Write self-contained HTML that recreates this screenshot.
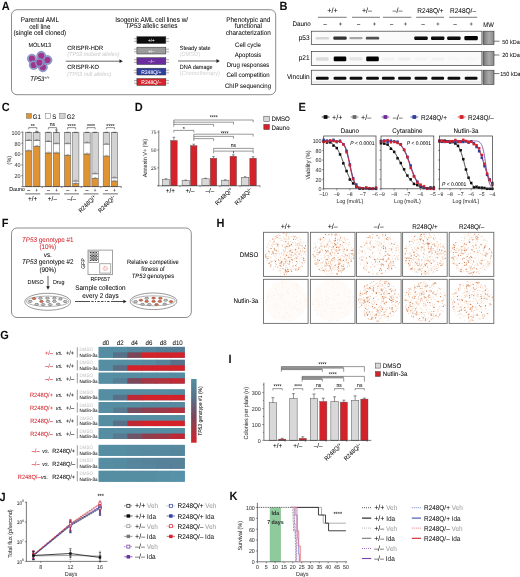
<!DOCTYPE html>
<html><head><meta charset="utf-8"><title>Figure</title>
<style>html,body{margin:0;padding:0;background:#fff;} svg{display:block;}</style>
</head><body>
<svg width="520" height="577" viewBox="0 0 520 577" font-family="Liberation Sans, Arial, Helvetica, sans-serif" text-rendering="geometricPrecision">
<defs>
<filter id="bl" x="-50%" y="-100%" width="200%" height="300%"><feGaussianBlur stdDeviation="0.7 0.5"/></filter>
<filter id="soft" x="0" y="0" width="100%" height="100%" filterUnits="userSpaceOnUse"><feGaussianBlur stdDeviation="0.3"/></filter>
<filter id="bl2" x="-50%" y="-50%" width="200%" height="200%"><feGaussianBlur stdDeviation="0.35"/></filter>
<linearGradient id="cbar" x1="0" y1="0" x2="0" y2="1">
<stop offset="0" stop-color="#558da3"/><stop offset="0.3" stop-color="#597088"/><stop offset="0.6" stop-color="#7b4658"/><stop offset="1" stop-color="#d3222b"/>
</linearGradient>
<linearGradient id="mw" x1="0" y1="0" x2="1" y2="0">
<stop offset="0" stop-color="#6f6f6f"/><stop offset="0.25" stop-color="#8e8e8e"/><stop offset="0.55" stop-color="#ababab"/><stop offset="1" stop-color="#8a8a8a"/>
</linearGradient>
</defs>
<rect width="520" height="577" fill="#fff"/>
<g filter="url(#soft)">
<text font-size="10.8" fill="#111" font-weight="bold" stroke="#111" stroke-width="0.03" transform="translate(1.80 9.60) scale(1.02 1.1)" >A</text>
<rect x="11.50" y="9.70" width="264.20" height="85.00" fill="none" stroke="#6f6f6f" stroke-width="0.8" rx="5.5" />
<text font-size="6.25" text-anchor="middle" stroke="#222" stroke-width="0.03" transform="translate(39.80 22.00) scale(1.02 1.1)" >Parental AML</text>
<text font-size="6.25" text-anchor="middle" stroke="#222" stroke-width="0.03" transform="translate(39.80 28.50) scale(1.02 1.1)" >cell line</text>
<text font-size="6.25" text-anchor="middle" stroke="#222" stroke-width="0.03" transform="translate(39.80 35.10) scale(1.02 1.1)" >(single cell cloned)</text>
<text font-size="5.4" text-anchor="middle" stroke="#222" stroke-width="0.03" transform="translate(39.80 47.20) scale(1.02 1.1)" >MOLM13</text>
<circle cx="41.20" cy="55.80" r="4.50" fill="#93a5da" stroke="#5a6796" stroke-width="0.5" />
<circle cx="41.20" cy="55.80" r="3.10" fill="#a2358a" />
<circle cx="31.90" cy="58.70" r="4.50" fill="#93a5da" stroke="#5a6796" stroke-width="0.5" />
<circle cx="31.90" cy="58.70" r="3.10" fill="#a2358a" />
<circle cx="47.50" cy="60.10" r="4.50" fill="#93a5da" stroke="#5a6796" stroke-width="0.5" />
<circle cx="47.50" cy="60.10" r="3.10" fill="#a2358a" />
<circle cx="33.70" cy="65.00" r="4.50" fill="#93a5da" stroke="#5a6796" stroke-width="0.5" />
<circle cx="33.70" cy="65.00" r="3.10" fill="#a2358a" />
<circle cx="42.90" cy="67.30" r="4.50" fill="#93a5da" stroke="#5a6796" stroke-width="0.5" />
<circle cx="42.90" cy="67.30" r="3.10" fill="#a2358a" />
<circle cx="39.40" cy="62.70" r="4.50" fill="#93a5da" stroke="#5a6796" stroke-width="0.5" />
<circle cx="39.40" cy="62.70" r="3.10" fill="#a2358a" />
<text font-size="5.8" text-anchor="middle" stroke="#222" stroke-width="0.03" transform="translate(40.00 81.30) scale(1.02 1.1)" ><tspan font-style="italic">TP53</tspan><tspan font-size="3.6" dy="-2.3">+/+</tspan></text>
<text font-size="5.6" stroke="#222" stroke-width="0.03" transform="translate(67.20 49.50) scale(1.02 1.1)" >CRISPR-HDR</text>
<text font-size="5.4" fill="#cdcdcd" font-style="italic" stroke="#cdcdcd" stroke-width="0.03" transform="translate(67.20 56.10) scale(1.02 1.1)" >(TP53 mutant alleles)</text>
<text font-size="5.6" stroke="#222" stroke-width="0.03" transform="translate(67.20 69.30) scale(1.02 1.1)" >CRISPR-KO</text>
<text font-size="5.4" fill="#cdcdcd" font-style="italic" stroke="#cdcdcd" stroke-width="0.03" transform="translate(67.20 75.90) scale(1.02 1.1)" >(TP53 null alleles)</text>
<line x1="65.80" y1="61.20" x2="120.50" y2="61.20" stroke="#6a6a6a" stroke-width="1.0" />
<path d="M119.5,59.3 L122.8,61.2 L119.5,63.1 Z" stroke="#222" stroke-width="0" fill="#222" />
<text font-size="6.3" text-anchor="middle" stroke="#222" stroke-width="0.03" transform="translate(151.60 22.00) scale(1.02 1.1)" >Isogenic AML cell lines w/</text>
<text font-size="6.3" text-anchor="middle" stroke="#222" stroke-width="0.03" transform="translate(151.50 28.30) scale(1.02 1.1)" ><tspan font-style="italic">TP53</tspan> allelic series</text>
<line x1="134.00" y1="38.70" x2="137.00" y2="38.70" stroke="#555" stroke-width="0.5" />
<line x1="165.80" y1="38.70" x2="169.00" y2="38.70" stroke="#555" stroke-width="0.5" />
<line x1="134.00" y1="41.30" x2="137.00" y2="41.30" stroke="#555" stroke-width="0.5" />
<line x1="165.80" y1="41.30" x2="169.00" y2="41.30" stroke="#555" stroke-width="0.5" />
<rect x="136.90" y="36.70" width="28.90" height="6.80" fill="#111111" stroke="#333" stroke-width="0.5" />
<text font-size="4.2" text-anchor="middle" fill="#fff" stroke="#fff" stroke-width="0.03" transform="translate(151.30 42.10) scale(1.02 1.1)" >+/+</text>
<line x1="134.00" y1="49.20" x2="137.00" y2="49.20" stroke="#555" stroke-width="0.5" />
<line x1="165.80" y1="49.20" x2="169.00" y2="49.20" stroke="#555" stroke-width="0.5" />
<line x1="134.00" y1="51.80" x2="137.00" y2="51.80" stroke="#555" stroke-width="0.5" />
<line x1="165.80" y1="51.80" x2="169.00" y2="51.80" stroke="#555" stroke-width="0.5" />
<rect x="136.90" y="47.20" width="28.90" height="6.80" fill="#9b9b9b" stroke="#333" stroke-width="0.5" />
<text font-size="4.2" text-anchor="middle" fill="#fff" stroke="#fff" stroke-width="0.03" transform="translate(151.30 52.60) scale(1.02 1.1)" >+/–</text>
<line x1="134.00" y1="59.70" x2="137.00" y2="59.70" stroke="#555" stroke-width="0.5" />
<line x1="165.80" y1="59.70" x2="169.00" y2="59.70" stroke="#555" stroke-width="0.5" />
<line x1="134.00" y1="62.30" x2="137.00" y2="62.30" stroke="#555" stroke-width="0.5" />
<line x1="165.80" y1="62.30" x2="169.00" y2="62.30" stroke="#555" stroke-width="0.5" />
<rect x="136.90" y="57.70" width="28.90" height="6.80" fill="#6a2d9c" stroke="#333" stroke-width="0.5" />
<text font-size="4.2" text-anchor="middle" fill="#fff" stroke="#fff" stroke-width="0.03" transform="translate(151.30 63.10) scale(1.02 1.1)" >–/–</text>
<line x1="134.00" y1="70.20" x2="137.00" y2="70.20" stroke="#555" stroke-width="0.5" />
<line x1="165.80" y1="70.20" x2="169.00" y2="70.20" stroke="#555" stroke-width="0.5" />
<line x1="134.00" y1="72.80" x2="137.00" y2="72.80" stroke="#555" stroke-width="0.5" />
<line x1="165.80" y1="72.80" x2="169.00" y2="72.80" stroke="#555" stroke-width="0.5" />
<rect x="136.90" y="68.20" width="28.90" height="6.80" fill="#2e3f9e" stroke="#333" stroke-width="0.5" />
<text font-size="4.9" text-anchor="middle" fill="#fff" stroke="#fff" stroke-width="0.03" transform="translate(151.30 73.60) scale(1.02 1.1)" >R248Q/+</text>
<line x1="134.00" y1="80.60" x2="137.00" y2="80.60" stroke="#555" stroke-width="0.5" />
<line x1="165.80" y1="80.60" x2="169.00" y2="80.60" stroke="#555" stroke-width="0.5" />
<line x1="134.00" y1="83.20" x2="137.00" y2="83.20" stroke="#555" stroke-width="0.5" />
<line x1="165.80" y1="83.20" x2="169.00" y2="83.20" stroke="#555" stroke-width="0.5" />
<rect x="136.90" y="78.60" width="28.90" height="6.80" fill="#d6212b" stroke="#333" stroke-width="0.5" />
<text font-size="4.9" text-anchor="middle" fill="#fff" stroke="#fff" stroke-width="0.03" transform="translate(151.30 84.00) scale(1.02 1.1)" >R248Q/–</text>
<line x1="178.00" y1="61.00" x2="217.50" y2="61.00" stroke="#6a6a6a" stroke-width="1.0" />
<path d="M216.5,59.1 L219.8,61.0 L216.5,62.9 Z" stroke="#222" stroke-width="0" fill="#222" />
<text font-size="5.45" stroke="#222" stroke-width="0.03" transform="translate(179.70 49.90) scale(1.02 1.1)" >Steady state</text>
<text font-size="5.45" fill="#d4d4d4" stroke="#d4d4d4" stroke-width="0.03" transform="translate(179.70 55.70) scale(1.02 1.1)" >(DMSO)</text>
<text font-size="5.45" stroke="#222" stroke-width="0.03" transform="translate(179.70 68.70) scale(1.02 1.1)" >DNA damage</text>
<text font-size="5.45" fill="#d4d4d4" stroke="#d4d4d4" stroke-width="0.03" transform="translate(179.70 75.00) scale(1.02 1.1)" >(Chemotherapy)</text>
<text font-size="6.25" text-anchor="middle" stroke="#222" stroke-width="0.03" transform="translate(248.30 21.80) scale(1.02 1.1)" >Phenotypic and</text>
<text font-size="6.25" text-anchor="middle" stroke="#222" stroke-width="0.03" transform="translate(248.30 28.00) scale(1.02 1.1)" >functional</text>
<text font-size="6.25" text-anchor="middle" stroke="#222" stroke-width="0.03" transform="translate(248.30 34.70) scale(1.02 1.1)" >characterization</text>
<text font-size="5.95" text-anchor="middle" stroke="#222" stroke-width="0.03" transform="translate(248.00 46.80) scale(1.02 1.1)" >Cell cycle</text>
<text font-size="5.95" text-anchor="middle" stroke="#222" stroke-width="0.03" transform="translate(248.00 56.70) scale(1.02 1.1)" >Apoptosis</text>
<text font-size="5.95" text-anchor="middle" stroke="#222" stroke-width="0.03" transform="translate(248.00 66.90) scale(1.02 1.1)" >Drug responses</text>
<text font-size="5.95" text-anchor="middle" stroke="#222" stroke-width="0.03" transform="translate(248.00 77.30) scale(1.02 1.1)" >Cell competition</text>
<text font-size="5.95" text-anchor="middle" stroke="#222" stroke-width="0.03" transform="translate(248.00 87.70) scale(1.02 1.1)" >ChIP sequencing</text>
<text font-size="10.8" fill="#111" font-weight="bold" stroke="#111" stroke-width="0.03" transform="translate(279.40 9.60) scale(1.02 1.1)" >B</text>
<text font-size="7.0" text-anchor="middle" stroke="#222" stroke-width="0.03" transform="translate(332.50 12.70) scale(1.02 1.1)" >+/+</text>
<line x1="318.00" y1="17.30" x2="346.70" y2="17.30" stroke="#222" stroke-width="0.6" />
<text font-size="7.0" text-anchor="middle" stroke="#222" stroke-width="0.03" transform="translate(367.00 12.70) scale(1.02 1.1)" >+/–</text>
<line x1="352.00" y1="17.30" x2="380.00" y2="17.30" stroke="#222" stroke-width="0.6" />
<text font-size="7.0" text-anchor="middle" stroke="#222" stroke-width="0.03" transform="translate(397.50 12.70) scale(1.02 1.1)" >–/–</text>
<line x1="383.00" y1="17.30" x2="411.30" y2="17.30" stroke="#222" stroke-width="0.6" />
<text font-size="6.4" text-anchor="middle" stroke="#222" stroke-width="0.03" transform="translate(430.50 12.70) scale(1.02 1.1)" >R248Q/+</text>
<line x1="416.20" y1="17.30" x2="444.00" y2="17.30" stroke="#222" stroke-width="0.6" />
<text font-size="6.4" text-anchor="middle" stroke="#222" stroke-width="0.03" transform="translate(463.00 12.70) scale(1.02 1.1)" >R248Q/–</text>
<line x1="449.00" y1="17.30" x2="477.20" y2="17.30" stroke="#222" stroke-width="0.6" />
<text font-size="6.1" stroke="#222" stroke-width="0.03" transform="translate(292.50 26.30) scale(1.02 1.1)" >Dauno</text>
<text font-size="5.6" text-anchor="middle" stroke="#222" stroke-width="0.03" transform="translate(325.00 26.30) scale(1.02 1.1)" >–</text>
<text font-size="5.6" text-anchor="middle" stroke="#222" stroke-width="0.03" transform="translate(340.50 26.30) scale(1.02 1.1)" >+</text>
<text font-size="5.6" text-anchor="middle" stroke="#222" stroke-width="0.03" transform="translate(358.50 26.30) scale(1.02 1.1)" >–</text>
<text font-size="5.6" text-anchor="middle" stroke="#222" stroke-width="0.03" transform="translate(374.50 26.30) scale(1.02 1.1)" >+</text>
<text font-size="5.6" text-anchor="middle" stroke="#222" stroke-width="0.03" transform="translate(391.50 26.30) scale(1.02 1.1)" >–</text>
<text font-size="5.6" text-anchor="middle" stroke="#222" stroke-width="0.03" transform="translate(405.50 26.30) scale(1.02 1.1)" >+</text>
<text font-size="5.6" text-anchor="middle" stroke="#222" stroke-width="0.03" transform="translate(423.00 26.30) scale(1.02 1.1)" >–</text>
<text font-size="5.6" text-anchor="middle" stroke="#222" stroke-width="0.03" transform="translate(438.00 26.30) scale(1.02 1.1)" >+</text>
<text font-size="5.6" text-anchor="middle" stroke="#222" stroke-width="0.03" transform="translate(455.20 26.30) scale(1.02 1.1)" >–</text>
<text font-size="5.6" text-anchor="middle" stroke="#222" stroke-width="0.03" transform="translate(471.20 26.30) scale(1.02 1.1)" >+</text>
<rect x="311.30" y="31.20" width="170.60" height="13.40" fill="#fafafa" stroke="#3a3a3a" stroke-width="0.7" />
<text font-size="6.4" text-anchor="end" stroke="#222" stroke-width="0.03" transform="translate(309.60 39.70) scale(1.02 1.1)" >p53</text>
<rect x="483.00" y="31.20" width="11.00" height="13.40" fill="url(#mw)" stroke="#3a3a3a" stroke-width="0.6" />
<rect x="311.30" y="51.50" width="170.60" height="13.90" fill="#fafafa" stroke="#3a3a3a" stroke-width="0.7" />
<text font-size="6.4" text-anchor="end" stroke="#222" stroke-width="0.03" transform="translate(309.60 59.90) scale(1.02 1.1)" >p21</text>
<rect x="483.00" y="51.50" width="11.00" height="13.90" fill="url(#mw)" stroke="#3a3a3a" stroke-width="0.6" />
<rect x="311.30" y="70.20" width="170.60" height="14.40" fill="#fafafa" stroke="#3a3a3a" stroke-width="0.7" />
<text font-size="6.4" text-anchor="end" stroke="#222" stroke-width="0.03" transform="translate(309.60 78.70) scale(1.02 1.1)" >Vinculin</text>
<rect x="483.00" y="70.20" width="11.00" height="14.40" fill="url(#mw)" stroke="#3a3a3a" stroke-width="0.6" />
<rect x="312.00" y="81.00" width="169.20" height="2.60" fill="#ececec" filter="url(#bl2)"/>
<rect x="315.60" y="37.00" width="13.40" height="2.40" fill="rgb(214,214,214)" rx="1.2" filter="url(#bl)"/>
<rect x="316.00" y="57.15" width="12.60" height="3.50" fill="rgb(219,219,219)" rx="1.2" filter="url(#bl)"/>
<rect x="315.90" y="76.85" width="12.80" height="2.90" fill="rgb(12,12,12)" rx="1.2" filter="url(#bl)"/>
<rect x="333.30" y="36.60" width="13.40" height="3.20" fill="rgb(50,50,50)" rx="1.2" filter="url(#bl)"/>
<rect x="333.70" y="56.60" width="12.60" height="4.60" fill="rgb(0,0,0)" rx="1.2" filter="url(#bl)"/>
<rect x="333.60" y="76.85" width="12.80" height="2.90" fill="rgb(12,12,12)" rx="1.2" filter="url(#bl)"/>
<rect x="349.30" y="37.10" width="13.40" height="2.20" fill="rgb(165,165,165)" rx="1.2" filter="url(#bl)"/>
<rect x="349.70" y="57.20" width="12.60" height="3.40" fill="rgb(229,229,229)" rx="1.2" filter="url(#bl)"/>
<rect x="349.60" y="76.85" width="12.80" height="2.90" fill="rgb(12,12,12)" rx="1.2" filter="url(#bl)"/>
<rect x="365.80" y="36.80" width="13.40" height="2.80" fill="rgb(81,81,81)" rx="1.2" filter="url(#bl)"/>
<rect x="366.20" y="56.60" width="12.60" height="4.60" fill="rgb(0,0,0)" rx="1.2" filter="url(#bl)"/>
<rect x="366.10" y="76.85" width="12.80" height="2.90" fill="rgb(12,12,12)" rx="1.2" filter="url(#bl)"/>
<rect x="382.00" y="57.40" width="12.60" height="3.00" fill="rgb(242,242,242)" rx="1.2" filter="url(#bl)"/>
<rect x="381.90" y="76.85" width="12.80" height="2.90" fill="rgb(12,12,12)" rx="1.2" filter="url(#bl)"/>
<rect x="398.20" y="57.40" width="12.60" height="3.00" fill="rgb(239,239,239)" rx="1.2" filter="url(#bl)"/>
<rect x="398.10" y="76.85" width="12.80" height="2.90" fill="rgb(12,12,12)" rx="1.2" filter="url(#bl)"/>
<rect x="414.30" y="36.40" width="13.40" height="3.60" fill="rgb(7,7,7)" rx="1.2" filter="url(#bl)"/>
<rect x="414.70" y="57.40" width="12.60" height="3.00" fill="rgb(244,244,244)" rx="1.2" filter="url(#bl)"/>
<rect x="414.60" y="76.85" width="12.80" height="2.90" fill="rgb(12,12,12)" rx="1.2" filter="url(#bl)"/>
<rect x="431.00" y="36.40" width="13.40" height="3.60" fill="rgb(7,7,7)" rx="1.2" filter="url(#bl)"/>
<rect x="431.40" y="57.40" width="12.60" height="3.00" fill="rgb(242,242,242)" rx="1.2" filter="url(#bl)"/>
<rect x="431.30" y="76.85" width="12.80" height="2.90" fill="rgb(12,12,12)" rx="1.2" filter="url(#bl)"/>
<rect x="447.20" y="36.40" width="13.40" height="3.60" fill="rgb(7,7,7)" rx="1.2" filter="url(#bl)"/>
<rect x="447.60" y="57.40" width="12.60" height="3.00" fill="rgb(247,247,247)" rx="1.2" filter="url(#bl)"/>
<rect x="447.50" y="76.85" width="12.80" height="2.90" fill="rgb(12,12,12)" rx="1.2" filter="url(#bl)"/>
<rect x="464.40" y="36.10" width="13.40" height="4.20" fill="rgb(0,0,0)" rx="1.2" filter="url(#bl)"/>
<rect x="464.80" y="57.40" width="12.60" height="3.00" fill="rgb(247,247,247)" rx="1.2" filter="url(#bl)"/>
<rect x="464.70" y="76.85" width="12.80" height="2.90" fill="rgb(12,12,12)" rx="1.2" filter="url(#bl)"/>
<text font-size="5.8" text-anchor="middle" stroke="#222" stroke-width="0.03" transform="translate(488.50 26.90) scale(1.02 1.1)" >MW</text>
<line x1="494.00" y1="41.20" x2="499.50" y2="41.20" stroke="#222" stroke-width="0.6" />
<text font-size="5.4" stroke="#222" stroke-width="0.03" transform="translate(502.30 43.60) scale(1.02 1.1)" >50 kDa</text>
<line x1="494.00" y1="55.00" x2="499.50" y2="55.00" stroke="#222" stroke-width="0.6" />
<text font-size="5.4" stroke="#222" stroke-width="0.03" transform="translate(502.30 57.40) scale(1.02 1.1)" >20 kDa</text>
<line x1="494.00" y1="73.60" x2="499.50" y2="73.60" stroke="#222" stroke-width="0.6" />
<text font-size="5.4" stroke="#222" stroke-width="0.03" transform="translate(500.20 76.00) scale(1.02 1.1)" >150 kDa</text>
<text font-size="10.8" fill="#111" font-weight="bold" stroke="#111" stroke-width="0.03" transform="translate(1.80 110.80) scale(1.02 1.1)" >C</text>
<rect x="26.50" y="113.50" width="5.00" height="4.90" fill="#df9333" stroke="#555" stroke-width="0.4" />
<text font-size="6" stroke="#222" stroke-width="0.03" transform="translate(32.80 118.80) scale(1.02 1.1)" >G1</text>
<rect x="45.40" y="113.50" width="5.00" height="4.90" fill="#fff" stroke="#555" stroke-width="0.4" />
<text font-size="6" stroke="#222" stroke-width="0.03" transform="translate(52.30 118.80) scale(1.02 1.1)" >S</text>
<rect x="59.70" y="113.50" width="5.40" height="4.90" fill="#d3d3d3" stroke="#555" stroke-width="0.4" />
<text font-size="6" stroke="#222" stroke-width="0.03" transform="translate(66.80 118.80) scale(1.02 1.1)" >G2</text>
<line x1="22.80" y1="131.50" x2="22.80" y2="186.60" stroke="#222" stroke-width="0.6" />
<line x1="21.30" y1="186.60" x2="22.80" y2="186.60" stroke="#222" stroke-width="0.5" />
<line x1="21.30" y1="175.74" x2="22.80" y2="175.74" stroke="#222" stroke-width="0.5" />
<text font-size="5.3" text-anchor="end" fill="#333" stroke="#333" stroke-width="0.03" transform="translate(20.40 178.14) scale(1.02 1.1)" >20</text>
<line x1="21.30" y1="164.88" x2="22.80" y2="164.88" stroke="#222" stroke-width="0.5" />
<text font-size="5.3" text-anchor="end" fill="#333" stroke="#333" stroke-width="0.03" transform="translate(20.40 167.28) scale(1.02 1.1)" >40</text>
<line x1="21.30" y1="154.02" x2="22.80" y2="154.02" stroke="#222" stroke-width="0.5" />
<text font-size="5.3" text-anchor="end" fill="#333" stroke="#333" stroke-width="0.03" transform="translate(20.40 156.42) scale(1.02 1.1)" >60</text>
<line x1="21.30" y1="143.16" x2="22.80" y2="143.16" stroke="#222" stroke-width="0.5" />
<text font-size="5.3" text-anchor="end" fill="#333" stroke="#333" stroke-width="0.03" transform="translate(20.40 145.56) scale(1.02 1.1)" >80</text>
<line x1="21.30" y1="132.30" x2="22.80" y2="132.30" stroke="#222" stroke-width="0.5" />
<text font-size="5.3" text-anchor="end" fill="#333" stroke="#333" stroke-width="0.03" transform="translate(20.40 134.70) scale(1.02 1.1)" >100</text>
<text font-size="5.3" text-anchor="middle" fill="#333" stroke="#333" stroke-width="0.03" transform="translate(10.60 160.20) rotate(-90) scale(1.02 1.1)" >(%)</text>
<rect x="25.50" y="150.76" width="6.40" height="35.84" fill="#df9333" />
<rect x="25.50" y="140.44" width="6.40" height="10.32" fill="#fff" />
<rect x="25.50" y="132.30" width="6.40" height="8.15" fill="#d3d3d3" />
<line x1="25.50" y1="150.76" x2="31.90" y2="150.76" stroke="#333" stroke-width="0.6" />
<line x1="25.50" y1="140.44" x2="31.90" y2="140.44" stroke="#333" stroke-width="0.6" />
<rect x="25.50" y="132.30" width="6.40" height="54.30" fill="none" stroke="#666" stroke-width="0.55" />
<line x1="26.70" y1="132.30" x2="30.70" y2="132.30" stroke="#333" stroke-width="0.7" />
<line x1="27.50" y1="149.86" x2="29.90" y2="149.86" stroke="#555" stroke-width="0.4" />
<line x1="27.50" y1="139.54" x2="29.90" y2="139.54" stroke="#555" stroke-width="0.4" />
<rect x="33.60" y="146.42" width="6.40" height="40.18" fill="#df9333" />
<rect x="33.60" y="140.44" width="6.40" height="5.97" fill="#fff" />
<rect x="33.60" y="132.30" width="6.40" height="8.15" fill="#d3d3d3" />
<line x1="33.60" y1="146.42" x2="40.00" y2="146.42" stroke="#333" stroke-width="0.6" />
<line x1="33.60" y1="140.44" x2="40.00" y2="140.44" stroke="#333" stroke-width="0.6" />
<rect x="33.60" y="132.30" width="6.40" height="54.30" fill="none" stroke="#666" stroke-width="0.55" />
<line x1="34.80" y1="132.30" x2="38.80" y2="132.30" stroke="#333" stroke-width="0.7" />
<line x1="35.60" y1="145.52" x2="38.00" y2="145.52" stroke="#555" stroke-width="0.4" />
<line x1="35.60" y1="139.54" x2="38.00" y2="139.54" stroke="#555" stroke-width="0.4" />
<path d="M28.70,129.3 L28.70,127.6 L36.80,127.6 L36.80,129.3" stroke="#222" stroke-width="0.5" fill="none" />
<text font-size="5.2" text-anchor="middle" stroke="#222" stroke-width="0.03" transform="translate(32.75 127.70) scale(1.02 1.1)" >**</text>
<rect x="45.20" y="152.93" width="6.40" height="33.67" fill="#df9333" />
<rect x="45.20" y="141.53" width="6.40" height="11.40" fill="#fff" />
<rect x="45.20" y="132.30" width="6.40" height="9.23" fill="#d3d3d3" />
<line x1="45.20" y1="152.93" x2="51.60" y2="152.93" stroke="#333" stroke-width="0.6" />
<line x1="45.20" y1="141.53" x2="51.60" y2="141.53" stroke="#333" stroke-width="0.6" />
<rect x="45.20" y="132.30" width="6.40" height="54.30" fill="none" stroke="#666" stroke-width="0.55" />
<line x1="46.40" y1="132.30" x2="50.40" y2="132.30" stroke="#333" stroke-width="0.7" />
<line x1="47.20" y1="152.03" x2="49.60" y2="152.03" stroke="#555" stroke-width="0.4" />
<line x1="47.20" y1="140.63" x2="49.60" y2="140.63" stroke="#555" stroke-width="0.4" />
<rect x="53.30" y="152.93" width="6.40" height="33.67" fill="#df9333" />
<rect x="53.30" y="143.70" width="6.40" height="9.23" fill="#fff" />
<rect x="53.30" y="132.30" width="6.40" height="11.40" fill="#d3d3d3" />
<line x1="53.30" y1="152.93" x2="59.70" y2="152.93" stroke="#333" stroke-width="0.6" />
<line x1="53.30" y1="143.70" x2="59.70" y2="143.70" stroke="#333" stroke-width="0.6" />
<rect x="53.30" y="132.30" width="6.40" height="54.30" fill="none" stroke="#666" stroke-width="0.55" />
<line x1="54.50" y1="132.30" x2="58.50" y2="132.30" stroke="#333" stroke-width="0.7" />
<line x1="55.30" y1="152.03" x2="57.70" y2="152.03" stroke="#555" stroke-width="0.4" />
<line x1="55.30" y1="142.80" x2="57.70" y2="142.80" stroke="#555" stroke-width="0.4" />
<path d="M48.40,129.3 L48.40,127.6 L56.50,127.6 L56.50,129.3" stroke="#222" stroke-width="0.5" fill="none" />
<text font-size="5" text-anchor="middle" stroke="#222" stroke-width="0.03" transform="translate(52.45 126.40) scale(1.02 1.1)" >ns</text>
<rect x="64.40" y="155.38" width="6.40" height="31.22" fill="#df9333" />
<rect x="64.40" y="143.70" width="6.40" height="11.67" fill="#fff" />
<rect x="64.40" y="132.30" width="6.40" height="11.40" fill="#d3d3d3" />
<line x1="64.40" y1="155.38" x2="70.80" y2="155.38" stroke="#333" stroke-width="0.6" />
<line x1="64.40" y1="143.70" x2="70.80" y2="143.70" stroke="#333" stroke-width="0.6" />
<rect x="64.40" y="132.30" width="6.40" height="54.30" fill="none" stroke="#666" stroke-width="0.55" />
<line x1="65.60" y1="132.30" x2="69.60" y2="132.30" stroke="#333" stroke-width="0.7" />
<line x1="66.40" y1="154.48" x2="68.80" y2="154.48" stroke="#555" stroke-width="0.4" />
<line x1="66.40" y1="142.80" x2="68.80" y2="142.80" stroke="#555" stroke-width="0.4" />
<rect x="72.50" y="183.61" width="6.40" height="2.99" fill="#df9333" />
<rect x="72.50" y="181.17" width="6.40" height="2.44" fill="#fff" />
<rect x="72.50" y="132.30" width="6.40" height="48.87" fill="#d3d3d3" />
<line x1="72.50" y1="183.61" x2="78.90" y2="183.61" stroke="#333" stroke-width="0.6" />
<line x1="72.50" y1="181.17" x2="78.90" y2="181.17" stroke="#333" stroke-width="0.6" />
<rect x="72.50" y="132.30" width="6.40" height="54.30" fill="none" stroke="#666" stroke-width="0.55" />
<line x1="73.70" y1="132.30" x2="77.70" y2="132.30" stroke="#333" stroke-width="0.7" />
<line x1="74.50" y1="182.71" x2="76.90" y2="182.71" stroke="#555" stroke-width="0.4" />
<line x1="74.50" y1="180.27" x2="76.90" y2="180.27" stroke="#555" stroke-width="0.4" />
<path d="M67.60,129.3 L67.60,127.6 L75.70,127.6 L75.70,129.3" stroke="#222" stroke-width="0.5" fill="none" />
<text font-size="5.2" text-anchor="middle" stroke="#222" stroke-width="0.03" transform="translate(71.65 127.70) scale(1.02 1.1)" >****</text>
<rect x="83.80" y="154.02" width="6.40" height="32.58" fill="#df9333" />
<rect x="83.80" y="142.89" width="6.40" height="11.13" fill="#fff" />
<rect x="83.80" y="132.30" width="6.40" height="10.59" fill="#d3d3d3" />
<line x1="83.80" y1="154.02" x2="90.20" y2="154.02" stroke="#333" stroke-width="0.6" />
<line x1="83.80" y1="142.89" x2="90.20" y2="142.89" stroke="#333" stroke-width="0.6" />
<rect x="83.80" y="132.30" width="6.40" height="54.30" fill="none" stroke="#666" stroke-width="0.55" />
<line x1="85.00" y1="132.30" x2="89.00" y2="132.30" stroke="#333" stroke-width="0.7" />
<line x1="85.80" y1="153.12" x2="88.20" y2="153.12" stroke="#555" stroke-width="0.4" />
<line x1="85.80" y1="141.99" x2="88.20" y2="141.99" stroke="#555" stroke-width="0.4" />
<rect x="91.90" y="178.45" width="6.40" height="8.15" fill="#df9333" />
<rect x="91.90" y="173.84" width="6.40" height="4.62" fill="#fff" />
<rect x="91.90" y="132.30" width="6.40" height="41.54" fill="#d3d3d3" />
<line x1="91.90" y1="178.45" x2="98.30" y2="178.45" stroke="#333" stroke-width="0.6" />
<line x1="91.90" y1="173.84" x2="98.30" y2="173.84" stroke="#333" stroke-width="0.6" />
<rect x="91.90" y="132.30" width="6.40" height="54.30" fill="none" stroke="#666" stroke-width="0.55" />
<line x1="93.10" y1="132.30" x2="97.10" y2="132.30" stroke="#333" stroke-width="0.7" />
<line x1="93.90" y1="177.55" x2="96.30" y2="177.55" stroke="#555" stroke-width="0.4" />
<line x1="93.90" y1="172.94" x2="96.30" y2="172.94" stroke="#555" stroke-width="0.4" />
<path d="M87.00,129.3 L87.00,127.6 L95.10,127.6 L95.10,129.3" stroke="#222" stroke-width="0.5" fill="none" />
<text font-size="5.2" text-anchor="middle" stroke="#222" stroke-width="0.03" transform="translate(91.05 127.70) scale(1.02 1.1)" >****</text>
<rect x="103.20" y="156.19" width="6.40" height="30.41" fill="#df9333" />
<rect x="103.20" y="144.25" width="6.40" height="11.95" fill="#fff" />
<rect x="103.20" y="132.30" width="6.40" height="11.95" fill="#d3d3d3" />
<line x1="103.20" y1="156.19" x2="109.60" y2="156.19" stroke="#333" stroke-width="0.6" />
<line x1="103.20" y1="144.25" x2="109.60" y2="144.25" stroke="#333" stroke-width="0.6" />
<rect x="103.20" y="132.30" width="6.40" height="54.30" fill="none" stroke="#666" stroke-width="0.55" />
<line x1="104.40" y1="132.30" x2="108.40" y2="132.30" stroke="#333" stroke-width="0.7" />
<line x1="105.20" y1="155.29" x2="107.60" y2="155.29" stroke="#555" stroke-width="0.4" />
<line x1="105.20" y1="143.35" x2="107.60" y2="143.35" stroke="#555" stroke-width="0.4" />
<rect x="111.30" y="181.17" width="6.40" height="5.43" fill="#df9333" />
<rect x="111.30" y="177.91" width="6.40" height="3.26" fill="#fff" />
<rect x="111.30" y="132.30" width="6.40" height="45.61" fill="#d3d3d3" />
<line x1="111.30" y1="181.17" x2="117.70" y2="181.17" stroke="#333" stroke-width="0.6" />
<line x1="111.30" y1="177.91" x2="117.70" y2="177.91" stroke="#333" stroke-width="0.6" />
<rect x="111.30" y="132.30" width="6.40" height="54.30" fill="none" stroke="#666" stroke-width="0.55" />
<line x1="112.50" y1="132.30" x2="116.50" y2="132.30" stroke="#333" stroke-width="0.7" />
<line x1="113.30" y1="180.27" x2="115.70" y2="180.27" stroke="#555" stroke-width="0.4" />
<line x1="113.30" y1="177.01" x2="115.70" y2="177.01" stroke="#555" stroke-width="0.4" />
<path d="M106.40,129.3 L106.40,127.6 L114.50,127.6 L114.50,129.3" stroke="#222" stroke-width="0.5" fill="none" />
<text font-size="5.2" text-anchor="middle" stroke="#222" stroke-width="0.03" transform="translate(110.45 127.70) scale(1.02 1.1)" >****</text>
<line x1="22.80" y1="186.60" x2="121.50" y2="186.60" stroke="#222" stroke-width="0.6" />
<line x1="36.80" y1="132.30" x2="36.80" y2="131.21" stroke="#222" stroke-width="0.5" />
<line x1="35.40" y1="131.21" x2="38.20" y2="131.21" stroke="#222" stroke-width="0.55" />
<line x1="56.50" y1="132.30" x2="56.50" y2="129.86" stroke="#222" stroke-width="0.5" />
<line x1="55.10" y1="129.86" x2="57.90" y2="129.86" stroke="#222" stroke-width="0.55" />
<line x1="42.30" y1="186.60" x2="42.30" y2="188.00" stroke="#222" stroke-width="0.5" />
<line x1="61.80" y1="186.60" x2="61.80" y2="188.00" stroke="#222" stroke-width="0.5" />
<line x1="81.30" y1="186.60" x2="81.30" y2="188.00" stroke="#222" stroke-width="0.5" />
<line x1="100.80" y1="186.60" x2="100.80" y2="188.00" stroke="#222" stroke-width="0.5" />
<line x1="121.20" y1="186.60" x2="121.20" y2="188.00" stroke="#222" stroke-width="0.5" />
<text font-size="5.2" stroke="#222" stroke-width="0.03" transform="translate(9.20 191.10) scale(1.02 1.1)" >Dauno</text>
<text font-size="5.2" text-anchor="middle" stroke="#222" stroke-width="0.03" transform="translate(28.70 192.10) scale(1.02 1.1)" >–</text>
<text font-size="5.2" text-anchor="middle" stroke="#222" stroke-width="0.03" transform="translate(36.80 192.10) scale(1.02 1.1)" >+</text>
<rect x="25.20" y="193.20" width="15.00" height="1.30" fill="#8f8f8f" />
<text font-size="5.2" text-anchor="middle" stroke="#222" stroke-width="0.03" transform="translate(48.40 192.10) scale(1.02 1.1)" >–</text>
<text font-size="5.2" text-anchor="middle" stroke="#222" stroke-width="0.03" transform="translate(56.50 192.10) scale(1.02 1.1)" >+</text>
<rect x="44.90" y="193.20" width="15.00" height="1.30" fill="#8f8f8f" />
<text font-size="5.2" text-anchor="middle" stroke="#222" stroke-width="0.03" transform="translate(67.60 192.10) scale(1.02 1.1)" >–</text>
<text font-size="5.2" text-anchor="middle" stroke="#222" stroke-width="0.03" transform="translate(75.70 192.10) scale(1.02 1.1)" >+</text>
<rect x="64.10" y="193.20" width="15.00" height="1.30" fill="#8f8f8f" />
<text font-size="5.2" text-anchor="middle" stroke="#222" stroke-width="0.03" transform="translate(87.00 192.10) scale(1.02 1.1)" >–</text>
<text font-size="5.2" text-anchor="middle" stroke="#222" stroke-width="0.03" transform="translate(95.10 192.10) scale(1.02 1.1)" >+</text>
<rect x="83.50" y="193.20" width="15.00" height="1.30" fill="#8f8f8f" />
<text font-size="5.2" text-anchor="middle" stroke="#222" stroke-width="0.03" transform="translate(106.40 192.10) scale(1.02 1.1)" >–</text>
<text font-size="5.2" text-anchor="middle" stroke="#222" stroke-width="0.03" transform="translate(114.50 192.10) scale(1.02 1.1)" >+</text>
<rect x="102.90" y="193.20" width="15.00" height="1.30" fill="#8f8f8f" />
<text font-size="6.3" text-anchor="middle" stroke="#222" stroke-width="0.03" transform="translate(32.70 201.30) scale(1.02 1.1)" >+/+</text>
<text font-size="6.3" text-anchor="middle" stroke="#222" stroke-width="0.03" transform="translate(52.40 201.30) scale(1.02 1.1)" >+/–</text>
<text font-size="6.3" text-anchor="middle" stroke="#222" stroke-width="0.03" transform="translate(71.60 201.30) scale(1.02 1.1)" >–/–</text>
<text font-size="5.5" stroke="#222" stroke-width="0.03" transform="translate(80.90 213.10) rotate(-45) scale(1.02 1.1)" >R248Q/<tspan font-size="4.40" dy="-1.2">+</tspan></text>
<text font-size="5.5" stroke="#222" stroke-width="0.03" transform="translate(100.50 213.10) rotate(-45) scale(1.02 1.1)" >R248Q/<tspan font-size="4.40" dy="-1.2">–</tspan></text>
<text font-size="10.8" fill="#111" font-weight="bold" stroke="#111" stroke-width="0.03" transform="translate(134.80 110.80) scale(1.02 1.1)" >D</text>
<line x1="158.80" y1="130.30" x2="158.80" y2="185.80" stroke="#222" stroke-width="0.6" />
<line x1="157.30" y1="185.80" x2="158.80" y2="185.80" stroke="#222" stroke-width="0.5" />
<line x1="157.30" y1="167.90" x2="158.80" y2="167.90" stroke="#222" stroke-width="0.5" />
<text font-size="4.7" text-anchor="end" fill="#333" stroke="#333" stroke-width="0.03" transform="translate(156.30 170.00) scale(1.02 1.1)" >25</text>
<line x1="157.30" y1="150.00" x2="158.80" y2="150.00" stroke="#222" stroke-width="0.5" />
<text font-size="4.7" text-anchor="end" fill="#333" stroke="#333" stroke-width="0.03" transform="translate(156.30 152.10) scale(1.02 1.1)" >50</text>
<line x1="157.30" y1="132.10" x2="158.80" y2="132.10" stroke="#222" stroke-width="0.5" />
<text font-size="4.7" text-anchor="end" fill="#333" stroke="#333" stroke-width="0.03" transform="translate(156.30 134.20) scale(1.02 1.1)" >75</text>
<text font-size="5.4" text-anchor="middle" fill="#333" stroke="#333" stroke-width="0.03" transform="translate(147.30 158.00) rotate(-90) scale(1.02 1.1)" >Annexin V+ (%)</text>
<rect x="162.30" y="179.21" width="7.30" height="6.59" fill="#d8d8d8" stroke="#555" stroke-width="0.5" />
<line x1="165.95" y1="179.21" x2="165.95" y2="178.78" stroke="#222" stroke-width="0.4" />
<line x1="164.70" y1="178.78" x2="167.20" y2="178.78" stroke="#222" stroke-width="0.5" />
<rect x="170.60" y="140.48" width="6.60" height="45.32" fill="#d3222b" stroke="#555" stroke-width="0.4" />
<line x1="173.90" y1="140.48" x2="173.90" y2="137.26" stroke="#222" stroke-width="0.5" />
<line x1="172.60" y1="137.26" x2="175.20" y2="137.26" stroke="#222" stroke-width="0.5" />
<rect x="182.10" y="180.50" width="7.30" height="5.30" fill="#d8d8d8" stroke="#555" stroke-width="0.5" />
<line x1="185.75" y1="180.50" x2="185.75" y2="180.07" stroke="#222" stroke-width="0.4" />
<line x1="184.50" y1="180.07" x2="187.00" y2="180.07" stroke="#222" stroke-width="0.5" />
<rect x="190.40" y="145.63" width="6.60" height="40.17" fill="#d3222b" stroke="#555" stroke-width="0.4" />
<line x1="193.70" y1="145.63" x2="193.70" y2="144.20" stroke="#222" stroke-width="0.5" />
<line x1="192.40" y1="144.20" x2="195.00" y2="144.20" stroke="#222" stroke-width="0.5" />
<rect x="201.90" y="178.78" width="7.30" height="7.02" fill="#d8d8d8" stroke="#555" stroke-width="0.5" />
<line x1="205.55" y1="178.78" x2="205.55" y2="178.28" stroke="#222" stroke-width="0.4" />
<line x1="204.30" y1="178.28" x2="206.80" y2="178.28" stroke="#222" stroke-width="0.5" />
<rect x="210.20" y="158.23" width="6.60" height="27.57" fill="#d3222b" stroke="#555" stroke-width="0.4" />
<line x1="213.50" y1="158.23" x2="213.50" y2="156.59" stroke="#222" stroke-width="0.5" />
<line x1="212.20" y1="156.59" x2="214.80" y2="156.59" stroke="#222" stroke-width="0.5" />
<rect x="221.70" y="180.22" width="7.30" height="5.58" fill="#d8d8d8" stroke="#555" stroke-width="0.5" />
<line x1="225.35" y1="180.22" x2="225.35" y2="179.79" stroke="#222" stroke-width="0.4" />
<line x1="224.10" y1="179.79" x2="226.60" y2="179.79" stroke="#222" stroke-width="0.5" />
<rect x="230.00" y="156.23" width="6.60" height="29.57" fill="#d3222b" stroke="#555" stroke-width="0.4" />
<line x1="233.30" y1="156.23" x2="233.30" y2="154.80" stroke="#222" stroke-width="0.5" />
<line x1="232.00" y1="154.80" x2="234.60" y2="154.80" stroke="#222" stroke-width="0.5" />
<rect x="241.50" y="177.28" width="7.30" height="8.52" fill="#d8d8d8" stroke="#555" stroke-width="0.5" />
<line x1="245.15" y1="177.28" x2="245.15" y2="176.78" stroke="#222" stroke-width="0.4" />
<line x1="243.90" y1="176.78" x2="246.40" y2="176.78" stroke="#222" stroke-width="0.5" />
<rect x="249.80" y="158.23" width="6.60" height="27.57" fill="#d3222b" stroke="#555" stroke-width="0.4" />
<line x1="253.10" y1="158.23" x2="253.10" y2="156.80" stroke="#222" stroke-width="0.5" />
<line x1="251.80" y1="156.80" x2="254.40" y2="156.80" stroke="#222" stroke-width="0.5" />
<line x1="157.50" y1="185.80" x2="260.20" y2="185.80" stroke="#222" stroke-width="0.6" />
<line x1="180.00" y1="185.80" x2="180.00" y2="187.20" stroke="#222" stroke-width="0.5" />
<line x1="200.00" y1="185.80" x2="200.00" y2="187.20" stroke="#222" stroke-width="0.5" />
<line x1="220.00" y1="185.80" x2="220.00" y2="187.20" stroke="#222" stroke-width="0.5" />
<line x1="240.00" y1="185.80" x2="240.00" y2="187.20" stroke="#222" stroke-width="0.5" />
<line x1="260.00" y1="185.80" x2="260.00" y2="187.20" stroke="#222" stroke-width="0.5" />
<text font-size="6.2" text-anchor="middle" stroke="#222" stroke-width="0.03" transform="translate(170.30 193.00) scale(1.02 1.1)" >+/+</text>
<text font-size="6.2" text-anchor="middle" stroke="#222" stroke-width="0.03" transform="translate(190.10 193.00) scale(1.02 1.1)" >+/–</text>
<text font-size="6.2" text-anchor="middle" stroke="#222" stroke-width="0.03" transform="translate(209.90 193.00) scale(1.02 1.1)" >–/–</text>
<text font-size="5.5" stroke="#222" stroke-width="0.03" transform="translate(217.50 205.60) rotate(-45) scale(1.02 1.1)" >R248Q/<tspan font-size="4.40" dy="-1.2">+</tspan></text>
<text font-size="5.5" stroke="#222" stroke-width="0.03" transform="translate(237.10 205.60) rotate(-45) scale(1.02 1.1)" >R248Q/<tspan font-size="4.40" dy="-1.2">–</tspan></text>
<path d="M173.80,122.30 L173.80,120.00 L253.20,120.00 L253.20,122.30" stroke="#333" stroke-width="0.5" fill="none" />
<path d="M173.80,124.50 L173.80,122.20 L233.50,122.20 L233.50,124.50" stroke="#333" stroke-width="0.5" fill="none" />
<path d="M173.80,126.70 L173.80,124.40 L213.60,124.40 L213.60,126.70" stroke="#333" stroke-width="0.5" fill="none" />
<text font-size="5" text-anchor="middle" stroke="#222" stroke-width="0.03" transform="translate(213.80 119.40) scale(1.02 1.1)" >****</text>
<path d="M173.80,132.40 L173.80,130.40 L193.80,130.40 L193.80,132.40" stroke="#333" stroke-width="0.5" fill="none" />
<text font-size="5.4" text-anchor="middle" stroke="#222" stroke-width="0.03" transform="translate(183.80 131.10) scale(1.02 1.1)" >*</text>
<path d="M193.80,136.50 L193.80,134.20 L253.20,134.20 L253.20,136.50" stroke="#333" stroke-width="0.5" fill="none" />
<path d="M193.80,138.70 L193.80,136.40 L233.50,136.40 L233.50,138.70" stroke="#333" stroke-width="0.5" fill="none" />
<path d="M193.80,140.90 L193.80,138.60 L213.60,138.60 L213.60,140.90" stroke="#333" stroke-width="0.5" fill="none" />
<text font-size="5" text-anchor="middle" stroke="#222" stroke-width="0.03" transform="translate(224.60 134.70) scale(1.02 1.1)" >****</text>
<path d="M213.60,150.60 L213.60,148.40 L253.20,148.40 L253.20,150.60" stroke="#333" stroke-width="0.5" fill="none" />
<path d="M213.60,153.30 L213.60,151.10 L233.50,151.10 L233.50,153.30" stroke="#333" stroke-width="0.5" fill="none" />
<path d="M233.50,153.30 L233.50,151.10 L253.20,151.10 L253.20,153.30" stroke="#333" stroke-width="0.5" fill="none" />
<text font-size="5" text-anchor="middle" stroke="#222" stroke-width="0.03" transform="translate(233.40 146.80) scale(1.02 1.1)" >ns</text>
<rect x="263.80" y="116.20" width="5.60" height="5.30" fill="#d8d8d8" stroke="#444" stroke-width="0.5" />
<text font-size="6" stroke="#222" stroke-width="0.03" transform="translate(271.50 121.40) scale(1.02 1.1)" >DMSO</text>
<rect x="263.80" y="124.30" width="5.60" height="5.30" fill="#d3222b" stroke="#444" stroke-width="0.5" />
<text font-size="6" stroke="#222" stroke-width="0.03" transform="translate(271.50 129.70) scale(1.02 1.1)" >Dauno</text>
<text font-size="10.8" fill="#111" font-weight="bold" stroke="#111" stroke-width="0.03" transform="translate(298.40 110.60) scale(1.02 1.1)" >E</text>
<line x1="321.70" y1="117.00" x2="329.50" y2="117.00" stroke="#111111" stroke-width="0.8" />
<rect x="323.70" y="115.10" width="3.80" height="3.80" fill="#111111" />
<text font-size="7.0" stroke="#222" stroke-width="0.03" transform="translate(332.00 119.80) scale(1.02 1.1)" >+/+</text>
<line x1="350.60" y1="117.00" x2="358.40" y2="117.00" stroke="#6b6b6b" stroke-width="0.8" />
<rect x="352.60" y="115.10" width="3.80" height="3.80" fill="#6b6b6b" />
<text font-size="7.0" stroke="#222" stroke-width="0.03" transform="translate(361.00 119.80) scale(1.02 1.1)" >+/–</text>
<line x1="381.50" y1="117.00" x2="389.30" y2="117.00" stroke="#6a2d9c" stroke-width="0.8" />
<rect x="383.50" y="115.10" width="3.80" height="3.80" fill="#6a2d9c" />
<text font-size="7.0" stroke="#222" stroke-width="0.03" transform="translate(392.70 119.80) scale(1.02 1.1)" >–/–</text>
<line x1="410.40" y1="117.00" x2="418.20" y2="117.00" stroke="#2e3f9e" stroke-width="0.8" />
<rect x="412.40" y="115.10" width="3.80" height="3.80" fill="#2e3f9e" />
<text font-size="6.3" stroke="#222" stroke-width="0.03" transform="translate(421.00 119.80) scale(1.02 1.1)" >R248Q/+</text>
<line x1="457.70" y1="117.00" x2="465.50" y2="117.00" stroke="#d3222b" stroke-width="0.8" />
<rect x="459.70" y="115.10" width="3.80" height="3.80" fill="#d3222b" />
<text font-size="6.3" stroke="#222" stroke-width="0.03" transform="translate(468.10 119.80) scale(1.02 1.1)" >R248Q/–</text>
<polyline points="323.70,141.23 324.14,141.28 324.57,141.33 325.01,141.38 325.44,141.44 325.88,141.51 326.31,141.58 326.75,141.66 327.19,141.75 327.62,141.85 328.06,141.96 328.49,142.07 328.93,142.20 329.37,142.35 329.80,142.50 330.24,142.67 330.67,142.86 331.11,143.07 331.54,143.29 331.98,143.54 332.42,143.81 332.85,144.11 333.29,144.43 333.72,144.78 334.16,145.15 334.60,145.57 335.03,146.01 335.47,146.49 335.90,147.01 336.34,147.57 336.77,148.18 337.21,148.82 337.65,149.51 338.08,150.24 338.52,151.02 338.95,151.85 339.39,152.72 339.83,153.64 340.26,154.60 340.70,155.60 341.13,156.64 341.57,157.71 342.00,158.82 342.44,159.96 342.88,161.12 343.31,162.29 343.75,163.48 344.18,164.68 344.62,165.88 345.06,167.07 345.49,168.25 345.93,169.41 346.36,170.55 346.80,171.67 347.24,172.75 347.67,173.80 348.11,174.81 348.54,175.78 348.98,176.70 349.41,177.58 349.85,178.42 350.29,179.20 350.72,179.95 351.16,180.65 351.59,181.30 352.03,181.91 352.46,182.48 352.90,183.01 353.34,183.49 353.77,183.95 354.21,184.37 354.64,184.75 355.08,185.11 355.52,185.43 355.95,185.73 356.39,186.01 356.82,186.26 357.26,186.49 357.69,186.70 358.13,186.89 358.57,187.06 359.00,187.22 359.44,187.37 359.87,187.50 360.31,187.62 360.75,187.73 361.18,187.83 361.62,187.92 362.05,188.00 362.49,188.08 362.93,188.14 363.36,188.21 363.80,188.26 364.23,188.31 364.67,188.36 365.10,188.40 365.54,188.44 365.98,188.47 366.41,188.50 366.85,188.53 367.28,188.56 367.72,188.58 368.15,188.60 368.59,188.62 369.03,188.64 369.46,188.65 369.90,188.67 370.33,188.68 370.77,188.69 371.21,188.70 371.64,188.71 372.08,188.72 372.51,188.73 372.95,188.73 373.38,188.74 373.82,188.75 374.26,188.75 374.69,188.76 375.13,188.76 375.56,188.76 376.00,188.77" fill="none" stroke="#111111" stroke-width="0.75"/>
<polyline points="323.70,140.80 324.14,140.80 324.57,140.80 325.01,140.80 325.44,140.80 325.88,140.80 326.31,140.81 326.75,140.81 327.19,140.81 327.62,140.81 328.06,140.81 328.49,140.81 328.93,140.81 329.37,140.82 329.80,140.82 330.24,140.82 330.67,140.83 331.11,140.83 331.54,140.84 331.98,140.85 332.42,140.86 332.85,140.87 333.29,140.88 333.72,140.89 334.16,140.91 334.60,140.93 335.03,140.95 335.47,140.98 335.90,141.02 336.34,141.05 336.77,141.10 337.21,141.16 337.65,141.22 338.08,141.30 338.52,141.39 338.95,141.49 339.39,141.62 339.83,141.77 340.26,141.94 340.70,142.15 341.13,142.38 341.57,142.67 342.00,142.99 342.44,143.37 342.88,143.82 343.31,144.33 343.75,144.93 344.18,145.61 344.62,146.39 345.06,147.28 345.49,148.29 345.93,149.42 346.36,150.68 346.80,152.07 347.24,153.59 347.67,155.23 348.11,156.99 348.54,158.85 348.98,160.79 349.41,162.78 349.85,164.80 350.29,166.82 350.72,168.81 351.16,170.75 351.59,172.61 352.03,174.37 352.46,176.01 352.90,177.53 353.34,178.92 353.77,180.18 354.21,181.31 354.64,182.32 355.08,183.21 355.52,183.99 355.95,184.67 356.39,185.27 356.82,185.78 357.26,186.23 357.69,186.61 358.13,186.93 358.57,187.22 359.00,187.45 359.44,187.66 359.87,187.83 360.31,187.98 360.75,188.11 361.18,188.21 361.62,188.30 362.05,188.38 362.49,188.44 362.93,188.50 363.36,188.55 363.80,188.58 364.23,188.62 364.67,188.65 365.10,188.67 365.54,188.69 365.98,188.71 366.41,188.72 366.85,188.73 367.28,188.74 367.72,188.75 368.15,188.76 368.59,188.77 369.03,188.77 369.46,188.78 369.90,188.78 370.33,188.78 370.77,188.79 371.21,188.79 371.64,188.79 372.08,188.79 372.51,188.79 372.95,188.79 373.38,188.79 373.82,188.80 374.26,188.80 374.69,188.80 375.13,188.80 375.56,188.80 376.00,188.80" fill="none" stroke="#6a2d9c" stroke-width="0.75"/>
<polyline points="323.70,140.80 324.14,140.80 324.57,140.80 325.01,140.80 325.44,140.80 325.88,140.80 326.31,140.80 326.75,140.80 327.19,140.80 327.62,140.81 328.06,140.81 328.49,140.81 328.93,140.81 329.37,140.81 329.80,140.81 330.24,140.82 330.67,140.82 331.11,140.82 331.54,140.83 331.98,140.83 332.42,140.84 332.85,140.84 333.29,140.85 333.72,140.86 334.16,140.87 334.60,140.89 335.03,140.91 335.47,140.93 335.90,140.95 336.34,140.98 336.77,141.02 337.21,141.06 337.65,141.11 338.08,141.16 338.52,141.23 338.95,141.32 339.39,141.42 339.83,141.53 340.26,141.67 340.70,141.84 341.13,142.03 341.57,142.26 342.00,142.53 342.44,142.86 342.88,143.23 343.31,143.67 343.75,144.19 344.18,144.79 344.62,145.48 345.06,146.29 345.49,147.20 345.93,148.25 346.36,149.43 346.80,150.75 347.24,152.21 347.67,153.82 348.11,155.56 348.54,157.42 348.98,159.39 349.41,161.43 349.85,163.53 350.29,165.65 350.72,167.75 351.16,169.81 351.59,171.79 352.03,173.68 352.46,175.45 352.90,177.08 353.34,178.57 353.77,179.92 354.21,181.13 354.64,182.20 355.08,183.14 355.52,183.96 355.95,184.68 356.39,185.30 356.82,185.83 357.26,186.29 357.69,186.67 358.13,187.01 358.57,187.29 359.00,187.52 359.44,187.73 359.87,187.90 360.31,188.04 360.75,188.16 361.18,188.26 361.62,188.35 362.05,188.42 362.49,188.48 362.93,188.53 363.36,188.58 363.80,188.61 364.23,188.64 364.67,188.67 365.10,188.69 365.54,188.71 365.98,188.72 366.41,188.73 366.85,188.75 367.28,188.75 367.72,188.76 368.15,188.77 368.59,188.77 369.03,188.78 369.46,188.78 369.90,188.78 370.33,188.79 370.77,188.79 371.21,188.79 371.64,188.79 372.08,188.79 372.51,188.79 372.95,188.80 373.38,188.80 373.82,188.80 374.26,188.80 374.69,188.80 375.13,188.80 375.56,188.80 376.00,188.80" fill="none" stroke="#2e3f9e" stroke-width="0.75"/>
<polyline points="323.70,140.80 324.14,140.80 324.57,140.80 325.01,140.80 325.44,140.80 325.88,140.80 326.31,140.80 326.75,140.80 327.19,140.81 327.62,140.81 328.06,140.81 328.49,140.81 328.93,140.81 329.37,140.81 329.80,140.82 330.24,140.82 330.67,140.82 331.11,140.83 331.54,140.83 331.98,140.84 332.42,140.85 332.85,140.85 333.29,140.87 333.72,140.88 334.16,140.89 334.60,140.91 335.03,140.93 335.47,140.96 335.90,140.99 336.34,141.02 336.77,141.07 337.21,141.12 337.65,141.18 338.08,141.25 338.52,141.34 338.95,141.44 339.39,141.56 339.83,141.70 340.26,141.87 340.70,142.08 341.13,142.31 341.57,142.59 342.00,142.93 342.44,143.31 342.88,143.77 343.31,144.30 343.75,144.92 344.18,145.64 344.62,146.46 345.06,147.40 345.49,148.47 345.93,149.68 346.36,151.03 346.80,152.52 347.24,154.15 347.67,155.92 348.11,157.81 348.54,159.79 348.98,161.85 349.41,163.95 349.85,166.07 350.29,168.17 350.72,170.21 351.16,172.18 351.59,174.04 352.03,175.78 352.46,177.39 352.90,178.85 353.34,180.17 353.77,181.35 354.21,182.40 354.64,183.31 355.08,184.12 355.52,184.81 355.95,185.41 356.39,185.93 356.82,186.37 357.26,186.74 357.69,187.07 358.13,187.34 358.57,187.57 359.00,187.76 359.44,187.93 359.87,188.07 360.31,188.18 360.75,188.28 361.18,188.37 361.62,188.44 362.05,188.49 362.49,188.54 362.93,188.58 363.36,188.62 363.80,188.65 364.23,188.67 364.67,188.69 365.10,188.71 365.54,188.73 365.98,188.74 366.41,188.75 366.85,188.76 367.28,188.76 367.72,188.77 368.15,188.77 368.59,188.78 369.03,188.78 369.46,188.78 369.90,188.79 370.33,188.79 370.77,188.79 371.21,188.79 371.64,188.79 372.08,188.79 372.51,188.80 372.95,188.80 373.38,188.80 373.82,188.80 374.26,188.80 374.69,188.80 375.13,188.80 375.56,188.80 376.00,188.80" fill="none" stroke="#d3222b" stroke-width="0.75"/>
<rect x="322.45" y="140.41" width="2.50" height="2.50" fill="#111111" />
<rect x="325.72" y="141.29" width="2.50" height="2.50" fill="#111111" />
<rect x="328.99" y="141.06" width="2.50" height="2.50" fill="#111111" />
<rect x="332.26" y="144.37" width="2.50" height="2.50" fill="#111111" />
<rect x="335.52" y="146.84" width="2.50" height="2.50" fill="#111111" />
<rect x="338.79" y="153.18" width="2.50" height="2.50" fill="#111111" />
<rect x="342.06" y="162.11" width="2.50" height="2.50" fill="#111111" />
<rect x="345.33" y="169.85" width="2.50" height="2.50" fill="#111111" />
<rect x="348.60" y="178.28" width="2.50" height="2.50" fill="#111111" />
<rect x="351.87" y="182.16" width="2.50" height="2.50" fill="#111111" />
<rect x="355.14" y="185.79" width="2.50" height="2.50" fill="#111111" />
<rect x="358.41" y="187.17" width="2.50" height="2.50" fill="#111111" />
<rect x="361.68" y="187.08" width="2.50" height="2.50" fill="#111111" />
<rect x="364.94" y="186.45" width="2.50" height="2.50" fill="#111111" />
<rect x="368.21" y="187.55" width="2.50" height="2.50" fill="#111111" />
<rect x="371.48" y="187.55" width="2.50" height="2.50" fill="#111111" />
<rect x="374.75" y="187.21" width="2.50" height="2.50" fill="#111111" />
<rect x="322.45" y="138.59" width="2.50" height="2.50" fill="#2e3f9e" />
<rect x="325.72" y="139.37" width="2.50" height="2.50" fill="#2e3f9e" />
<rect x="328.99" y="139.81" width="2.50" height="2.50" fill="#2e3f9e" />
<rect x="332.26" y="138.59" width="2.50" height="2.50" fill="#2e3f9e" />
<rect x="335.52" y="140.85" width="2.50" height="2.50" fill="#2e3f9e" />
<rect x="338.79" y="139.49" width="2.50" height="2.50" fill="#2e3f9e" />
<rect x="342.06" y="142.93" width="2.50" height="2.50" fill="#2e3f9e" />
<rect x="345.33" y="149.67" width="2.50" height="2.50" fill="#2e3f9e" />
<rect x="348.60" y="163.20" width="2.50" height="2.50" fill="#2e3f9e" />
<rect x="351.87" y="177.05" width="2.50" height="2.50" fill="#2e3f9e" />
<rect x="355.14" y="183.29" width="2.50" height="2.50" fill="#2e3f9e" />
<rect x="358.41" y="187.33" width="2.50" height="2.50" fill="#2e3f9e" />
<rect x="361.68" y="187.09" width="2.50" height="2.50" fill="#2e3f9e" />
<rect x="364.94" y="187.15" width="2.50" height="2.50" fill="#2e3f9e" />
<rect x="368.21" y="187.55" width="2.50" height="2.50" fill="#2e3f9e" />
<rect x="371.48" y="187.43" width="2.50" height="2.50" fill="#2e3f9e" />
<rect x="374.75" y="187.55" width="2.50" height="2.50" fill="#2e3f9e" />
<rect x="322.45" y="140.61" width="2.50" height="2.50" fill="#d3222b" />
<rect x="325.72" y="140.26" width="2.50" height="2.50" fill="#d3222b" />
<rect x="328.99" y="139.14" width="2.50" height="2.50" fill="#d3222b" />
<rect x="332.26" y="139.79" width="2.50" height="2.50" fill="#d3222b" />
<rect x="335.52" y="140.26" width="2.50" height="2.50" fill="#d3222b" />
<rect x="338.79" y="140.33" width="2.50" height="2.50" fill="#d3222b" />
<rect x="342.06" y="143.16" width="2.50" height="2.50" fill="#d3222b" />
<rect x="345.33" y="150.99" width="2.50" height="2.50" fill="#d3222b" />
<rect x="348.60" y="164.11" width="2.50" height="2.50" fill="#d3222b" />
<rect x="351.87" y="177.80" width="2.50" height="2.50" fill="#d3222b" />
<rect x="355.14" y="185.29" width="2.50" height="2.50" fill="#d3222b" />
<rect x="358.41" y="186.57" width="2.50" height="2.50" fill="#d3222b" />
<rect x="361.68" y="187.27" width="2.50" height="2.50" fill="#d3222b" />
<rect x="364.94" y="186.59" width="2.50" height="2.50" fill="#d3222b" />
<rect x="368.21" y="186.98" width="2.50" height="2.50" fill="#d3222b" />
<rect x="371.48" y="187.55" width="2.50" height="2.50" fill="#d3222b" />
<rect x="374.75" y="186.40" width="2.50" height="2.50" fill="#d3222b" />
<rect x="323.70" y="136.00" width="52.30" height="52.80" fill="none" stroke="#333" stroke-width="0.7" />
<text font-size="6.1" text-anchor="middle" stroke="#222" stroke-width="0.03" transform="translate(349.85 133.30) scale(1.02 1.1)" >Dauno</text>
<line x1="322.20" y1="188.80" x2="323.70" y2="188.80" stroke="#222" stroke-width="0.5" />
<text font-size="5.2" text-anchor="end" fill="#333" stroke="#333" stroke-width="0.03" transform="translate(321.50 191.20) scale(1.02 1.1)" >0</text>
<line x1="322.20" y1="179.20" x2="323.70" y2="179.20" stroke="#222" stroke-width="0.5" />
<text font-size="5.2" text-anchor="end" fill="#333" stroke="#333" stroke-width="0.03" transform="translate(321.50 181.60) scale(1.02 1.1)" >20</text>
<line x1="322.20" y1="169.60" x2="323.70" y2="169.60" stroke="#222" stroke-width="0.5" />
<text font-size="5.2" text-anchor="end" fill="#333" stroke="#333" stroke-width="0.03" transform="translate(321.50 172.00) scale(1.02 1.1)" >40</text>
<line x1="322.20" y1="160.00" x2="323.70" y2="160.00" stroke="#222" stroke-width="0.5" />
<text font-size="5.2" text-anchor="end" fill="#333" stroke="#333" stroke-width="0.03" transform="translate(321.50 162.40) scale(1.02 1.1)" >60</text>
<line x1="322.20" y1="150.40" x2="323.70" y2="150.40" stroke="#222" stroke-width="0.5" />
<text font-size="5.2" text-anchor="end" fill="#333" stroke="#333" stroke-width="0.03" transform="translate(321.50 152.80) scale(1.02 1.1)" >80</text>
<line x1="322.20" y1="140.80" x2="323.70" y2="140.80" stroke="#222" stroke-width="0.5" />
<text font-size="5.2" text-anchor="end" fill="#333" stroke="#333" stroke-width="0.03" transform="translate(321.50 143.20) scale(1.02 1.1)" >100</text>
<line x1="323.70" y1="188.80" x2="323.70" y2="190.30" stroke="#222" stroke-width="0.5" />
<text font-size="5.0" text-anchor="middle" fill="#333" stroke="#333" stroke-width="0.03" transform="translate(323.70 195.80) scale(1.02 1.1)" >–10</text>
<line x1="336.77" y1="188.80" x2="336.77" y2="190.30" stroke="#222" stroke-width="0.5" />
<text font-size="5.0" text-anchor="middle" fill="#333" stroke="#333" stroke-width="0.03" transform="translate(336.77 195.80) scale(1.02 1.1)" >–9</text>
<line x1="349.85" y1="188.80" x2="349.85" y2="190.30" stroke="#222" stroke-width="0.5" />
<text font-size="5.0" text-anchor="middle" fill="#333" stroke="#333" stroke-width="0.03" transform="translate(349.85 195.80) scale(1.02 1.1)" >–8</text>
<line x1="362.93" y1="188.80" x2="362.93" y2="190.30" stroke="#222" stroke-width="0.5" />
<text font-size="5.0" text-anchor="middle" fill="#333" stroke="#333" stroke-width="0.03" transform="translate(362.93 195.80) scale(1.02 1.1)" >–7</text>
<line x1="376.00" y1="188.80" x2="376.00" y2="190.30" stroke="#222" stroke-width="0.5" />
<text font-size="5.0" text-anchor="middle" fill="#333" stroke="#333" stroke-width="0.03" transform="translate(375.10 195.80) scale(1.02 1.1)" >–6</text>
<text font-size="5.2" text-anchor="middle" fill="#333" stroke="#333" stroke-width="0.03" transform="translate(349.85 203.40) scale(1.02 1.1)" >Log (mol/L)</text>
<polyline points="381.00,142.36 381.44,142.48 381.88,142.60 382.32,142.73 382.76,142.87 383.20,143.02 383.64,143.18 384.08,143.35 384.52,143.53 384.96,143.73 385.40,143.93 385.84,144.15 386.28,144.39 386.72,144.64 387.16,144.90 387.60,145.19 388.04,145.49 388.48,145.80 388.92,146.14 389.36,146.50 389.80,146.87 390.24,147.27 390.68,147.69 391.12,148.13 391.56,148.59 392.00,149.08 392.44,149.59 392.88,150.13 393.32,150.69 393.76,151.28 394.20,151.88 394.64,152.52 395.08,153.18 395.52,153.86 395.96,154.56 396.40,155.29 396.84,156.04 397.28,156.80 397.72,157.59 398.16,158.40 398.60,159.22 399.04,160.05 399.48,160.90 399.92,161.75 400.36,162.62 400.80,163.49 401.24,164.36 401.68,165.24 402.12,166.11 402.56,166.98 403.00,167.85 403.44,168.70 403.88,169.55 404.32,170.38 404.76,171.20 405.20,172.01 405.64,172.80 406.08,173.56 406.52,174.31 406.96,175.04 407.40,175.74 407.84,176.42 408.28,177.08 408.72,177.72 409.16,178.32 409.60,178.91 410.04,179.47 410.48,180.01 410.92,180.52 411.36,181.01 411.80,181.47 412.24,181.91 412.68,182.33 413.12,182.73 413.56,183.10 414.00,183.46 414.44,183.80 414.88,184.11 415.32,184.41 415.76,184.70 416.20,184.96 416.64,185.21 417.08,185.45 417.52,185.67 417.96,185.87 418.40,186.07 418.84,186.25 419.28,186.42 419.72,186.58 420.16,186.73 420.60,186.87 421.04,187.00 421.48,187.12 421.92,187.24 422.36,187.34 422.80,187.44 423.24,187.53 423.68,187.62 424.12,187.70 424.56,187.78 425.00,187.85 425.44,187.91 425.88,187.98 426.32,188.03 426.76,188.09 427.20,188.14 427.64,188.18 428.08,188.22 428.52,188.26 428.96,188.30 429.40,188.34 429.84,188.37 430.28,188.40 430.72,188.43 431.16,188.45 431.60,188.48 432.04,188.50 432.48,188.52 432.92,188.54 433.36,188.56 433.80,188.58" fill="none" stroke="#111111" stroke-width="0.75"/>
<polyline points="381.00,140.84 381.44,140.84 381.88,140.85 382.32,140.86 382.76,140.86 383.20,140.87 383.64,140.88 384.08,140.88 384.52,140.89 384.96,140.90 385.40,140.92 385.84,140.93 386.28,140.94 386.72,140.96 387.16,140.98 387.60,141.00 388.04,141.02 388.48,141.05 388.92,141.07 389.36,141.11 389.80,141.14 390.24,141.18 390.68,141.22 391.12,141.27 391.56,141.32 392.00,141.38 392.44,141.44 392.88,141.52 393.32,141.60 393.76,141.68 394.20,141.78 394.64,141.89 395.08,142.01 395.52,142.15 395.96,142.29 396.40,142.46 396.84,142.64 397.28,142.84 397.72,143.06 398.16,143.30 398.60,143.57 399.04,143.86 399.48,144.18 399.92,144.54 400.36,144.93 400.80,145.35 401.24,145.81 401.68,146.32 402.12,146.86 402.56,147.45 403.00,148.09 403.44,148.78 403.88,149.53 404.32,150.32 404.76,151.17 405.20,152.07 405.64,153.02 406.08,154.02 406.52,155.08 406.96,156.18 407.40,157.32 407.84,158.50 408.28,159.72 408.72,160.96 409.16,162.23 409.60,163.51 410.04,164.80 410.48,166.09 410.92,167.37 411.36,168.64 411.80,169.88 412.24,171.10 412.68,172.28 413.12,173.42 413.56,174.52 414.00,175.58 414.44,176.58 414.88,177.53 415.32,178.43 415.76,179.28 416.20,180.07 416.64,180.82 417.08,181.51 417.52,182.15 417.96,182.74 418.40,183.28 418.84,183.79 419.28,184.25 419.72,184.67 420.16,185.06 420.60,185.42 421.04,185.74 421.48,186.03 421.92,186.30 422.36,186.54 422.80,186.76 423.24,186.96 423.68,187.14 424.12,187.31 424.56,187.45 425.00,187.59 425.44,187.71 425.88,187.82 426.32,187.92 426.76,188.00 427.20,188.08 427.64,188.16 428.08,188.22 428.52,188.28 428.96,188.33 429.40,188.38 429.84,188.42 430.28,188.46 430.72,188.49 431.16,188.53 431.60,188.55 432.04,188.58 432.48,188.60 432.92,188.62 433.36,188.64 433.80,188.66" fill="none" stroke="#6a2d9c" stroke-width="0.75"/>
<polyline points="381.00,140.84 381.44,140.84 381.88,140.85 382.32,140.85 382.76,140.86 383.20,140.86 383.64,140.87 384.08,140.88 384.52,140.89 384.96,140.90 385.40,140.91 385.84,140.92 386.28,140.94 386.72,140.95 387.16,140.97 387.60,140.99 388.04,141.01 388.48,141.03 388.92,141.06 389.36,141.09 389.80,141.12 390.24,141.15 390.68,141.19 391.12,141.24 391.56,141.29 392.00,141.34 392.44,141.40 392.88,141.47 393.32,141.55 393.76,141.63 394.20,141.72 394.64,141.82 395.08,141.94 395.52,142.06 395.96,142.20 396.40,142.36 396.84,142.53 397.28,142.72 397.72,142.92 398.16,143.15 398.60,143.40 399.04,143.68 399.48,143.99 399.92,144.32 400.36,144.69 400.80,145.09 401.24,145.53 401.68,146.01 402.12,146.53 402.56,147.09 403.00,147.70 403.44,148.36 403.88,149.07 404.32,149.84 404.76,150.65 405.20,151.52 405.64,152.44 406.08,153.41 406.52,154.44 406.96,155.51 407.40,156.63 407.84,157.79 408.28,158.99 408.72,160.22 409.16,161.47 409.60,162.74 410.04,164.03 410.48,165.32 410.92,166.60 411.36,167.88 411.80,169.14 412.24,170.37 412.68,171.57 413.12,172.74 413.56,173.87 414.00,174.95 414.44,175.99 414.88,176.97 415.32,177.90 415.76,178.78 416.20,179.60 416.64,180.38 417.08,181.10 417.52,181.77 417.96,182.39 418.40,182.96 418.84,183.49 419.28,183.98 419.72,184.42 420.16,184.83 420.60,185.21 421.04,185.55 421.48,185.86 421.92,186.14 422.36,186.40 422.80,186.63 423.24,186.84 423.68,187.04 424.12,187.21 424.56,187.37 425.00,187.51 425.44,187.64 425.88,187.75 426.32,187.86 426.76,187.95 427.20,188.04 427.64,188.11 428.08,188.18 428.52,188.25 428.96,188.30 429.40,188.35 429.84,188.40 430.28,188.44 430.72,188.47 431.16,188.51 431.60,188.54 432.04,188.56 432.48,188.59 432.92,188.61 433.36,188.63 433.80,188.65" fill="none" stroke="#2e3f9e" stroke-width="0.75"/>
<polyline points="381.00,140.84 381.44,140.85 381.88,140.85 382.32,140.86 382.76,140.87 383.20,140.87 383.64,140.88 384.08,140.89 384.52,140.90 384.96,140.91 385.40,140.92 385.84,140.94 386.28,140.95 386.72,140.97 387.16,140.99 387.60,141.01 388.04,141.04 388.48,141.06 388.92,141.09 389.36,141.13 389.80,141.16 390.24,141.20 390.68,141.25 391.12,141.30 391.56,141.35 392.00,141.42 392.44,141.49 392.88,141.56 393.32,141.65 393.76,141.74 394.20,141.85 394.64,141.96 395.08,142.09 395.52,142.23 395.96,142.39 396.40,142.56 396.84,142.76 397.28,142.97 397.72,143.20 398.16,143.46 398.60,143.74 399.04,144.05 399.48,144.39 399.92,144.77 400.36,145.18 400.80,145.62 401.24,146.11 401.68,146.64 402.12,147.21 402.56,147.83 403.00,148.50 403.44,149.22 403.88,150.00 404.32,150.82 404.76,151.70 405.20,152.63 405.64,153.61 406.08,154.65 406.52,155.73 406.96,156.86 407.40,158.03 407.84,159.23 408.28,160.46 408.72,161.72 409.16,163.00 409.60,164.28 410.04,165.57 410.48,166.86 410.92,168.13 411.36,169.38 411.80,170.61 412.24,171.81 412.68,172.97 413.12,174.09 413.56,175.16 414.00,176.19 414.44,177.16 414.88,178.08 415.32,178.95 415.76,179.76 416.20,180.53 416.64,181.24 417.08,181.90 417.52,182.51 417.96,183.07 418.40,183.59 418.84,184.07 419.28,184.51 419.72,184.91 420.16,185.28 420.60,185.61 421.04,185.92 421.48,186.20 421.92,186.45 422.36,186.68 422.80,186.88 423.24,187.07 423.68,187.24 424.12,187.40 424.56,187.54 425.00,187.66 425.44,187.78 425.88,187.88 426.32,187.97 426.76,188.05 427.20,188.13 427.64,188.20 428.08,188.26 428.52,188.31 428.96,188.36 429.40,188.41 429.84,188.45 430.28,188.48 430.72,188.51 431.16,188.54 431.60,188.57 432.04,188.59 432.48,188.61 432.92,188.63 433.36,188.65 433.80,188.66" fill="none" stroke="#d3222b" stroke-width="0.75"/>
<rect x="379.75" y="142.03" width="2.50" height="2.50" fill="#111111" />
<rect x="383.05" y="142.39" width="2.50" height="2.50" fill="#111111" />
<rect x="386.35" y="143.32" width="2.50" height="2.50" fill="#111111" />
<rect x="389.65" y="147.49" width="2.50" height="2.50" fill="#111111" />
<rect x="392.95" y="150.66" width="2.50" height="2.50" fill="#111111" />
<rect x="396.25" y="157.05" width="2.50" height="2.50" fill="#111111" />
<rect x="399.55" y="161.84" width="2.50" height="2.50" fill="#111111" />
<rect x="402.85" y="168.08" width="2.50" height="2.50" fill="#111111" />
<rect x="406.15" y="174.32" width="2.50" height="2.50" fill="#111111" />
<rect x="409.45" y="178.11" width="2.50" height="2.50" fill="#111111" />
<rect x="412.75" y="182.66" width="2.50" height="2.50" fill="#111111" />
<rect x="416.05" y="183.84" width="2.50" height="2.50" fill="#111111" />
<rect x="419.35" y="185.39" width="2.50" height="2.50" fill="#111111" />
<rect x="422.65" y="186.22" width="2.50" height="2.50" fill="#111111" />
<rect x="425.95" y="186.99" width="2.50" height="2.50" fill="#111111" />
<rect x="429.25" y="186.35" width="2.50" height="2.50" fill="#111111" />
<rect x="432.55" y="186.26" width="2.50" height="2.50" fill="#111111" />
<rect x="379.75" y="139.65" width="2.50" height="2.50" fill="#2e3f9e" />
<rect x="383.05" y="139.24" width="2.50" height="2.50" fill="#2e3f9e" />
<rect x="386.35" y="140.79" width="2.50" height="2.50" fill="#2e3f9e" />
<rect x="389.65" y="139.48" width="2.50" height="2.50" fill="#2e3f9e" />
<rect x="392.95" y="140.12" width="2.50" height="2.50" fill="#2e3f9e" />
<rect x="396.25" y="140.38" width="2.50" height="2.50" fill="#2e3f9e" />
<rect x="399.55" y="143.07" width="2.50" height="2.50" fill="#2e3f9e" />
<rect x="402.85" y="148.72" width="2.50" height="2.50" fill="#2e3f9e" />
<rect x="406.15" y="155.65" width="2.50" height="2.50" fill="#2e3f9e" />
<rect x="409.45" y="164.30" width="2.50" height="2.50" fill="#2e3f9e" />
<rect x="412.75" y="174.85" width="2.50" height="2.50" fill="#2e3f9e" />
<rect x="416.05" y="180.28" width="2.50" height="2.50" fill="#2e3f9e" />
<rect x="419.35" y="184.75" width="2.50" height="2.50" fill="#2e3f9e" />
<rect x="422.65" y="186.79" width="2.50" height="2.50" fill="#2e3f9e" />
<rect x="425.95" y="187.55" width="2.50" height="2.50" fill="#2e3f9e" />
<rect x="429.25" y="186.56" width="2.50" height="2.50" fill="#2e3f9e" />
<rect x="432.55" y="187.55" width="2.50" height="2.50" fill="#2e3f9e" />
<rect x="379.75" y="140.20" width="2.50" height="2.50" fill="#d3222b" />
<rect x="383.05" y="139.91" width="2.50" height="2.50" fill="#d3222b" />
<rect x="386.35" y="138.87" width="2.50" height="2.50" fill="#d3222b" />
<rect x="389.65" y="141.03" width="2.50" height="2.50" fill="#d3222b" />
<rect x="392.95" y="140.72" width="2.50" height="2.50" fill="#d3222b" />
<rect x="396.25" y="141.71" width="2.50" height="2.50" fill="#d3222b" />
<rect x="399.55" y="143.45" width="2.50" height="2.50" fill="#d3222b" />
<rect x="402.85" y="148.38" width="2.50" height="2.50" fill="#d3222b" />
<rect x="406.15" y="155.90" width="2.50" height="2.50" fill="#d3222b" />
<rect x="409.45" y="166.78" width="2.50" height="2.50" fill="#d3222b" />
<rect x="412.75" y="175.14" width="2.50" height="2.50" fill="#d3222b" />
<rect x="416.05" y="181.30" width="2.50" height="2.50" fill="#d3222b" />
<rect x="419.35" y="183.44" width="2.50" height="2.50" fill="#d3222b" />
<rect x="422.65" y="184.97" width="2.50" height="2.50" fill="#d3222b" />
<rect x="425.95" y="187.55" width="2.50" height="2.50" fill="#d3222b" />
<rect x="429.25" y="187.55" width="2.50" height="2.50" fill="#d3222b" />
<rect x="432.55" y="187.55" width="2.50" height="2.50" fill="#d3222b" />
<rect x="381.00" y="136.00" width="52.80" height="52.80" fill="none" stroke="#333" stroke-width="0.7" />
<text font-size="6.1" text-anchor="middle" stroke="#222" stroke-width="0.03" transform="translate(407.40 133.30) scale(1.02 1.1)" >Cytarabine</text>
<line x1="379.50" y1="188.80" x2="381.00" y2="188.80" stroke="#222" stroke-width="0.5" />
<line x1="379.50" y1="179.20" x2="381.00" y2="179.20" stroke="#222" stroke-width="0.5" />
<line x1="379.50" y1="169.60" x2="381.00" y2="169.60" stroke="#222" stroke-width="0.5" />
<line x1="379.50" y1="160.00" x2="381.00" y2="160.00" stroke="#222" stroke-width="0.5" />
<line x1="379.50" y1="150.40" x2="381.00" y2="150.40" stroke="#222" stroke-width="0.5" />
<line x1="379.50" y1="140.80" x2="381.00" y2="140.80" stroke="#222" stroke-width="0.5" />
<line x1="381.00" y1="188.80" x2="381.00" y2="190.30" stroke="#222" stroke-width="0.5" />
<text font-size="5.0" text-anchor="middle" fill="#333" stroke="#333" stroke-width="0.03" transform="translate(381.90 195.80) scale(1.02 1.1)" >–9</text>
<line x1="394.20" y1="188.80" x2="394.20" y2="190.30" stroke="#222" stroke-width="0.5" />
<text font-size="5.0" text-anchor="middle" fill="#333" stroke="#333" stroke-width="0.03" transform="translate(394.20 195.80) scale(1.02 1.1)" >–8</text>
<line x1="407.40" y1="188.80" x2="407.40" y2="190.30" stroke="#222" stroke-width="0.5" />
<text font-size="5.0" text-anchor="middle" fill="#333" stroke="#333" stroke-width="0.03" transform="translate(407.40 195.80) scale(1.02 1.1)" >–7</text>
<line x1="420.60" y1="188.80" x2="420.60" y2="190.30" stroke="#222" stroke-width="0.5" />
<text font-size="5.0" text-anchor="middle" fill="#333" stroke="#333" stroke-width="0.03" transform="translate(420.60 195.80) scale(1.02 1.1)" >–6</text>
<line x1="433.80" y1="188.80" x2="433.80" y2="190.30" stroke="#222" stroke-width="0.5" />
<text font-size="5.0" text-anchor="middle" fill="#333" stroke="#333" stroke-width="0.03" transform="translate(432.90 195.80) scale(1.02 1.1)" >–5</text>
<text font-size="5.2" text-anchor="middle" fill="#333" stroke="#333" stroke-width="0.03" transform="translate(407.40 203.40) scale(1.02 1.1)" >Log (mol/L)</text>
<polyline points="439.50,140.82 439.94,140.82 440.38,140.82 440.82,140.83 441.26,140.83 441.70,140.83 442.14,140.84 442.59,140.84 443.03,140.85 443.47,140.86 443.91,140.87 444.35,140.88 444.79,140.89 445.23,140.90 445.67,140.92 446.11,140.94 446.55,140.96 446.99,140.98 447.44,141.01 447.88,141.04 448.32,141.07 448.76,141.11 449.20,141.16 449.64,141.21 450.08,141.27 450.52,141.34 450.96,141.42 451.40,141.52 451.84,141.62 452.28,141.74 452.73,141.88 453.17,142.04 453.61,142.21 454.05,142.42 454.49,142.65 454.93,142.91 455.37,143.21 455.81,143.55 456.25,143.94 456.69,144.37 457.13,144.86 457.57,145.41 458.01,146.02 458.46,146.70 458.90,147.46 459.34,148.30 459.78,149.23 460.22,150.24 460.66,151.33 461.10,152.52 461.54,153.80 461.98,155.16 462.42,156.60 462.86,158.10 463.31,159.67 463.75,161.29 464.19,162.93 464.63,164.60 465.07,166.27 465.51,167.92 465.95,169.54 466.39,171.12 466.83,172.65 467.27,174.10 467.71,175.48 468.15,176.78 468.59,177.99 469.04,179.11 469.48,180.14 469.92,181.08 470.36,181.94 470.80,182.72 471.24,183.42 471.68,184.05 472.12,184.61 472.56,185.12 473.00,185.56 473.44,185.96 473.88,186.31 474.33,186.62 474.77,186.89 475.21,187.13 475.65,187.34 476.09,187.52 476.53,187.69 476.97,187.83 477.41,187.95 477.85,188.06 478.29,188.15 478.73,188.24 479.17,188.31 479.62,188.37 480.06,188.43 480.50,188.48 480.94,188.52 481.38,188.55 481.82,188.59 482.26,188.61 482.70,188.64 483.14,188.66 483.58,188.68 484.02,188.69 484.46,188.71 484.91,188.72 485.35,188.73 485.79,188.74 486.23,188.75 486.67,188.75 487.11,188.76 487.55,188.76 487.99,188.77 488.43,188.77 488.87,188.78 489.31,188.78 489.75,188.78 490.20,188.78 490.64,188.79 491.08,188.79 491.52,188.79 491.96,188.79 492.40,188.79" fill="none" stroke="#111111" stroke-width="0.75"/>
<polyline points="439.50,140.80 439.94,140.80 440.38,140.80 440.82,140.80 441.26,140.80 441.70,140.80 442.14,140.80 442.59,140.80 443.03,140.80 443.47,140.80 443.91,140.80 444.35,140.80 444.79,140.80 445.23,140.80 445.67,140.80 446.11,140.80 446.55,140.80 446.99,140.80 447.44,140.80 447.88,140.80 448.32,140.80 448.76,140.80 449.20,140.80 449.64,140.80 450.08,140.80 450.52,140.80 450.96,140.80 451.40,140.80 451.84,140.80 452.28,140.80 452.73,140.80 453.17,140.80 453.61,140.80 454.05,140.80 454.49,140.80 454.93,140.80 455.37,140.80 455.81,140.80 456.25,140.80 456.69,140.80 457.13,140.80 457.57,140.80 458.01,140.80 458.46,140.80 458.90,140.80 459.34,140.80 459.78,140.80 460.22,140.80 460.66,140.80 461.10,140.80 461.54,140.80 461.98,140.80 462.42,140.80 462.86,140.80 463.31,140.80 463.75,140.80 464.19,140.80 464.63,140.80 465.07,140.80 465.51,140.80 465.95,140.80 466.39,140.80 466.83,140.80 467.27,140.80 467.71,140.80 468.15,140.80 468.59,140.80 469.04,140.80 469.48,140.80 469.92,140.81 470.36,140.81 470.80,140.81 471.24,140.81 471.68,140.82 472.12,140.82 472.56,140.83 473.00,140.83 473.44,140.84 473.88,140.86 474.33,140.87 474.77,140.89 475.21,140.92 475.65,140.95 476.09,140.99 476.53,141.05 476.97,141.12 477.41,141.20 477.85,141.32 478.29,141.46 478.73,141.65 479.17,141.88 479.62,142.18 480.06,142.55 480.50,143.03 480.94,143.62 481.38,144.36 481.82,145.27 482.26,146.39 482.70,147.75 483.14,149.37 483.58,151.27 484.02,153.45 484.46,155.91 484.91,158.60 485.35,161.47 485.79,164.44 486.23,167.42 486.67,170.33 487.11,173.07 487.55,175.59 487.99,177.84 488.43,179.80 488.87,181.49 489.31,182.90 489.75,184.08 490.20,185.04 490.64,185.82 491.08,186.44 491.52,186.94 491.96,187.34 492.40,187.66" fill="none" stroke="#6a2d9c" stroke-width="0.75"/>
<polyline points="439.50,140.80 439.94,140.80 440.38,140.80 440.82,140.80 441.26,140.80 441.70,140.80 442.14,140.80 442.59,140.80 443.03,140.80 443.47,140.80 443.91,140.80 444.35,140.80 444.79,140.80 445.23,140.80 445.67,140.80 446.11,140.80 446.55,140.80 446.99,140.80 447.44,140.80 447.88,140.80 448.32,140.80 448.76,140.80 449.20,140.80 449.64,140.80 450.08,140.80 450.52,140.81 450.96,140.81 451.40,140.81 451.84,140.81 452.28,140.81 452.73,140.81 453.17,140.81 453.61,140.81 454.05,140.81 454.49,140.82 454.93,140.82 455.37,140.82 455.81,140.82 456.25,140.82 456.69,140.83 457.13,140.83 457.57,140.83 458.01,140.84 458.46,140.84 458.90,140.85 459.34,140.86 459.78,140.86 460.22,140.87 460.66,140.88 461.10,140.89 461.54,140.90 461.98,140.92 462.42,140.93 462.86,140.95 463.31,140.96 463.75,140.99 464.19,141.01 464.63,141.04 465.07,141.07 465.51,141.10 465.95,141.14 466.39,141.18 466.83,141.23 467.27,141.28 467.71,141.34 468.15,141.41 468.59,141.49 469.04,141.57 469.48,141.67 469.92,141.78 470.36,141.90 470.80,142.04 471.24,142.19 471.68,142.36 472.12,142.55 472.56,142.77 473.00,143.01 473.44,143.28 473.88,143.57 474.33,143.90 474.77,144.27 475.21,144.68 475.65,145.13 476.09,145.62 476.53,146.17 476.97,146.77 477.41,147.42 477.85,148.14 478.29,148.91 478.73,149.75 479.17,150.66 479.62,151.63 480.06,152.67 480.50,153.78 480.94,154.94 481.38,156.17 481.82,157.45 482.26,158.77 482.70,160.14 483.14,161.54 483.58,162.96 484.02,164.40 484.46,165.84 484.91,167.27 485.35,168.68 485.79,170.07 486.23,171.42 486.67,172.72 487.11,173.98 487.55,175.18 487.99,176.32 488.43,177.39 488.87,178.40 489.31,179.35 489.75,180.22 490.20,181.04 490.64,181.79 491.08,182.47 491.52,183.10 491.96,183.68 492.40,184.20" fill="none" stroke="#2e3f9e" stroke-width="0.75"/>
<polyline points="439.50,140.80 439.94,140.80 440.38,140.80 440.82,140.80 441.26,140.80 441.70,140.80 442.14,140.80 442.59,140.80 443.03,140.80 443.47,140.80 443.91,140.80 444.35,140.80 444.79,140.80 445.23,140.80 445.67,140.80 446.11,140.80 446.55,140.80 446.99,140.80 447.44,140.80 447.88,140.80 448.32,140.80 448.76,140.80 449.20,140.80 449.64,140.80 450.08,140.80 450.52,140.80 450.96,140.80 451.40,140.80 451.84,140.80 452.28,140.81 452.73,140.81 453.17,140.81 453.61,140.81 454.05,140.81 454.49,140.81 454.93,140.81 455.37,140.81 455.81,140.81 456.25,140.82 456.69,140.82 457.13,140.82 457.57,140.82 458.01,140.83 458.46,140.83 458.90,140.83 459.34,140.84 459.78,140.84 460.22,140.85 460.66,140.86 461.10,140.86 461.54,140.87 461.98,140.88 462.42,140.89 462.86,140.90 463.31,140.92 463.75,140.93 464.19,140.95 464.63,140.97 465.07,140.99 465.51,141.02 465.95,141.05 466.39,141.08 466.83,141.12 467.27,141.16 467.71,141.20 468.15,141.26 468.59,141.32 469.04,141.38 469.48,141.46 469.92,141.55 470.36,141.65 470.80,141.76 471.24,141.88 471.68,142.02 472.12,142.18 472.56,142.35 473.00,142.55 473.44,142.78 473.88,143.03 474.33,143.31 474.77,143.62 475.21,143.97 475.65,144.36 476.09,144.79 476.53,145.27 476.97,145.81 477.41,146.39 477.85,147.04 478.29,147.75 478.73,148.52 479.17,149.37 479.62,150.28 480.06,151.27 480.50,152.32 480.94,153.45 481.38,154.64 481.82,155.91 482.26,157.23 482.70,158.60 483.14,160.02 483.58,161.47 484.02,162.95 484.46,164.44 484.91,165.94 485.35,167.42 485.79,168.89 486.23,170.33 486.67,171.72 487.11,173.07 487.55,174.36 487.99,175.59 488.43,176.75 488.87,177.84 489.31,178.86 489.75,179.80 490.20,180.68 490.64,181.49 491.08,182.23 491.52,182.90 491.96,183.52 492.40,184.08" fill="none" stroke="#d3222b" stroke-width="0.75"/>
<rect x="438.25" y="140.21" width="2.50" height="2.50" fill="#111111" />
<rect x="440.89" y="139.63" width="2.50" height="2.50" fill="#111111" />
<rect x="443.54" y="139.43" width="2.50" height="2.50" fill="#111111" />
<rect x="446.19" y="140.33" width="2.50" height="2.50" fill="#111111" />
<rect x="448.83" y="141.21" width="2.50" height="2.50" fill="#111111" />
<rect x="451.48" y="140.82" width="2.50" height="2.50" fill="#111111" />
<rect x="454.12" y="142.28" width="2.50" height="2.50" fill="#111111" />
<rect x="456.76" y="144.61" width="2.50" height="2.50" fill="#111111" />
<rect x="459.41" y="149.00" width="2.50" height="2.50" fill="#111111" />
<rect x="462.06" y="157.96" width="2.50" height="2.50" fill="#111111" />
<rect x="464.70" y="168.26" width="2.50" height="2.50" fill="#111111" />
<rect x="467.34" y="176.46" width="2.50" height="2.50" fill="#111111" />
<rect x="469.99" y="181.75" width="2.50" height="2.50" fill="#111111" />
<rect x="472.63" y="186.13" width="2.50" height="2.50" fill="#111111" />
<rect x="475.28" y="185.48" width="2.50" height="2.50" fill="#111111" />
<rect x="477.92" y="186.39" width="2.50" height="2.50" fill="#111111" />
<rect x="480.57" y="186.44" width="2.50" height="2.50" fill="#111111" />
<rect x="483.21" y="186.74" width="2.50" height="2.50" fill="#111111" />
<rect x="485.86" y="187.55" width="2.50" height="2.50" fill="#111111" />
<rect x="488.50" y="187.55" width="2.50" height="2.50" fill="#111111" />
<rect x="491.15" y="187.55" width="2.50" height="2.50" fill="#111111" />
<rect x="438.25" y="139.23" width="2.50" height="2.50" fill="#2e3f9e" />
<rect x="440.89" y="140.60" width="2.50" height="2.50" fill="#2e3f9e" />
<rect x="443.54" y="140.59" width="2.50" height="2.50" fill="#2e3f9e" />
<rect x="446.19" y="140.25" width="2.50" height="2.50" fill="#2e3f9e" />
<rect x="448.83" y="140.37" width="2.50" height="2.50" fill="#2e3f9e" />
<rect x="451.48" y="139.94" width="2.50" height="2.50" fill="#2e3f9e" />
<rect x="454.12" y="140.64" width="2.50" height="2.50" fill="#2e3f9e" />
<rect x="456.76" y="140.79" width="2.50" height="2.50" fill="#2e3f9e" />
<rect x="459.41" y="140.47" width="2.50" height="2.50" fill="#2e3f9e" />
<rect x="462.06" y="140.67" width="2.50" height="2.50" fill="#2e3f9e" />
<rect x="464.70" y="140.21" width="2.50" height="2.50" fill="#2e3f9e" />
<rect x="467.34" y="141.38" width="2.50" height="2.50" fill="#2e3f9e" />
<rect x="469.99" y="140.04" width="2.50" height="2.50" fill="#2e3f9e" />
<rect x="472.63" y="142.05" width="2.50" height="2.50" fill="#2e3f9e" />
<rect x="475.28" y="145.76" width="2.50" height="2.50" fill="#2e3f9e" />
<rect x="477.92" y="150.00" width="2.50" height="2.50" fill="#2e3f9e" />
<rect x="480.57" y="156.56" width="2.50" height="2.50" fill="#2e3f9e" />
<rect x="483.21" y="164.91" width="2.50" height="2.50" fill="#2e3f9e" />
<rect x="485.86" y="173.63" width="2.50" height="2.50" fill="#2e3f9e" />
<rect x="488.50" y="178.14" width="2.50" height="2.50" fill="#2e3f9e" />
<rect x="491.15" y="181.77" width="2.50" height="2.50" fill="#2e3f9e" />
<rect x="438.25" y="139.63" width="2.50" height="2.50" fill="#d3222b" />
<rect x="440.89" y="139.59" width="2.50" height="2.50" fill="#d3222b" />
<rect x="443.54" y="140.54" width="2.50" height="2.50" fill="#d3222b" />
<rect x="446.19" y="140.51" width="2.50" height="2.50" fill="#d3222b" />
<rect x="448.83" y="139.93" width="2.50" height="2.50" fill="#d3222b" />
<rect x="451.48" y="140.12" width="2.50" height="2.50" fill="#d3222b" />
<rect x="454.12" y="138.77" width="2.50" height="2.50" fill="#d3222b" />
<rect x="456.76" y="140.39" width="2.50" height="2.50" fill="#d3222b" />
<rect x="459.41" y="140.75" width="2.50" height="2.50" fill="#d3222b" />
<rect x="462.06" y="138.59" width="2.50" height="2.50" fill="#d3222b" />
<rect x="464.70" y="139.73" width="2.50" height="2.50" fill="#d3222b" />
<rect x="467.34" y="140.92" width="2.50" height="2.50" fill="#d3222b" />
<rect x="469.99" y="140.53" width="2.50" height="2.50" fill="#d3222b" />
<rect x="472.63" y="142.91" width="2.50" height="2.50" fill="#d3222b" />
<rect x="475.28" y="143.96" width="2.50" height="2.50" fill="#d3222b" />
<rect x="477.92" y="146.97" width="2.50" height="2.50" fill="#d3222b" />
<rect x="480.57" y="153.78" width="2.50" height="2.50" fill="#d3222b" />
<rect x="483.21" y="162.72" width="2.50" height="2.50" fill="#d3222b" />
<rect x="485.86" y="172.39" width="2.50" height="2.50" fill="#d3222b" />
<rect x="488.50" y="178.87" width="2.50" height="2.50" fill="#d3222b" />
<rect x="491.15" y="183.63" width="2.50" height="2.50" fill="#d3222b" />
<rect x="439.50" y="136.00" width="52.90" height="52.80" fill="none" stroke="#333" stroke-width="0.7" />
<text font-size="6.1" text-anchor="middle" stroke="#222" stroke-width="0.03" transform="translate(465.95 133.30) scale(1.02 1.1)" >Nutlin-3a</text>
<line x1="438.00" y1="188.80" x2="439.50" y2="188.80" stroke="#222" stroke-width="0.5" />
<line x1="438.00" y1="179.20" x2="439.50" y2="179.20" stroke="#222" stroke-width="0.5" />
<line x1="438.00" y1="169.60" x2="439.50" y2="169.60" stroke="#222" stroke-width="0.5" />
<line x1="438.00" y1="160.00" x2="439.50" y2="160.00" stroke="#222" stroke-width="0.5" />
<line x1="438.00" y1="150.40" x2="439.50" y2="150.40" stroke="#222" stroke-width="0.5" />
<line x1="438.00" y1="140.80" x2="439.50" y2="140.80" stroke="#222" stroke-width="0.5" />
<line x1="439.50" y1="188.80" x2="439.50" y2="190.30" stroke="#222" stroke-width="0.5" />
<text font-size="5.0" text-anchor="middle" fill="#333" stroke="#333" stroke-width="0.03" transform="translate(440.40 195.80) scale(1.02 1.1)" >–9</text>
<line x1="450.08" y1="188.80" x2="450.08" y2="190.30" stroke="#222" stroke-width="0.5" />
<text font-size="5.0" text-anchor="middle" fill="#333" stroke="#333" stroke-width="0.03" transform="translate(450.08 195.80) scale(1.02 1.1)" >–8</text>
<line x1="460.66" y1="188.80" x2="460.66" y2="190.30" stroke="#222" stroke-width="0.5" />
<text font-size="5.0" text-anchor="middle" fill="#333" stroke="#333" stroke-width="0.03" transform="translate(460.66 195.80) scale(1.02 1.1)" >–7</text>
<line x1="471.24" y1="188.80" x2="471.24" y2="190.30" stroke="#222" stroke-width="0.5" />
<text font-size="5.0" text-anchor="middle" fill="#333" stroke="#333" stroke-width="0.03" transform="translate(471.24 195.80) scale(1.02 1.1)" >–6</text>
<line x1="481.82" y1="188.80" x2="481.82" y2="190.30" stroke="#222" stroke-width="0.5" />
<text font-size="5.0" text-anchor="middle" fill="#333" stroke="#333" stroke-width="0.03" transform="translate(481.82 195.80) scale(1.02 1.1)" >–5</text>
<line x1="492.40" y1="188.80" x2="492.40" y2="190.30" stroke="#222" stroke-width="0.5" />
<text font-size="5.0" text-anchor="middle" fill="#333" stroke="#333" stroke-width="0.03" transform="translate(492.40 195.80) scale(1.02 1.1)" >–4</text>
<text font-size="5.2" text-anchor="middle" fill="#333" stroke="#333" stroke-width="0.03" transform="translate(465.95 203.40) scale(1.02 1.1)" >Log (mol/L)</text>
<text font-size="5.4" text-anchor="middle" fill="#333" stroke="#333" stroke-width="0.03" transform="translate(309.80 165.00) rotate(-90) scale(1.02 1.1)" >Viability (%)</text>
<text font-size="4.9" stroke="#222" stroke-width="0.03" transform="translate(350.20 145.20) scale(1.02 1.1)" ><tspan font-style="italic">P</tspan> &lt; 0.0001</text>
<text font-size="4.9" stroke="#222" stroke-width="0.03" transform="translate(406.80 145.20) scale(1.02 1.1)" ><tspan font-style="italic">P</tspan> &lt; 0.0001</text>
<text font-size="4.9" stroke="#222" stroke-width="0.03" transform="translate(442.10 185.50) scale(1.02 1.1)" ><tspan font-style="italic">P</tspan> &lt; 0.0001</text>
<text font-size="10.8" fill="#111" font-weight="bold" stroke="#111" stroke-width="0.03" transform="translate(1.80 227.00) scale(1.02 1.1)" >F</text>
<rect x="11.50" y="228.00" width="179.80" height="89.50" fill="none" stroke="#6f6f6f" stroke-width="0.8" rx="5.5" />
<text font-size="6.2" text-anchor="middle" fill="#d2232a" stroke="#d2232a" stroke-width="0.03" transform="translate(47.80 241.50) scale(1.02 1.1)" ><tspan font-style="italic">TP53</tspan> genotype #1</text>
<text font-size="6.2" text-anchor="middle" fill="#d2232a" stroke="#d2232a" stroke-width="0.03" transform="translate(47.80 249.20) scale(1.02 1.1)" >(10%)</text>
<text font-size="6.2" text-anchor="middle" stroke="#222" stroke-width="0.03" transform="translate(47.80 256.80) scale(1.02 1.1)" >vs.</text>
<text font-size="6.2" text-anchor="middle" stroke="#222" stroke-width="0.03" transform="translate(47.80 264.10) scale(1.02 1.1)" ><tspan font-style="italic">TP53</tspan> genotype #2</text>
<text font-size="6.2" text-anchor="middle" stroke="#222" stroke-width="0.03" transform="translate(47.80 272.20) scale(1.02 1.1)" >(90%)</text>
<text font-size="5.3" text-anchor="end" stroke="#222" stroke-width="0.03" transform="translate(43.80 283.80) scale(1.02 1.1)" >DMSO</text>
<text font-size="5.3" stroke="#222" stroke-width="0.03" transform="translate(52.90 283.80) scale(1.02 1.1)" >Drug</text>
<line x1="48.00" y1="276.00" x2="48.00" y2="287.50" stroke="#222" stroke-width="0.7" />
<path d="M46.2,286.3 L48.0,289.7 L49.8,286.3 Z" stroke="#222" stroke-width="0" fill="#222" />
<ellipse cx="47.70" cy="301.80" rx="22.90" ry="8.50" fill="#fff" stroke="#555" stroke-width="0.6" />
<ellipse cx="47.70" cy="301.30" rx="21.20" ry="5.20" fill="#fff" stroke="#666" stroke-width="0.5" />
<ellipse cx="34.00" cy="298.60" rx="1.90" ry="1.05" fill="#e8663c" stroke="#6a4a40" stroke-width="0.45" />
<ellipse cx="40.50" cy="298.20" rx="1.90" ry="1.05" fill="#c8c8c8" stroke="#555" stroke-width="0.55" />
<ellipse cx="47.40" cy="298.20" rx="1.90" ry="1.05" fill="#c8c8c8" stroke="#555" stroke-width="0.55" />
<ellipse cx="54.40" cy="298.20" rx="1.90" ry="1.05" fill="#c8c8c8" stroke="#555" stroke-width="0.55" />
<ellipse cx="60.40" cy="299.00" rx="1.90" ry="1.05" fill="#c8c8c8" stroke="#555" stroke-width="0.55" />
<ellipse cx="30.20" cy="301.40" rx="1.90" ry="1.05" fill="#c8c8c8" stroke="#555" stroke-width="0.55" />
<ellipse cx="41.50" cy="301.40" rx="1.90" ry="1.05" fill="#e8663c" stroke="#6a4a40" stroke-width="0.45" />
<ellipse cx="48.00" cy="301.40" rx="1.90" ry="1.05" fill="#c8c8c8" stroke="#555" stroke-width="0.55" />
<ellipse cx="54.40" cy="301.40" rx="1.90" ry="1.05" fill="#c8c8c8" stroke="#555" stroke-width="0.55" />
<ellipse cx="65.20" cy="301.60" rx="1.90" ry="1.05" fill="#c8c8c8" stroke="#555" stroke-width="0.55" />
<ellipse cx="36.70" cy="304.40" rx="1.90" ry="1.05" fill="#c8c8c8" stroke="#555" stroke-width="0.55" />
<ellipse cx="43.10" cy="304.60" rx="1.90" ry="1.05" fill="#c8c8c8" stroke="#555" stroke-width="0.55" />
<ellipse cx="50.10" cy="304.60" rx="1.90" ry="1.05" fill="#c8c8c8" stroke="#555" stroke-width="0.55" />
<ellipse cx="58.20" cy="304.20" rx="1.90" ry="1.05" fill="#c8c8c8" stroke="#555" stroke-width="0.55" />
<ellipse cx="153.50" cy="301.30" rx="23.40" ry="8.30" fill="#fff" stroke="#555" stroke-width="0.6" />
<ellipse cx="153.50" cy="300.80" rx="21.70" ry="5.00" fill="#fff" stroke="#666" stroke-width="0.5" />
<ellipse cx="146.70" cy="298.30" rx="1.90" ry="1.05" fill="#c8c8c8" stroke="#555" stroke-width="0.55" />
<ellipse cx="153.60" cy="298.10" rx="1.90" ry="1.05" fill="#e8663c" stroke="#6a4a40" stroke-width="0.45" />
<ellipse cx="160.40" cy="298.30" rx="1.90" ry="1.05" fill="#e8663c" stroke="#6a4a40" stroke-width="0.45" />
<ellipse cx="140.90" cy="300.20" rx="1.90" ry="1.05" fill="#e8663c" stroke="#6a4a40" stroke-width="0.45" />
<ellipse cx="165.70" cy="300.20" rx="1.90" ry="1.05" fill="#c8c8c8" stroke="#555" stroke-width="0.55" />
<ellipse cx="135.60" cy="301.60" rx="1.90" ry="1.05" fill="#c8c8c8" stroke="#555" stroke-width="0.55" />
<ellipse cx="146.70" cy="301.40" rx="1.90" ry="1.05" fill="#e8663c" stroke="#6a4a40" stroke-width="0.45" />
<ellipse cx="153.60" cy="301.40" rx="1.90" ry="1.05" fill="#e8663c" stroke="#6a4a40" stroke-width="0.45" />
<ellipse cx="159.90" cy="301.40" rx="1.90" ry="1.05" fill="#e8663c" stroke="#6a4a40" stroke-width="0.45" />
<ellipse cx="171.00" cy="301.60" rx="1.90" ry="1.05" fill="#e8663c" stroke="#6a4a40" stroke-width="0.45" />
<ellipse cx="142.50" cy="304.30" rx="1.90" ry="1.05" fill="#c8c8c8" stroke="#555" stroke-width="0.55" />
<ellipse cx="149.30" cy="304.50" rx="1.90" ry="1.05" fill="#c8c8c8" stroke="#555" stroke-width="0.55" />
<ellipse cx="156.50" cy="304.50" rx="1.90" ry="1.05" fill="#e8663c" stroke="#6a4a40" stroke-width="0.45" />
<ellipse cx="164.70" cy="304.10" rx="1.90" ry="1.05" fill="#c8c8c8" stroke="#555" stroke-width="0.55" />
<rect x="88.00" y="250.10" width="24.50" height="24.50" fill="#fff" stroke="#8a8a8a" stroke-width="0.8" />
<rect x="88.90" y="251.30" width="9.60" height="11.20" fill="#fff" stroke="#9a9a9a" stroke-width="0.9" />
<rect x="99.70" y="263.70" width="11.00" height="9.40" fill="#fff" stroke="#a0a0a0" stroke-width="0.9" />
<circle cx="90.50" cy="252.70" r="0.60" fill="#222" />
<circle cx="91.25" cy="254.00" r="0.60" fill="#222" />
<circle cx="90.50" cy="255.30" r="0.60" fill="#222" />
<circle cx="91.25" cy="256.60" r="0.60" fill="#222" />
<circle cx="90.50" cy="257.90" r="0.60" fill="#222" />
<circle cx="91.25" cy="259.20" r="0.60" fill="#222" />
<circle cx="90.50" cy="260.50" r="0.60" fill="#222" />
<circle cx="92.00" cy="252.70" r="0.60" fill="#222" />
<circle cx="92.75" cy="254.00" r="0.60" fill="#222" />
<circle cx="92.00" cy="255.30" r="0.60" fill="#222" />
<circle cx="92.75" cy="256.60" r="0.60" fill="#222" />
<circle cx="92.00" cy="257.90" r="0.60" fill="#222" />
<circle cx="92.75" cy="259.20" r="0.60" fill="#222" />
<circle cx="92.00" cy="260.50" r="0.60" fill="#222" />
<circle cx="93.50" cy="252.70" r="0.60" fill="#222" />
<circle cx="94.25" cy="254.00" r="0.60" fill="#222" />
<circle cx="93.50" cy="255.30" r="0.60" fill="#222" />
<circle cx="94.25" cy="256.60" r="0.60" fill="#222" />
<circle cx="93.50" cy="257.90" r="0.60" fill="#222" />
<circle cx="94.25" cy="259.20" r="0.60" fill="#222" />
<circle cx="93.50" cy="260.50" r="0.60" fill="#222" />
<circle cx="95.00" cy="252.70" r="0.60" fill="#222" />
<circle cx="95.75" cy="254.00" r="0.60" fill="#222" />
<circle cx="95.00" cy="255.30" r="0.60" fill="#222" />
<circle cx="95.75" cy="256.60" r="0.60" fill="#222" />
<circle cx="95.00" cy="257.90" r="0.60" fill="#222" />
<circle cx="95.75" cy="259.20" r="0.60" fill="#222" />
<circle cx="95.00" cy="260.50" r="0.60" fill="#222" />
<circle cx="96.50" cy="252.70" r="0.60" fill="#222" />
<circle cx="97.25" cy="254.00" r="0.60" fill="#222" />
<circle cx="96.50" cy="255.30" r="0.60" fill="#222" />
<circle cx="97.25" cy="256.60" r="0.60" fill="#222" />
<circle cx="96.50" cy="257.90" r="0.60" fill="#222" />
<circle cx="97.25" cy="259.20" r="0.60" fill="#222" />
<circle cx="96.50" cy="260.50" r="0.60" fill="#222" />
<circle cx="107.50" cy="268.40" r="0.42" fill="#e04848" />
<circle cx="106.25" cy="268.73" r="0.30" fill="#e87070" />
<circle cx="107.06" cy="269.75" r="0.42" fill="#e04848" />
<circle cx="105.86" cy="269.28" r="0.30" fill="#e87070" />
<circle cx="105.91" cy="270.59" r="0.42" fill="#e04848" />
<circle cx="105.22" cy="269.50" r="0.30" fill="#e87070" />
<circle cx="104.49" cy="270.59" r="0.42" fill="#e04848" />
<circle cx="104.57" cy="269.30" r="0.30" fill="#e87070" />
<circle cx="103.34" cy="269.75" r="0.42" fill="#e04848" />
<circle cx="104.16" cy="268.75" r="0.30" fill="#e87070" />
<circle cx="102.90" cy="268.40" r="0.42" fill="#e04848" />
<circle cx="104.15" cy="268.08" r="0.30" fill="#e87070" />
<circle cx="103.34" cy="267.05" r="0.42" fill="#e04848" />
<circle cx="104.54" cy="267.52" r="0.30" fill="#e87070" />
<circle cx="104.49" cy="266.21" r="0.42" fill="#e04848" />
<circle cx="105.18" cy="267.30" r="0.30" fill="#e87070" />
<circle cx="105.91" cy="266.21" r="0.42" fill="#e04848" />
<circle cx="105.83" cy="267.50" r="0.30" fill="#e87070" />
<circle cx="107.06" cy="267.05" r="0.42" fill="#e04848" />
<circle cx="106.24" cy="268.05" r="0.30" fill="#e87070" />
<text font-size="5.0" text-anchor="middle" stroke="#222" stroke-width="0.03" transform="translate(85.40 263.60) rotate(-90) scale(1.02 1.1)" >GFP</text>
<text font-size="5.2" text-anchor="middle" stroke="#222" stroke-width="0.03" transform="translate(100.20 280.50) scale(1.02 1.1)" >RFP657</text>
<text font-size="6.3" text-anchor="middle" stroke="#222" stroke-width="0.03" transform="translate(100.40 289.90) scale(1.02 1.1)" >Sample collection</text>
<text font-size="6.3" text-anchor="middle" stroke="#222" stroke-width="0.03" transform="translate(100.40 298.20) scale(1.02 1.1)" >every 2 days</text>
<line x1="75.00" y1="301.50" x2="90.00" y2="301.50" stroke="#222" stroke-width="0.8" />
<rect x="91.30" y="301.05" width="2.30" height="0.90" fill="#222" />
<rect x="95.00" y="301.05" width="1.00" height="0.90" fill="#222" />
<rect x="97.40" y="301.05" width="2.30" height="0.90" fill="#222" />
<rect x="101.10" y="301.05" width="2.30" height="0.90" fill="#222" />
<rect x="104.80" y="301.05" width="1.00" height="0.90" fill="#222" />
<rect x="107.20" y="301.05" width="2.30" height="0.90" fill="#222" />
<line x1="111.00" y1="301.50" x2="124.50" y2="301.50" stroke="#222" stroke-width="0.8" />
<path d="M123.4,299.8 L126.6,301.5 L123.4,303.2 Z" stroke="#222" stroke-width="0" fill="#222" />
<text font-size="5.7" text-anchor="middle" stroke="#222" stroke-width="0.03" transform="translate(152.90 263.90) scale(1.02 1.1)" >Relative competitive</text>
<text font-size="5.7" text-anchor="middle" stroke="#222" stroke-width="0.03" transform="translate(152.90 270.90) scale(1.02 1.1)" >fitness of</text>
<text font-size="5.7" text-anchor="middle" stroke="#222" stroke-width="0.03" transform="translate(152.90 277.80) scale(1.02 1.1)" ><tspan font-style="italic">TP53</tspan> genotypes</text>
<text font-size="10.8" fill="#111" font-weight="bold" stroke="#111" stroke-width="0.03" transform="translate(0.20 339.10) scale(1.02 1.1)" >G</text>
<text font-size="6" text-anchor="middle" stroke="#222" stroke-width="0.03" transform="translate(105.88 344.90) scale(1.02 1.1)" >d0</text>
<text font-size="6" text-anchor="middle" stroke="#222" stroke-width="0.03" transform="translate(120.23 344.90) scale(1.02 1.1)" >d2</text>
<text font-size="6" text-anchor="middle" stroke="#222" stroke-width="0.03" transform="translate(134.57 344.90) scale(1.02 1.1)" >d4</text>
<text font-size="6" text-anchor="middle" stroke="#222" stroke-width="0.03" transform="translate(148.93 344.90) scale(1.02 1.1)" >d6</text>
<text font-size="6" text-anchor="middle" stroke="#222" stroke-width="0.03" transform="translate(163.28 344.90) scale(1.02 1.1)" >d8</text>
<text font-size="6" text-anchor="middle" stroke="#222" stroke-width="0.03" transform="translate(177.62 344.90) scale(1.02 1.1)" >d10</text>
<rect x="98.70" y="346.90" width="86.10" height="10.90" fill="#558da3" />
<rect x="98.70" y="346.90" width="15.25" height="5.95" fill="#558da3" />
<rect x="98.70" y="352.35" width="15.25" height="5.45" fill="#558da3" />
<rect x="113.05" y="346.90" width="15.25" height="5.95" fill="#558da3" />
<rect x="113.05" y="352.35" width="15.25" height="5.45" fill="#597088" />
<rect x="127.40" y="346.90" width="15.25" height="5.95" fill="#56879e" />
<rect x="127.40" y="352.35" width="15.25" height="5.45" fill="#7b4658" />
<rect x="141.75" y="346.90" width="15.25" height="5.95" fill="#56839a" />
<rect x="141.75" y="352.35" width="15.25" height="5.45" fill="#d3222b" />
<rect x="156.10" y="346.90" width="15.25" height="5.95" fill="#577e96" />
<rect x="156.10" y="352.35" width="15.25" height="5.45" fill="#d3222b" />
<rect x="170.45" y="346.90" width="14.35" height="5.95" fill="#577c93" />
<rect x="170.45" y="352.35" width="14.35" height="5.45" fill="#d3222b" />
<line x1="77.30" y1="347.20" x2="77.30" y2="357.50" stroke="#555" stroke-width="0.6" />
<text font-size="4.4" fill="#c4c4c4" stroke="#c4c4c4" stroke-width="0.03" transform="translate(79.50 351.30) scale(1.02 1.1)" >DMSO</text>
<text font-size="4.4" stroke="#222" stroke-width="0.03" transform="translate(79.50 356.80) scale(1.02 1.1)" >Nutlin-3a</text>
<text font-size="5.6" text-anchor="end" stroke="#222" stroke-width="0.03" transform="translate(74.20 354.80) scale(1.02 1.1)" >+/+</text>
<text font-size="5.3" text-anchor="end" font-style="italic" stroke="#222" stroke-width="0.03" transform="translate(62.60 354.80) scale(1.02 1.1)" >vs.</text>
<text font-size="5.6" text-anchor="end" fill="#d2232a" stroke="#d2232a" stroke-width="0.03" transform="translate(53.00 354.80) scale(1.02 1.1)" >+/–</text>
<rect x="98.70" y="359.80" width="86.10" height="10.90" fill="#558da3" />
<rect x="98.70" y="359.80" width="15.25" height="5.95" fill="#558da3" />
<rect x="98.70" y="365.25" width="15.25" height="5.45" fill="#558da3" />
<rect x="113.05" y="359.80" width="15.25" height="5.95" fill="#558da3" />
<rect x="113.05" y="365.25" width="15.25" height="5.45" fill="#5c6c83" />
<rect x="127.40" y="359.80" width="15.25" height="5.95" fill="#558da3" />
<rect x="127.40" y="365.25" width="15.25" height="5.45" fill="#d3222b" />
<rect x="141.75" y="359.80" width="15.25" height="5.95" fill="#558aa0" />
<rect x="141.75" y="365.25" width="15.25" height="5.45" fill="#d3222b" />
<rect x="156.10" y="359.80" width="15.25" height="5.95" fill="#56839a" />
<rect x="156.10" y="365.25" width="15.25" height="5.45" fill="#d3222b" />
<rect x="170.45" y="359.80" width="14.35" height="5.95" fill="#597088" />
<rect x="170.45" y="365.25" width="14.35" height="5.45" fill="#d3222b" />
<line x1="77.30" y1="360.10" x2="77.30" y2="370.40" stroke="#555" stroke-width="0.6" />
<text font-size="4.4" fill="#c4c4c4" stroke="#c4c4c4" stroke-width="0.03" transform="translate(79.50 364.20) scale(1.02 1.1)" >DMSO</text>
<text font-size="4.4" stroke="#222" stroke-width="0.03" transform="translate(79.50 369.70) scale(1.02 1.1)" >Nutlin-3a</text>
<text font-size="5.6" text-anchor="end" stroke="#222" stroke-width="0.03" transform="translate(74.20 367.70) scale(1.02 1.1)" >+/+</text>
<text font-size="5.3" text-anchor="end" font-style="italic" stroke="#222" stroke-width="0.03" transform="translate(62.60 367.70) scale(1.02 1.1)" >vs.</text>
<text font-size="5.6" text-anchor="end" fill="#d2232a" stroke="#d2232a" stroke-width="0.03" transform="translate(53.00 367.70) scale(1.02 1.1)" >–/–</text>
<rect x="98.70" y="372.70" width="86.10" height="10.90" fill="#558da3" />
<rect x="98.70" y="372.70" width="15.25" height="5.95" fill="#558da3" />
<rect x="98.70" y="378.15" width="15.25" height="5.45" fill="#558da3" />
<rect x="113.05" y="372.70" width="15.25" height="5.95" fill="#558da3" />
<rect x="113.05" y="378.15" width="15.25" height="5.45" fill="#577e96" />
<rect x="127.40" y="372.70" width="15.25" height="5.95" fill="#558da3" />
<rect x="127.40" y="378.15" width="15.25" height="5.45" fill="#7b4658" />
<rect x="141.75" y="372.70" width="15.25" height="5.95" fill="#558da3" />
<rect x="141.75" y="378.15" width="15.25" height="5.45" fill="#a73442" />
<rect x="156.10" y="372.70" width="15.25" height="5.95" fill="#558da3" />
<rect x="156.10" y="378.15" width="15.25" height="5.45" fill="#b2303c" />
<rect x="170.45" y="372.70" width="14.35" height="5.95" fill="#558ba1" />
<rect x="170.45" y="378.15" width="14.35" height="5.45" fill="#c12934" />
<line x1="77.30" y1="373.00" x2="77.30" y2="383.30" stroke="#555" stroke-width="0.6" />
<text font-size="4.4" fill="#c4c4c4" stroke="#c4c4c4" stroke-width="0.03" transform="translate(79.50 377.10) scale(1.02 1.1)" >DMSO</text>
<text font-size="4.4" stroke="#222" stroke-width="0.03" transform="translate(79.50 382.60) scale(1.02 1.1)" >Nutlin-3a</text>
<text font-size="5.6" text-anchor="end" stroke="#222" stroke-width="0.03" transform="translate(74.20 380.60) scale(1.02 1.1)" >+/–</text>
<text font-size="5.3" text-anchor="end" font-style="italic" stroke="#222" stroke-width="0.03" transform="translate(62.60 380.60) scale(1.02 1.1)" >vs.</text>
<text font-size="5.6" text-anchor="end" fill="#d2232a" stroke="#d2232a" stroke-width="0.03" transform="translate(53.00 380.60) scale(1.02 1.1)" >–/–</text>
<rect x="98.70" y="389.40" width="86.10" height="10.90" fill="#558da3" />
<rect x="98.70" y="389.40" width="15.25" height="5.95" fill="#558da3" />
<rect x="98.70" y="394.85" width="15.25" height="5.45" fill="#558da3" />
<rect x="113.05" y="389.40" width="15.25" height="5.95" fill="#558da3" />
<rect x="113.05" y="394.85" width="15.25" height="5.45" fill="#597088" />
<rect x="127.40" y="389.40" width="15.25" height="5.95" fill="#558da3" />
<rect x="127.40" y="394.85" width="15.25" height="5.45" fill="#bd2b36" />
<rect x="141.75" y="389.40" width="15.25" height="5.95" fill="#558da3" />
<rect x="141.75" y="394.85" width="15.25" height="5.45" fill="#d3222b" />
<rect x="156.10" y="389.40" width="15.25" height="5.95" fill="#558da3" />
<rect x="156.10" y="394.85" width="15.25" height="5.45" fill="#d3222b" />
<rect x="170.45" y="389.40" width="14.35" height="5.95" fill="#558ba1" />
<rect x="170.45" y="394.85" width="14.35" height="5.45" fill="#d3222b" />
<line x1="77.30" y1="389.70" x2="77.30" y2="400.00" stroke="#555" stroke-width="0.6" />
<text font-size="4.4" fill="#c4c4c4" stroke="#c4c4c4" stroke-width="0.03" transform="translate(79.50 393.80) scale(1.02 1.1)" >DMSO</text>
<text font-size="4.4" stroke="#222" stroke-width="0.03" transform="translate(79.50 399.30) scale(1.02 1.1)" >Nutlin-3a</text>
<text font-size="5.6" text-anchor="end" stroke="#222" stroke-width="0.03" transform="translate(74.20 397.30) scale(1.02 1.1)" >+/+</text>
<text font-size="5.3" text-anchor="end" font-style="italic" stroke="#222" stroke-width="0.03" transform="translate(62.60 397.30) scale(1.02 1.1)" >vs.</text>
<text font-size="5.6" text-anchor="end" fill="#d2232a" stroke="#d2232a" stroke-width="0.03" transform="translate(53.00 397.30) scale(1.02 1.1)" >R248Q/+</text>
<rect x="98.70" y="402.10" width="86.10" height="10.90" fill="#558da3" />
<rect x="98.70" y="402.10" width="15.25" height="5.95" fill="#558da3" />
<rect x="98.70" y="407.55" width="15.25" height="5.45" fill="#558da3" />
<rect x="113.05" y="402.10" width="15.25" height="5.95" fill="#558da3" />
<rect x="113.05" y="407.55" width="15.25" height="5.45" fill="#587a91" />
<rect x="127.40" y="402.10" width="15.25" height="5.95" fill="#558da3" />
<rect x="127.40" y="407.55" width="15.25" height="5.45" fill="#754d60" />
<rect x="141.75" y="402.10" width="15.25" height="5.95" fill="#558ba1" />
<rect x="141.75" y="407.55" width="15.25" height="5.45" fill="#913d4d" />
<rect x="156.10" y="402.10" width="15.25" height="5.95" fill="#558ba1" />
<rect x="156.10" y="407.55" width="15.25" height="5.45" fill="#9c3847" />
<rect x="170.45" y="402.10" width="14.35" height="5.95" fill="#558aa0" />
<rect x="170.45" y="407.55" width="14.35" height="5.45" fill="#b2303c" />
<line x1="77.30" y1="402.40" x2="77.30" y2="412.70" stroke="#555" stroke-width="0.6" />
<text font-size="4.4" fill="#c4c4c4" stroke="#c4c4c4" stroke-width="0.03" transform="translate(79.50 406.50) scale(1.02 1.1)" >DMSO</text>
<text font-size="4.4" stroke="#222" stroke-width="0.03" transform="translate(79.50 412.00) scale(1.02 1.1)" >Nutlin-3a</text>
<text font-size="5.6" text-anchor="end" stroke="#222" stroke-width="0.03" transform="translate(74.20 410.00) scale(1.02 1.1)" >+/–</text>
<text font-size="5.3" text-anchor="end" font-style="italic" stroke="#222" stroke-width="0.03" transform="translate(62.60 410.00) scale(1.02 1.1)" >vs.</text>
<text font-size="5.6" text-anchor="end" fill="#d2232a" stroke="#d2232a" stroke-width="0.03" transform="translate(53.00 410.00) scale(1.02 1.1)" >R248Q/+</text>
<rect x="98.70" y="415.20" width="86.10" height="10.90" fill="#558da3" />
<rect x="98.70" y="415.20" width="15.25" height="5.95" fill="#558da3" />
<rect x="98.70" y="420.65" width="15.25" height="5.45" fill="#558da3" />
<rect x="113.05" y="415.20" width="15.25" height="5.95" fill="#558da3" />
<rect x="113.05" y="420.65" width="15.25" height="5.45" fill="#597088" />
<rect x="127.40" y="415.20" width="15.25" height="5.95" fill="#558da3" />
<rect x="127.40" y="420.65" width="15.25" height="5.45" fill="#bd2b36" />
<rect x="141.75" y="415.20" width="15.25" height="5.95" fill="#558da3" />
<rect x="141.75" y="420.65" width="15.25" height="5.45" fill="#d3222b" />
<rect x="156.10" y="415.20" width="15.25" height="5.95" fill="#558da3" />
<rect x="156.10" y="420.65" width="15.25" height="5.45" fill="#d3222b" />
<rect x="170.45" y="415.20" width="14.35" height="5.95" fill="#558da3" />
<rect x="170.45" y="420.65" width="14.35" height="5.45" fill="#d3222b" />
<line x1="77.30" y1="415.50" x2="77.30" y2="425.80" stroke="#555" stroke-width="0.6" />
<text font-size="4.4" fill="#c4c4c4" stroke="#c4c4c4" stroke-width="0.03" transform="translate(79.50 419.60) scale(1.02 1.1)" >DMSO</text>
<text font-size="4.4" stroke="#222" stroke-width="0.03" transform="translate(79.50 425.10) scale(1.02 1.1)" >Nutlin-3a</text>
<text font-size="5.6" text-anchor="end" stroke="#222" stroke-width="0.03" transform="translate(74.20 423.10) scale(1.02 1.1)" >+/+</text>
<text font-size="5.3" text-anchor="end" font-style="italic" stroke="#222" stroke-width="0.03" transform="translate(62.60 423.10) scale(1.02 1.1)" >vs.</text>
<text font-size="5.6" text-anchor="end" fill="#d2232a" stroke="#d2232a" stroke-width="0.03" transform="translate(53.00 423.10) scale(1.02 1.1)" >R248Q/–</text>
<rect x="98.70" y="428.10" width="86.10" height="10.90" fill="#558da3" />
<rect x="98.70" y="428.10" width="15.25" height="5.95" fill="#558da3" />
<rect x="98.70" y="433.55" width="15.25" height="5.45" fill="#558da3" />
<rect x="113.05" y="428.10" width="15.25" height="5.95" fill="#558da3" />
<rect x="113.05" y="433.55" width="15.25" height="5.45" fill="#587a91" />
<rect x="127.40" y="428.10" width="15.25" height="5.95" fill="#558da3" />
<rect x="127.40" y="433.55" width="15.25" height="5.45" fill="#705468" />
<rect x="141.75" y="428.10" width="15.25" height="5.95" fill="#558da3" />
<rect x="141.75" y="433.55" width="15.25" height="5.45" fill="#913d4d" />
<rect x="156.10" y="428.10" width="15.25" height="5.95" fill="#558da3" />
<rect x="156.10" y="433.55" width="15.25" height="5.45" fill="#9c3847" />
<rect x="170.45" y="428.10" width="14.35" height="5.95" fill="#558da3" />
<rect x="170.45" y="433.55" width="14.35" height="5.45" fill="#bd2b36" />
<line x1="77.30" y1="428.40" x2="77.30" y2="438.70" stroke="#555" stroke-width="0.6" />
<text font-size="4.4" fill="#c4c4c4" stroke="#c4c4c4" stroke-width="0.03" transform="translate(79.50 432.50) scale(1.02 1.1)" >DMSO</text>
<text font-size="4.4" stroke="#222" stroke-width="0.03" transform="translate(79.50 438.00) scale(1.02 1.1)" >Nutlin-3a</text>
<text font-size="5.6" text-anchor="end" stroke="#222" stroke-width="0.03" transform="translate(74.20 436.00) scale(1.02 1.1)" >+/–</text>
<text font-size="5.3" text-anchor="end" font-style="italic" stroke="#222" stroke-width="0.03" transform="translate(62.60 436.00) scale(1.02 1.1)" >vs.</text>
<text font-size="5.6" text-anchor="end" fill="#d2232a" stroke="#d2232a" stroke-width="0.03" transform="translate(53.00 436.00) scale(1.02 1.1)" >R248Q/–</text>
<rect x="98.70" y="444.90" width="86.10" height="10.90" fill="#558da3" />
<rect x="98.70" y="444.90" width="15.25" height="5.95" fill="#558da3" />
<rect x="98.70" y="450.35" width="15.25" height="5.45" fill="#558da3" />
<rect x="113.05" y="444.90" width="15.25" height="5.95" fill="#558da3" />
<rect x="113.05" y="450.35" width="15.25" height="5.45" fill="#558da3" />
<rect x="127.40" y="444.90" width="15.25" height="5.95" fill="#558ba1" />
<rect x="127.40" y="450.35" width="15.25" height="5.45" fill="#558aa0" />
<rect x="141.75" y="444.90" width="15.25" height="5.95" fill="#558aa0" />
<rect x="141.75" y="450.35" width="15.25" height="5.45" fill="#56899f" />
<rect x="156.10" y="444.90" width="15.25" height="5.95" fill="#558aa0" />
<rect x="156.10" y="450.35" width="15.25" height="5.45" fill="#56889e" />
<rect x="170.45" y="444.90" width="14.35" height="5.95" fill="#56889e" />
<rect x="170.45" y="450.35" width="14.35" height="5.45" fill="#56869d" />
<line x1="77.30" y1="445.20" x2="77.30" y2="455.50" stroke="#555" stroke-width="0.6" />
<text font-size="4.4" fill="#c4c4c4" stroke="#c4c4c4" stroke-width="0.03" transform="translate(79.50 449.30) scale(1.02 1.1)" >DMSO</text>
<text font-size="4.4" stroke="#222" stroke-width="0.03" transform="translate(79.50 454.80) scale(1.02 1.1)" >Nutlin-3a</text>
<text font-size="5.6" text-anchor="end" stroke="#222" stroke-width="0.03" transform="translate(75.20 452.80) scale(1.02 1.1)" >R248Q/+</text>
<text font-size="5.3" text-anchor="end" font-style="italic" stroke="#222" stroke-width="0.03" transform="translate(49.20 452.80) scale(1.02 1.1)" >vs.</text>
<text font-size="5.6" text-anchor="end" fill="#d2232a" stroke="#d2232a" stroke-width="0.03" transform="translate(39.60 452.80) scale(1.02 1.1)" >–/–</text>
<rect x="98.70" y="457.90" width="86.10" height="10.90" fill="#558da3" />
<rect x="98.70" y="457.90" width="15.25" height="5.95" fill="#558da3" />
<rect x="98.70" y="463.35" width="15.25" height="5.45" fill="#558da3" />
<rect x="113.05" y="457.90" width="15.25" height="5.95" fill="#558ba1" />
<rect x="113.05" y="463.35" width="15.25" height="5.45" fill="#558ba1" />
<rect x="127.40" y="457.90" width="15.25" height="5.95" fill="#56859c" />
<rect x="127.40" y="463.35" width="15.25" height="5.45" fill="#56879e" />
<rect x="141.75" y="457.90" width="15.25" height="5.95" fill="#56839a" />
<rect x="141.75" y="463.35" width="15.25" height="5.45" fill="#56859c" />
<rect x="156.10" y="457.90" width="15.25" height="5.95" fill="#578198" />
<rect x="156.10" y="463.35" width="15.25" height="5.45" fill="#578198" />
<rect x="170.45" y="457.90" width="14.35" height="5.95" fill="#578198" />
<rect x="170.45" y="463.35" width="14.35" height="5.45" fill="#578198" />
<line x1="77.30" y1="458.20" x2="77.30" y2="468.50" stroke="#555" stroke-width="0.6" />
<text font-size="4.4" fill="#c4c4c4" stroke="#c4c4c4" stroke-width="0.03" transform="translate(79.50 462.30) scale(1.02 1.1)" >DMSO</text>
<text font-size="4.4" stroke="#222" stroke-width="0.03" transform="translate(79.50 467.80) scale(1.02 1.1)" >Nutlin-3a</text>
<text font-size="5.6" text-anchor="end" stroke="#222" stroke-width="0.03" transform="translate(75.20 465.80) scale(1.02 1.1)" >R248Q/–</text>
<text font-size="5.3" text-anchor="end" font-style="italic" stroke="#222" stroke-width="0.03" transform="translate(49.20 465.80) scale(1.02 1.1)" >vs.</text>
<text font-size="5.6" text-anchor="end" fill="#d2232a" stroke="#d2232a" stroke-width="0.03" transform="translate(39.60 465.80) scale(1.02 1.1)" >–/–</text>
<rect x="98.70" y="470.80" width="86.10" height="10.90" fill="#558da3" />
<rect x="98.70" y="470.80" width="15.25" height="5.95" fill="#558da3" />
<rect x="98.70" y="476.25" width="15.25" height="5.45" fill="#558da3" />
<rect x="113.05" y="470.80" width="15.25" height="5.95" fill="#558da3" />
<rect x="113.05" y="476.25" width="15.25" height="5.45" fill="#558da3" />
<rect x="127.40" y="470.80" width="15.25" height="5.95" fill="#558da3" />
<rect x="127.40" y="476.25" width="15.25" height="5.45" fill="#558da3" />
<rect x="141.75" y="470.80" width="15.25" height="5.95" fill="#558da3" />
<rect x="141.75" y="476.25" width="15.25" height="5.45" fill="#558da3" />
<rect x="156.10" y="470.80" width="15.25" height="5.95" fill="#568fa6" />
<rect x="156.10" y="476.25" width="15.25" height="5.45" fill="#5690a7" />
<rect x="170.45" y="470.80" width="14.35" height="5.95" fill="#5791a8" />
<rect x="170.45" y="476.25" width="14.35" height="5.45" fill="#5792a9" />
<line x1="77.30" y1="471.10" x2="77.30" y2="481.40" stroke="#555" stroke-width="0.6" />
<text font-size="4.4" fill="#c4c4c4" stroke="#c4c4c4" stroke-width="0.03" transform="translate(79.50 475.20) scale(1.02 1.1)" >DMSO</text>
<text font-size="4.4" stroke="#222" stroke-width="0.03" transform="translate(79.50 480.70) scale(1.02 1.1)" >Nutlin-3a</text>
<text font-size="5.6" text-anchor="end" stroke="#222" stroke-width="0.03" transform="translate(75.20 478.70) scale(1.02 1.1)" >R248Q/+</text>
<text font-size="5.3" text-anchor="end" font-style="italic" stroke="#222" stroke-width="0.03" transform="translate(48.00 478.70) scale(1.02 1.1)" >vs.</text>
<text font-size="5.6" text-anchor="end" fill="#d2232a" stroke="#d2232a" stroke-width="0.03" transform="translate(40.60 478.70) scale(1.02 1.1)" >R248Q/–</text>
<rect x="191.10" y="379.00" width="5.50" height="63.70" fill="url(#cbar)" />
<text font-size="4.85" stroke="#222" stroke-width="0.03" transform="translate(202.20 435.80) rotate(-90) scale(1.02 1.1)" ><tspan font-style="italic">TP53</tspan> genotype #1 (%)</text>
<text font-size="10.8" fill="#111" font-weight="bold" stroke="#111" stroke-width="0.03" transform="translate(216.60 226.50) scale(1.02 1.1)" >H</text>
<text font-size="7.0" text-anchor="middle" stroke="#222" stroke-width="0.03" transform="translate(285.80 228.90) scale(1.02 1.1)" >+/+</text>
<text font-size="7.0" text-anchor="middle" stroke="#222" stroke-width="0.03" transform="translate(332.70 228.90) scale(1.02 1.1)" >+/–</text>
<text font-size="7.0" text-anchor="middle" stroke="#222" stroke-width="0.03" transform="translate(378.80 228.90) scale(1.02 1.1)" >–/–</text>
<text font-size="6.2" text-anchor="middle" stroke="#222" stroke-width="0.03" transform="translate(424.90 228.90) scale(1.02 1.1)" >R248Q/+</text>
<text font-size="6.2" text-anchor="middle" stroke="#222" stroke-width="0.03" transform="translate(471.50 228.90) scale(1.02 1.1)" >R248Q/–</text>
<text font-size="6.1" text-anchor="end" stroke="#222" stroke-width="0.03" transform="translate(258.30 256.70) scale(1.02 1.1)" >DMSO</text>
<text font-size="6.1" text-anchor="end" stroke="#222" stroke-width="0.03" transform="translate(258.30 302.90) scale(1.02 1.1)" >Nutlin-3a</text>
<rect x="263.50" y="232.30" width="44.60" height="44.10" fill="#fff" />
<circle cx="288.2" cy="238.6" r="0.45" fill="#e4a074"/>
<circle cx="281.3" cy="262.5" r="0.45" fill="#e4a074"/>
<circle cx="305.4" cy="251.9" r="0.45" fill="#e4a074"/>
<circle cx="293.6" cy="237.3" r="0.4" fill="#f2c8a8"/>
<circle cx="273.7" cy="252.4" r="0.4" fill="#f2c8a8"/>
<circle cx="297.0" cy="255.7" r="0.4" fill="#f2c8a8"/>
<circle cx="278.8" cy="234.5" r="0.4" fill="#f2c8a8"/>
<circle cx="305.4" cy="245.7" r="0.6" fill="#d47c4e"/>
<circle cx="279.6" cy="261.2" r="0.4" fill="#f2c8a8"/>
<circle cx="289.2" cy="262.7" r="0.45" fill="#e4a074"/>
<circle cx="301.7" cy="242.5" r="0.4" fill="#f2c8a8"/>
<circle cx="275.3" cy="238.4" r="0.4" fill="#f2c8a8"/>
<circle cx="275.4" cy="236.8" r="0.45" fill="#e4a074"/>
<circle cx="286.1" cy="239.2" r="0.4" fill="#f2c8a8"/>
<circle cx="289.0" cy="242.0" r="0.45" fill="#e4a074"/>
<circle cx="299.1" cy="251.4" r="0.4" fill="#f2c8a8"/>
<circle cx="303.0" cy="247.9" r="0.4" fill="#f2c8a8"/>
<circle cx="291.8" cy="259.6" r="0.6" fill="#d47c4e"/>
<circle cx="288.9" cy="246.2" r="0.45" fill="#e4a074"/>
<circle cx="303.0" cy="251.6" r="0.4" fill="#f2c8a8"/>
<circle cx="278.9" cy="251.5" r="0.4" fill="#f2c8a8"/>
<circle cx="302.7" cy="250.7" r="0.45" fill="#e4a074"/>
<circle cx="298.7" cy="248.1" r="0.6" fill="#d47c4e"/>
<circle cx="290.5" cy="245.2" r="0.4" fill="#f2c8a8"/>
<circle cx="283.4" cy="263.7" r="0.45" fill="#e4a074"/>
<circle cx="285.3" cy="267.3" r="0.4" fill="#f2c8a8"/>
<circle cx="296.6" cy="247.1" r="0.4" fill="#f2c8a8"/>
<circle cx="268.8" cy="243.8" r="0.4" fill="#f2c8a8"/>
<circle cx="299.0" cy="246.4" r="0.45" fill="#e4a074"/>
<circle cx="283.3" cy="253.3" r="0.4" fill="#f2c8a8"/>
<circle cx="286.6" cy="255.0" r="0.45" fill="#e4a074"/>
<circle cx="292.9" cy="266.5" r="0.45" fill="#e4a074"/>
<circle cx="274.9" cy="249.6" r="0.45" fill="#e4a074"/>
<circle cx="268.6" cy="247.4" r="0.4" fill="#f2c8a8"/>
<circle cx="276.4" cy="249.9" r="0.4" fill="#f2c8a8"/>
<circle cx="288.2" cy="238.9" r="0.45" fill="#e4a074"/>
<circle cx="287.4" cy="233.7" r="0.4" fill="#f2c8a8"/>
<circle cx="274.7" cy="244.1" r="0.45" fill="#e4a074"/>
<circle cx="281.1" cy="240.5" r="0.45" fill="#e4a074"/>
<circle cx="265.9" cy="256.6" r="0.45" fill="#e4a074"/>
<circle cx="300.6" cy="239.5" r="0.4" fill="#f2c8a8"/>
<circle cx="267.1" cy="246.3" r="0.45" fill="#e4a074"/>
<circle cx="290.9" cy="259.3" r="0.4" fill="#f2c8a8"/>
<circle cx="295.3" cy="258.3" r="0.4" fill="#f2c8a8"/>
<circle cx="277.1" cy="237.5" r="0.6" fill="#d47c4e"/>
<circle cx="296.1" cy="268.4" r="0.45" fill="#e4a074"/>
<circle cx="298.4" cy="269.2" r="0.6" fill="#d47c4e"/>
<circle cx="290.0" cy="273.9" r="0.4" fill="#f2c8a8"/>
<circle cx="265.3" cy="255.4" r="0.45" fill="#e4a074"/>
<circle cx="293.4" cy="265.5" r="0.45" fill="#e4a074"/>
<circle cx="281.2" cy="261.6" r="0.4" fill="#f2c8a8"/>
<circle cx="285.6" cy="250.9" r="0.45" fill="#e4a074"/>
<circle cx="283.5" cy="254.8" r="0.4" fill="#f2c8a8"/>
<circle cx="275.4" cy="243.2" r="0.4" fill="#f2c8a8"/>
<circle cx="304.7" cy="252.0" r="0.6" fill="#d47c4e"/>
<circle cx="294.7" cy="260.4" r="0.4" fill="#f2c8a8"/>
<circle cx="288.1" cy="243.0" r="0.4" fill="#f2c8a8"/>
<circle cx="268.4" cy="263.2" r="0.45" fill="#e4a074"/>
<circle cx="285.7" cy="261.9" r="0.6" fill="#d47c4e"/>
<circle cx="270.2" cy="246.2" r="0.4" fill="#f2c8a8"/>
<circle cx="302.4" cy="259.9" r="0.4" fill="#f2c8a8"/>
<circle cx="304.4" cy="262.7" r="0.45" fill="#e4a074"/>
<circle cx="288.0" cy="248.0" r="0.45" fill="#e4a074"/>
<circle cx="303.9" cy="261.7" r="0.4" fill="#f2c8a8"/>
<circle cx="277.8" cy="267.0" r="0.6" fill="#d47c4e"/>
<circle cx="285.3" cy="261.3" r="0.45" fill="#e4a074"/>
<circle cx="286.6" cy="260.7" r="0.4" fill="#f2c8a8"/>
<circle cx="295.1" cy="256.7" r="0.4" fill="#f2c8a8"/>
<circle cx="279.9" cy="271.0" r="0.4" fill="#f2c8a8"/>
<circle cx="277.2" cy="253.7" r="0.4" fill="#f2c8a8"/>
<circle cx="296.5" cy="254.9" r="0.4" fill="#f2c8a8"/>
<circle cx="284.4" cy="238.2" r="0.4" fill="#f2c8a8"/>
<circle cx="266.1" cy="257.0" r="0.4" fill="#f2c8a8"/>
<circle cx="291.9" cy="241.2" r="0.4" fill="#f2c8a8"/>
<circle cx="292.8" cy="242.4" r="0.45" fill="#e4a074"/>
<circle cx="278.2" cy="234.5" r="0.4" fill="#f2c8a8"/>
<circle cx="294.8" cy="238.4" r="0.45" fill="#e4a074"/>
<circle cx="275.9" cy="260.7" r="0.4" fill="#f2c8a8"/>
<circle cx="289.9" cy="257.8" r="0.45" fill="#e4a074"/>
<circle cx="285.8" cy="262.2" r="0.4" fill="#f2c8a8"/>
<circle cx="296.7" cy="237.3" r="0.45" fill="#e4a074"/>
<circle cx="284.0" cy="263.9" r="0.4" fill="#f2c8a8"/>
<circle cx="278.0" cy="255.9" r="0.4" fill="#f2c8a8"/>
<circle cx="284.4" cy="274.3" r="0.6" fill="#d47c4e"/>
<circle cx="276.2" cy="250.7" r="0.6" fill="#d47c4e"/>
<circle cx="281.5" cy="265.4" r="0.4" fill="#f2c8a8"/>
<circle cx="275.5" cy="263.5" r="0.45" fill="#e4a074"/>
<circle cx="290.6" cy="268.0" r="0.4" fill="#f2c8a8"/>
<circle cx="285.5" cy="260.0" r="0.4" fill="#f2c8a8"/>
<circle cx="289.1" cy="254.6" r="0.4" fill="#f2c8a8"/>
<circle cx="287.8" cy="269.7" r="0.45" fill="#e4a074"/>
<circle cx="286.2" cy="236.7" r="0.45" fill="#e4a074"/>
<circle cx="295.6" cy="244.7" r="0.4" fill="#f2c8a8"/>
<circle cx="294.2" cy="253.0" r="0.45" fill="#e4a074"/>
<circle cx="283.4" cy="250.3" r="0.45" fill="#e4a074"/>
<circle cx="299.0" cy="243.3" r="0.45" fill="#e4a074"/>
<circle cx="289.1" cy="246.5" r="0.45" fill="#e4a074"/>
<circle cx="266.9" cy="253.2" r="0.45" fill="#e4a074"/>
<circle cx="293.5" cy="239.5" r="0.6" fill="#d47c4e"/>
<circle cx="278.9" cy="237.8" r="0.4" fill="#f2c8a8"/>
<circle cx="293.6" cy="255.2" r="0.4" fill="#f2c8a8"/>
<circle cx="301.3" cy="265.5" r="0.45" fill="#e4a074"/>
<circle cx="274.6" cy="241.8" r="0.45" fill="#e4a074"/>
<circle cx="284.9" cy="253.8" r="0.45" fill="#e4a074"/>
<circle cx="285.9" cy="238.9" r="0.45" fill="#e4a074"/>
<circle cx="283.2" cy="249.2" r="0.45" fill="#e4a074"/>
<circle cx="286.0" cy="259.5" r="0.4" fill="#f2c8a8"/>
<circle cx="284.9" cy="244.3" r="0.45" fill="#e4a074"/>
<circle cx="300.7" cy="251.5" r="0.4" fill="#f2c8a8"/>
<circle cx="268.9" cy="256.0" r="0.45" fill="#e4a074"/>
<circle cx="273.6" cy="242.5" r="0.4" fill="#f2c8a8"/>
<circle cx="292.5" cy="262.2" r="0.45" fill="#e4a074"/>
<circle cx="280.8" cy="268.7" r="0.4" fill="#f2c8a8"/>
<circle cx="296.2" cy="257.8" r="0.45" fill="#e4a074"/>
<circle cx="280.0" cy="237.6" r="0.4" fill="#f2c8a8"/>
<circle cx="271.9" cy="252.3" r="0.4" fill="#f2c8a8"/>
<circle cx="300.7" cy="267.2" r="0.4" fill="#f2c8a8"/>
<circle cx="306.2" cy="251.0" r="0.4" fill="#f2c8a8"/>
<circle cx="267.7" cy="258.6" r="0.6" fill="#d47c4e"/>
<circle cx="275.8" cy="257.2" r="0.4" fill="#f2c8a8"/>
<circle cx="295.2" cy="250.5" r="0.45" fill="#e4a074"/>
<circle cx="295.7" cy="265.6" r="0.6" fill="#d47c4e"/>
<circle cx="298.9" cy="267.8" r="0.45" fill="#e4a074"/>
<circle cx="299.4" cy="242.3" r="0.4" fill="#f2c8a8"/>
<circle cx="297.8" cy="245.0" r="0.4" fill="#f2c8a8"/>
<circle cx="300.8" cy="254.1" r="0.4" fill="#f2c8a8"/>
<circle cx="283.6" cy="261.2" r="0.4" fill="#f2c8a8"/>
<circle cx="278.3" cy="271.4" r="0.4" fill="#f2c8a8"/>
<circle cx="286.2" cy="234.5" r="0.4" fill="#f2c8a8"/>
<circle cx="302.0" cy="245.8" r="0.6" fill="#d47c4e"/>
<circle cx="282.9" cy="266.2" r="0.4" fill="#f2c8a8"/>
<circle cx="302.2" cy="253.6" r="0.4" fill="#f2c8a8"/>
<circle cx="276.2" cy="258.6" r="0.4" fill="#f2c8a8"/>
<circle cx="301.5" cy="265.2" r="0.4" fill="#f2c8a8"/>
<circle cx="295.7" cy="249.6" r="0.4" fill="#f2c8a8"/>
<circle cx="277.0" cy="253.1" r="0.4" fill="#f2c8a8"/>
<circle cx="305.1" cy="248.4" r="0.45" fill="#e4a074"/>
<circle cx="272.4" cy="239.0" r="0.6" fill="#d47c4e"/>
<circle cx="269.1" cy="248.3" r="0.4" fill="#f2c8a8"/>
<circle cx="284.5" cy="239.7" r="0.45" fill="#e4a074"/>
<circle cx="279.2" cy="244.9" r="0.4" fill="#f2c8a8"/>
<circle cx="292.8" cy="250.4" r="0.4" fill="#f2c8a8"/>
<circle cx="279.7" cy="263.3" r="0.45" fill="#e4a074"/>
<circle cx="296.7" cy="252.2" r="0.45" fill="#e4a074"/>
<circle cx="281.2" cy="268.6" r="0.4" fill="#f2c8a8"/>
<circle cx="290.3" cy="261.1" r="0.4" fill="#f2c8a8"/>
<circle cx="298.4" cy="245.5" r="0.4" fill="#f2c8a8"/>
<circle cx="303.5" cy="242.1" r="0.4" fill="#f2c8a8"/>
<circle cx="292.0" cy="260.8" r="0.4" fill="#f2c8a8"/>
<circle cx="282.6" cy="259.1" r="0.4" fill="#f2c8a8"/>
<circle cx="285.3" cy="269.6" r="0.6" fill="#d47c4e"/>
<circle cx="286.1" cy="240.3" r="0.4" fill="#f2c8a8"/>
<circle cx="273.4" cy="251.8" r="0.4" fill="#f2c8a8"/>
<circle cx="296.3" cy="258.0" r="0.6" fill="#d47c4e"/>
<circle cx="296.6" cy="264.3" r="0.45" fill="#e4a074"/>
<circle cx="292.5" cy="246.3" r="0.4" fill="#f2c8a8"/>
<circle cx="286.2" cy="267.0" r="0.4" fill="#f2c8a8"/>
<circle cx="304.6" cy="248.2" r="0.6" fill="#d47c4e"/>
<circle cx="289.8" cy="254.3" r="0.45" fill="#e4a074"/>
<circle cx="297.6" cy="244.9" r="0.45" fill="#e4a074"/>
<circle cx="299.2" cy="253.8" r="0.6" fill="#d47c4e"/>
<circle cx="295.0" cy="236.5" r="0.6" fill="#d47c4e"/>
<circle cx="286.2" cy="260.7" r="0.4" fill="#f2c8a8"/>
<circle cx="268.9" cy="251.3" r="0.6" fill="#d47c4e"/>
<circle cx="283.1" cy="237.1" r="0.45" fill="#e4a074"/>
<circle cx="271.1" cy="257.9" r="0.4" fill="#f2c8a8"/>
<circle cx="288.1" cy="243.8" r="0.6" fill="#d47c4e"/>
<circle cx="279.0" cy="244.6" r="0.4" fill="#f2c8a8"/>
<circle cx="285.9" cy="270.5" r="0.45" fill="#e4a074"/>
<circle cx="290.3" cy="257.4" r="0.45" fill="#e4a074"/>
<circle cx="274.8" cy="247.2" r="0.4" fill="#f2c8a8"/>
<circle cx="284.4" cy="252.5" r="0.4" fill="#f2c8a8"/>
<circle cx="266.2" cy="258.8" r="0.45" fill="#e4a074"/>
<circle cx="296.9" cy="244.1" r="0.4" fill="#f2c8a8"/>
<circle cx="286.5" cy="274.3" r="0.45" fill="#e4a074"/>
<circle cx="285.0" cy="256.7" r="0.4" fill="#f2c8a8"/>
<circle cx="279.9" cy="241.6" r="0.4" fill="#f2c8a8"/>
<circle cx="276.1" cy="236.2" r="0.4" fill="#f2c8a8"/>
<circle cx="298.0" cy="256.3" r="0.4" fill="#f2c8a8"/>
<circle cx="282.3" cy="245.2" r="0.45" fill="#e4a074"/>
<circle cx="285.1" cy="238.9" r="0.4" fill="#f2c8a8"/>
<circle cx="297.6" cy="251.5" r="0.45" fill="#e4a074"/>
<circle cx="287.3" cy="263.6" r="0.45" fill="#e4a074"/>
<circle cx="280.4" cy="273.4" r="0.4" fill="#f2c8a8"/>
<circle cx="289.9" cy="262.9" r="0.4" fill="#f2c8a8"/>
<circle cx="275.7" cy="236.1" r="0.4" fill="#f2c8a8"/>
<circle cx="278.5" cy="259.8" r="0.6" fill="#d47c4e"/>
<circle cx="289.1" cy="257.5" r="0.4" fill="#f2c8a8"/>
<circle cx="270.5" cy="266.1" r="0.6" fill="#d47c4e"/>
<circle cx="283.8" cy="232.9" r="0.6" fill="#d47c4e"/>
<circle cx="281.8" cy="261.7" r="0.6" fill="#d47c4e"/>
<circle cx="286.0" cy="250.0" r="0.45" fill="#e4a074"/>
<circle cx="276.8" cy="262.6" r="0.4" fill="#f2c8a8"/>
<circle cx="286.6" cy="254.7" r="0.4" fill="#f2c8a8"/>
<circle cx="273.9" cy="270.2" r="0.4" fill="#f2c8a8"/>
<circle cx="295.4" cy="251.6" r="0.4" fill="#f2c8a8"/>
<circle cx="294.4" cy="236.6" r="0.4" fill="#f2c8a8"/>
<circle cx="299.9" cy="258.2" r="0.4" fill="#f2c8a8"/>
<circle cx="294.2" cy="249.3" r="0.4" fill="#f2c8a8"/>
<circle cx="289.0" cy="251.5" r="0.4" fill="#f2c8a8"/>
<circle cx="293.1" cy="236.7" r="0.4" fill="#f2c8a8"/>
<circle cx="291.2" cy="254.9" r="0.6" fill="#d47c4e"/>
<circle cx="285.3" cy="271.9" r="0.6" fill="#d47c4e"/>
<circle cx="280.3" cy="263.0" r="0.6" fill="#d47c4e"/>
<circle cx="278.1" cy="246.5" r="0.45" fill="#e4a074"/>
<circle cx="281.6" cy="263.8" r="0.4" fill="#f2c8a8"/>
<circle cx="286.8" cy="233.7" r="0.45" fill="#e4a074"/>
<circle cx="289.2" cy="252.6" r="0.4" fill="#f2c8a8"/>
<circle cx="265.8" cy="256.9" r="0.6" fill="#d47c4e"/>
<circle cx="278.1" cy="260.6" r="0.4" fill="#f2c8a8"/>
<circle cx="265.9" cy="254.6" r="0.4" fill="#f2c8a8"/>
<circle cx="292.0" cy="236.7" r="0.45" fill="#e4a074"/>
<circle cx="288.4" cy="237.6" r="0.4" fill="#f2c8a8"/>
<circle cx="280.8" cy="265.2" r="0.45" fill="#e4a074"/>
<circle cx="294.3" cy="258.2" r="0.45" fill="#e4a074"/>
<circle cx="286.2" cy="259.1" r="0.4" fill="#f2c8a8"/>
<circle cx="274.8" cy="249.9" r="0.6" fill="#d47c4e"/>
<circle cx="301.6" cy="239.8" r="0.4" fill="#f2c8a8"/>
<circle cx="291.7" cy="257.0" r="0.4" fill="#f2c8a8"/>
<circle cx="282.6" cy="240.2" r="0.4" fill="#f2c8a8"/>
<circle cx="271.8" cy="262.0" r="0.45" fill="#e4a074"/>
<circle cx="285.9" cy="234.4" r="0.45" fill="#e4a074"/>
<circle cx="300.0" cy="267.0" r="0.4" fill="#f2c8a8"/>
<circle cx="274.4" cy="248.5" r="0.45" fill="#e4a074"/>
<circle cx="289.4" cy="263.7" r="0.4" fill="#f2c8a8"/>
<circle cx="297.4" cy="270.0" r="0.45" fill="#e4a074"/>
<circle cx="280.0" cy="265.5" r="0.6" fill="#d47c4e"/>
<circle cx="276.0" cy="253.3" r="0.45" fill="#e4a074"/>
<circle cx="274.2" cy="236.6" r="0.4" fill="#f2c8a8"/>
<circle cx="267.3" cy="256.8" r="0.45" fill="#e4a074"/>
<circle cx="289.7" cy="251.6" r="0.4" fill="#f2c8a8"/>
<circle cx="292.8" cy="260.0" r="0.6" fill="#d47c4e"/>
<circle cx="268.5" cy="243.6" r="0.4" fill="#f2c8a8"/>
<circle cx="295.5" cy="243.3" r="0.4" fill="#f2c8a8"/>
<circle cx="289.6" cy="233.6" r="0.4" fill="#f2c8a8"/>
<circle cx="272.5" cy="244.4" r="0.4" fill="#f2c8a8"/>
<circle cx="280.7" cy="259.5" r="0.4" fill="#f2c8a8"/>
<circle cx="285.6" cy="270.0" r="0.45" fill="#e4a074"/>
<circle cx="286.7" cy="255.9" r="0.4" fill="#f2c8a8"/>
<circle cx="282.2" cy="245.6" r="0.4" fill="#f2c8a8"/>
<circle cx="291.5" cy="271.7" r="0.45" fill="#e4a074"/>
<circle cx="292.3" cy="256.3" r="0.4" fill="#f2c8a8"/>
<circle cx="270.1" cy="248.5" r="0.4" fill="#f2c8a8"/>
<circle cx="295.1" cy="268.7" r="0.4" fill="#f2c8a8"/>
<circle cx="283.7" cy="265.1" r="0.6" fill="#d47c4e"/>
<circle cx="280.1" cy="268.4" r="0.4" fill="#f2c8a8"/>
<circle cx="269.2" cy="263.5" r="0.6" fill="#d47c4e"/>
<circle cx="280.0" cy="260.8" r="0.45" fill="#e4a074"/>
<circle cx="286.6" cy="255.3" r="0.6" fill="#d47c4e"/>
<circle cx="269.2" cy="262.5" r="0.4" fill="#f2c8a8"/>
<circle cx="296.7" cy="244.2" r="0.4" fill="#f2c8a8"/>
<circle cx="301.6" cy="255.2" r="0.45" fill="#e4a074"/>
<circle cx="291.4" cy="250.4" r="0.45" fill="#e4a074"/>
<circle cx="275.8" cy="264.6" r="0.4" fill="#f2c8a8"/>
<circle cx="283.0" cy="268.6" r="0.6" fill="#d47c4e"/>
<circle cx="297.5" cy="263.0" r="0.45" fill="#e4a074"/>
<circle cx="295.2" cy="251.8" r="0.4" fill="#f2c8a8"/>
<circle cx="305.5" cy="246.5" r="0.4" fill="#f2c8a8"/>
<circle cx="305.2" cy="260.4" r="0.4" fill="#f2c8a8"/>
<circle cx="299.7" cy="244.4" r="0.45" fill="#e4a074"/>
<circle cx="296.0" cy="269.5" r="0.4" fill="#f2c8a8"/>
<circle cx="270.2" cy="264.7" r="0.45" fill="#e4a074"/>
<circle cx="290.1" cy="262.7" r="0.4" fill="#f2c8a8"/>
<circle cx="273.2" cy="252.3" r="0.4" fill="#f2c8a8"/>
<circle cx="286.4" cy="271.6" r="0.6" fill="#d47c4e"/>
<circle cx="301.3" cy="257.8" r="0.45" fill="#e4a074"/>
<circle cx="304.8" cy="258.3" r="0.4" fill="#f2c8a8"/>
<circle cx="273.5" cy="244.6" r="0.45" fill="#e4a074"/>
<circle cx="281.4" cy="266.5" r="0.45" fill="#e4a074"/>
<circle cx="270.9" cy="261.4" r="0.4" fill="#f2c8a8"/>
<circle cx="283.1" cy="255.0" r="0.45" fill="#e4a074"/>
<circle cx="275.9" cy="254.4" r="0.45" fill="#e4a074"/>
<circle cx="288.8" cy="239.8" r="0.4" fill="#f2c8a8"/>
<circle cx="279.3" cy="254.9" r="0.4" fill="#f2c8a8"/>
<circle cx="280.3" cy="256.4" r="0.4" fill="#f2c8a8"/>
<circle cx="281.9" cy="253.5" r="0.45" fill="#e4a074"/>
<circle cx="301.7" cy="262.6" r="0.45" fill="#e4a074"/>
<circle cx="281.2" cy="253.4" r="0.45" fill="#e4a074"/>
<circle cx="271.4" cy="268.0" r="0.4" fill="#f2c8a8"/>
<circle cx="299.2" cy="237.4" r="0.45" fill="#e4a074"/>
<circle cx="289.8" cy="245.3" r="0.6" fill="#d47c4e"/>
<circle cx="265.6" cy="254.8" r="0.6" fill="#d47c4e"/>
<circle cx="295.6" cy="269.8" r="0.6" fill="#d47c4e"/>
<circle cx="297.5" cy="258.7" r="0.45" fill="#e4a074"/>
<circle cx="296.9" cy="270.5" r="0.4" fill="#f2c8a8"/>
<circle cx="289.3" cy="246.5" r="0.45" fill="#e4a074"/>
<circle cx="294.5" cy="249.1" r="0.4" fill="#f2c8a8"/>
<circle cx="274.2" cy="253.3" r="0.4" fill="#f2c8a8"/>
<circle cx="289.6" cy="261.4" r="0.6" fill="#d47c4e"/>
<circle cx="277.6" cy="235.8" r="0.4" fill="#f2c8a8"/>
<circle cx="287.6" cy="246.8" r="0.45" fill="#e4a074"/>
<circle cx="277.8" cy="244.2" r="0.6" fill="#d47c4e"/>
<circle cx="271.1" cy="248.3" r="0.6" fill="#d47c4e"/>
<circle cx="302.7" cy="266.5" r="0.45" fill="#e4a074"/>
<circle cx="271.3" cy="265.3" r="0.4" fill="#f2c8a8"/>
<circle cx="302.0" cy="252.8" r="0.4" fill="#f2c8a8"/>
<circle cx="287.4" cy="239.8" r="0.4" fill="#f2c8a8"/>
<circle cx="285.9" cy="249.1" r="0.45" fill="#e4a074"/>
<circle cx="285.7" cy="270.5" r="0.6" fill="#d47c4e"/>
<circle cx="271.4" cy="245.0" r="0.4" fill="#f2c8a8"/>
<circle cx="290.0" cy="253.8" r="0.4" fill="#f2c8a8"/>
<circle cx="275.8" cy="244.6" r="0.45" fill="#e4a074"/>
<circle cx="292.1" cy="249.1" r="0.4" fill="#f2c8a8"/>
<circle cx="284.3" cy="251.2" r="0.4" fill="#f2c8a8"/>
<circle cx="281.9" cy="259.2" r="0.4" fill="#f2c8a8"/>
<circle cx="288.7" cy="269.6" r="0.45" fill="#e4a074"/>
<circle cx="290.8" cy="269.7" r="0.4" fill="#f2c8a8"/>
<circle cx="299.6" cy="269.0" r="0.4" fill="#f2c8a8"/>
<circle cx="289.9" cy="259.0" r="0.45" fill="#e4a074"/>
<circle cx="298.9" cy="240.3" r="0.4" fill="#f2c8a8"/>
<circle cx="285.9" cy="256.0" r="0.45" fill="#e4a074"/>
<circle cx="274.6" cy="249.0" r="0.45" fill="#e4a074"/>
<circle cx="267.0" cy="260.8" r="0.45" fill="#e4a074"/>
<circle cx="286.3" cy="273.7" r="0.4" fill="#f2c8a8"/>
<circle cx="273.0" cy="251.1" r="0.4" fill="#f2c8a8"/>
<circle cx="303.4" cy="260.4" r="0.4" fill="#f2c8a8"/>
<circle cx="266.8" cy="247.3" r="0.4" fill="#f2c8a8"/>
<circle cx="291.2" cy="269.3" r="0.45" fill="#e4a074"/>
<circle cx="274.2" cy="239.0" r="0.4" fill="#f2c8a8"/>
<circle cx="281.9" cy="264.5" r="0.4" fill="#f2c8a8"/>
<circle cx="300.4" cy="241.8" r="0.45" fill="#e4a074"/>
<circle cx="305.4" cy="254.5" r="0.45" fill="#e4a074"/>
<circle cx="268.4" cy="257.7" r="0.4" fill="#f2c8a8"/>
<circle cx="287.1" cy="260.5" r="0.4" fill="#f2c8a8"/>
<circle cx="297.9" cy="256.7" r="0.45" fill="#e4a074"/>
<circle cx="279.6" cy="235.6" r="0.45" fill="#e4a074"/>
<circle cx="284.5" cy="269.3" r="0.4" fill="#f2c8a8"/>
<circle cx="289.7" cy="239.0" r="0.4" fill="#f2c8a8"/>
<circle cx="273.1" cy="237.7" r="0.4" fill="#f2c8a8"/>
<circle cx="288.0" cy="252.0" r="0.4" fill="#f2c8a8"/>
<circle cx="287.7" cy="271.8" r="0.6" fill="#d47c4e"/>
<circle cx="285.8" cy="241.7" r="0.6" fill="#d47c4e"/>
<circle cx="281.2" cy="262.8" r="0.6" fill="#d47c4e"/>
<circle cx="274.2" cy="241.0" r="0.45" fill="#e4a074"/>
<circle cx="300.4" cy="251.9" r="0.45" fill="#e4a074"/>
<circle cx="279.8" cy="235.3" r="0.4" fill="#f2c8a8"/>
<circle cx="283.6" cy="238.1" r="0.4" fill="#f2c8a8"/>
<circle cx="290.0" cy="269.8" r="0.4" fill="#f2c8a8"/>
<circle cx="292.9" cy="249.5" r="0.4" fill="#f2c8a8"/>
<circle cx="302.0" cy="266.3" r="0.4" fill="#f2c8a8"/>
<circle cx="288.3" cy="256.5" r="0.4" fill="#f2c8a8"/>
<circle cx="280.2" cy="238.1" r="0.45" fill="#e4a074"/>
<circle cx="285.7" cy="248.4" r="0.45" fill="#e4a074"/>
<circle cx="273.7" cy="268.1" r="0.45" fill="#e4a074"/>
<circle cx="290.3" cy="250.3" r="0.6" fill="#d47c4e"/>
<circle cx="303.6" cy="243.3" r="0.4" fill="#f2c8a8"/>
<circle cx="288.0" cy="260.5" r="0.4" fill="#f2c8a8"/>
<circle cx="297.0" cy="238.3" r="0.45" fill="#e4a074"/>
<circle cx="293.7" cy="238.9" r="0.4" fill="#f2c8a8"/>
<circle cx="291.4" cy="257.6" r="0.45" fill="#e4a074"/>
<circle cx="289.4" cy="265.1" r="0.4" fill="#f2c8a8"/>
<circle cx="296.6" cy="255.1" r="0.4" fill="#f2c8a8"/>
<circle cx="283.4" cy="241.3" r="0.4" fill="#f2c8a8"/>
<circle cx="300.6" cy="250.4" r="0.45" fill="#e4a074"/>
<circle cx="283.4" cy="251.2" r="0.4" fill="#f2c8a8"/>
<circle cx="269.1" cy="260.9" r="0.4" fill="#f2c8a8"/>
<circle cx="281.8" cy="239.0" r="0.4" fill="#f2c8a8"/>
<circle cx="290.2" cy="248.9" r="0.45" fill="#e4a074"/>
<circle cx="286.5" cy="254.4" r="0.4" fill="#f2c8a8"/>
<circle cx="287.7" cy="233.0" r="0.4" fill="#f2c8a8"/>
<circle cx="271.4" cy="254.6" r="0.45" fill="#e4a074"/>
<circle cx="292.0" cy="267.3" r="0.4" fill="#f2c8a8"/>
<circle cx="291.4" cy="244.4" r="0.6" fill="#d47c4e"/>
<circle cx="284.1" cy="263.3" r="0.45" fill="#e4a074"/>
<circle cx="279.1" cy="253.8" r="0.45" fill="#e4a074"/>
<circle cx="302.4" cy="262.8" r="0.45" fill="#e4a074"/>
<circle cx="289.9" cy="237.6" r="0.4" fill="#f2c8a8"/>
<circle cx="275.4" cy="261.4" r="0.6" fill="#d47c4e"/>
<circle cx="303.1" cy="264.0" r="0.4" fill="#f2c8a8"/>
<circle cx="289.0" cy="264.1" r="0.6" fill="#d47c4e"/>
<circle cx="273.2" cy="253.7" r="0.6" fill="#d47c4e"/>
<circle cx="287.6" cy="267.9" r="0.45" fill="#e4a074"/>
<circle cx="286.6" cy="235.5" r="0.45" fill="#e4a074"/>
<circle cx="279.1" cy="263.5" r="0.4" fill="#f2c8a8"/>
<circle cx="295.5" cy="239.5" r="0.45" fill="#e4a074"/>
<circle cx="292.8" cy="265.9" r="0.45" fill="#e4a074"/>
<circle cx="279.5" cy="250.2" r="0.4" fill="#f2c8a8"/>
<circle cx="293.8" cy="247.0" r="0.4" fill="#f2c8a8"/>
<circle cx="280.5" cy="270.4" r="0.45" fill="#e4a074"/>
<circle cx="290.8" cy="260.6" r="0.4" fill="#f2c8a8"/>
<circle cx="279.1" cy="267.2" r="0.4" fill="#f2c8a8"/>
<circle cx="281.8" cy="261.8" r="0.6" fill="#d47c4e"/>
<circle cx="285.2" cy="247.1" r="0.6" fill="#d47c4e"/>
<circle cx="296.6" cy="261.5" r="0.6" fill="#d47c4e"/>
<circle cx="291.1" cy="236.5" r="0.4" fill="#f2c8a8"/>
<circle cx="291.7" cy="269.6" r="0.4" fill="#f2c8a8"/>
<circle cx="289.6" cy="266.3" r="0.4" fill="#f2c8a8"/>
<circle cx="271.1" cy="264.8" r="0.45" fill="#e4a074"/>
<circle cx="269.4" cy="253.7" r="0.4" fill="#f2c8a8"/>
<circle cx="296.4" cy="266.4" r="0.4" fill="#f2c8a8"/>
<circle cx="285.0" cy="233.8" r="0.4" fill="#f2c8a8"/>
<circle cx="269.9" cy="245.6" r="0.4" fill="#f2c8a8"/>
<circle cx="288.5" cy="271.4" r="0.6" fill="#d47c4e"/>
<circle cx="288.7" cy="236.4" r="0.45" fill="#e4a074"/>
<circle cx="278.9" cy="238.5" r="0.4" fill="#f2c8a8"/>
<circle cx="279.7" cy="269.1" r="0.4" fill="#f2c8a8"/>
<circle cx="269.8" cy="262.7" r="0.45" fill="#e4a074"/>
<circle cx="278.9" cy="246.1" r="0.4" fill="#f2c8a8"/>
<circle cx="270.2" cy="258.4" r="0.4" fill="#f2c8a8"/>
<circle cx="276.9" cy="235.7" r="0.4" fill="#f2c8a8"/>
<circle cx="275.6" cy="238.5" r="0.4" fill="#f2c8a8"/>
<circle cx="265.4" cy="255.1" r="0.4" fill="#f2c8a8"/>
<circle cx="278.0" cy="251.5" r="0.45" fill="#e4a074"/>
<circle cx="300.2" cy="248.2" r="0.4" fill="#f2c8a8"/>
<circle cx="272.3" cy="246.8" r="0.45" fill="#e4a074"/>
<circle cx="269.4" cy="252.5" r="0.45" fill="#e4a074"/>
<circle cx="272.8" cy="251.9" r="0.6" fill="#d47c4e"/>
<circle cx="290.4" cy="270.6" r="0.4" fill="#f2c8a8"/>
<circle cx="286.7" cy="246.4" r="0.6" fill="#d47c4e"/>
<circle cx="283.0" cy="257.7" r="0.4" fill="#f2c8a8"/>
<circle cx="284.1" cy="255.2" r="0.4" fill="#f2c8a8"/>
<circle cx="270.7" cy="262.2" r="0.4" fill="#f2c8a8"/>
<circle cx="285.2" cy="263.7" r="0.45" fill="#e4a074"/>
<circle cx="300.3" cy="248.1" r="0.4" fill="#f2c8a8"/>
<circle cx="290.3" cy="241.3" r="0.4" fill="#f2c8a8"/>
<circle cx="298.8" cy="267.2" r="0.45" fill="#e4a074"/>
<circle cx="276.5" cy="243.0" r="0.45" fill="#e4a074"/>
<circle cx="289.2" cy="274.1" r="0.4" fill="#f2c8a8"/>
<circle cx="273.9" cy="239.2" r="0.45" fill="#e4a074"/>
<circle cx="274.9" cy="256.0" r="0.45" fill="#e4a074"/>
<circle cx="299.6" cy="267.3" r="0.4" fill="#f2c8a8"/>
<circle cx="292.5" cy="245.0" r="0.4" fill="#f2c8a8"/>
<circle cx="285.8" cy="267.5" r="0.4" fill="#f2c8a8"/>
<circle cx="303.9" cy="254.1" r="0.4" fill="#f2c8a8"/>
<circle cx="286.5" cy="265.3" r="0.4" fill="#f2c8a8"/>
<circle cx="271.0" cy="261.0" r="0.45" fill="#e4a074"/>
<circle cx="273.0" cy="269.1" r="0.45" fill="#e4a074"/>
<circle cx="304.0" cy="260.5" r="0.6" fill="#d47c4e"/>
<circle cx="287.8" cy="246.1" r="0.45" fill="#e4a074"/>
<circle cx="284.4" cy="251.8" r="0.4" fill="#f2c8a8"/>
<circle cx="302.3" cy="248.7" r="0.4" fill="#f2c8a8"/>
<circle cx="292.5" cy="258.5" r="0.4" fill="#f2c8a8"/>
<circle cx="288.1" cy="241.6" r="0.4" fill="#f2c8a8"/>
<circle cx="301.5" cy="243.2" r="0.4" fill="#f2c8a8"/>
<circle cx="298.8" cy="243.4" r="0.45" fill="#e4a074"/>
<circle cx="276.4" cy="236.4" r="0.45" fill="#e4a074"/>
<circle cx="291.0" cy="245.8" r="0.45" fill="#e4a074"/>
<circle cx="268.3" cy="250.3" r="0.4" fill="#f2c8a8"/>
<circle cx="297.7" cy="243.2" r="0.4" fill="#f2c8a8"/>
<circle cx="286.9" cy="261.6" r="0.4" fill="#f2c8a8"/>
<circle cx="299.5" cy="258.9" r="0.4" fill="#f2c8a8"/>
<circle cx="271.3" cy="254.6" r="0.45" fill="#e4a074"/>
<circle cx="287.2" cy="252.5" r="0.45" fill="#e4a074"/>
<circle cx="270.7" cy="256.9" r="0.45" fill="#e4a074"/>
<circle cx="293.0" cy="242.9" r="0.4" fill="#f2c8a8"/>
<circle cx="291.7" cy="252.3" r="0.45" fill="#e4a074"/>
<circle cx="283.8" cy="251.1" r="0.45" fill="#e4a074"/>
<circle cx="277.8" cy="235.3" r="0.4" fill="#f2c8a8"/>
<circle cx="301.0" cy="252.0" r="0.4" fill="#f2c8a8"/>
<circle cx="289.2" cy="251.4" r="0.45" fill="#e4a074"/>
<circle cx="277.5" cy="245.1" r="0.6" fill="#d47c4e"/>
<circle cx="276.5" cy="264.5" r="0.45" fill="#e4a074"/>
<circle cx="287.3" cy="244.2" r="0.4" fill="#f2c8a8"/>
<circle cx="272.3" cy="261.1" r="0.45" fill="#e4a074"/>
<circle cx="281.0" cy="272.2" r="0.4" fill="#f2c8a8"/>
<circle cx="275.2" cy="253.5" r="0.45" fill="#e4a074"/>
<circle cx="302.9" cy="251.1" r="0.45" fill="#e4a074"/>
<circle cx="280.3" cy="264.1" r="0.4" fill="#f2c8a8"/>
<circle cx="271.8" cy="245.1" r="0.45" fill="#e4a074"/>
<circle cx="303.4" cy="258.2" r="0.6" fill="#d47c4e"/>
<circle cx="281.6" cy="252.4" r="0.4" fill="#f2c8a8"/>
<circle cx="295.2" cy="254.1" r="0.6" fill="#d47c4e"/>
<circle cx="272.9" cy="243.0" r="0.45" fill="#e4a074"/>
<circle cx="300.0" cy="244.9" r="0.45" fill="#e4a074"/>
<circle cx="273.8" cy="241.2" r="0.45" fill="#e4a074"/>
<circle cx="282.0" cy="245.0" r="0.45" fill="#e4a074"/>
<circle cx="268.4" cy="258.5" r="0.4" fill="#f2c8a8"/>
<circle cx="287.8" cy="257.4" r="0.45" fill="#e4a074"/>
<circle cx="300.7" cy="245.0" r="0.4" fill="#f2c8a8"/>
<circle cx="294.3" cy="237.0" r="0.45" fill="#e4a074"/>
<circle cx="285.5" cy="265.3" r="0.4" fill="#f2c8a8"/>
<circle cx="280.4" cy="266.3" r="0.45" fill="#e4a074"/>
<circle cx="290.6" cy="251.8" r="0.45" fill="#e4a074"/>
<circle cx="293.1" cy="255.5" r="0.45" fill="#e4a074"/>
<circle cx="268.2" cy="244.6" r="0.4" fill="#f2c8a8"/>
<circle cx="299.1" cy="254.9" r="0.45" fill="#e4a074"/>
<circle cx="305.3" cy="245.8" r="0.4" fill="#f2c8a8"/>
<circle cx="280.4" cy="257.3" r="0.45" fill="#e4a074"/>
<circle cx="288.0" cy="261.7" r="0.4" fill="#f2c8a8"/>
<circle cx="303.5" cy="254.3" r="0.4" fill="#f2c8a8"/>
<circle cx="292.2" cy="252.4" r="0.6" fill="#d47c4e"/>
<circle cx="288.0" cy="255.8" r="0.45" fill="#e4a074"/>
<circle cx="287.0" cy="271.7" r="0.4" fill="#f2c8a8"/>
<circle cx="303.7" cy="259.5" r="0.45" fill="#e4a074"/>
<circle cx="297.1" cy="239.6" r="0.4" fill="#f2c8a8"/>
<circle cx="273.9" cy="241.0" r="0.4" fill="#f2c8a8"/>
<circle cx="295.7" cy="249.4" r="0.6" fill="#d47c4e"/>
<circle cx="285.6" cy="251.6" r="0.4" fill="#f2c8a8"/>
<circle cx="275.0" cy="238.3" r="0.4" fill="#f2c8a8"/>
<circle cx="279.4" cy="270.4" r="0.4" fill="#f2c8a8"/>
<circle cx="295.5" cy="242.5" r="0.4" fill="#f2c8a8"/>
<circle cx="275.4" cy="265.5" r="0.4" fill="#f2c8a8"/>
<circle cx="282.6" cy="246.6" r="0.45" fill="#e4a074"/>
<circle cx="275.1" cy="266.5" r="0.45" fill="#e4a074"/>
<circle cx="274.8" cy="260.2" r="0.45" fill="#e4a074"/>
<circle cx="303.6" cy="247.4" r="0.45" fill="#e4a074"/>
<circle cx="284.7" cy="258.7" r="0.6" fill="#d47c4e"/>
<circle cx="280.6" cy="235.5" r="0.4" fill="#f2c8a8"/>
<circle cx="269.8" cy="240.9" r="0.45" fill="#e4a074"/>
<circle cx="276.7" cy="246.8" r="0.4" fill="#f2c8a8"/>
<circle cx="295.9" cy="245.4" r="0.45" fill="#e4a074"/>
<circle cx="270.1" cy="241.9" r="0.45" fill="#e4a074"/>
<circle cx="285.9" cy="254.6" r="0.4" fill="#f2c8a8"/>
<circle cx="271.9" cy="261.3" r="0.45" fill="#e4a074"/>
<circle cx="289.4" cy="250.9" r="0.45" fill="#e4a074"/>
<circle cx="293.5" cy="235.6" r="0.45" fill="#e4a074"/>
<circle cx="283.2" cy="272.9" r="0.45" fill="#e4a074"/>
<circle cx="278.1" cy="235.3" r="0.4" fill="#f2c8a8"/>
<circle cx="299.5" cy="261.7" r="0.45" fill="#e4a074"/>
<circle cx="291.7" cy="271.1" r="0.6" fill="#d47c4e"/>
<circle cx="287.7" cy="270.0" r="0.45" fill="#e4a074"/>
<circle cx="276.8" cy="255.8" r="0.4" fill="#f2c8a8"/>
<circle cx="286.2" cy="235.1" r="0.4" fill="#f2c8a8"/>
<circle cx="302.2" cy="263.6" r="0.45" fill="#e4a074"/>
<circle cx="287.8" cy="269.6" r="0.6" fill="#d47c4e"/>
<circle cx="297.5" cy="243.7" r="0.4" fill="#f2c8a8"/>
<circle cx="278.4" cy="248.9" r="0.4" fill="#f2c8a8"/>
<circle cx="293.5" cy="269.7" r="0.4" fill="#f2c8a8"/>
<circle cx="273.9" cy="248.5" r="0.45" fill="#e4a074"/>
<circle cx="288.7" cy="257.3" r="0.6" fill="#d47c4e"/>
<rect x="263.50" y="232.30" width="44.60" height="44.10" fill="none" stroke="#6a6a6a" stroke-width="0.9" />
<rect x="310.40" y="232.30" width="44.60" height="44.10" fill="#fff" />
<circle cx="328.2" cy="258.7" r="0.45" fill="#e4a074"/>
<circle cx="334.9" cy="245.8" r="0.45" fill="#e4a074"/>
<circle cx="324.5" cy="266.4" r="0.4" fill="#f2c8a8"/>
<circle cx="353.4" cy="258.2" r="0.6" fill="#d47c4e"/>
<circle cx="317.2" cy="255.2" r="0.4" fill="#f2c8a8"/>
<circle cx="335.5" cy="240.4" r="0.6" fill="#d47c4e"/>
<circle cx="335.1" cy="235.0" r="0.6" fill="#d47c4e"/>
<circle cx="332.9" cy="257.9" r="0.4" fill="#f2c8a8"/>
<circle cx="335.6" cy="259.4" r="0.4" fill="#f2c8a8"/>
<circle cx="314.7" cy="246.9" r="0.4" fill="#f2c8a8"/>
<circle cx="351.9" cy="247.3" r="0.4" fill="#f2c8a8"/>
<circle cx="322.2" cy="246.2" r="0.4" fill="#f2c8a8"/>
<circle cx="343.3" cy="251.2" r="0.45" fill="#e4a074"/>
<circle cx="320.0" cy="238.0" r="0.45" fill="#e4a074"/>
<circle cx="322.0" cy="262.6" r="0.4" fill="#f2c8a8"/>
<circle cx="353.4" cy="249.4" r="0.4" fill="#f2c8a8"/>
<circle cx="343.3" cy="256.4" r="0.4" fill="#f2c8a8"/>
<circle cx="349.4" cy="242.4" r="0.45" fill="#e4a074"/>
<circle cx="350.8" cy="259.3" r="0.45" fill="#e4a074"/>
<circle cx="320.4" cy="237.2" r="0.4" fill="#f2c8a8"/>
<circle cx="344.2" cy="268.3" r="0.6" fill="#d47c4e"/>
<circle cx="327.9" cy="243.6" r="0.45" fill="#e4a074"/>
<circle cx="333.3" cy="247.0" r="0.4" fill="#f2c8a8"/>
<circle cx="332.7" cy="261.2" r="0.4" fill="#f2c8a8"/>
<circle cx="338.0" cy="262.8" r="0.4" fill="#f2c8a8"/>
<circle cx="332.0" cy="251.7" r="0.45" fill="#e4a074"/>
<circle cx="334.3" cy="257.6" r="0.6" fill="#d47c4e"/>
<circle cx="336.7" cy="273.8" r="0.6" fill="#d47c4e"/>
<circle cx="339.0" cy="248.8" r="0.4" fill="#f2c8a8"/>
<circle cx="349.6" cy="265.4" r="0.45" fill="#e4a074"/>
<circle cx="323.2" cy="243.7" r="0.4" fill="#f2c8a8"/>
<circle cx="339.4" cy="240.8" r="0.45" fill="#e4a074"/>
<circle cx="339.2" cy="261.6" r="0.4" fill="#f2c8a8"/>
<circle cx="329.5" cy="238.6" r="0.4" fill="#f2c8a8"/>
<circle cx="340.5" cy="246.0" r="0.4" fill="#f2c8a8"/>
<circle cx="339.1" cy="262.9" r="0.45" fill="#e4a074"/>
<circle cx="328.6" cy="261.3" r="0.4" fill="#f2c8a8"/>
<circle cx="324.7" cy="272.0" r="0.4" fill="#f2c8a8"/>
<circle cx="338.0" cy="253.2" r="0.6" fill="#d47c4e"/>
<circle cx="328.3" cy="245.4" r="0.4" fill="#f2c8a8"/>
<circle cx="330.6" cy="264.2" r="0.4" fill="#f2c8a8"/>
<circle cx="319.2" cy="269.6" r="0.6" fill="#d47c4e"/>
<circle cx="338.8" cy="250.9" r="0.4" fill="#f2c8a8"/>
<circle cx="337.0" cy="250.8" r="0.45" fill="#e4a074"/>
<circle cx="327.4" cy="273.9" r="0.4" fill="#f2c8a8"/>
<circle cx="337.3" cy="242.4" r="0.4" fill="#f2c8a8"/>
<circle cx="352.2" cy="254.1" r="0.45" fill="#e4a074"/>
<circle cx="338.4" cy="266.6" r="0.6" fill="#d47c4e"/>
<circle cx="336.1" cy="269.4" r="0.4" fill="#f2c8a8"/>
<circle cx="340.8" cy="270.5" r="0.45" fill="#e4a074"/>
<circle cx="334.9" cy="259.4" r="0.4" fill="#f2c8a8"/>
<circle cx="321.5" cy="244.5" r="0.4" fill="#f2c8a8"/>
<circle cx="337.5" cy="269.7" r="0.45" fill="#e4a074"/>
<circle cx="339.0" cy="239.0" r="0.4" fill="#f2c8a8"/>
<circle cx="349.5" cy="261.1" r="0.4" fill="#f2c8a8"/>
<circle cx="332.1" cy="249.0" r="0.45" fill="#e4a074"/>
<circle cx="323.2" cy="270.4" r="0.6" fill="#d47c4e"/>
<circle cx="330.4" cy="254.0" r="0.6" fill="#d47c4e"/>
<circle cx="313.6" cy="256.7" r="0.4" fill="#f2c8a8"/>
<circle cx="340.5" cy="271.5" r="0.4" fill="#f2c8a8"/>
<circle cx="339.6" cy="264.8" r="0.45" fill="#e4a074"/>
<circle cx="348.1" cy="254.3" r="0.4" fill="#f2c8a8"/>
<circle cx="325.7" cy="253.1" r="0.45" fill="#e4a074"/>
<circle cx="340.9" cy="236.0" r="0.4" fill="#f2c8a8"/>
<circle cx="329.9" cy="241.3" r="0.45" fill="#e4a074"/>
<circle cx="351.2" cy="261.2" r="0.6" fill="#d47c4e"/>
<circle cx="318.0" cy="254.3" r="0.45" fill="#e4a074"/>
<circle cx="330.1" cy="253.1" r="0.6" fill="#d47c4e"/>
<circle cx="334.5" cy="262.7" r="0.4" fill="#f2c8a8"/>
<circle cx="332.9" cy="272.8" r="0.4" fill="#f2c8a8"/>
<circle cx="347.4" cy="263.9" r="0.4" fill="#f2c8a8"/>
<circle cx="349.2" cy="255.7" r="0.45" fill="#e4a074"/>
<circle cx="315.6" cy="251.3" r="0.4" fill="#f2c8a8"/>
<circle cx="345.1" cy="240.8" r="0.4" fill="#f2c8a8"/>
<circle cx="343.6" cy="264.2" r="0.45" fill="#e4a074"/>
<circle cx="331.6" cy="261.1" r="0.4" fill="#f2c8a8"/>
<circle cx="343.5" cy="266.1" r="0.6" fill="#d47c4e"/>
<circle cx="342.6" cy="266.5" r="0.45" fill="#e4a074"/>
<circle cx="342.8" cy="270.2" r="0.6" fill="#d47c4e"/>
<circle cx="322.6" cy="262.6" r="0.45" fill="#e4a074"/>
<circle cx="320.0" cy="251.7" r="0.6" fill="#d47c4e"/>
<circle cx="335.1" cy="241.8" r="0.4" fill="#f2c8a8"/>
<circle cx="325.9" cy="265.8" r="0.6" fill="#d47c4e"/>
<circle cx="339.7" cy="234.9" r="0.45" fill="#e4a074"/>
<circle cx="335.8" cy="249.9" r="0.45" fill="#e4a074"/>
<circle cx="352.6" cy="248.5" r="0.4" fill="#f2c8a8"/>
<circle cx="318.3" cy="261.7" r="0.4" fill="#f2c8a8"/>
<circle cx="327.6" cy="252.8" r="0.4" fill="#f2c8a8"/>
<circle cx="330.0" cy="253.8" r="0.4" fill="#f2c8a8"/>
<circle cx="351.2" cy="250.3" r="0.6" fill="#d47c4e"/>
<circle cx="320.3" cy="239.8" r="0.6" fill="#d47c4e"/>
<circle cx="335.9" cy="251.3" r="0.45" fill="#e4a074"/>
<circle cx="331.3" cy="271.1" r="0.4" fill="#f2c8a8"/>
<circle cx="313.5" cy="248.6" r="0.45" fill="#e4a074"/>
<circle cx="332.9" cy="269.0" r="0.4" fill="#f2c8a8"/>
<circle cx="343.7" cy="250.4" r="0.4" fill="#f2c8a8"/>
<circle cx="328.6" cy="248.0" r="0.45" fill="#e4a074"/>
<circle cx="347.5" cy="249.7" r="0.4" fill="#f2c8a8"/>
<circle cx="318.0" cy="257.1" r="0.4" fill="#f2c8a8"/>
<circle cx="338.4" cy="259.2" r="0.4" fill="#f2c8a8"/>
<circle cx="323.6" cy="260.1" r="0.4" fill="#f2c8a8"/>
<circle cx="346.2" cy="262.0" r="0.45" fill="#e4a074"/>
<circle cx="320.8" cy="243.7" r="0.45" fill="#e4a074"/>
<circle cx="338.3" cy="270.7" r="0.4" fill="#f2c8a8"/>
<circle cx="317.3" cy="249.0" r="0.4" fill="#f2c8a8"/>
<circle cx="329.2" cy="263.4" r="0.4" fill="#f2c8a8"/>
<circle cx="320.0" cy="252.8" r="0.45" fill="#e4a074"/>
<circle cx="345.4" cy="254.8" r="0.6" fill="#d47c4e"/>
<circle cx="334.1" cy="269.5" r="0.4" fill="#f2c8a8"/>
<circle cx="328.5" cy="274.2" r="0.4" fill="#f2c8a8"/>
<circle cx="334.2" cy="245.6" r="0.4" fill="#f2c8a8"/>
<circle cx="342.6" cy="243.8" r="0.4" fill="#f2c8a8"/>
<circle cx="322.4" cy="262.9" r="0.45" fill="#e4a074"/>
<circle cx="340.7" cy="260.2" r="0.6" fill="#d47c4e"/>
<circle cx="332.4" cy="245.6" r="0.4" fill="#f2c8a8"/>
<circle cx="322.6" cy="267.7" r="0.45" fill="#e4a074"/>
<circle cx="344.2" cy="238.5" r="0.45" fill="#e4a074"/>
<circle cx="331.7" cy="235.8" r="0.45" fill="#e4a074"/>
<circle cx="314.6" cy="256.7" r="0.45" fill="#e4a074"/>
<circle cx="339.4" cy="250.0" r="0.6" fill="#d47c4e"/>
<circle cx="351.4" cy="254.3" r="0.45" fill="#e4a074"/>
<circle cx="312.4" cy="254.1" r="0.45" fill="#e4a074"/>
<circle cx="316.8" cy="263.0" r="0.6" fill="#d47c4e"/>
<circle cx="322.9" cy="245.8" r="0.4" fill="#f2c8a8"/>
<circle cx="315.8" cy="258.5" r="0.4" fill="#f2c8a8"/>
<circle cx="320.9" cy="263.8" r="0.4" fill="#f2c8a8"/>
<circle cx="324.9" cy="270.6" r="0.45" fill="#e4a074"/>
<circle cx="319.0" cy="253.9" r="0.4" fill="#f2c8a8"/>
<circle cx="330.3" cy="261.4" r="0.45" fill="#e4a074"/>
<circle cx="327.6" cy="250.8" r="0.6" fill="#d47c4e"/>
<circle cx="324.4" cy="271.1" r="0.45" fill="#e4a074"/>
<circle cx="342.2" cy="251.4" r="0.4" fill="#f2c8a8"/>
<circle cx="334.8" cy="252.7" r="0.4" fill="#f2c8a8"/>
<circle cx="319.4" cy="248.0" r="0.6" fill="#d47c4e"/>
<circle cx="335.3" cy="238.6" r="0.6" fill="#d47c4e"/>
<circle cx="318.0" cy="252.2" r="0.45" fill="#e4a074"/>
<circle cx="323.3" cy="261.9" r="0.45" fill="#e4a074"/>
<circle cx="320.9" cy="270.3" r="0.45" fill="#e4a074"/>
<circle cx="326.5" cy="252.8" r="0.4" fill="#f2c8a8"/>
<circle cx="320.2" cy="263.0" r="0.45" fill="#e4a074"/>
<circle cx="348.0" cy="239.7" r="0.4" fill="#f2c8a8"/>
<circle cx="317.6" cy="259.9" r="0.6" fill="#d47c4e"/>
<circle cx="324.5" cy="266.6" r="0.45" fill="#e4a074"/>
<circle cx="338.7" cy="264.3" r="0.6" fill="#d47c4e"/>
<circle cx="339.9" cy="240.5" r="0.4" fill="#f2c8a8"/>
<circle cx="346.7" cy="243.1" r="0.45" fill="#e4a074"/>
<circle cx="352.8" cy="252.6" r="0.4" fill="#f2c8a8"/>
<circle cx="339.3" cy="263.3" r="0.45" fill="#e4a074"/>
<circle cx="323.9" cy="253.6" r="0.4" fill="#f2c8a8"/>
<circle cx="321.8" cy="242.0" r="0.4" fill="#f2c8a8"/>
<circle cx="349.7" cy="253.2" r="0.4" fill="#f2c8a8"/>
<circle cx="317.2" cy="263.7" r="0.4" fill="#f2c8a8"/>
<circle cx="332.5" cy="252.6" r="0.4" fill="#f2c8a8"/>
<circle cx="341.8" cy="240.4" r="0.45" fill="#e4a074"/>
<circle cx="337.9" cy="267.8" r="0.45" fill="#e4a074"/>
<circle cx="331.3" cy="270.7" r="0.45" fill="#e4a074"/>
<circle cx="348.9" cy="253.6" r="0.4" fill="#f2c8a8"/>
<circle cx="339.0" cy="259.6" r="0.45" fill="#e4a074"/>
<circle cx="338.2" cy="258.0" r="0.4" fill="#f2c8a8"/>
<circle cx="314.1" cy="251.2" r="0.45" fill="#e4a074"/>
<circle cx="334.8" cy="248.9" r="0.4" fill="#f2c8a8"/>
<circle cx="334.5" cy="242.0" r="0.45" fill="#e4a074"/>
<circle cx="327.8" cy="260.7" r="0.4" fill="#f2c8a8"/>
<circle cx="349.2" cy="265.5" r="0.45" fill="#e4a074"/>
<circle cx="324.8" cy="265.3" r="0.4" fill="#f2c8a8"/>
<circle cx="351.7" cy="260.5" r="0.45" fill="#e4a074"/>
<circle cx="346.5" cy="250.4" r="0.45" fill="#e4a074"/>
<circle cx="333.0" cy="258.3" r="0.6" fill="#d47c4e"/>
<circle cx="340.2" cy="244.5" r="0.6" fill="#d47c4e"/>
<circle cx="337.7" cy="243.3" r="0.45" fill="#e4a074"/>
<circle cx="347.3" cy="250.2" r="0.6" fill="#d47c4e"/>
<circle cx="333.6" cy="266.9" r="0.45" fill="#e4a074"/>
<circle cx="335.1" cy="265.3" r="0.6" fill="#d47c4e"/>
<circle cx="314.4" cy="255.7" r="0.4" fill="#f2c8a8"/>
<circle cx="338.8" cy="265.0" r="0.4" fill="#f2c8a8"/>
<circle cx="344.1" cy="251.8" r="0.45" fill="#e4a074"/>
<circle cx="344.5" cy="264.0" r="0.4" fill="#f2c8a8"/>
<circle cx="328.6" cy="256.9" r="0.4" fill="#f2c8a8"/>
<circle cx="338.7" cy="242.8" r="0.4" fill="#f2c8a8"/>
<circle cx="337.0" cy="264.3" r="0.4" fill="#f2c8a8"/>
<circle cx="349.7" cy="257.6" r="0.4" fill="#f2c8a8"/>
<circle cx="342.8" cy="268.5" r="0.4" fill="#f2c8a8"/>
<circle cx="330.6" cy="272.9" r="0.4" fill="#f2c8a8"/>
<circle cx="315.0" cy="260.5" r="0.45" fill="#e4a074"/>
<circle cx="339.7" cy="264.4" r="0.45" fill="#e4a074"/>
<circle cx="318.3" cy="268.2" r="0.4" fill="#f2c8a8"/>
<circle cx="347.2" cy="249.3" r="0.4" fill="#f2c8a8"/>
<circle cx="325.7" cy="256.1" r="0.45" fill="#e4a074"/>
<circle cx="331.7" cy="273.7" r="0.45" fill="#e4a074"/>
<circle cx="326.0" cy="261.5" r="0.45" fill="#e4a074"/>
<circle cx="337.6" cy="272.9" r="0.4" fill="#f2c8a8"/>
<circle cx="317.6" cy="252.6" r="0.4" fill="#f2c8a8"/>
<circle cx="334.8" cy="240.9" r="0.45" fill="#e4a074"/>
<circle cx="322.3" cy="249.0" r="0.4" fill="#f2c8a8"/>
<circle cx="340.6" cy="258.4" r="0.45" fill="#e4a074"/>
<circle cx="325.6" cy="269.3" r="0.4" fill="#f2c8a8"/>
<circle cx="321.3" cy="249.1" r="0.45" fill="#e4a074"/>
<circle cx="331.4" cy="259.0" r="0.4" fill="#f2c8a8"/>
<circle cx="334.1" cy="261.2" r="0.45" fill="#e4a074"/>
<circle cx="330.3" cy="266.9" r="0.6" fill="#d47c4e"/>
<circle cx="336.1" cy="234.4" r="0.6" fill="#d47c4e"/>
<circle cx="340.4" cy="262.0" r="0.4" fill="#f2c8a8"/>
<circle cx="325.7" cy="238.4" r="0.4" fill="#f2c8a8"/>
<circle cx="318.5" cy="262.8" r="0.45" fill="#e4a074"/>
<circle cx="333.2" cy="273.2" r="0.4" fill="#f2c8a8"/>
<circle cx="326.8" cy="247.4" r="0.4" fill="#f2c8a8"/>
<circle cx="348.4" cy="244.5" r="0.45" fill="#e4a074"/>
<circle cx="337.1" cy="254.9" r="0.4" fill="#f2c8a8"/>
<circle cx="336.7" cy="264.8" r="0.4" fill="#f2c8a8"/>
<circle cx="344.4" cy="256.7" r="0.45" fill="#e4a074"/>
<circle cx="341.2" cy="271.2" r="0.45" fill="#e4a074"/>
<circle cx="330.8" cy="243.5" r="0.4" fill="#f2c8a8"/>
<circle cx="328.0" cy="242.5" r="0.4" fill="#f2c8a8"/>
<circle cx="342.3" cy="237.9" r="0.4" fill="#f2c8a8"/>
<circle cx="351.7" cy="259.0" r="0.45" fill="#e4a074"/>
<circle cx="342.9" cy="256.9" r="0.4" fill="#f2c8a8"/>
<circle cx="335.5" cy="244.5" r="0.6" fill="#d47c4e"/>
<circle cx="333.0" cy="247.7" r="0.45" fill="#e4a074"/>
<circle cx="318.7" cy="265.1" r="0.45" fill="#e4a074"/>
<circle cx="331.8" cy="260.0" r="0.6" fill="#d47c4e"/>
<circle cx="315.0" cy="263.2" r="0.45" fill="#e4a074"/>
<circle cx="331.6" cy="234.8" r="0.45" fill="#e4a074"/>
<circle cx="328.3" cy="255.3" r="0.45" fill="#e4a074"/>
<circle cx="319.5" cy="260.4" r="0.6" fill="#d47c4e"/>
<circle cx="345.7" cy="267.0" r="0.4" fill="#f2c8a8"/>
<circle cx="327.5" cy="235.8" r="0.4" fill="#f2c8a8"/>
<circle cx="313.2" cy="247.9" r="0.45" fill="#e4a074"/>
<circle cx="322.9" cy="251.0" r="0.4" fill="#f2c8a8"/>
<circle cx="324.6" cy="264.3" r="0.4" fill="#f2c8a8"/>
<circle cx="330.1" cy="261.1" r="0.45" fill="#e4a074"/>
<circle cx="328.1" cy="244.9" r="0.4" fill="#f2c8a8"/>
<circle cx="319.1" cy="252.5" r="0.6" fill="#d47c4e"/>
<circle cx="326.2" cy="263.1" r="0.6" fill="#d47c4e"/>
<circle cx="342.9" cy="266.1" r="0.4" fill="#f2c8a8"/>
<circle cx="339.2" cy="239.6" r="0.45" fill="#e4a074"/>
<circle cx="341.3" cy="268.8" r="0.45" fill="#e4a074"/>
<circle cx="315.2" cy="258.3" r="0.45" fill="#e4a074"/>
<circle cx="341.5" cy="261.3" r="0.4" fill="#f2c8a8"/>
<circle cx="334.4" cy="258.8" r="0.4" fill="#f2c8a8"/>
<circle cx="338.7" cy="270.5" r="0.4" fill="#f2c8a8"/>
<circle cx="342.1" cy="261.6" r="0.4" fill="#f2c8a8"/>
<circle cx="327.4" cy="260.4" r="0.4" fill="#f2c8a8"/>
<circle cx="353.9" cy="255.3" r="0.45" fill="#e4a074"/>
<circle cx="348.4" cy="262.8" r="0.6" fill="#d47c4e"/>
<circle cx="326.6" cy="251.2" r="0.4" fill="#f2c8a8"/>
<circle cx="324.6" cy="257.5" r="0.45" fill="#e4a074"/>
<circle cx="353.1" cy="254.9" r="0.45" fill="#e4a074"/>
<circle cx="318.9" cy="239.2" r="0.45" fill="#e4a074"/>
<circle cx="332.9" cy="264.3" r="0.4" fill="#f2c8a8"/>
<circle cx="351.2" cy="257.0" r="0.45" fill="#e4a074"/>
<circle cx="330.4" cy="262.5" r="0.45" fill="#e4a074"/>
<circle cx="344.4" cy="237.2" r="0.4" fill="#f2c8a8"/>
<circle cx="337.1" cy="235.2" r="0.45" fill="#e4a074"/>
<circle cx="328.8" cy="261.8" r="0.45" fill="#e4a074"/>
<circle cx="327.6" cy="265.4" r="0.45" fill="#e4a074"/>
<circle cx="320.0" cy="267.9" r="0.4" fill="#f2c8a8"/>
<circle cx="348.3" cy="257.9" r="0.45" fill="#e4a074"/>
<circle cx="340.5" cy="237.9" r="0.6" fill="#d47c4e"/>
<circle cx="346.9" cy="248.8" r="0.4" fill="#f2c8a8"/>
<circle cx="339.3" cy="263.5" r="0.45" fill="#e4a074"/>
<circle cx="348.3" cy="262.3" r="0.4" fill="#f2c8a8"/>
<circle cx="313.6" cy="261.1" r="0.4" fill="#f2c8a8"/>
<circle cx="346.5" cy="257.3" r="0.4" fill="#f2c8a8"/>
<circle cx="332.8" cy="252.8" r="0.45" fill="#e4a074"/>
<circle cx="344.4" cy="239.2" r="0.4" fill="#f2c8a8"/>
<circle cx="329.5" cy="270.6" r="0.45" fill="#e4a074"/>
<circle cx="322.2" cy="259.7" r="0.4" fill="#f2c8a8"/>
<circle cx="323.4" cy="237.4" r="0.6" fill="#d47c4e"/>
<circle cx="338.8" cy="263.7" r="0.4" fill="#f2c8a8"/>
<circle cx="321.6" cy="249.0" r="0.4" fill="#f2c8a8"/>
<circle cx="343.3" cy="259.9" r="0.4" fill="#f2c8a8"/>
<circle cx="352.7" cy="250.3" r="0.6" fill="#d47c4e"/>
<circle cx="353.3" cy="250.5" r="0.45" fill="#e4a074"/>
<circle cx="334.9" cy="249.1" r="0.45" fill="#e4a074"/>
<circle cx="324.1" cy="246.6" r="0.45" fill="#e4a074"/>
<circle cx="346.9" cy="249.6" r="0.45" fill="#e4a074"/>
<circle cx="329.2" cy="265.6" r="0.6" fill="#d47c4e"/>
<circle cx="342.0" cy="255.4" r="0.45" fill="#e4a074"/>
<circle cx="327.2" cy="255.8" r="0.45" fill="#e4a074"/>
<circle cx="321.9" cy="265.4" r="0.4" fill="#f2c8a8"/>
<circle cx="317.5" cy="250.9" r="0.4" fill="#f2c8a8"/>
<circle cx="339.7" cy="259.7" r="0.6" fill="#d47c4e"/>
<circle cx="326.3" cy="251.8" r="0.6" fill="#d47c4e"/>
<circle cx="332.9" cy="260.3" r="0.45" fill="#e4a074"/>
<circle cx="332.9" cy="268.5" r="0.45" fill="#e4a074"/>
<circle cx="335.3" cy="269.6" r="0.4" fill="#f2c8a8"/>
<circle cx="316.9" cy="252.5" r="0.4" fill="#f2c8a8"/>
<circle cx="328.2" cy="257.0" r="0.4" fill="#f2c8a8"/>
<circle cx="343.2" cy="242.1" r="0.45" fill="#e4a074"/>
<circle cx="333.3" cy="246.7" r="0.6" fill="#d47c4e"/>
<circle cx="331.8" cy="247.2" r="0.45" fill="#e4a074"/>
<circle cx="326.2" cy="259.3" r="0.6" fill="#d47c4e"/>
<circle cx="315.9" cy="246.7" r="0.4" fill="#f2c8a8"/>
<circle cx="333.8" cy="248.9" r="0.4" fill="#f2c8a8"/>
<circle cx="331.2" cy="255.7" r="0.45" fill="#e4a074"/>
<circle cx="335.6" cy="265.0" r="0.45" fill="#e4a074"/>
<circle cx="315.3" cy="262.7" r="0.45" fill="#e4a074"/>
<circle cx="343.9" cy="242.5" r="0.6" fill="#d47c4e"/>
<circle cx="338.9" cy="247.6" r="0.45" fill="#e4a074"/>
<circle cx="323.0" cy="269.3" r="0.45" fill="#e4a074"/>
<circle cx="336.4" cy="247.3" r="0.4" fill="#f2c8a8"/>
<circle cx="331.4" cy="233.5" r="0.45" fill="#e4a074"/>
<circle cx="348.7" cy="258.3" r="0.4" fill="#f2c8a8"/>
<circle cx="315.1" cy="248.2" r="0.4" fill="#f2c8a8"/>
<circle cx="348.4" cy="246.0" r="0.4" fill="#f2c8a8"/>
<circle cx="337.9" cy="267.0" r="0.45" fill="#e4a074"/>
<circle cx="326.8" cy="250.4" r="0.4" fill="#f2c8a8"/>
<circle cx="347.4" cy="265.9" r="0.4" fill="#f2c8a8"/>
<circle cx="322.3" cy="250.1" r="0.45" fill="#e4a074"/>
<circle cx="327.2" cy="259.3" r="0.6" fill="#d47c4e"/>
<circle cx="316.1" cy="249.7" r="0.45" fill="#e4a074"/>
<circle cx="335.3" cy="253.1" r="0.4" fill="#f2c8a8"/>
<circle cx="341.7" cy="265.9" r="0.6" fill="#d47c4e"/>
<circle cx="334.2" cy="250.1" r="0.4" fill="#f2c8a8"/>
<circle cx="340.2" cy="238.1" r="0.4" fill="#f2c8a8"/>
<circle cx="324.7" cy="255.1" r="0.45" fill="#e4a074"/>
<circle cx="317.6" cy="266.0" r="0.45" fill="#e4a074"/>
<circle cx="343.7" cy="259.4" r="0.4" fill="#f2c8a8"/>
<circle cx="345.7" cy="243.9" r="0.4" fill="#f2c8a8"/>
<circle cx="339.1" cy="264.9" r="0.4" fill="#f2c8a8"/>
<circle cx="321.4" cy="247.8" r="0.4" fill="#f2c8a8"/>
<circle cx="349.0" cy="254.5" r="0.4" fill="#f2c8a8"/>
<circle cx="347.1" cy="255.7" r="0.6" fill="#d47c4e"/>
<circle cx="340.7" cy="256.1" r="0.45" fill="#e4a074"/>
<circle cx="331.4" cy="264.7" r="0.45" fill="#e4a074"/>
<circle cx="331.8" cy="269.6" r="0.45" fill="#e4a074"/>
<circle cx="353.2" cy="248.3" r="0.4" fill="#f2c8a8"/>
<circle cx="315.9" cy="247.0" r="0.6" fill="#d47c4e"/>
<circle cx="335.5" cy="237.3" r="0.45" fill="#e4a074"/>
<circle cx="325.7" cy="262.3" r="0.45" fill="#e4a074"/>
<circle cx="347.2" cy="239.3" r="0.45" fill="#e4a074"/>
<circle cx="326.9" cy="271.2" r="0.45" fill="#e4a074"/>
<circle cx="316.3" cy="252.9" r="0.4" fill="#f2c8a8"/>
<circle cx="320.3" cy="249.7" r="0.4" fill="#f2c8a8"/>
<circle cx="326.8" cy="264.0" r="0.6" fill="#d47c4e"/>
<circle cx="320.4" cy="255.3" r="0.4" fill="#f2c8a8"/>
<circle cx="334.2" cy="266.2" r="0.4" fill="#f2c8a8"/>
<circle cx="352.6" cy="254.7" r="0.4" fill="#f2c8a8"/>
<circle cx="318.1" cy="259.2" r="0.4" fill="#f2c8a8"/>
<circle cx="335.6" cy="258.6" r="0.4" fill="#f2c8a8"/>
<circle cx="326.6" cy="270.6" r="0.45" fill="#e4a074"/>
<circle cx="344.3" cy="249.2" r="0.6" fill="#d47c4e"/>
<circle cx="327.9" cy="250.9" r="0.4" fill="#f2c8a8"/>
<circle cx="314.7" cy="243.7" r="0.4" fill="#f2c8a8"/>
<circle cx="335.1" cy="240.3" r="0.6" fill="#d47c4e"/>
<circle cx="346.3" cy="259.9" r="0.6" fill="#d47c4e"/>
<circle cx="331.3" cy="264.4" r="0.4" fill="#f2c8a8"/>
<circle cx="338.6" cy="263.2" r="0.45" fill="#e4a074"/>
<circle cx="335.6" cy="266.9" r="0.4" fill="#f2c8a8"/>
<circle cx="317.4" cy="242.1" r="0.45" fill="#e4a074"/>
<circle cx="338.9" cy="270.8" r="0.6" fill="#d47c4e"/>
<circle cx="328.2" cy="250.3" r="0.45" fill="#e4a074"/>
<circle cx="341.7" cy="245.2" r="0.4" fill="#f2c8a8"/>
<circle cx="338.8" cy="268.1" r="0.6" fill="#d47c4e"/>
<circle cx="320.1" cy="238.3" r="0.4" fill="#f2c8a8"/>
<circle cx="324.6" cy="270.0" r="0.45" fill="#e4a074"/>
<circle cx="318.7" cy="263.5" r="0.4" fill="#f2c8a8"/>
<circle cx="345.6" cy="258.6" r="0.4" fill="#f2c8a8"/>
<circle cx="324.5" cy="245.2" r="0.4" fill="#f2c8a8"/>
<circle cx="324.3" cy="247.7" r="0.4" fill="#f2c8a8"/>
<circle cx="353.1" cy="255.6" r="0.45" fill="#e4a074"/>
<circle cx="338.0" cy="253.5" r="0.45" fill="#e4a074"/>
<circle cx="331.0" cy="242.0" r="0.4" fill="#f2c8a8"/>
<circle cx="337.4" cy="260.4" r="0.45" fill="#e4a074"/>
<circle cx="349.0" cy="264.0" r="0.4" fill="#f2c8a8"/>
<circle cx="317.4" cy="250.0" r="0.45" fill="#e4a074"/>
<circle cx="324.0" cy="240.2" r="0.4" fill="#f2c8a8"/>
<circle cx="332.4" cy="243.2" r="0.45" fill="#e4a074"/>
<circle cx="334.5" cy="235.4" r="0.4" fill="#f2c8a8"/>
<circle cx="335.9" cy="233.3" r="0.4" fill="#f2c8a8"/>
<circle cx="330.3" cy="268.8" r="0.6" fill="#d47c4e"/>
<circle cx="334.3" cy="255.3" r="0.4" fill="#f2c8a8"/>
<circle cx="322.6" cy="238.5" r="0.4" fill="#f2c8a8"/>
<circle cx="343.0" cy="253.2" r="0.45" fill="#e4a074"/>
<circle cx="336.0" cy="255.7" r="0.4" fill="#f2c8a8"/>
<circle cx="346.8" cy="259.3" r="0.45" fill="#e4a074"/>
<circle cx="341.5" cy="272.4" r="0.4" fill="#f2c8a8"/>
<circle cx="338.2" cy="261.0" r="0.45" fill="#e4a074"/>
<circle cx="340.4" cy="249.8" r="0.4" fill="#f2c8a8"/>
<circle cx="334.8" cy="243.7" r="0.6" fill="#d47c4e"/>
<circle cx="316.3" cy="254.0" r="0.4" fill="#f2c8a8"/>
<circle cx="337.4" cy="240.3" r="0.4" fill="#f2c8a8"/>
<circle cx="338.7" cy="249.9" r="0.45" fill="#e4a074"/>
<circle cx="348.5" cy="260.6" r="0.4" fill="#f2c8a8"/>
<circle cx="336.4" cy="250.0" r="0.45" fill="#e4a074"/>
<circle cx="316.0" cy="264.6" r="0.6" fill="#d47c4e"/>
<circle cx="326.1" cy="246.7" r="0.4" fill="#f2c8a8"/>
<circle cx="331.9" cy="267.6" r="0.4" fill="#f2c8a8"/>
<circle cx="338.3" cy="271.4" r="0.45" fill="#e4a074"/>
<circle cx="326.7" cy="273.8" r="0.4" fill="#f2c8a8"/>
<circle cx="325.5" cy="250.3" r="0.6" fill="#d47c4e"/>
<circle cx="340.4" cy="245.9" r="0.45" fill="#e4a074"/>
<circle cx="337.9" cy="243.8" r="0.4" fill="#f2c8a8"/>
<circle cx="313.3" cy="255.6" r="0.4" fill="#f2c8a8"/>
<circle cx="326.3" cy="239.0" r="0.4" fill="#f2c8a8"/>
<circle cx="315.7" cy="244.4" r="0.4" fill="#f2c8a8"/>
<circle cx="342.4" cy="245.4" r="0.45" fill="#e4a074"/>
<circle cx="338.9" cy="247.1" r="0.6" fill="#d47c4e"/>
<circle cx="344.4" cy="253.5" r="0.4" fill="#f2c8a8"/>
<circle cx="348.8" cy="267.2" r="0.4" fill="#f2c8a8"/>
<circle cx="339.9" cy="249.5" r="0.45" fill="#e4a074"/>
<circle cx="340.1" cy="258.8" r="0.45" fill="#e4a074"/>
<circle cx="343.3" cy="260.4" r="0.6" fill="#d47c4e"/>
<circle cx="328.9" cy="234.6" r="0.6" fill="#d47c4e"/>
<circle cx="343.0" cy="255.9" r="0.45" fill="#e4a074"/>
<circle cx="331.5" cy="250.1" r="0.45" fill="#e4a074"/>
<circle cx="334.6" cy="267.5" r="0.4" fill="#f2c8a8"/>
<circle cx="353.7" cy="256.5" r="0.4" fill="#f2c8a8"/>
<circle cx="338.3" cy="248.8" r="0.4" fill="#f2c8a8"/>
<circle cx="342.0" cy="264.2" r="0.4" fill="#f2c8a8"/>
<circle cx="329.8" cy="246.4" r="0.45" fill="#e4a074"/>
<circle cx="326.0" cy="253.8" r="0.4" fill="#f2c8a8"/>
<circle cx="312.9" cy="254.3" r="0.4" fill="#f2c8a8"/>
<circle cx="337.5" cy="274.0" r="0.6" fill="#d47c4e"/>
<circle cx="331.7" cy="243.0" r="0.4" fill="#f2c8a8"/>
<circle cx="332.5" cy="259.3" r="0.4" fill="#f2c8a8"/>
<circle cx="319.6" cy="253.1" r="0.45" fill="#e4a074"/>
<circle cx="331.6" cy="255.5" r="0.45" fill="#e4a074"/>
<circle cx="324.1" cy="241.1" r="0.45" fill="#e4a074"/>
<circle cx="325.4" cy="234.5" r="0.6" fill="#d47c4e"/>
<circle cx="330.3" cy="240.9" r="0.4" fill="#f2c8a8"/>
<circle cx="314.9" cy="263.9" r="0.4" fill="#f2c8a8"/>
<circle cx="322.9" cy="262.7" r="0.4" fill="#f2c8a8"/>
<circle cx="334.5" cy="253.8" r="0.45" fill="#e4a074"/>
<circle cx="342.5" cy="249.1" r="0.45" fill="#e4a074"/>
<circle cx="325.6" cy="261.0" r="0.4" fill="#f2c8a8"/>
<circle cx="347.4" cy="266.7" r="0.45" fill="#e4a074"/>
<circle cx="336.9" cy="251.3" r="0.45" fill="#e4a074"/>
<circle cx="325.4" cy="268.9" r="0.45" fill="#e4a074"/>
<circle cx="324.7" cy="272.8" r="0.4" fill="#f2c8a8"/>
<circle cx="332.5" cy="234.5" r="0.45" fill="#e4a074"/>
<circle cx="315.5" cy="242.4" r="0.4" fill="#f2c8a8"/>
<circle cx="320.6" cy="240.7" r="0.4" fill="#f2c8a8"/>
<circle cx="329.9" cy="241.0" r="0.45" fill="#e4a074"/>
<circle cx="319.9" cy="242.6" r="0.4" fill="#f2c8a8"/>
<circle cx="322.3" cy="242.6" r="0.4" fill="#f2c8a8"/>
<circle cx="324.8" cy="246.8" r="0.6" fill="#d47c4e"/>
<circle cx="315.4" cy="256.8" r="0.45" fill="#e4a074"/>
<circle cx="323.2" cy="255.3" r="0.4" fill="#f2c8a8"/>
<circle cx="346.7" cy="247.1" r="0.45" fill="#e4a074"/>
<circle cx="314.3" cy="250.6" r="0.4" fill="#f2c8a8"/>
<circle cx="341.9" cy="270.7" r="0.4" fill="#f2c8a8"/>
<circle cx="320.9" cy="239.1" r="0.6" fill="#d47c4e"/>
<circle cx="335.9" cy="250.6" r="0.4" fill="#f2c8a8"/>
<circle cx="342.4" cy="237.3" r="0.4" fill="#f2c8a8"/>
<circle cx="339.0" cy="262.5" r="0.4" fill="#f2c8a8"/>
<circle cx="321.3" cy="268.6" r="0.45" fill="#e4a074"/>
<circle cx="327.0" cy="255.7" r="0.4" fill="#f2c8a8"/>
<circle cx="350.5" cy="253.5" r="0.4" fill="#f2c8a8"/>
<circle cx="314.4" cy="256.4" r="0.45" fill="#e4a074"/>
<circle cx="343.2" cy="267.9" r="0.4" fill="#f2c8a8"/>
<circle cx="322.8" cy="252.5" r="0.4" fill="#f2c8a8"/>
<circle cx="326.0" cy="264.8" r="0.4" fill="#f2c8a8"/>
<circle cx="337.8" cy="269.0" r="0.4" fill="#f2c8a8"/>
<circle cx="340.7" cy="269.9" r="0.4" fill="#f2c8a8"/>
<circle cx="328.4" cy="263.1" r="0.45" fill="#e4a074"/>
<circle cx="347.1" cy="262.9" r="0.45" fill="#e4a074"/>
<circle cx="337.1" cy="266.9" r="0.45" fill="#e4a074"/>
<circle cx="323.6" cy="245.2" r="0.4" fill="#f2c8a8"/>
<circle cx="321.1" cy="258.3" r="0.45" fill="#e4a074"/>
<circle cx="329.2" cy="266.7" r="0.45" fill="#e4a074"/>
<circle cx="337.6" cy="242.3" r="0.4" fill="#f2c8a8"/>
<circle cx="315.2" cy="244.3" r="0.4" fill="#f2c8a8"/>
<circle cx="350.4" cy="250.7" r="0.4" fill="#f2c8a8"/>
<circle cx="326.9" cy="243.5" r="0.4" fill="#f2c8a8"/>
<circle cx="333.5" cy="240.9" r="0.45" fill="#e4a074"/>
<circle cx="313.1" cy="254.3" r="0.45" fill="#e4a074"/>
<circle cx="349.0" cy="256.4" r="0.4" fill="#f2c8a8"/>
<circle cx="314.3" cy="258.4" r="0.4" fill="#f2c8a8"/>
<circle cx="313.5" cy="257.1" r="0.4" fill="#f2c8a8"/>
<circle cx="318.0" cy="254.7" r="0.45" fill="#e4a074"/>
<circle cx="324.3" cy="238.0" r="0.4" fill="#f2c8a8"/>
<circle cx="349.8" cy="258.2" r="0.45" fill="#e4a074"/>
<circle cx="335.2" cy="235.6" r="0.4" fill="#f2c8a8"/>
<circle cx="334.1" cy="259.6" r="0.45" fill="#e4a074"/>
<circle cx="338.0" cy="257.6" r="0.45" fill="#e4a074"/>
<circle cx="328.5" cy="251.9" r="0.45" fill="#e4a074"/>
<circle cx="329.5" cy="239.7" r="0.4" fill="#f2c8a8"/>
<circle cx="328.1" cy="241.2" r="0.45" fill="#e4a074"/>
<circle cx="352.0" cy="253.6" r="0.6" fill="#d47c4e"/>
<circle cx="340.4" cy="263.5" r="0.45" fill="#e4a074"/>
<circle cx="353.9" cy="254.6" r="0.4" fill="#f2c8a8"/>
<circle cx="332.1" cy="265.6" r="0.4" fill="#f2c8a8"/>
<circle cx="342.9" cy="241.7" r="0.45" fill="#e4a074"/>
<circle cx="328.8" cy="256.1" r="0.4" fill="#f2c8a8"/>
<circle cx="345.6" cy="239.9" r="0.45" fill="#e4a074"/>
<circle cx="332.6" cy="263.3" r="0.4" fill="#f2c8a8"/>
<circle cx="320.5" cy="250.9" r="0.4" fill="#f2c8a8"/>
<circle cx="317.0" cy="255.0" r="0.4" fill="#f2c8a8"/>
<circle cx="336.0" cy="244.9" r="0.6" fill="#d47c4e"/>
<circle cx="328.5" cy="252.2" r="0.4" fill="#f2c8a8"/>
<circle cx="319.9" cy="251.1" r="0.45" fill="#e4a074"/>
<circle cx="328.1" cy="263.7" r="0.45" fill="#e4a074"/>
<circle cx="328.4" cy="271.0" r="0.45" fill="#e4a074"/>
<circle cx="321.1" cy="246.1" r="0.6" fill="#d47c4e"/>
<circle cx="314.5" cy="260.5" r="0.4" fill="#f2c8a8"/>
<circle cx="317.6" cy="260.6" r="0.4" fill="#f2c8a8"/>
<circle cx="336.7" cy="249.6" r="0.45" fill="#e4a074"/>
<circle cx="341.6" cy="272.1" r="0.45" fill="#e4a074"/>
<circle cx="337.6" cy="239.8" r="0.45" fill="#e4a074"/>
<circle cx="327.8" cy="243.7" r="0.4" fill="#f2c8a8"/>
<circle cx="337.2" cy="247.0" r="0.6" fill="#d47c4e"/>
<circle cx="334.8" cy="260.3" r="0.4" fill="#f2c8a8"/>
<circle cx="337.4" cy="233.8" r="0.4" fill="#f2c8a8"/>
<circle cx="327.2" cy="244.9" r="0.6" fill="#d47c4e"/>
<circle cx="329.8" cy="246.2" r="0.4" fill="#f2c8a8"/>
<circle cx="331.6" cy="249.8" r="0.45" fill="#e4a074"/>
<circle cx="330.3" cy="263.6" r="0.45" fill="#e4a074"/>
<circle cx="326.4" cy="268.1" r="0.4" fill="#f2c8a8"/>
<circle cx="343.2" cy="247.6" r="0.45" fill="#e4a074"/>
<circle cx="343.9" cy="269.2" r="0.6" fill="#d47c4e"/>
<circle cx="330.0" cy="256.3" r="0.4" fill="#f2c8a8"/>
<circle cx="326.7" cy="246.2" r="0.45" fill="#e4a074"/>
<circle cx="344.9" cy="261.8" r="0.45" fill="#e4a074"/>
<circle cx="317.4" cy="261.2" r="0.4" fill="#f2c8a8"/>
<circle cx="336.5" cy="247.4" r="0.6" fill="#d47c4e"/>
<circle cx="353.3" cy="253.4" r="0.45" fill="#e4a074"/>
<circle cx="329.9" cy="265.8" r="0.45" fill="#e4a074"/>
<circle cx="312.8" cy="254.3" r="0.4" fill="#f2c8a8"/>
<circle cx="313.6" cy="255.7" r="0.45" fill="#e4a074"/>
<rect x="310.40" y="232.30" width="44.60" height="44.10" fill="none" stroke="#6a6a6a" stroke-width="0.9" />
<rect x="356.50" y="232.30" width="44.60" height="44.10" fill="#fff" />
<circle cx="373.1" cy="252.5" r="0.4" fill="#f2c8a8"/>
<circle cx="376.5" cy="273.7" r="0.45" fill="#e4a074"/>
<circle cx="382.0" cy="274.0" r="0.4" fill="#f2c8a8"/>
<circle cx="362.3" cy="242.0" r="0.4" fill="#f2c8a8"/>
<circle cx="395.1" cy="248.2" r="0.4" fill="#f2c8a8"/>
<circle cx="372.1" cy="266.3" r="0.4" fill="#f2c8a8"/>
<circle cx="378.7" cy="245.2" r="0.45" fill="#e4a074"/>
<circle cx="377.4" cy="259.3" r="0.45" fill="#e4a074"/>
<circle cx="392.0" cy="262.9" r="0.45" fill="#e4a074"/>
<circle cx="367.3" cy="246.0" r="0.4" fill="#f2c8a8"/>
<circle cx="372.6" cy="253.5" r="0.45" fill="#e4a074"/>
<circle cx="389.9" cy="265.8" r="0.4" fill="#f2c8a8"/>
<circle cx="367.0" cy="266.2" r="0.4" fill="#f2c8a8"/>
<circle cx="389.0" cy="271.9" r="0.4" fill="#f2c8a8"/>
<circle cx="389.9" cy="237.6" r="0.4" fill="#f2c8a8"/>
<circle cx="382.9" cy="259.2" r="0.6" fill="#d47c4e"/>
<circle cx="390.1" cy="264.0" r="0.45" fill="#e4a074"/>
<circle cx="389.7" cy="263.7" r="0.4" fill="#f2c8a8"/>
<circle cx="364.5" cy="250.7" r="0.4" fill="#f2c8a8"/>
<circle cx="383.4" cy="266.7" r="0.4" fill="#f2c8a8"/>
<circle cx="386.3" cy="261.4" r="0.6" fill="#d47c4e"/>
<circle cx="359.3" cy="253.8" r="0.4" fill="#f2c8a8"/>
<circle cx="392.9" cy="248.9" r="0.45" fill="#e4a074"/>
<circle cx="363.3" cy="246.6" r="0.4" fill="#f2c8a8"/>
<circle cx="379.1" cy="245.8" r="0.4" fill="#f2c8a8"/>
<circle cx="392.0" cy="256.6" r="0.45" fill="#e4a074"/>
<circle cx="373.9" cy="273.2" r="0.4" fill="#f2c8a8"/>
<circle cx="370.2" cy="249.2" r="0.45" fill="#e4a074"/>
<circle cx="382.9" cy="236.7" r="0.4" fill="#f2c8a8"/>
<circle cx="379.5" cy="270.3" r="0.6" fill="#d47c4e"/>
<circle cx="395.1" cy="258.3" r="0.45" fill="#e4a074"/>
<circle cx="384.0" cy="242.8" r="0.45" fill="#e4a074"/>
<circle cx="359.5" cy="258.8" r="0.4" fill="#f2c8a8"/>
<circle cx="391.6" cy="249.1" r="0.4" fill="#f2c8a8"/>
<circle cx="387.9" cy="259.5" r="0.45" fill="#e4a074"/>
<circle cx="375.6" cy="246.7" r="0.4" fill="#f2c8a8"/>
<circle cx="385.0" cy="261.3" r="0.4" fill="#f2c8a8"/>
<circle cx="369.0" cy="272.2" r="0.6" fill="#d47c4e"/>
<circle cx="382.9" cy="240.0" r="0.4" fill="#f2c8a8"/>
<circle cx="382.8" cy="234.4" r="0.45" fill="#e4a074"/>
<circle cx="373.0" cy="247.0" r="0.45" fill="#e4a074"/>
<circle cx="389.6" cy="238.7" r="0.4" fill="#f2c8a8"/>
<circle cx="376.6" cy="241.9" r="0.4" fill="#f2c8a8"/>
<circle cx="395.9" cy="250.4" r="0.45" fill="#e4a074"/>
<circle cx="391.7" cy="268.4" r="0.6" fill="#d47c4e"/>
<circle cx="394.1" cy="243.8" r="0.45" fill="#e4a074"/>
<circle cx="384.3" cy="238.8" r="0.4" fill="#f2c8a8"/>
<circle cx="387.6" cy="237.5" r="0.6" fill="#d47c4e"/>
<circle cx="372.9" cy="273.7" r="0.45" fill="#e4a074"/>
<circle cx="385.8" cy="251.7" r="0.6" fill="#d47c4e"/>
<circle cx="381.6" cy="243.8" r="0.45" fill="#e4a074"/>
<circle cx="380.1" cy="263.3" r="0.4" fill="#f2c8a8"/>
<circle cx="380.3" cy="268.7" r="0.6" fill="#d47c4e"/>
<circle cx="372.1" cy="237.8" r="0.4" fill="#f2c8a8"/>
<circle cx="383.0" cy="235.8" r="0.45" fill="#e4a074"/>
<circle cx="396.9" cy="247.2" r="0.4" fill="#f2c8a8"/>
<circle cx="393.6" cy="262.9" r="0.45" fill="#e4a074"/>
<circle cx="370.5" cy="267.7" r="0.45" fill="#e4a074"/>
<circle cx="379.5" cy="252.7" r="0.4" fill="#f2c8a8"/>
<circle cx="386.0" cy="254.8" r="0.45" fill="#e4a074"/>
<circle cx="364.9" cy="262.0" r="0.4" fill="#f2c8a8"/>
<circle cx="374.1" cy="262.4" r="0.4" fill="#f2c8a8"/>
<circle cx="388.3" cy="240.4" r="0.4" fill="#f2c8a8"/>
<circle cx="388.4" cy="259.8" r="0.45" fill="#e4a074"/>
<circle cx="363.1" cy="260.1" r="0.45" fill="#e4a074"/>
<circle cx="391.7" cy="266.0" r="0.4" fill="#f2c8a8"/>
<circle cx="383.1" cy="246.0" r="0.4" fill="#f2c8a8"/>
<circle cx="391.3" cy="250.7" r="0.4" fill="#f2c8a8"/>
<circle cx="391.7" cy="243.6" r="0.6" fill="#d47c4e"/>
<circle cx="367.4" cy="263.2" r="0.6" fill="#d47c4e"/>
<circle cx="358.2" cy="253.2" r="0.4" fill="#f2c8a8"/>
<circle cx="383.2" cy="246.7" r="0.45" fill="#e4a074"/>
<circle cx="387.9" cy="254.1" r="0.6" fill="#d47c4e"/>
<circle cx="361.0" cy="259.4" r="0.4" fill="#f2c8a8"/>
<circle cx="375.1" cy="259.4" r="0.45" fill="#e4a074"/>
<circle cx="388.9" cy="242.6" r="0.4" fill="#f2c8a8"/>
<circle cx="397.0" cy="245.4" r="0.45" fill="#e4a074"/>
<circle cx="393.8" cy="261.7" r="0.4" fill="#f2c8a8"/>
<circle cx="391.3" cy="250.7" r="0.45" fill="#e4a074"/>
<circle cx="370.4" cy="244.6" r="0.45" fill="#e4a074"/>
<circle cx="370.2" cy="236.1" r="0.4" fill="#f2c8a8"/>
<circle cx="365.5" cy="269.7" r="0.4" fill="#f2c8a8"/>
<circle cx="387.9" cy="239.1" r="0.45" fill="#e4a074"/>
<circle cx="361.9" cy="259.9" r="0.6" fill="#d47c4e"/>
<circle cx="376.7" cy="236.0" r="0.4" fill="#f2c8a8"/>
<circle cx="375.6" cy="261.0" r="0.6" fill="#d47c4e"/>
<circle cx="385.3" cy="249.0" r="0.45" fill="#e4a074"/>
<circle cx="375.1" cy="251.9" r="0.4" fill="#f2c8a8"/>
<circle cx="378.8" cy="237.2" r="0.4" fill="#f2c8a8"/>
<circle cx="380.0" cy="242.8" r="0.45" fill="#e4a074"/>
<circle cx="360.9" cy="264.0" r="0.45" fill="#e4a074"/>
<circle cx="384.9" cy="237.8" r="0.4" fill="#f2c8a8"/>
<circle cx="396.3" cy="250.0" r="0.45" fill="#e4a074"/>
<circle cx="377.6" cy="262.4" r="0.45" fill="#e4a074"/>
<circle cx="387.7" cy="237.4" r="0.4" fill="#f2c8a8"/>
<circle cx="388.7" cy="265.7" r="0.6" fill="#d47c4e"/>
<circle cx="388.6" cy="269.4" r="0.4" fill="#f2c8a8"/>
<circle cx="377.3" cy="258.5" r="0.4" fill="#f2c8a8"/>
<circle cx="363.8" cy="267.9" r="0.6" fill="#d47c4e"/>
<circle cx="383.6" cy="264.8" r="0.6" fill="#d47c4e"/>
<circle cx="383.0" cy="265.3" r="0.4" fill="#f2c8a8"/>
<circle cx="387.4" cy="260.8" r="0.4" fill="#f2c8a8"/>
<circle cx="363.6" cy="267.6" r="0.4" fill="#f2c8a8"/>
<circle cx="384.8" cy="273.2" r="0.4" fill="#f2c8a8"/>
<circle cx="387.8" cy="239.7" r="0.45" fill="#e4a074"/>
<circle cx="375.9" cy="261.6" r="0.45" fill="#e4a074"/>
<circle cx="363.7" cy="257.0" r="0.45" fill="#e4a074"/>
<circle cx="379.3" cy="243.0" r="0.4" fill="#f2c8a8"/>
<circle cx="392.4" cy="246.5" r="0.4" fill="#f2c8a8"/>
<circle cx="371.8" cy="246.2" r="0.45" fill="#e4a074"/>
<circle cx="397.6" cy="259.0" r="0.45" fill="#e4a074"/>
<circle cx="366.8" cy="270.2" r="0.4" fill="#f2c8a8"/>
<circle cx="379.3" cy="259.6" r="0.45" fill="#e4a074"/>
<circle cx="379.5" cy="236.8" r="0.4" fill="#f2c8a8"/>
<circle cx="381.6" cy="247.5" r="0.4" fill="#f2c8a8"/>
<circle cx="366.4" cy="237.7" r="0.45" fill="#e4a074"/>
<circle cx="372.5" cy="236.8" r="0.4" fill="#f2c8a8"/>
<circle cx="395.9" cy="247.4" r="0.4" fill="#f2c8a8"/>
<circle cx="364.4" cy="265.8" r="0.4" fill="#f2c8a8"/>
<circle cx="386.8" cy="272.1" r="0.45" fill="#e4a074"/>
<circle cx="362.1" cy="251.8" r="0.6" fill="#d47c4e"/>
<circle cx="387.3" cy="263.1" r="0.4" fill="#f2c8a8"/>
<circle cx="366.4" cy="261.8" r="0.45" fill="#e4a074"/>
<circle cx="371.2" cy="240.2" r="0.4" fill="#f2c8a8"/>
<circle cx="369.3" cy="249.1" r="0.45" fill="#e4a074"/>
<circle cx="383.7" cy="235.4" r="0.4" fill="#f2c8a8"/>
<circle cx="370.5" cy="238.0" r="0.45" fill="#e4a074"/>
<circle cx="395.1" cy="242.2" r="0.45" fill="#e4a074"/>
<circle cx="386.4" cy="238.8" r="0.6" fill="#d47c4e"/>
<circle cx="391.1" cy="267.0" r="0.45" fill="#e4a074"/>
<circle cx="370.7" cy="246.9" r="0.4" fill="#f2c8a8"/>
<circle cx="363.9" cy="242.5" r="0.4" fill="#f2c8a8"/>
<circle cx="381.4" cy="263.7" r="0.4" fill="#f2c8a8"/>
<circle cx="369.8" cy="235.5" r="0.45" fill="#e4a074"/>
<circle cx="367.9" cy="267.6" r="0.4" fill="#f2c8a8"/>
<circle cx="385.4" cy="243.9" r="0.4" fill="#f2c8a8"/>
<circle cx="373.7" cy="248.4" r="0.4" fill="#f2c8a8"/>
<circle cx="392.2" cy="259.1" r="0.45" fill="#e4a074"/>
<circle cx="380.6" cy="250.1" r="0.45" fill="#e4a074"/>
<circle cx="386.7" cy="260.4" r="0.45" fill="#e4a074"/>
<circle cx="372.6" cy="264.2" r="0.45" fill="#e4a074"/>
<circle cx="382.9" cy="272.4" r="0.4" fill="#f2c8a8"/>
<circle cx="389.2" cy="238.1" r="0.45" fill="#e4a074"/>
<circle cx="397.3" cy="257.6" r="0.4" fill="#f2c8a8"/>
<circle cx="365.4" cy="253.7" r="0.4" fill="#f2c8a8"/>
<circle cx="366.9" cy="241.0" r="0.45" fill="#e4a074"/>
<circle cx="366.9" cy="262.9" r="0.45" fill="#e4a074"/>
<circle cx="382.0" cy="273.4" r="0.6" fill="#d47c4e"/>
<circle cx="386.0" cy="234.6" r="0.4" fill="#f2c8a8"/>
<circle cx="384.7" cy="253.6" r="0.4" fill="#f2c8a8"/>
<circle cx="388.5" cy="264.6" r="0.45" fill="#e4a074"/>
<circle cx="375.4" cy="240.4" r="0.4" fill="#f2c8a8"/>
<circle cx="384.0" cy="266.4" r="0.4" fill="#f2c8a8"/>
<circle cx="385.3" cy="271.0" r="0.45" fill="#e4a074"/>
<circle cx="370.4" cy="257.6" r="0.45" fill="#e4a074"/>
<circle cx="382.7" cy="264.3" r="0.45" fill="#e4a074"/>
<circle cx="372.8" cy="234.3" r="0.45" fill="#e4a074"/>
<circle cx="398.2" cy="247.6" r="0.45" fill="#e4a074"/>
<circle cx="378.1" cy="248.9" r="0.4" fill="#f2c8a8"/>
<circle cx="398.5" cy="255.6" r="0.45" fill="#e4a074"/>
<circle cx="371.7" cy="246.2" r="0.4" fill="#f2c8a8"/>
<circle cx="387.7" cy="268.3" r="0.6" fill="#d47c4e"/>
<circle cx="377.6" cy="258.2" r="0.4" fill="#f2c8a8"/>
<circle cx="366.9" cy="269.8" r="0.45" fill="#e4a074"/>
<circle cx="372.7" cy="255.9" r="0.4" fill="#f2c8a8"/>
<circle cx="389.6" cy="269.3" r="0.4" fill="#f2c8a8"/>
<circle cx="399.1" cy="252.9" r="0.45" fill="#e4a074"/>
<circle cx="360.3" cy="256.9" r="0.4" fill="#f2c8a8"/>
<circle cx="391.3" cy="264.0" r="0.45" fill="#e4a074"/>
<circle cx="381.8" cy="264.2" r="0.4" fill="#f2c8a8"/>
<circle cx="394.0" cy="244.5" r="0.6" fill="#d47c4e"/>
<circle cx="392.9" cy="252.4" r="0.45" fill="#e4a074"/>
<circle cx="365.0" cy="266.6" r="0.45" fill="#e4a074"/>
<circle cx="380.7" cy="255.8" r="0.4" fill="#f2c8a8"/>
<circle cx="368.0" cy="247.4" r="0.4" fill="#f2c8a8"/>
<circle cx="388.1" cy="237.8" r="0.4" fill="#f2c8a8"/>
<circle cx="398.2" cy="259.4" r="0.45" fill="#e4a074"/>
<circle cx="389.9" cy="259.2" r="0.45" fill="#e4a074"/>
<circle cx="390.1" cy="244.4" r="0.45" fill="#e4a074"/>
<circle cx="381.9" cy="264.0" r="0.6" fill="#d47c4e"/>
<circle cx="374.1" cy="258.6" r="0.45" fill="#e4a074"/>
<circle cx="385.7" cy="260.7" r="0.4" fill="#f2c8a8"/>
<circle cx="364.7" cy="245.5" r="0.45" fill="#e4a074"/>
<circle cx="374.0" cy="256.1" r="0.45" fill="#e4a074"/>
<circle cx="392.7" cy="258.8" r="0.4" fill="#f2c8a8"/>
<circle cx="370.8" cy="238.4" r="0.4" fill="#f2c8a8"/>
<circle cx="368.8" cy="239.9" r="0.4" fill="#f2c8a8"/>
<circle cx="391.7" cy="269.6" r="0.45" fill="#e4a074"/>
<circle cx="388.6" cy="258.0" r="0.6" fill="#d47c4e"/>
<circle cx="380.9" cy="267.1" r="0.45" fill="#e4a074"/>
<circle cx="386.6" cy="239.1" r="0.45" fill="#e4a074"/>
<circle cx="385.3" cy="255.6" r="0.6" fill="#d47c4e"/>
<circle cx="380.4" cy="250.2" r="0.4" fill="#f2c8a8"/>
<circle cx="380.3" cy="274.3" r="0.4" fill="#f2c8a8"/>
<circle cx="369.5" cy="236.2" r="0.45" fill="#e4a074"/>
<circle cx="388.5" cy="248.8" r="0.4" fill="#f2c8a8"/>
<circle cx="397.3" cy="256.1" r="0.4" fill="#f2c8a8"/>
<circle cx="396.5" cy="251.1" r="0.4" fill="#f2c8a8"/>
<circle cx="382.1" cy="246.1" r="0.45" fill="#e4a074"/>
<circle cx="393.8" cy="265.5" r="0.6" fill="#d47c4e"/>
<circle cx="380.0" cy="253.5" r="0.45" fill="#e4a074"/>
<circle cx="361.2" cy="247.5" r="0.45" fill="#e4a074"/>
<circle cx="367.3" cy="243.0" r="0.45" fill="#e4a074"/>
<circle cx="383.4" cy="256.3" r="0.45" fill="#e4a074"/>
<circle cx="375.7" cy="266.8" r="0.4" fill="#f2c8a8"/>
<circle cx="379.0" cy="250.8" r="0.45" fill="#e4a074"/>
<circle cx="384.5" cy="240.9" r="0.4" fill="#f2c8a8"/>
<circle cx="373.5" cy="246.3" r="0.4" fill="#f2c8a8"/>
<circle cx="395.1" cy="267.3" r="0.45" fill="#e4a074"/>
<circle cx="375.2" cy="259.2" r="0.45" fill="#e4a074"/>
<circle cx="390.4" cy="238.4" r="0.4" fill="#f2c8a8"/>
<circle cx="371.3" cy="262.6" r="0.45" fill="#e4a074"/>
<circle cx="388.9" cy="267.1" r="0.6" fill="#d47c4e"/>
<circle cx="379.3" cy="252.3" r="0.4" fill="#f2c8a8"/>
<circle cx="392.3" cy="265.5" r="0.45" fill="#e4a074"/>
<circle cx="365.0" cy="252.3" r="0.4" fill="#f2c8a8"/>
<circle cx="366.1" cy="243.2" r="0.6" fill="#d47c4e"/>
<circle cx="377.1" cy="235.4" r="0.6" fill="#d47c4e"/>
<circle cx="388.4" cy="238.9" r="0.4" fill="#f2c8a8"/>
<circle cx="370.9" cy="236.5" r="0.4" fill="#f2c8a8"/>
<circle cx="385.5" cy="247.9" r="0.6" fill="#d47c4e"/>
<circle cx="362.6" cy="260.4" r="0.4" fill="#f2c8a8"/>
<circle cx="375.2" cy="265.8" r="0.4" fill="#f2c8a8"/>
<circle cx="390.7" cy="261.9" r="0.6" fill="#d47c4e"/>
<circle cx="367.6" cy="237.4" r="0.45" fill="#e4a074"/>
<circle cx="390.0" cy="236.1" r="0.45" fill="#e4a074"/>
<circle cx="377.5" cy="264.4" r="0.4" fill="#f2c8a8"/>
<circle cx="389.1" cy="255.4" r="0.6" fill="#d47c4e"/>
<circle cx="389.7" cy="248.3" r="0.45" fill="#e4a074"/>
<circle cx="382.2" cy="234.5" r="0.45" fill="#e4a074"/>
<circle cx="372.4" cy="252.7" r="0.45" fill="#e4a074"/>
<circle cx="372.6" cy="269.4" r="0.4" fill="#f2c8a8"/>
<circle cx="359.0" cy="249.3" r="0.4" fill="#f2c8a8"/>
<circle cx="362.5" cy="250.8" r="0.45" fill="#e4a074"/>
<circle cx="391.5" cy="249.0" r="0.6" fill="#d47c4e"/>
<circle cx="371.5" cy="234.9" r="0.4" fill="#f2c8a8"/>
<circle cx="381.7" cy="265.0" r="0.6" fill="#d47c4e"/>
<circle cx="389.8" cy="255.0" r="0.45" fill="#e4a074"/>
<circle cx="387.9" cy="253.5" r="0.4" fill="#f2c8a8"/>
<circle cx="372.4" cy="238.0" r="0.45" fill="#e4a074"/>
<circle cx="379.3" cy="243.6" r="0.4" fill="#f2c8a8"/>
<circle cx="396.3" cy="257.1" r="0.4" fill="#f2c8a8"/>
<circle cx="377.9" cy="274.6" r="0.45" fill="#e4a074"/>
<circle cx="364.8" cy="244.8" r="0.45" fill="#e4a074"/>
<circle cx="375.2" cy="243.2" r="0.4" fill="#f2c8a8"/>
<circle cx="381.4" cy="255.1" r="0.4" fill="#f2c8a8"/>
<circle cx="383.5" cy="259.5" r="0.4" fill="#f2c8a8"/>
<circle cx="396.2" cy="250.7" r="0.4" fill="#f2c8a8"/>
<circle cx="380.2" cy="245.3" r="0.4" fill="#f2c8a8"/>
<circle cx="374.7" cy="266.7" r="0.45" fill="#e4a074"/>
<circle cx="362.2" cy="260.1" r="0.4" fill="#f2c8a8"/>
<circle cx="390.3" cy="249.0" r="0.45" fill="#e4a074"/>
<circle cx="397.9" cy="257.7" r="0.4" fill="#f2c8a8"/>
<circle cx="390.6" cy="239.2" r="0.45" fill="#e4a074"/>
<circle cx="378.7" cy="256.1" r="0.4" fill="#f2c8a8"/>
<circle cx="386.0" cy="249.4" r="0.45" fill="#e4a074"/>
<circle cx="364.5" cy="245.2" r="0.4" fill="#f2c8a8"/>
<circle cx="383.2" cy="259.2" r="0.6" fill="#d47c4e"/>
<circle cx="366.5" cy="265.4" r="0.45" fill="#e4a074"/>
<circle cx="380.0" cy="259.3" r="0.4" fill="#f2c8a8"/>
<circle cx="383.6" cy="248.0" r="0.6" fill="#d47c4e"/>
<circle cx="367.4" cy="267.5" r="0.4" fill="#f2c8a8"/>
<circle cx="381.6" cy="243.8" r="0.4" fill="#f2c8a8"/>
<circle cx="372.2" cy="253.0" r="0.4" fill="#f2c8a8"/>
<circle cx="382.3" cy="243.3" r="0.4" fill="#f2c8a8"/>
<circle cx="380.0" cy="244.2" r="0.4" fill="#f2c8a8"/>
<circle cx="381.6" cy="266.8" r="0.4" fill="#f2c8a8"/>
<circle cx="370.0" cy="242.9" r="0.6" fill="#d47c4e"/>
<circle cx="395.4" cy="259.4" r="0.45" fill="#e4a074"/>
<circle cx="379.4" cy="257.6" r="0.4" fill="#f2c8a8"/>
<circle cx="389.7" cy="263.5" r="0.45" fill="#e4a074"/>
<circle cx="385.1" cy="258.1" r="0.4" fill="#f2c8a8"/>
<circle cx="383.7" cy="263.0" r="0.4" fill="#f2c8a8"/>
<circle cx="383.1" cy="257.8" r="0.4" fill="#f2c8a8"/>
<circle cx="359.2" cy="258.0" r="0.45" fill="#e4a074"/>
<circle cx="388.0" cy="258.4" r="0.45" fill="#e4a074"/>
<circle cx="361.0" cy="246.5" r="0.6" fill="#d47c4e"/>
<circle cx="383.5" cy="248.6" r="0.6" fill="#d47c4e"/>
<circle cx="368.9" cy="252.5" r="0.4" fill="#f2c8a8"/>
<circle cx="385.5" cy="246.8" r="0.4" fill="#f2c8a8"/>
<circle cx="377.2" cy="274.1" r="0.4" fill="#f2c8a8"/>
<circle cx="378.4" cy="248.4" r="0.4" fill="#f2c8a8"/>
<circle cx="375.2" cy="262.7" r="0.45" fill="#e4a074"/>
<circle cx="374.4" cy="259.6" r="0.6" fill="#d47c4e"/>
<circle cx="370.3" cy="255.1" r="0.4" fill="#f2c8a8"/>
<circle cx="370.5" cy="241.7" r="0.4" fill="#f2c8a8"/>
<circle cx="361.3" cy="257.4" r="0.45" fill="#e4a074"/>
<circle cx="380.6" cy="268.8" r="0.45" fill="#e4a074"/>
<circle cx="374.4" cy="247.5" r="0.45" fill="#e4a074"/>
<circle cx="396.1" cy="248.0" r="0.45" fill="#e4a074"/>
<circle cx="365.7" cy="268.8" r="0.4" fill="#f2c8a8"/>
<circle cx="381.5" cy="270.1" r="0.6" fill="#d47c4e"/>
<circle cx="387.6" cy="258.9" r="0.4" fill="#f2c8a8"/>
<circle cx="371.8" cy="257.0" r="0.4" fill="#f2c8a8"/>
<circle cx="379.0" cy="238.0" r="0.6" fill="#d47c4e"/>
<circle cx="365.0" cy="264.0" r="0.4" fill="#f2c8a8"/>
<circle cx="388.7" cy="250.8" r="0.4" fill="#f2c8a8"/>
<circle cx="358.7" cy="252.6" r="0.4" fill="#f2c8a8"/>
<circle cx="395.6" cy="253.2" r="0.4" fill="#f2c8a8"/>
<circle cx="383.8" cy="245.9" r="0.6" fill="#d47c4e"/>
<circle cx="369.5" cy="256.7" r="0.6" fill="#d47c4e"/>
<circle cx="373.3" cy="266.1" r="0.4" fill="#f2c8a8"/>
<circle cx="377.5" cy="251.3" r="0.4" fill="#f2c8a8"/>
<circle cx="389.1" cy="270.3" r="0.4" fill="#f2c8a8"/>
<circle cx="370.8" cy="247.4" r="0.4" fill="#f2c8a8"/>
<circle cx="362.7" cy="247.3" r="0.4" fill="#f2c8a8"/>
<circle cx="379.5" cy="261.3" r="0.6" fill="#d47c4e"/>
<circle cx="383.7" cy="260.3" r="0.45" fill="#e4a074"/>
<circle cx="361.9" cy="244.4" r="0.4" fill="#f2c8a8"/>
<circle cx="379.9" cy="262.6" r="0.45" fill="#e4a074"/>
<circle cx="366.3" cy="258.0" r="0.6" fill="#d47c4e"/>
<circle cx="368.8" cy="237.5" r="0.6" fill="#d47c4e"/>
<circle cx="376.7" cy="274.3" r="0.4" fill="#f2c8a8"/>
<circle cx="398.1" cy="260.4" r="0.4" fill="#f2c8a8"/>
<circle cx="390.3" cy="255.3" r="0.4" fill="#f2c8a8"/>
<circle cx="398.3" cy="250.0" r="0.4" fill="#f2c8a8"/>
<circle cx="360.1" cy="250.5" r="0.45" fill="#e4a074"/>
<circle cx="370.5" cy="241.7" r="0.4" fill="#f2c8a8"/>
<circle cx="379.8" cy="271.1" r="0.45" fill="#e4a074"/>
<circle cx="385.4" cy="235.2" r="0.6" fill="#d47c4e"/>
<circle cx="381.1" cy="259.5" r="0.6" fill="#d47c4e"/>
<circle cx="371.0" cy="250.2" r="0.45" fill="#e4a074"/>
<circle cx="378.7" cy="264.3" r="0.4" fill="#f2c8a8"/>
<circle cx="362.0" cy="251.5" r="0.4" fill="#f2c8a8"/>
<circle cx="378.2" cy="237.5" r="0.4" fill="#f2c8a8"/>
<circle cx="370.3" cy="237.5" r="0.4" fill="#f2c8a8"/>
<circle cx="362.0" cy="256.7" r="0.45" fill="#e4a074"/>
<circle cx="373.7" cy="246.9" r="0.6" fill="#d47c4e"/>
<circle cx="381.4" cy="244.2" r="0.4" fill="#f2c8a8"/>
<circle cx="388.3" cy="251.5" r="0.4" fill="#f2c8a8"/>
<circle cx="398.4" cy="249.3" r="0.4" fill="#f2c8a8"/>
<circle cx="377.9" cy="241.5" r="0.45" fill="#e4a074"/>
<circle cx="379.9" cy="246.6" r="0.4" fill="#f2c8a8"/>
<circle cx="381.5" cy="264.6" r="0.4" fill="#f2c8a8"/>
<circle cx="387.9" cy="264.1" r="0.4" fill="#f2c8a8"/>
<circle cx="393.2" cy="261.6" r="0.6" fill="#d47c4e"/>
<circle cx="368.0" cy="248.2" r="0.45" fill="#e4a074"/>
<circle cx="371.0" cy="257.4" r="0.4" fill="#f2c8a8"/>
<circle cx="396.3" cy="256.0" r="0.4" fill="#f2c8a8"/>
<circle cx="365.0" cy="269.1" r="0.45" fill="#e4a074"/>
<circle cx="387.7" cy="239.6" r="0.45" fill="#e4a074"/>
<circle cx="373.3" cy="234.2" r="0.4" fill="#f2c8a8"/>
<circle cx="380.3" cy="242.6" r="0.4" fill="#f2c8a8"/>
<circle cx="386.2" cy="239.4" r="0.45" fill="#e4a074"/>
<circle cx="390.5" cy="242.7" r="0.4" fill="#f2c8a8"/>
<circle cx="394.4" cy="255.5" r="0.45" fill="#e4a074"/>
<circle cx="378.3" cy="259.6" r="0.4" fill="#f2c8a8"/>
<circle cx="387.2" cy="269.6" r="0.4" fill="#f2c8a8"/>
<circle cx="380.5" cy="264.8" r="0.45" fill="#e4a074"/>
<circle cx="382.0" cy="253.8" r="0.4" fill="#f2c8a8"/>
<circle cx="398.1" cy="245.8" r="0.4" fill="#f2c8a8"/>
<circle cx="371.3" cy="267.1" r="0.4" fill="#f2c8a8"/>
<circle cx="366.5" cy="261.3" r="0.4" fill="#f2c8a8"/>
<circle cx="384.8" cy="256.1" r="0.4" fill="#f2c8a8"/>
<circle cx="393.0" cy="263.1" r="0.45" fill="#e4a074"/>
<circle cx="377.6" cy="272.7" r="0.45" fill="#e4a074"/>
<circle cx="371.1" cy="266.4" r="0.4" fill="#f2c8a8"/>
<circle cx="393.3" cy="247.3" r="0.4" fill="#f2c8a8"/>
<circle cx="389.0" cy="268.4" r="0.4" fill="#f2c8a8"/>
<circle cx="377.0" cy="244.2" r="0.45" fill="#e4a074"/>
<circle cx="381.2" cy="247.9" r="0.45" fill="#e4a074"/>
<circle cx="385.5" cy="270.5" r="0.45" fill="#e4a074"/>
<circle cx="381.7" cy="244.3" r="0.4" fill="#f2c8a8"/>
<circle cx="370.9" cy="240.5" r="0.4" fill="#f2c8a8"/>
<rect x="356.50" y="232.30" width="44.60" height="44.10" fill="none" stroke="#6a6a6a" stroke-width="0.9" />
<rect x="402.60" y="232.30" width="44.60" height="44.10" fill="#fff" />
<circle cx="430.8" cy="269.1" r="0.4" fill="#f2c8a8"/>
<circle cx="418.3" cy="246.4" r="0.4" fill="#f2c8a8"/>
<circle cx="411.6" cy="261.1" r="0.45" fill="#e4a074"/>
<circle cx="442.7" cy="257.5" r="0.4" fill="#f2c8a8"/>
<circle cx="420.9" cy="270.3" r="0.45" fill="#e4a074"/>
<circle cx="410.2" cy="240.9" r="0.4" fill="#f2c8a8"/>
<circle cx="418.8" cy="269.9" r="0.4" fill="#f2c8a8"/>
<circle cx="430.7" cy="262.4" r="0.45" fill="#e4a074"/>
<circle cx="433.5" cy="238.3" r="0.6" fill="#d47c4e"/>
<circle cx="428.4" cy="242.8" r="0.4" fill="#f2c8a8"/>
<circle cx="424.3" cy="249.2" r="0.45" fill="#e4a074"/>
<circle cx="429.1" cy="256.5" r="0.45" fill="#e4a074"/>
<circle cx="437.0" cy="270.5" r="0.6" fill="#d47c4e"/>
<circle cx="416.1" cy="256.3" r="0.4" fill="#f2c8a8"/>
<circle cx="410.1" cy="253.4" r="0.4" fill="#f2c8a8"/>
<circle cx="422.0" cy="239.1" r="0.45" fill="#e4a074"/>
<circle cx="429.6" cy="257.5" r="0.4" fill="#f2c8a8"/>
<circle cx="414.7" cy="255.1" r="0.45" fill="#e4a074"/>
<circle cx="427.3" cy="265.7" r="0.4" fill="#f2c8a8"/>
<circle cx="420.9" cy="236.1" r="0.4" fill="#f2c8a8"/>
<circle cx="406.1" cy="260.7" r="0.6" fill="#d47c4e"/>
<circle cx="420.2" cy="249.4" r="0.4" fill="#f2c8a8"/>
<circle cx="418.0" cy="245.7" r="0.4" fill="#f2c8a8"/>
<circle cx="445.1" cy="251.7" r="0.4" fill="#f2c8a8"/>
<circle cx="409.1" cy="257.6" r="0.4" fill="#f2c8a8"/>
<circle cx="441.7" cy="261.6" r="0.45" fill="#e4a074"/>
<circle cx="419.5" cy="256.4" r="0.4" fill="#f2c8a8"/>
<circle cx="442.3" cy="265.5" r="0.4" fill="#f2c8a8"/>
<circle cx="420.8" cy="271.9" r="0.4" fill="#f2c8a8"/>
<circle cx="429.6" cy="257.5" r="0.4" fill="#f2c8a8"/>
<circle cx="406.4" cy="250.2" r="0.4" fill="#f2c8a8"/>
<circle cx="433.7" cy="270.3" r="0.4" fill="#f2c8a8"/>
<circle cx="421.3" cy="260.3" r="0.4" fill="#f2c8a8"/>
<circle cx="432.3" cy="252.8" r="0.4" fill="#f2c8a8"/>
<circle cx="424.0" cy="234.3" r="0.6" fill="#d47c4e"/>
<circle cx="405.0" cy="257.5" r="0.45" fill="#e4a074"/>
<circle cx="421.8" cy="268.0" r="0.45" fill="#e4a074"/>
<circle cx="424.4" cy="246.5" r="0.4" fill="#f2c8a8"/>
<circle cx="431.8" cy="252.3" r="0.45" fill="#e4a074"/>
<circle cx="419.7" cy="262.9" r="0.4" fill="#f2c8a8"/>
<circle cx="404.7" cy="258.1" r="0.4" fill="#f2c8a8"/>
<circle cx="432.5" cy="244.6" r="0.4" fill="#f2c8a8"/>
<circle cx="424.8" cy="241.8" r="0.4" fill="#f2c8a8"/>
<circle cx="408.6" cy="263.4" r="0.6" fill="#d47c4e"/>
<circle cx="423.3" cy="253.1" r="0.45" fill="#e4a074"/>
<circle cx="409.6" cy="241.7" r="0.6" fill="#d47c4e"/>
<circle cx="416.2" cy="271.2" r="0.45" fill="#e4a074"/>
<circle cx="423.9" cy="266.7" r="0.4" fill="#f2c8a8"/>
<circle cx="417.4" cy="264.4" r="0.4" fill="#f2c8a8"/>
<circle cx="428.1" cy="273.9" r="0.4" fill="#f2c8a8"/>
<circle cx="412.2" cy="239.1" r="0.45" fill="#e4a074"/>
<circle cx="425.9" cy="274.2" r="0.45" fill="#e4a074"/>
<circle cx="443.1" cy="253.0" r="0.45" fill="#e4a074"/>
<circle cx="429.3" cy="244.3" r="0.45" fill="#e4a074"/>
<circle cx="411.1" cy="267.2" r="0.4" fill="#f2c8a8"/>
<circle cx="413.4" cy="251.1" r="0.45" fill="#e4a074"/>
<circle cx="414.3" cy="270.0" r="0.45" fill="#e4a074"/>
<circle cx="430.9" cy="248.6" r="0.6" fill="#d47c4e"/>
<circle cx="424.6" cy="236.8" r="0.45" fill="#e4a074"/>
<circle cx="443.9" cy="259.9" r="0.45" fill="#e4a074"/>
<circle cx="413.4" cy="257.4" r="0.45" fill="#e4a074"/>
<circle cx="429.1" cy="234.9" r="0.4" fill="#f2c8a8"/>
<circle cx="419.6" cy="262.9" r="0.4" fill="#f2c8a8"/>
<circle cx="423.6" cy="257.0" r="0.45" fill="#e4a074"/>
<circle cx="426.0" cy="259.6" r="0.4" fill="#f2c8a8"/>
<circle cx="424.7" cy="244.7" r="0.4" fill="#f2c8a8"/>
<circle cx="409.9" cy="264.9" r="0.6" fill="#d47c4e"/>
<circle cx="419.1" cy="269.6" r="0.6" fill="#d47c4e"/>
<circle cx="405.6" cy="257.7" r="0.45" fill="#e4a074"/>
<circle cx="417.8" cy="272.2" r="0.45" fill="#e4a074"/>
<circle cx="437.9" cy="264.0" r="0.45" fill="#e4a074"/>
<circle cx="410.7" cy="252.4" r="0.4" fill="#f2c8a8"/>
<circle cx="437.7" cy="242.4" r="0.4" fill="#f2c8a8"/>
<circle cx="417.0" cy="263.7" r="0.6" fill="#d47c4e"/>
<circle cx="422.7" cy="247.1" r="0.6" fill="#d47c4e"/>
<circle cx="441.0" cy="257.6" r="0.4" fill="#f2c8a8"/>
<circle cx="422.4" cy="240.6" r="0.4" fill="#f2c8a8"/>
<circle cx="406.4" cy="251.2" r="0.45" fill="#e4a074"/>
<circle cx="419.1" cy="261.8" r="0.45" fill="#e4a074"/>
<circle cx="428.3" cy="244.7" r="0.6" fill="#d47c4e"/>
<circle cx="439.0" cy="253.4" r="0.4" fill="#f2c8a8"/>
<circle cx="420.1" cy="234.4" r="0.4" fill="#f2c8a8"/>
<circle cx="421.4" cy="265.5" r="0.45" fill="#e4a074"/>
<circle cx="431.2" cy="268.4" r="0.45" fill="#e4a074"/>
<circle cx="421.3" cy="247.1" r="0.6" fill="#d47c4e"/>
<circle cx="440.9" cy="254.0" r="0.45" fill="#e4a074"/>
<circle cx="433.3" cy="272.4" r="0.45" fill="#e4a074"/>
<circle cx="426.4" cy="234.5" r="0.4" fill="#f2c8a8"/>
<circle cx="433.7" cy="249.7" r="0.4" fill="#f2c8a8"/>
<circle cx="405.3" cy="253.8" r="0.6" fill="#d47c4e"/>
<circle cx="439.6" cy="249.9" r="0.6" fill="#d47c4e"/>
<circle cx="417.8" cy="251.1" r="0.45" fill="#e4a074"/>
<circle cx="429.7" cy="241.1" r="0.45" fill="#e4a074"/>
<circle cx="424.6" cy="265.1" r="0.4" fill="#f2c8a8"/>
<circle cx="410.9" cy="252.9" r="0.4" fill="#f2c8a8"/>
<circle cx="437.4" cy="254.5" r="0.45" fill="#e4a074"/>
<circle cx="425.1" cy="243.8" r="0.4" fill="#f2c8a8"/>
<circle cx="416.5" cy="253.1" r="0.45" fill="#e4a074"/>
<circle cx="433.0" cy="248.7" r="0.45" fill="#e4a074"/>
<circle cx="421.9" cy="236.2" r="0.45" fill="#e4a074"/>
<circle cx="422.5" cy="243.4" r="0.45" fill="#e4a074"/>
<circle cx="429.5" cy="251.9" r="0.6" fill="#d47c4e"/>
<circle cx="419.4" cy="256.2" r="0.4" fill="#f2c8a8"/>
<circle cx="430.2" cy="237.5" r="0.4" fill="#f2c8a8"/>
<circle cx="408.9" cy="258.2" r="0.6" fill="#d47c4e"/>
<circle cx="415.7" cy="269.8" r="0.4" fill="#f2c8a8"/>
<circle cx="427.9" cy="262.1" r="0.4" fill="#f2c8a8"/>
<circle cx="416.7" cy="246.2" r="0.4" fill="#f2c8a8"/>
<circle cx="426.4" cy="260.1" r="0.4" fill="#f2c8a8"/>
<circle cx="419.2" cy="267.7" r="0.4" fill="#f2c8a8"/>
<circle cx="411.4" cy="255.8" r="0.6" fill="#d47c4e"/>
<circle cx="404.9" cy="255.8" r="0.4" fill="#f2c8a8"/>
<circle cx="430.4" cy="269.4" r="0.4" fill="#f2c8a8"/>
<circle cx="428.0" cy="259.0" r="0.45" fill="#e4a074"/>
<circle cx="438.3" cy="251.3" r="0.4" fill="#f2c8a8"/>
<circle cx="414.1" cy="259.7" r="0.45" fill="#e4a074"/>
<circle cx="418.8" cy="259.2" r="0.6" fill="#d47c4e"/>
<circle cx="423.7" cy="253.3" r="0.45" fill="#e4a074"/>
<circle cx="423.5" cy="241.7" r="0.45" fill="#e4a074"/>
<circle cx="436.9" cy="247.7" r="0.4" fill="#f2c8a8"/>
<circle cx="420.5" cy="269.0" r="0.45" fill="#e4a074"/>
<circle cx="423.3" cy="233.7" r="0.4" fill="#f2c8a8"/>
<circle cx="412.3" cy="268.5" r="0.45" fill="#e4a074"/>
<circle cx="410.6" cy="244.8" r="0.4" fill="#f2c8a8"/>
<circle cx="439.8" cy="248.8" r="0.4" fill="#f2c8a8"/>
<circle cx="428.1" cy="260.6" r="0.6" fill="#d47c4e"/>
<circle cx="426.3" cy="250.8" r="0.4" fill="#f2c8a8"/>
<circle cx="410.5" cy="255.9" r="0.4" fill="#f2c8a8"/>
<circle cx="435.0" cy="246.4" r="0.45" fill="#e4a074"/>
<circle cx="440.4" cy="246.8" r="0.4" fill="#f2c8a8"/>
<circle cx="418.7" cy="265.4" r="0.45" fill="#e4a074"/>
<circle cx="427.6" cy="243.6" r="0.4" fill="#f2c8a8"/>
<circle cx="415.6" cy="262.3" r="0.6" fill="#d47c4e"/>
<circle cx="414.5" cy="251.4" r="0.4" fill="#f2c8a8"/>
<circle cx="428.8" cy="246.5" r="0.45" fill="#e4a074"/>
<circle cx="434.3" cy="255.3" r="0.4" fill="#f2c8a8"/>
<circle cx="428.0" cy="246.5" r="0.4" fill="#f2c8a8"/>
<circle cx="435.3" cy="257.9" r="0.45" fill="#e4a074"/>
<circle cx="421.5" cy="234.4" r="0.6" fill="#d47c4e"/>
<circle cx="406.1" cy="247.7" r="0.4" fill="#f2c8a8"/>
<circle cx="437.5" cy="247.8" r="0.4" fill="#f2c8a8"/>
<circle cx="425.0" cy="234.6" r="0.4" fill="#f2c8a8"/>
<circle cx="441.6" cy="264.9" r="0.45" fill="#e4a074"/>
<circle cx="408.2" cy="242.2" r="0.4" fill="#f2c8a8"/>
<circle cx="432.1" cy="256.6" r="0.4" fill="#f2c8a8"/>
<circle cx="420.9" cy="238.0" r="0.4" fill="#f2c8a8"/>
<circle cx="429.9" cy="261.7" r="0.45" fill="#e4a074"/>
<circle cx="415.5" cy="235.8" r="0.4" fill="#f2c8a8"/>
<circle cx="438.9" cy="252.2" r="0.4" fill="#f2c8a8"/>
<circle cx="425.0" cy="264.2" r="0.6" fill="#d47c4e"/>
<circle cx="442.8" cy="253.5" r="0.4" fill="#f2c8a8"/>
<circle cx="428.7" cy="261.5" r="0.4" fill="#f2c8a8"/>
<circle cx="424.8" cy="249.0" r="0.45" fill="#e4a074"/>
<circle cx="423.6" cy="250.6" r="0.4" fill="#f2c8a8"/>
<circle cx="429.2" cy="238.6" r="0.4" fill="#f2c8a8"/>
<circle cx="437.2" cy="243.0" r="0.4" fill="#f2c8a8"/>
<circle cx="409.0" cy="266.5" r="0.45" fill="#e4a074"/>
<circle cx="438.7" cy="246.0" r="0.4" fill="#f2c8a8"/>
<circle cx="431.1" cy="265.6" r="0.45" fill="#e4a074"/>
<circle cx="444.0" cy="254.6" r="0.45" fill="#e4a074"/>
<circle cx="423.6" cy="253.9" r="0.45" fill="#e4a074"/>
<circle cx="410.5" cy="262.9" r="0.45" fill="#e4a074"/>
<circle cx="423.4" cy="240.7" r="0.6" fill="#d47c4e"/>
<circle cx="444.7" cy="248.5" r="0.45" fill="#e4a074"/>
<circle cx="420.0" cy="265.8" r="0.4" fill="#f2c8a8"/>
<circle cx="440.6" cy="243.4" r="0.45" fill="#e4a074"/>
<circle cx="434.2" cy="235.2" r="0.45" fill="#e4a074"/>
<circle cx="417.6" cy="270.7" r="0.4" fill="#f2c8a8"/>
<circle cx="418.8" cy="248.7" r="0.45" fill="#e4a074"/>
<circle cx="414.2" cy="254.8" r="0.6" fill="#d47c4e"/>
<circle cx="442.8" cy="264.1" r="0.45" fill="#e4a074"/>
<circle cx="436.1" cy="268.8" r="0.45" fill="#e4a074"/>
<circle cx="438.6" cy="245.2" r="0.4" fill="#f2c8a8"/>
<circle cx="430.9" cy="251.5" r="0.45" fill="#e4a074"/>
<circle cx="434.0" cy="260.7" r="0.4" fill="#f2c8a8"/>
<circle cx="434.8" cy="243.9" r="0.45" fill="#e4a074"/>
<circle cx="424.5" cy="272.0" r="0.45" fill="#e4a074"/>
<circle cx="437.3" cy="262.5" r="0.45" fill="#e4a074"/>
<circle cx="429.0" cy="270.6" r="0.4" fill="#f2c8a8"/>
<circle cx="411.4" cy="268.7" r="0.6" fill="#d47c4e"/>
<circle cx="438.9" cy="253.9" r="0.45" fill="#e4a074"/>
<circle cx="431.8" cy="237.0" r="0.4" fill="#f2c8a8"/>
<circle cx="433.9" cy="244.0" r="0.6" fill="#d47c4e"/>
<circle cx="418.1" cy="255.3" r="0.45" fill="#e4a074"/>
<circle cx="435.8" cy="267.7" r="0.4" fill="#f2c8a8"/>
<circle cx="440.6" cy="252.9" r="0.45" fill="#e4a074"/>
<circle cx="436.6" cy="266.3" r="0.4" fill="#f2c8a8"/>
<circle cx="425.3" cy="273.0" r="0.4" fill="#f2c8a8"/>
<circle cx="419.1" cy="254.9" r="0.45" fill="#e4a074"/>
<circle cx="428.3" cy="251.6" r="0.4" fill="#f2c8a8"/>
<circle cx="407.7" cy="257.5" r="0.45" fill="#e4a074"/>
<circle cx="414.0" cy="271.0" r="0.4" fill="#f2c8a8"/>
<circle cx="437.6" cy="268.4" r="0.4" fill="#f2c8a8"/>
<circle cx="431.0" cy="267.7" r="0.4" fill="#f2c8a8"/>
<circle cx="435.6" cy="271.4" r="0.4" fill="#f2c8a8"/>
<circle cx="427.5" cy="243.8" r="0.6" fill="#d47c4e"/>
<circle cx="428.8" cy="273.7" r="0.45" fill="#e4a074"/>
<circle cx="443.3" cy="250.7" r="0.45" fill="#e4a074"/>
<circle cx="406.2" cy="250.1" r="0.4" fill="#f2c8a8"/>
<circle cx="441.6" cy="265.7" r="0.45" fill="#e4a074"/>
<circle cx="417.7" cy="237.6" r="0.4" fill="#f2c8a8"/>
<circle cx="406.7" cy="258.4" r="0.6" fill="#d47c4e"/>
<circle cx="432.7" cy="250.1" r="0.45" fill="#e4a074"/>
<circle cx="412.6" cy="249.6" r="0.4" fill="#f2c8a8"/>
<circle cx="434.6" cy="265.0" r="0.4" fill="#f2c8a8"/>
<circle cx="423.8" cy="266.7" r="0.45" fill="#e4a074"/>
<circle cx="426.4" cy="238.0" r="0.4" fill="#f2c8a8"/>
<circle cx="434.8" cy="245.7" r="0.6" fill="#d47c4e"/>
<circle cx="433.0" cy="253.1" r="0.45" fill="#e4a074"/>
<circle cx="437.9" cy="251.4" r="0.45" fill="#e4a074"/>
<circle cx="423.8" cy="257.3" r="0.4" fill="#f2c8a8"/>
<circle cx="433.2" cy="261.9" r="0.45" fill="#e4a074"/>
<circle cx="406.3" cy="246.2" r="0.45" fill="#e4a074"/>
<circle cx="411.9" cy="269.6" r="0.45" fill="#e4a074"/>
<circle cx="406.4" cy="248.8" r="0.45" fill="#e4a074"/>
<circle cx="414.8" cy="266.6" r="0.4" fill="#f2c8a8"/>
<circle cx="435.4" cy="252.1" r="0.6" fill="#d47c4e"/>
<circle cx="427.1" cy="254.9" r="0.45" fill="#e4a074"/>
<circle cx="429.3" cy="268.4" r="0.4" fill="#f2c8a8"/>
<circle cx="434.1" cy="239.4" r="0.45" fill="#e4a074"/>
<circle cx="443.9" cy="244.7" r="0.45" fill="#e4a074"/>
<circle cx="425.0" cy="253.2" r="0.4" fill="#f2c8a8"/>
<circle cx="406.7" cy="263.3" r="0.4" fill="#f2c8a8"/>
<circle cx="423.4" cy="253.2" r="0.4" fill="#f2c8a8"/>
<circle cx="438.4" cy="244.8" r="0.45" fill="#e4a074"/>
<circle cx="434.6" cy="254.8" r="0.4" fill="#f2c8a8"/>
<circle cx="428.5" cy="248.2" r="0.6" fill="#d47c4e"/>
<circle cx="423.0" cy="273.6" r="0.45" fill="#e4a074"/>
<circle cx="416.0" cy="272.5" r="0.4" fill="#f2c8a8"/>
<circle cx="423.4" cy="248.9" r="0.45" fill="#e4a074"/>
<circle cx="432.1" cy="253.2" r="0.45" fill="#e4a074"/>
<circle cx="424.2" cy="262.1" r="0.4" fill="#f2c8a8"/>
<circle cx="414.4" cy="236.6" r="0.6" fill="#d47c4e"/>
<circle cx="441.8" cy="253.4" r="0.45" fill="#e4a074"/>
<circle cx="434.7" cy="269.2" r="0.45" fill="#e4a074"/>
<circle cx="412.6" cy="269.5" r="0.4" fill="#f2c8a8"/>
<circle cx="430.5" cy="260.5" r="0.4" fill="#f2c8a8"/>
<circle cx="409.2" cy="244.1" r="0.4" fill="#f2c8a8"/>
<circle cx="409.3" cy="253.8" r="0.45" fill="#e4a074"/>
<circle cx="412.0" cy="262.1" r="0.4" fill="#f2c8a8"/>
<circle cx="438.0" cy="258.9" r="0.4" fill="#f2c8a8"/>
<circle cx="425.6" cy="243.7" r="0.45" fill="#e4a074"/>
<circle cx="425.5" cy="260.4" r="0.4" fill="#f2c8a8"/>
<circle cx="415.9" cy="261.9" r="0.45" fill="#e4a074"/>
<circle cx="428.2" cy="271.0" r="0.45" fill="#e4a074"/>
<circle cx="411.0" cy="258.4" r="0.6" fill="#d47c4e"/>
<circle cx="418.1" cy="248.6" r="0.4" fill="#f2c8a8"/>
<circle cx="435.7" cy="260.0" r="0.4" fill="#f2c8a8"/>
<circle cx="417.1" cy="243.1" r="0.4" fill="#f2c8a8"/>
<circle cx="404.9" cy="252.5" r="0.4" fill="#f2c8a8"/>
<circle cx="431.7" cy="263.6" r="0.4" fill="#f2c8a8"/>
<circle cx="440.1" cy="244.6" r="0.4" fill="#f2c8a8"/>
<circle cx="427.5" cy="257.9" r="0.4" fill="#f2c8a8"/>
<circle cx="434.9" cy="240.2" r="0.4" fill="#f2c8a8"/>
<circle cx="421.6" cy="250.5" r="0.45" fill="#e4a074"/>
<circle cx="421.8" cy="259.8" r="0.45" fill="#e4a074"/>
<circle cx="422.1" cy="239.4" r="0.4" fill="#f2c8a8"/>
<circle cx="418.5" cy="242.0" r="0.45" fill="#e4a074"/>
<circle cx="441.9" cy="264.9" r="0.4" fill="#f2c8a8"/>
<circle cx="427.5" cy="267.1" r="0.4" fill="#f2c8a8"/>
<circle cx="440.0" cy="263.2" r="0.6" fill="#d47c4e"/>
<circle cx="419.7" cy="263.4" r="0.45" fill="#e4a074"/>
<circle cx="427.5" cy="267.1" r="0.45" fill="#e4a074"/>
<circle cx="417.7" cy="257.5" r="0.4" fill="#f2c8a8"/>
<circle cx="405.1" cy="248.5" r="0.6" fill="#d47c4e"/>
<circle cx="437.2" cy="262.8" r="0.4" fill="#f2c8a8"/>
<circle cx="431.1" cy="270.2" r="0.4" fill="#f2c8a8"/>
<circle cx="429.3" cy="243.5" r="0.6" fill="#d47c4e"/>
<circle cx="430.9" cy="240.8" r="0.4" fill="#f2c8a8"/>
<circle cx="417.8" cy="254.8" r="0.45" fill="#e4a074"/>
<circle cx="420.0" cy="238.9" r="0.6" fill="#d47c4e"/>
<circle cx="442.2" cy="259.0" r="0.45" fill="#e4a074"/>
<circle cx="434.2" cy="261.8" r="0.4" fill="#f2c8a8"/>
<circle cx="409.7" cy="245.2" r="0.4" fill="#f2c8a8"/>
<circle cx="420.9" cy="242.1" r="0.45" fill="#e4a074"/>
<circle cx="421.7" cy="274.5" r="0.4" fill="#f2c8a8"/>
<circle cx="431.5" cy="254.2" r="0.45" fill="#e4a074"/>
<circle cx="436.3" cy="241.5" r="0.4" fill="#f2c8a8"/>
<circle cx="437.5" cy="241.2" r="0.4" fill="#f2c8a8"/>
<circle cx="412.6" cy="265.8" r="0.4" fill="#f2c8a8"/>
<circle cx="437.2" cy="257.3" r="0.6" fill="#d47c4e"/>
<circle cx="437.0" cy="253.8" r="0.6" fill="#d47c4e"/>
<circle cx="429.6" cy="235.0" r="0.45" fill="#e4a074"/>
<circle cx="441.7" cy="250.8" r="0.6" fill="#d47c4e"/>
<circle cx="416.7" cy="250.3" r="0.45" fill="#e4a074"/>
<circle cx="413.1" cy="255.4" r="0.4" fill="#f2c8a8"/>
<circle cx="409.1" cy="253.0" r="0.4" fill="#f2c8a8"/>
<circle cx="422.6" cy="268.7" r="0.45" fill="#e4a074"/>
<circle cx="410.3" cy="262.4" r="0.4" fill="#f2c8a8"/>
<circle cx="414.4" cy="251.9" r="0.45" fill="#e4a074"/>
<circle cx="419.9" cy="236.3" r="0.45" fill="#e4a074"/>
<circle cx="425.3" cy="274.3" r="0.45" fill="#e4a074"/>
<circle cx="417.2" cy="262.0" r="0.4" fill="#f2c8a8"/>
<circle cx="420.3" cy="235.7" r="0.4" fill="#f2c8a8"/>
<circle cx="424.1" cy="244.4" r="0.4" fill="#f2c8a8"/>
<circle cx="417.9" cy="263.1" r="0.4" fill="#f2c8a8"/>
<circle cx="425.7" cy="236.1" r="0.4" fill="#f2c8a8"/>
<circle cx="427.1" cy="272.6" r="0.45" fill="#e4a074"/>
<circle cx="417.7" cy="239.1" r="0.45" fill="#e4a074"/>
<circle cx="424.5" cy="259.2" r="0.4" fill="#f2c8a8"/>
<circle cx="445.4" cy="258.2" r="0.45" fill="#e4a074"/>
<circle cx="415.3" cy="235.9" r="0.45" fill="#e4a074"/>
<circle cx="426.8" cy="266.1" r="0.4" fill="#f2c8a8"/>
<circle cx="430.3" cy="236.8" r="0.4" fill="#f2c8a8"/>
<circle cx="417.8" cy="262.0" r="0.4" fill="#f2c8a8"/>
<circle cx="420.5" cy="234.7" r="0.45" fill="#e4a074"/>
<circle cx="434.6" cy="243.8" r="0.4" fill="#f2c8a8"/>
<circle cx="417.1" cy="273.1" r="0.4" fill="#f2c8a8"/>
<circle cx="431.3" cy="263.4" r="0.6" fill="#d47c4e"/>
<circle cx="432.5" cy="244.4" r="0.45" fill="#e4a074"/>
<circle cx="435.8" cy="245.3" r="0.4" fill="#f2c8a8"/>
<circle cx="427.0" cy="241.3" r="0.4" fill="#f2c8a8"/>
<circle cx="436.6" cy="246.1" r="0.4" fill="#f2c8a8"/>
<circle cx="416.4" cy="248.1" r="0.4" fill="#f2c8a8"/>
<circle cx="415.2" cy="262.3" r="0.4" fill="#f2c8a8"/>
<circle cx="412.5" cy="267.3" r="0.4" fill="#f2c8a8"/>
<circle cx="418.1" cy="239.1" r="0.4" fill="#f2c8a8"/>
<circle cx="442.3" cy="256.3" r="0.45" fill="#e4a074"/>
<circle cx="422.6" cy="263.1" r="0.45" fill="#e4a074"/>
<circle cx="433.7" cy="248.6" r="0.45" fill="#e4a074"/>
<circle cx="414.6" cy="248.7" r="0.4" fill="#f2c8a8"/>
<circle cx="417.5" cy="269.1" r="0.45" fill="#e4a074"/>
<circle cx="417.9" cy="253.6" r="0.4" fill="#f2c8a8"/>
<circle cx="420.1" cy="266.6" r="0.4" fill="#f2c8a8"/>
<circle cx="431.0" cy="249.9" r="0.6" fill="#d47c4e"/>
<circle cx="426.4" cy="273.5" r="0.4" fill="#f2c8a8"/>
<circle cx="414.2" cy="247.3" r="0.4" fill="#f2c8a8"/>
<circle cx="430.6" cy="235.9" r="0.4" fill="#f2c8a8"/>
<circle cx="427.6" cy="239.7" r="0.6" fill="#d47c4e"/>
<circle cx="437.4" cy="258.4" r="0.4" fill="#f2c8a8"/>
<circle cx="412.1" cy="241.0" r="0.45" fill="#e4a074"/>
<circle cx="412.7" cy="250.1" r="0.45" fill="#e4a074"/>
<circle cx="433.7" cy="260.6" r="0.45" fill="#e4a074"/>
<circle cx="405.7" cy="261.7" r="0.4" fill="#f2c8a8"/>
<circle cx="415.8" cy="256.3" r="0.4" fill="#f2c8a8"/>
<circle cx="430.5" cy="257.6" r="0.4" fill="#f2c8a8"/>
<circle cx="411.6" cy="260.2" r="0.4" fill="#f2c8a8"/>
<circle cx="420.7" cy="239.6" r="0.6" fill="#d47c4e"/>
<circle cx="432.5" cy="267.2" r="0.4" fill="#f2c8a8"/>
<circle cx="411.7" cy="268.1" r="0.4" fill="#f2c8a8"/>
<circle cx="434.2" cy="245.3" r="0.4" fill="#f2c8a8"/>
<circle cx="413.4" cy="243.6" r="0.4" fill="#f2c8a8"/>
<circle cx="442.9" cy="264.4" r="0.4" fill="#f2c8a8"/>
<circle cx="438.0" cy="265.3" r="0.45" fill="#e4a074"/>
<circle cx="419.6" cy="264.7" r="0.45" fill="#e4a074"/>
<circle cx="418.0" cy="265.6" r="0.6" fill="#d47c4e"/>
<circle cx="416.7" cy="264.3" r="0.4" fill="#f2c8a8"/>
<circle cx="416.3" cy="239.5" r="0.4" fill="#f2c8a8"/>
<circle cx="416.8" cy="259.7" r="0.45" fill="#e4a074"/>
<circle cx="406.7" cy="259.1" r="0.4" fill="#f2c8a8"/>
<circle cx="424.8" cy="250.5" r="0.4" fill="#f2c8a8"/>
<circle cx="442.0" cy="249.8" r="0.45" fill="#e4a074"/>
<circle cx="410.8" cy="254.3" r="0.4" fill="#f2c8a8"/>
<circle cx="433.0" cy="269.0" r="0.45" fill="#e4a074"/>
<circle cx="424.3" cy="270.9" r="0.4" fill="#f2c8a8"/>
<circle cx="418.6" cy="248.4" r="0.45" fill="#e4a074"/>
<circle cx="419.1" cy="268.4" r="0.4" fill="#f2c8a8"/>
<circle cx="408.8" cy="255.8" r="0.4" fill="#f2c8a8"/>
<circle cx="419.0" cy="270.2" r="0.45" fill="#e4a074"/>
<circle cx="411.4" cy="241.6" r="0.45" fill="#e4a074"/>
<circle cx="427.6" cy="267.8" r="0.45" fill="#e4a074"/>
<circle cx="408.6" cy="246.6" r="0.4" fill="#f2c8a8"/>
<circle cx="405.6" cy="260.6" r="0.45" fill="#e4a074"/>
<circle cx="421.3" cy="248.4" r="0.45" fill="#e4a074"/>
<circle cx="445.1" cy="258.3" r="0.6" fill="#d47c4e"/>
<circle cx="423.7" cy="243.3" r="0.45" fill="#e4a074"/>
<circle cx="433.6" cy="271.2" r="0.45" fill="#e4a074"/>
<circle cx="444.9" cy="256.0" r="0.4" fill="#f2c8a8"/>
<circle cx="433.6" cy="238.8" r="0.45" fill="#e4a074"/>
<circle cx="431.3" cy="246.9" r="0.6" fill="#d47c4e"/>
<circle cx="423.4" cy="256.9" r="0.4" fill="#f2c8a8"/>
<circle cx="430.4" cy="256.3" r="0.45" fill="#e4a074"/>
<circle cx="431.3" cy="259.8" r="0.4" fill="#f2c8a8"/>
<circle cx="421.6" cy="273.9" r="0.6" fill="#d47c4e"/>
<circle cx="439.5" cy="238.8" r="0.4" fill="#f2c8a8"/>
<circle cx="428.4" cy="243.4" r="0.6" fill="#d47c4e"/>
<circle cx="431.9" cy="237.4" r="0.4" fill="#f2c8a8"/>
<circle cx="442.2" cy="265.0" r="0.45" fill="#e4a074"/>
<circle cx="410.4" cy="241.4" r="0.4" fill="#f2c8a8"/>
<circle cx="420.7" cy="240.5" r="0.45" fill="#e4a074"/>
<circle cx="416.2" cy="256.6" r="0.6" fill="#d47c4e"/>
<circle cx="421.7" cy="271.8" r="0.45" fill="#e4a074"/>
<circle cx="425.4" cy="271.6" r="0.4" fill="#f2c8a8"/>
<circle cx="426.8" cy="263.7" r="0.6" fill="#d47c4e"/>
<circle cx="415.1" cy="265.1" r="0.45" fill="#e4a074"/>
<circle cx="443.2" cy="257.1" r="0.45" fill="#e4a074"/>
<circle cx="434.1" cy="245.2" r="0.4" fill="#f2c8a8"/>
<circle cx="414.9" cy="268.8" r="0.45" fill="#e4a074"/>
<circle cx="412.6" cy="262.5" r="0.4" fill="#f2c8a8"/>
<circle cx="437.8" cy="247.0" r="0.45" fill="#e4a074"/>
<circle cx="427.3" cy="245.0" r="0.45" fill="#e4a074"/>
<circle cx="413.8" cy="269.1" r="0.4" fill="#f2c8a8"/>
<circle cx="422.5" cy="270.6" r="0.4" fill="#f2c8a8"/>
<circle cx="413.8" cy="265.2" r="0.4" fill="#f2c8a8"/>
<circle cx="424.4" cy="254.4" r="0.45" fill="#e4a074"/>
<circle cx="424.7" cy="273.2" r="0.45" fill="#e4a074"/>
<circle cx="411.8" cy="244.2" r="0.4" fill="#f2c8a8"/>
<circle cx="427.1" cy="242.9" r="0.6" fill="#d47c4e"/>
<circle cx="429.1" cy="237.2" r="0.45" fill="#e4a074"/>
<circle cx="409.3" cy="260.7" r="0.6" fill="#d47c4e"/>
<circle cx="427.7" cy="260.2" r="0.4" fill="#f2c8a8"/>
<circle cx="417.1" cy="253.6" r="0.4" fill="#f2c8a8"/>
<circle cx="433.9" cy="244.3" r="0.4" fill="#f2c8a8"/>
<circle cx="431.7" cy="268.6" r="0.4" fill="#f2c8a8"/>
<circle cx="410.0" cy="256.5" r="0.4" fill="#f2c8a8"/>
<circle cx="406.0" cy="253.6" r="0.4" fill="#f2c8a8"/>
<circle cx="433.7" cy="250.1" r="0.4" fill="#f2c8a8"/>
<circle cx="426.9" cy="238.3" r="0.45" fill="#e4a074"/>
<circle cx="429.0" cy="272.2" r="0.4" fill="#f2c8a8"/>
<circle cx="423.7" cy="244.1" r="0.45" fill="#e4a074"/>
<circle cx="417.6" cy="243.8" r="0.4" fill="#f2c8a8"/>
<circle cx="440.6" cy="260.8" r="0.45" fill="#e4a074"/>
<circle cx="434.1" cy="266.8" r="0.45" fill="#e4a074"/>
<circle cx="440.7" cy="265.5" r="0.6" fill="#d47c4e"/>
<circle cx="435.1" cy="257.3" r="0.4" fill="#f2c8a8"/>
<circle cx="425.1" cy="260.2" r="0.4" fill="#f2c8a8"/>
<circle cx="425.2" cy="265.6" r="0.4" fill="#f2c8a8"/>
<circle cx="412.3" cy="267.5" r="0.45" fill="#e4a074"/>
<circle cx="432.7" cy="260.6" r="0.4" fill="#f2c8a8"/>
<circle cx="421.9" cy="260.1" r="0.45" fill="#e4a074"/>
<circle cx="429.2" cy="233.5" r="0.4" fill="#f2c8a8"/>
<circle cx="443.0" cy="258.2" r="0.4" fill="#f2c8a8"/>
<circle cx="437.1" cy="248.5" r="0.4" fill="#f2c8a8"/>
<circle cx="443.6" cy="263.1" r="0.45" fill="#e4a074"/>
<circle cx="412.3" cy="259.1" r="0.45" fill="#e4a074"/>
<circle cx="432.2" cy="241.4" r="0.4" fill="#f2c8a8"/>
<circle cx="408.7" cy="265.1" r="0.4" fill="#f2c8a8"/>
<circle cx="416.9" cy="240.7" r="0.4" fill="#f2c8a8"/>
<circle cx="415.9" cy="249.3" r="0.45" fill="#e4a074"/>
<circle cx="429.1" cy="249.6" r="0.4" fill="#f2c8a8"/>
<circle cx="440.4" cy="239.9" r="0.4" fill="#f2c8a8"/>
<circle cx="413.5" cy="242.1" r="0.45" fill="#e4a074"/>
<circle cx="417.7" cy="255.5" r="0.4" fill="#f2c8a8"/>
<circle cx="421.0" cy="236.6" r="0.4" fill="#f2c8a8"/>
<circle cx="414.6" cy="240.8" r="0.45" fill="#e4a074"/>
<circle cx="439.0" cy="256.0" r="0.4" fill="#f2c8a8"/>
<circle cx="415.2" cy="247.1" r="0.4" fill="#f2c8a8"/>
<circle cx="419.8" cy="244.2" r="0.45" fill="#e4a074"/>
<circle cx="419.9" cy="268.6" r="0.45" fill="#e4a074"/>
<circle cx="438.6" cy="266.0" r="0.4" fill="#f2c8a8"/>
<circle cx="428.3" cy="252.8" r="0.45" fill="#e4a074"/>
<circle cx="419.2" cy="260.6" r="0.4" fill="#f2c8a8"/>
<circle cx="411.7" cy="253.9" r="0.4" fill="#f2c8a8"/>
<circle cx="413.8" cy="252.4" r="0.6" fill="#d47c4e"/>
<circle cx="414.9" cy="263.3" r="0.4" fill="#f2c8a8"/>
<circle cx="436.9" cy="251.7" r="0.45" fill="#e4a074"/>
<circle cx="431.7" cy="242.6" r="0.45" fill="#e4a074"/>
<circle cx="424.0" cy="260.9" r="0.4" fill="#f2c8a8"/>
<circle cx="406.6" cy="260.2" r="0.4" fill="#f2c8a8"/>
<circle cx="408.1" cy="260.8" r="0.4" fill="#f2c8a8"/>
<circle cx="433.9" cy="266.4" r="0.4" fill="#f2c8a8"/>
<circle cx="443.6" cy="246.5" r="0.4" fill="#f2c8a8"/>
<circle cx="412.6" cy="249.0" r="0.4" fill="#f2c8a8"/>
<circle cx="406.3" cy="260.9" r="0.4" fill="#f2c8a8"/>
<circle cx="410.0" cy="244.9" r="0.4" fill="#f2c8a8"/>
<circle cx="431.4" cy="250.9" r="0.4" fill="#f2c8a8"/>
<circle cx="424.6" cy="251.2" r="0.4" fill="#f2c8a8"/>
<circle cx="435.3" cy="264.4" r="0.4" fill="#f2c8a8"/>
<circle cx="431.0" cy="262.1" r="0.4" fill="#f2c8a8"/>
<circle cx="433.0" cy="259.0" r="0.45" fill="#e4a074"/>
<circle cx="437.6" cy="268.5" r="0.4" fill="#f2c8a8"/>
<circle cx="425.1" cy="264.4" r="0.45" fill="#e4a074"/>
<circle cx="442.5" cy="259.3" r="0.4" fill="#f2c8a8"/>
<circle cx="437.8" cy="249.5" r="0.45" fill="#e4a074"/>
<circle cx="429.5" cy="249.0" r="0.4" fill="#f2c8a8"/>
<circle cx="419.6" cy="239.0" r="0.45" fill="#e4a074"/>
<circle cx="422.6" cy="268.6" r="0.4" fill="#f2c8a8"/>
<circle cx="414.9" cy="258.3" r="0.45" fill="#e4a074"/>
<circle cx="421.9" cy="264.5" r="0.45" fill="#e4a074"/>
<circle cx="441.3" cy="263.7" r="0.4" fill="#f2c8a8"/>
<circle cx="426.1" cy="261.1" r="0.45" fill="#e4a074"/>
<circle cx="407.4" cy="253.6" r="0.4" fill="#f2c8a8"/>
<circle cx="408.3" cy="264.4" r="0.4" fill="#f2c8a8"/>
<circle cx="444.9" cy="251.7" r="0.6" fill="#d47c4e"/>
<circle cx="435.2" cy="250.3" r="0.45" fill="#e4a074"/>
<circle cx="418.0" cy="247.9" r="0.6" fill="#d47c4e"/>
<circle cx="413.9" cy="238.9" r="0.45" fill="#e4a074"/>
<circle cx="442.3" cy="263.4" r="0.4" fill="#f2c8a8"/>
<circle cx="424.3" cy="270.5" r="0.4" fill="#f2c8a8"/>
<circle cx="407.9" cy="258.2" r="0.4" fill="#f2c8a8"/>
<circle cx="421.6" cy="248.3" r="0.4" fill="#f2c8a8"/>
<circle cx="414.9" cy="240.0" r="0.4" fill="#f2c8a8"/>
<circle cx="432.6" cy="273.2" r="0.4" fill="#f2c8a8"/>
<circle cx="413.8" cy="259.9" r="0.45" fill="#e4a074"/>
<circle cx="424.2" cy="237.1" r="0.4" fill="#f2c8a8"/>
<circle cx="411.5" cy="247.7" r="0.4" fill="#f2c8a8"/>
<circle cx="444.8" cy="247.6" r="0.45" fill="#e4a074"/>
<circle cx="439.5" cy="253.4" r="0.45" fill="#e4a074"/>
<circle cx="426.3" cy="272.1" r="0.45" fill="#e4a074"/>
<circle cx="443.0" cy="246.8" r="0.6" fill="#d47c4e"/>
<circle cx="423.1" cy="272.6" r="0.4" fill="#f2c8a8"/>
<circle cx="420.3" cy="265.8" r="0.45" fill="#e4a074"/>
<circle cx="435.8" cy="237.9" r="0.45" fill="#e4a074"/>
<circle cx="429.2" cy="261.3" r="0.45" fill="#e4a074"/>
<circle cx="428.1" cy="265.9" r="0.4" fill="#f2c8a8"/>
<circle cx="435.2" cy="268.7" r="0.4" fill="#f2c8a8"/>
<circle cx="432.2" cy="244.2" r="0.45" fill="#e4a074"/>
<circle cx="421.7" cy="264.3" r="0.4" fill="#f2c8a8"/>
<circle cx="439.0" cy="255.1" r="0.4" fill="#f2c8a8"/>
<circle cx="444.6" cy="255.6" r="0.4" fill="#f2c8a8"/>
<circle cx="445.8" cy="254.1" r="0.4" fill="#f2c8a8"/>
<circle cx="425.1" cy="257.3" r="0.4" fill="#f2c8a8"/>
<circle cx="421.2" cy="238.5" r="0.45" fill="#e4a074"/>
<circle cx="425.5" cy="265.3" r="0.6" fill="#d47c4e"/>
<circle cx="410.7" cy="269.1" r="0.6" fill="#d47c4e"/>
<circle cx="438.9" cy="267.7" r="0.4" fill="#f2c8a8"/>
<circle cx="420.6" cy="235.7" r="0.45" fill="#e4a074"/>
<circle cx="407.2" cy="248.2" r="0.4" fill="#f2c8a8"/>
<circle cx="414.7" cy="251.4" r="0.4" fill="#f2c8a8"/>
<circle cx="431.6" cy="270.5" r="0.45" fill="#e4a074"/>
<circle cx="428.2" cy="237.7" r="0.45" fill="#e4a074"/>
<circle cx="441.9" cy="245.1" r="0.45" fill="#e4a074"/>
<circle cx="415.9" cy="272.0" r="0.4" fill="#f2c8a8"/>
<circle cx="434.9" cy="261.3" r="0.45" fill="#e4a074"/>
<circle cx="440.5" cy="247.0" r="0.45" fill="#e4a074"/>
<circle cx="442.3" cy="246.9" r="0.4" fill="#f2c8a8"/>
<circle cx="407.4" cy="258.4" r="0.4" fill="#f2c8a8"/>
<circle cx="438.0" cy="264.6" r="0.45" fill="#e4a074"/>
<circle cx="425.4" cy="271.4" r="0.6" fill="#d47c4e"/>
<circle cx="430.6" cy="259.6" r="0.4" fill="#f2c8a8"/>
<rect x="402.60" y="232.30" width="44.60" height="44.10" fill="none" stroke="#6a6a6a" stroke-width="0.9" />
<rect x="449.20" y="232.30" width="44.60" height="44.10" fill="#fff" />
<circle cx="461.4" cy="271.7" r="0.6" fill="#d47c4e"/>
<circle cx="454.1" cy="260.3" r="0.45" fill="#e4a074"/>
<circle cx="481.3" cy="272.4" r="0.4" fill="#f2c8a8"/>
<circle cx="484.2" cy="260.5" r="0.4" fill="#f2c8a8"/>
<circle cx="458.3" cy="255.7" r="0.6" fill="#d47c4e"/>
<circle cx="455.1" cy="264.0" r="0.45" fill="#e4a074"/>
<circle cx="462.9" cy="248.8" r="0.4" fill="#f2c8a8"/>
<circle cx="458.5" cy="254.8" r="0.45" fill="#e4a074"/>
<circle cx="459.8" cy="253.6" r="0.45" fill="#e4a074"/>
<circle cx="481.1" cy="253.8" r="0.4" fill="#f2c8a8"/>
<circle cx="478.1" cy="254.5" r="0.4" fill="#f2c8a8"/>
<circle cx="454.7" cy="263.0" r="0.45" fill="#e4a074"/>
<circle cx="490.5" cy="250.0" r="0.45" fill="#e4a074"/>
<circle cx="469.6" cy="252.9" r="0.4" fill="#f2c8a8"/>
<circle cx="470.5" cy="270.6" r="0.4" fill="#f2c8a8"/>
<circle cx="459.3" cy="250.7" r="0.4" fill="#f2c8a8"/>
<circle cx="466.2" cy="257.8" r="0.45" fill="#e4a074"/>
<circle cx="476.8" cy="238.6" r="0.4" fill="#f2c8a8"/>
<circle cx="455.8" cy="242.6" r="0.6" fill="#d47c4e"/>
<circle cx="471.9" cy="249.6" r="0.6" fill="#d47c4e"/>
<circle cx="466.1" cy="244.5" r="0.6" fill="#d47c4e"/>
<circle cx="480.8" cy="236.4" r="0.4" fill="#f2c8a8"/>
<circle cx="460.3" cy="248.0" r="0.4" fill="#f2c8a8"/>
<circle cx="472.9" cy="237.6" r="0.4" fill="#f2c8a8"/>
<circle cx="452.2" cy="248.6" r="0.45" fill="#e4a074"/>
<circle cx="485.2" cy="245.9" r="0.6" fill="#d47c4e"/>
<circle cx="485.7" cy="256.6" r="0.45" fill="#e4a074"/>
<circle cx="468.7" cy="233.6" r="0.45" fill="#e4a074"/>
<circle cx="455.1" cy="256.4" r="0.45" fill="#e4a074"/>
<circle cx="466.0" cy="234.4" r="0.4" fill="#f2c8a8"/>
<circle cx="463.3" cy="271.8" r="0.4" fill="#f2c8a8"/>
<circle cx="472.6" cy="250.5" r="0.45" fill="#e4a074"/>
<circle cx="474.9" cy="244.3" r="0.4" fill="#f2c8a8"/>
<circle cx="474.3" cy="271.5" r="0.45" fill="#e4a074"/>
<circle cx="462.3" cy="246.7" r="0.45" fill="#e4a074"/>
<circle cx="489.5" cy="248.8" r="0.6" fill="#d47c4e"/>
<circle cx="472.0" cy="269.1" r="0.4" fill="#f2c8a8"/>
<circle cx="461.0" cy="269.5" r="0.4" fill="#f2c8a8"/>
<circle cx="454.5" cy="247.4" r="0.6" fill="#d47c4e"/>
<circle cx="482.6" cy="255.3" r="0.4" fill="#f2c8a8"/>
<circle cx="479.5" cy="250.7" r="0.45" fill="#e4a074"/>
<circle cx="459.3" cy="263.4" r="0.6" fill="#d47c4e"/>
<circle cx="482.8" cy="258.8" r="0.4" fill="#f2c8a8"/>
<circle cx="479.4" cy="262.7" r="0.45" fill="#e4a074"/>
<circle cx="465.3" cy="250.5" r="0.45" fill="#e4a074"/>
<circle cx="463.8" cy="253.7" r="0.45" fill="#e4a074"/>
<circle cx="475.9" cy="245.2" r="0.6" fill="#d47c4e"/>
<circle cx="475.4" cy="244.7" r="0.4" fill="#f2c8a8"/>
<circle cx="484.5" cy="239.9" r="0.4" fill="#f2c8a8"/>
<circle cx="473.6" cy="235.7" r="0.45" fill="#e4a074"/>
<circle cx="482.0" cy="235.9" r="0.4" fill="#f2c8a8"/>
<circle cx="481.8" cy="236.6" r="0.4" fill="#f2c8a8"/>
<circle cx="464.6" cy="238.2" r="0.45" fill="#e4a074"/>
<circle cx="461.6" cy="249.6" r="0.4" fill="#f2c8a8"/>
<circle cx="464.3" cy="252.0" r="0.45" fill="#e4a074"/>
<circle cx="479.6" cy="247.4" r="0.45" fill="#e4a074"/>
<circle cx="468.3" cy="247.6" r="0.45" fill="#e4a074"/>
<circle cx="472.9" cy="242.5" r="0.4" fill="#f2c8a8"/>
<circle cx="468.0" cy="272.1" r="0.4" fill="#f2c8a8"/>
<circle cx="475.0" cy="246.4" r="0.4" fill="#f2c8a8"/>
<circle cx="460.2" cy="270.1" r="0.4" fill="#f2c8a8"/>
<circle cx="488.0" cy="262.2" r="0.4" fill="#f2c8a8"/>
<circle cx="468.7" cy="248.8" r="0.4" fill="#f2c8a8"/>
<circle cx="461.6" cy="237.2" r="0.4" fill="#f2c8a8"/>
<circle cx="468.2" cy="255.2" r="0.4" fill="#f2c8a8"/>
<circle cx="472.6" cy="272.7" r="0.45" fill="#e4a074"/>
<circle cx="475.0" cy="239.1" r="0.45" fill="#e4a074"/>
<circle cx="480.8" cy="263.4" r="0.4" fill="#f2c8a8"/>
<circle cx="468.1" cy="271.7" r="0.4" fill="#f2c8a8"/>
<circle cx="466.6" cy="264.0" r="0.6" fill="#d47c4e"/>
<circle cx="462.3" cy="242.9" r="0.4" fill="#f2c8a8"/>
<circle cx="489.6" cy="244.4" r="0.4" fill="#f2c8a8"/>
<circle cx="453.9" cy="246.1" r="0.4" fill="#f2c8a8"/>
<circle cx="471.3" cy="260.8" r="0.45" fill="#e4a074"/>
<circle cx="472.7" cy="245.8" r="0.4" fill="#f2c8a8"/>
<circle cx="486.2" cy="253.2" r="0.4" fill="#f2c8a8"/>
<circle cx="482.3" cy="237.3" r="0.4" fill="#f2c8a8"/>
<circle cx="483.7" cy="265.8" r="0.45" fill="#e4a074"/>
<circle cx="486.8" cy="246.1" r="0.4" fill="#f2c8a8"/>
<circle cx="460.5" cy="253.0" r="0.4" fill="#f2c8a8"/>
<circle cx="452.0" cy="258.0" r="0.6" fill="#d47c4e"/>
<circle cx="484.7" cy="247.6" r="0.6" fill="#d47c4e"/>
<circle cx="484.7" cy="269.5" r="0.45" fill="#e4a074"/>
<circle cx="481.1" cy="244.4" r="0.6" fill="#d47c4e"/>
<circle cx="490.8" cy="257.1" r="0.45" fill="#e4a074"/>
<circle cx="458.2" cy="267.6" r="0.4" fill="#f2c8a8"/>
<circle cx="471.9" cy="239.7" r="0.4" fill="#f2c8a8"/>
<circle cx="477.9" cy="271.8" r="0.45" fill="#e4a074"/>
<circle cx="489.3" cy="265.1" r="0.4" fill="#f2c8a8"/>
<circle cx="462.1" cy="263.6" r="0.45" fill="#e4a074"/>
<circle cx="487.5" cy="241.1" r="0.45" fill="#e4a074"/>
<circle cx="467.1" cy="259.2" r="0.4" fill="#f2c8a8"/>
<circle cx="455.8" cy="252.2" r="0.4" fill="#f2c8a8"/>
<circle cx="485.1" cy="252.6" r="0.4" fill="#f2c8a8"/>
<circle cx="464.1" cy="258.3" r="0.6" fill="#d47c4e"/>
<circle cx="458.7" cy="245.7" r="0.4" fill="#f2c8a8"/>
<circle cx="471.7" cy="265.8" r="0.4" fill="#f2c8a8"/>
<circle cx="452.1" cy="260.9" r="0.45" fill="#e4a074"/>
<circle cx="473.0" cy="258.7" r="0.4" fill="#f2c8a8"/>
<circle cx="461.2" cy="269.4" r="0.6" fill="#d47c4e"/>
<circle cx="473.3" cy="272.5" r="0.4" fill="#f2c8a8"/>
<circle cx="456.8" cy="250.5" r="0.4" fill="#f2c8a8"/>
<circle cx="487.4" cy="261.0" r="0.45" fill="#e4a074"/>
<circle cx="457.0" cy="267.8" r="0.45" fill="#e4a074"/>
<circle cx="470.0" cy="259.2" r="0.45" fill="#e4a074"/>
<circle cx="466.1" cy="245.8" r="0.4" fill="#f2c8a8"/>
<circle cx="467.8" cy="254.4" r="0.45" fill="#e4a074"/>
<circle cx="463.9" cy="246.2" r="0.4" fill="#f2c8a8"/>
<circle cx="472.7" cy="263.1" r="0.4" fill="#f2c8a8"/>
<circle cx="477.4" cy="241.1" r="0.45" fill="#e4a074"/>
<circle cx="460.8" cy="269.5" r="0.45" fill="#e4a074"/>
<circle cx="464.2" cy="243.2" r="0.45" fill="#e4a074"/>
<circle cx="479.3" cy="273.3" r="0.45" fill="#e4a074"/>
<circle cx="455.3" cy="250.7" r="0.4" fill="#f2c8a8"/>
<circle cx="466.6" cy="262.7" r="0.45" fill="#e4a074"/>
<circle cx="485.7" cy="255.2" r="0.6" fill="#d47c4e"/>
<circle cx="475.3" cy="236.6" r="0.4" fill="#f2c8a8"/>
<circle cx="473.7" cy="271.6" r="0.4" fill="#f2c8a8"/>
<circle cx="469.6" cy="241.8" r="0.45" fill="#e4a074"/>
<circle cx="454.7" cy="245.7" r="0.6" fill="#d47c4e"/>
<circle cx="456.6" cy="268.5" r="0.4" fill="#f2c8a8"/>
<circle cx="474.3" cy="251.5" r="0.45" fill="#e4a074"/>
<circle cx="457.6" cy="265.9" r="0.4" fill="#f2c8a8"/>
<circle cx="476.5" cy="272.0" r="0.45" fill="#e4a074"/>
<circle cx="472.2" cy="239.4" r="0.4" fill="#f2c8a8"/>
<circle cx="473.0" cy="244.3" r="0.4" fill="#f2c8a8"/>
<circle cx="482.4" cy="254.1" r="0.45" fill="#e4a074"/>
<circle cx="473.2" cy="237.4" r="0.4" fill="#f2c8a8"/>
<circle cx="469.8" cy="237.0" r="0.4" fill="#f2c8a8"/>
<circle cx="455.9" cy="250.5" r="0.45" fill="#e4a074"/>
<circle cx="475.5" cy="265.1" r="0.4" fill="#f2c8a8"/>
<circle cx="481.9" cy="261.1" r="0.45" fill="#e4a074"/>
<circle cx="464.0" cy="250.0" r="0.45" fill="#e4a074"/>
<circle cx="485.2" cy="266.2" r="0.4" fill="#f2c8a8"/>
<circle cx="480.4" cy="260.1" r="0.45" fill="#e4a074"/>
<circle cx="469.2" cy="273.6" r="0.6" fill="#d47c4e"/>
<circle cx="467.9" cy="271.8" r="0.45" fill="#e4a074"/>
<circle cx="461.9" cy="250.1" r="0.6" fill="#d47c4e"/>
<circle cx="474.0" cy="253.4" r="0.4" fill="#f2c8a8"/>
<circle cx="467.7" cy="262.5" r="0.4" fill="#f2c8a8"/>
<circle cx="474.3" cy="252.1" r="0.45" fill="#e4a074"/>
<circle cx="470.8" cy="256.3" r="0.6" fill="#d47c4e"/>
<circle cx="470.3" cy="263.6" r="0.4" fill="#f2c8a8"/>
<circle cx="466.8" cy="259.4" r="0.4" fill="#f2c8a8"/>
<circle cx="471.7" cy="270.0" r="0.4" fill="#f2c8a8"/>
<circle cx="466.5" cy="268.4" r="0.45" fill="#e4a074"/>
<circle cx="469.7" cy="241.9" r="0.6" fill="#d47c4e"/>
<circle cx="475.7" cy="238.8" r="0.4" fill="#f2c8a8"/>
<circle cx="468.0" cy="260.8" r="0.6" fill="#d47c4e"/>
<circle cx="466.6" cy="249.9" r="0.6" fill="#d47c4e"/>
<circle cx="474.6" cy="251.5" r="0.45" fill="#e4a074"/>
<circle cx="472.8" cy="269.4" r="0.45" fill="#e4a074"/>
<circle cx="462.9" cy="266.0" r="0.45" fill="#e4a074"/>
<circle cx="477.6" cy="269.6" r="0.4" fill="#f2c8a8"/>
<circle cx="480.7" cy="253.1" r="0.45" fill="#e4a074"/>
<circle cx="482.3" cy="256.9" r="0.4" fill="#f2c8a8"/>
<circle cx="480.8" cy="266.3" r="0.4" fill="#f2c8a8"/>
<circle cx="473.5" cy="247.8" r="0.45" fill="#e4a074"/>
<circle cx="476.5" cy="248.3" r="0.4" fill="#f2c8a8"/>
<circle cx="473.0" cy="239.7" r="0.6" fill="#d47c4e"/>
<circle cx="464.7" cy="265.3" r="0.6" fill="#d47c4e"/>
<circle cx="460.2" cy="271.2" r="0.6" fill="#d47c4e"/>
<circle cx="476.5" cy="268.8" r="0.6" fill="#d47c4e"/>
<circle cx="486.0" cy="267.1" r="0.45" fill="#e4a074"/>
<circle cx="471.6" cy="237.8" r="0.4" fill="#f2c8a8"/>
<circle cx="478.2" cy="252.3" r="0.45" fill="#e4a074"/>
<circle cx="469.7" cy="242.4" r="0.45" fill="#e4a074"/>
<circle cx="456.3" cy="263.7" r="0.4" fill="#f2c8a8"/>
<circle cx="483.6" cy="248.8" r="0.45" fill="#e4a074"/>
<circle cx="453.1" cy="257.4" r="0.4" fill="#f2c8a8"/>
<circle cx="468.5" cy="253.1" r="0.4" fill="#f2c8a8"/>
<circle cx="488.8" cy="263.3" r="0.45" fill="#e4a074"/>
<circle cx="453.2" cy="263.5" r="0.6" fill="#d47c4e"/>
<circle cx="477.5" cy="252.4" r="0.45" fill="#e4a074"/>
<circle cx="469.4" cy="237.9" r="0.4" fill="#f2c8a8"/>
<circle cx="484.0" cy="247.6" r="0.45" fill="#e4a074"/>
<circle cx="476.1" cy="243.9" r="0.4" fill="#f2c8a8"/>
<circle cx="481.4" cy="249.0" r="0.4" fill="#f2c8a8"/>
<circle cx="485.4" cy="269.9" r="0.45" fill="#e4a074"/>
<circle cx="473.7" cy="261.8" r="0.6" fill="#d47c4e"/>
<circle cx="463.5" cy="240.3" r="0.4" fill="#f2c8a8"/>
<circle cx="454.2" cy="264.6" r="0.4" fill="#f2c8a8"/>
<circle cx="467.3" cy="256.5" r="0.6" fill="#d47c4e"/>
<circle cx="488.0" cy="266.6" r="0.45" fill="#e4a074"/>
<circle cx="471.2" cy="249.8" r="0.45" fill="#e4a074"/>
<circle cx="457.0" cy="254.7" r="0.4" fill="#f2c8a8"/>
<circle cx="452.9" cy="252.6" r="0.4" fill="#f2c8a8"/>
<circle cx="481.4" cy="244.5" r="0.4" fill="#f2c8a8"/>
<circle cx="472.7" cy="268.3" r="0.45" fill="#e4a074"/>
<circle cx="453.8" cy="245.6" r="0.45" fill="#e4a074"/>
<circle cx="450.9" cy="252.4" r="0.4" fill="#f2c8a8"/>
<circle cx="483.7" cy="255.3" r="0.4" fill="#f2c8a8"/>
<circle cx="481.4" cy="263.6" r="0.4" fill="#f2c8a8"/>
<circle cx="484.5" cy="247.1" r="0.6" fill="#d47c4e"/>
<circle cx="465.9" cy="237.1" r="0.45" fill="#e4a074"/>
<circle cx="466.0" cy="271.0" r="0.4" fill="#f2c8a8"/>
<circle cx="456.4" cy="248.6" r="0.45" fill="#e4a074"/>
<circle cx="477.8" cy="264.8" r="0.45" fill="#e4a074"/>
<circle cx="478.7" cy="234.5" r="0.4" fill="#f2c8a8"/>
<circle cx="473.4" cy="260.7" r="0.45" fill="#e4a074"/>
<circle cx="471.2" cy="237.2" r="0.45" fill="#e4a074"/>
<circle cx="456.0" cy="252.5" r="0.6" fill="#d47c4e"/>
<circle cx="461.6" cy="240.4" r="0.45" fill="#e4a074"/>
<circle cx="453.4" cy="254.8" r="0.45" fill="#e4a074"/>
<circle cx="481.1" cy="264.0" r="0.4" fill="#f2c8a8"/>
<circle cx="457.4" cy="260.5" r="0.4" fill="#f2c8a8"/>
<circle cx="461.1" cy="262.7" r="0.4" fill="#f2c8a8"/>
<circle cx="477.9" cy="252.9" r="0.4" fill="#f2c8a8"/>
<circle cx="469.3" cy="241.1" r="0.4" fill="#f2c8a8"/>
<circle cx="461.0" cy="247.1" r="0.4" fill="#f2c8a8"/>
<circle cx="491.2" cy="255.9" r="0.6" fill="#d47c4e"/>
<circle cx="468.5" cy="268.0" r="0.4" fill="#f2c8a8"/>
<circle cx="490.2" cy="261.2" r="0.45" fill="#e4a074"/>
<circle cx="472.3" cy="264.6" r="0.45" fill="#e4a074"/>
<circle cx="475.9" cy="240.3" r="0.4" fill="#f2c8a8"/>
<circle cx="473.6" cy="272.7" r="0.6" fill="#d47c4e"/>
<circle cx="476.2" cy="248.5" r="0.45" fill="#e4a074"/>
<circle cx="489.4" cy="252.4" r="0.4" fill="#f2c8a8"/>
<circle cx="474.9" cy="258.1" r="0.45" fill="#e4a074"/>
<circle cx="488.9" cy="261.9" r="0.45" fill="#e4a074"/>
<circle cx="452.1" cy="257.3" r="0.6" fill="#d47c4e"/>
<circle cx="466.8" cy="249.6" r="0.45" fill="#e4a074"/>
<circle cx="462.5" cy="259.1" r="0.6" fill="#d47c4e"/>
<circle cx="470.8" cy="246.8" r="0.4" fill="#f2c8a8"/>
<circle cx="463.0" cy="267.3" r="0.4" fill="#f2c8a8"/>
<circle cx="454.1" cy="261.1" r="0.4" fill="#f2c8a8"/>
<circle cx="469.4" cy="242.2" r="0.6" fill="#d47c4e"/>
<circle cx="483.2" cy="250.5" r="0.45" fill="#e4a074"/>
<circle cx="482.0" cy="262.7" r="0.45" fill="#e4a074"/>
<circle cx="463.8" cy="244.7" r="0.4" fill="#f2c8a8"/>
<circle cx="482.9" cy="265.1" r="0.4" fill="#f2c8a8"/>
<circle cx="466.0" cy="269.5" r="0.6" fill="#d47c4e"/>
<circle cx="461.2" cy="253.0" r="0.45" fill="#e4a074"/>
<circle cx="468.7" cy="272.4" r="0.4" fill="#f2c8a8"/>
<circle cx="470.7" cy="267.9" r="0.6" fill="#d47c4e"/>
<circle cx="476.4" cy="262.0" r="0.4" fill="#f2c8a8"/>
<circle cx="474.4" cy="265.8" r="0.4" fill="#f2c8a8"/>
<circle cx="472.5" cy="240.7" r="0.4" fill="#f2c8a8"/>
<circle cx="457.0" cy="265.2" r="0.6" fill="#d47c4e"/>
<circle cx="453.7" cy="263.1" r="0.4" fill="#f2c8a8"/>
<circle cx="486.8" cy="251.9" r="0.45" fill="#e4a074"/>
<circle cx="463.7" cy="261.5" r="0.4" fill="#f2c8a8"/>
<circle cx="481.2" cy="245.7" r="0.45" fill="#e4a074"/>
<circle cx="456.9" cy="257.8" r="0.4" fill="#f2c8a8"/>
<circle cx="477.1" cy="265.0" r="0.45" fill="#e4a074"/>
<circle cx="470.7" cy="253.8" r="0.45" fill="#e4a074"/>
<circle cx="466.7" cy="256.3" r="0.4" fill="#f2c8a8"/>
<circle cx="476.3" cy="272.5" r="0.45" fill="#e4a074"/>
<circle cx="466.8" cy="263.3" r="0.4" fill="#f2c8a8"/>
<circle cx="469.4" cy="266.2" r="0.45" fill="#e4a074"/>
<circle cx="475.9" cy="237.0" r="0.6" fill="#d47c4e"/>
<circle cx="467.7" cy="248.2" r="0.4" fill="#f2c8a8"/>
<circle cx="477.2" cy="263.2" r="0.45" fill="#e4a074"/>
<circle cx="478.7" cy="239.6" r="0.4" fill="#f2c8a8"/>
<circle cx="472.7" cy="274.8" r="0.45" fill="#e4a074"/>
<circle cx="469.3" cy="257.8" r="0.6" fill="#d47c4e"/>
<circle cx="471.0" cy="273.4" r="0.4" fill="#f2c8a8"/>
<circle cx="464.5" cy="243.8" r="0.6" fill="#d47c4e"/>
<circle cx="469.8" cy="260.4" r="0.4" fill="#f2c8a8"/>
<circle cx="478.8" cy="234.5" r="0.45" fill="#e4a074"/>
<circle cx="467.1" cy="243.9" r="0.4" fill="#f2c8a8"/>
<circle cx="489.5" cy="264.9" r="0.4" fill="#f2c8a8"/>
<circle cx="462.2" cy="246.0" r="0.4" fill="#f2c8a8"/>
<circle cx="453.1" cy="262.0" r="0.4" fill="#f2c8a8"/>
<circle cx="480.2" cy="268.4" r="0.45" fill="#e4a074"/>
<circle cx="462.8" cy="253.5" r="0.6" fill="#d47c4e"/>
<circle cx="478.4" cy="259.7" r="0.4" fill="#f2c8a8"/>
<circle cx="457.3" cy="252.8" r="0.45" fill="#e4a074"/>
<circle cx="468.8" cy="234.4" r="0.4" fill="#f2c8a8"/>
<circle cx="490.2" cy="259.0" r="0.4" fill="#f2c8a8"/>
<circle cx="468.4" cy="261.3" r="0.45" fill="#e4a074"/>
<circle cx="473.2" cy="246.7" r="0.4" fill="#f2c8a8"/>
<circle cx="482.0" cy="240.0" r="0.4" fill="#f2c8a8"/>
<circle cx="464.4" cy="236.8" r="0.4" fill="#f2c8a8"/>
<circle cx="481.3" cy="268.2" r="0.4" fill="#f2c8a8"/>
<circle cx="477.4" cy="260.4" r="0.4" fill="#f2c8a8"/>
<circle cx="480.8" cy="263.4" r="0.45" fill="#e4a074"/>
<circle cx="459.1" cy="249.8" r="0.45" fill="#e4a074"/>
<circle cx="482.0" cy="260.4" r="0.6" fill="#d47c4e"/>
<circle cx="485.0" cy="238.9" r="0.45" fill="#e4a074"/>
<circle cx="453.5" cy="249.9" r="0.45" fill="#e4a074"/>
<circle cx="479.5" cy="261.2" r="0.4" fill="#f2c8a8"/>
<circle cx="480.1" cy="245.6" r="0.4" fill="#f2c8a8"/>
<circle cx="465.2" cy="252.5" r="0.45" fill="#e4a074"/>
<circle cx="477.0" cy="236.1" r="0.6" fill="#d47c4e"/>
<circle cx="468.4" cy="261.4" r="0.45" fill="#e4a074"/>
<circle cx="467.2" cy="242.1" r="0.4" fill="#f2c8a8"/>
<circle cx="482.6" cy="269.8" r="0.4" fill="#f2c8a8"/>
<circle cx="476.4" cy="242.7" r="0.4" fill="#f2c8a8"/>
<circle cx="453.6" cy="252.5" r="0.6" fill="#d47c4e"/>
<circle cx="461.1" cy="268.0" r="0.4" fill="#f2c8a8"/>
<circle cx="483.5" cy="240.0" r="0.45" fill="#e4a074"/>
<circle cx="464.6" cy="262.4" r="0.6" fill="#d47c4e"/>
<circle cx="475.3" cy="243.0" r="0.4" fill="#f2c8a8"/>
<circle cx="478.7" cy="273.5" r="0.4" fill="#f2c8a8"/>
<circle cx="477.3" cy="239.8" r="0.45" fill="#e4a074"/>
<circle cx="458.7" cy="250.7" r="0.45" fill="#e4a074"/>
<circle cx="488.7" cy="264.8" r="0.4" fill="#f2c8a8"/>
<circle cx="482.8" cy="267.2" r="0.45" fill="#e4a074"/>
<circle cx="477.8" cy="237.7" r="0.6" fill="#d47c4e"/>
<circle cx="473.8" cy="254.7" r="0.4" fill="#f2c8a8"/>
<circle cx="473.2" cy="246.0" r="0.45" fill="#e4a074"/>
<circle cx="472.8" cy="245.8" r="0.45" fill="#e4a074"/>
<circle cx="486.4" cy="243.4" r="0.4" fill="#f2c8a8"/>
<circle cx="460.7" cy="255.5" r="0.6" fill="#d47c4e"/>
<circle cx="475.2" cy="237.1" r="0.4" fill="#f2c8a8"/>
<circle cx="470.0" cy="239.5" r="0.45" fill="#e4a074"/>
<circle cx="458.8" cy="268.9" r="0.45" fill="#e4a074"/>
<circle cx="456.7" cy="258.9" r="0.45" fill="#e4a074"/>
<circle cx="451.5" cy="250.3" r="0.4" fill="#f2c8a8"/>
<circle cx="485.9" cy="243.4" r="0.4" fill="#f2c8a8"/>
<circle cx="476.5" cy="247.5" r="0.4" fill="#f2c8a8"/>
<circle cx="467.4" cy="235.5" r="0.4" fill="#f2c8a8"/>
<circle cx="488.6" cy="253.4" r="0.4" fill="#f2c8a8"/>
<circle cx="475.9" cy="258.1" r="0.45" fill="#e4a074"/>
<circle cx="467.0" cy="263.7" r="0.4" fill="#f2c8a8"/>
<circle cx="489.4" cy="263.5" r="0.45" fill="#e4a074"/>
<circle cx="458.6" cy="249.0" r="0.4" fill="#f2c8a8"/>
<circle cx="461.8" cy="246.6" r="0.6" fill="#d47c4e"/>
<circle cx="488.9" cy="249.2" r="0.45" fill="#e4a074"/>
<circle cx="478.3" cy="257.4" r="0.4" fill="#f2c8a8"/>
<circle cx="481.3" cy="263.8" r="0.6" fill="#d47c4e"/>
<circle cx="482.1" cy="236.3" r="0.4" fill="#f2c8a8"/>
<circle cx="472.3" cy="257.2" r="0.4" fill="#f2c8a8"/>
<circle cx="486.0" cy="259.4" r="0.4" fill="#f2c8a8"/>
<circle cx="464.4" cy="240.1" r="0.45" fill="#e4a074"/>
<circle cx="466.2" cy="271.2" r="0.45" fill="#e4a074"/>
<circle cx="468.5" cy="240.0" r="0.4" fill="#f2c8a8"/>
<circle cx="470.8" cy="258.1" r="0.4" fill="#f2c8a8"/>
<circle cx="464.9" cy="248.0" r="0.6" fill="#d47c4e"/>
<circle cx="485.8" cy="240.7" r="0.45" fill="#e4a074"/>
<circle cx="462.9" cy="254.7" r="0.4" fill="#f2c8a8"/>
<circle cx="470.1" cy="233.3" r="0.4" fill="#f2c8a8"/>
<circle cx="484.2" cy="254.5" r="0.4" fill="#f2c8a8"/>
<circle cx="465.9" cy="250.0" r="0.45" fill="#e4a074"/>
<circle cx="461.2" cy="271.1" r="0.4" fill="#f2c8a8"/>
<circle cx="468.7" cy="262.3" r="0.6" fill="#d47c4e"/>
<circle cx="455.6" cy="243.9" r="0.4" fill="#f2c8a8"/>
<circle cx="454.4" cy="249.3" r="0.6" fill="#d47c4e"/>
<circle cx="477.9" cy="251.4" r="0.4" fill="#f2c8a8"/>
<circle cx="487.1" cy="253.9" r="0.6" fill="#d47c4e"/>
<circle cx="471.6" cy="257.4" r="0.6" fill="#d47c4e"/>
<circle cx="470.3" cy="269.7" r="0.4" fill="#f2c8a8"/>
<circle cx="453.8" cy="244.5" r="0.6" fill="#d47c4e"/>
<circle cx="479.3" cy="246.6" r="0.45" fill="#e4a074"/>
<circle cx="485.2" cy="255.6" r="0.6" fill="#d47c4e"/>
<circle cx="471.3" cy="266.8" r="0.45" fill="#e4a074"/>
<circle cx="473.2" cy="271.7" r="0.45" fill="#e4a074"/>
<circle cx="488.4" cy="265.4" r="0.4" fill="#f2c8a8"/>
<circle cx="467.6" cy="242.3" r="0.4" fill="#f2c8a8"/>
<circle cx="490.2" cy="263.9" r="0.45" fill="#e4a074"/>
<circle cx="453.6" cy="258.8" r="0.6" fill="#d47c4e"/>
<circle cx="485.4" cy="247.2" r="0.4" fill="#f2c8a8"/>
<circle cx="451.0" cy="251.6" r="0.45" fill="#e4a074"/>
<circle cx="462.4" cy="237.2" r="0.4" fill="#f2c8a8"/>
<circle cx="453.7" cy="247.1" r="0.4" fill="#f2c8a8"/>
<circle cx="473.8" cy="251.5" r="0.45" fill="#e4a074"/>
<circle cx="464.5" cy="250.4" r="0.6" fill="#d47c4e"/>
<circle cx="463.3" cy="257.4" r="0.4" fill="#f2c8a8"/>
<circle cx="460.2" cy="246.6" r="0.4" fill="#f2c8a8"/>
<circle cx="486.5" cy="263.8" r="0.4" fill="#f2c8a8"/>
<circle cx="471.1" cy="272.9" r="0.6" fill="#d47c4e"/>
<circle cx="478.2" cy="248.1" r="0.4" fill="#f2c8a8"/>
<circle cx="472.1" cy="237.8" r="0.4" fill="#f2c8a8"/>
<circle cx="485.4" cy="255.7" r="0.4" fill="#f2c8a8"/>
<circle cx="454.0" cy="243.1" r="0.4" fill="#f2c8a8"/>
<circle cx="487.3" cy="262.0" r="0.4" fill="#f2c8a8"/>
<circle cx="474.1" cy="267.8" r="0.6" fill="#d47c4e"/>
<circle cx="466.4" cy="264.6" r="0.4" fill="#f2c8a8"/>
<circle cx="478.7" cy="265.4" r="0.45" fill="#e4a074"/>
<circle cx="463.3" cy="270.8" r="0.4" fill="#f2c8a8"/>
<circle cx="485.1" cy="264.0" r="0.4" fill="#f2c8a8"/>
<circle cx="477.6" cy="250.7" r="0.45" fill="#e4a074"/>
<circle cx="465.5" cy="242.9" r="0.4" fill="#f2c8a8"/>
<circle cx="457.7" cy="242.2" r="0.4" fill="#f2c8a8"/>
<circle cx="454.6" cy="257.0" r="0.45" fill="#e4a074"/>
<circle cx="463.7" cy="258.2" r="0.4" fill="#f2c8a8"/>
<circle cx="452.8" cy="247.9" r="0.6" fill="#d47c4e"/>
<circle cx="460.4" cy="249.8" r="0.4" fill="#f2c8a8"/>
<circle cx="459.4" cy="240.9" r="0.4" fill="#f2c8a8"/>
<circle cx="464.0" cy="234.5" r="0.4" fill="#f2c8a8"/>
<circle cx="484.6" cy="248.8" r="0.45" fill="#e4a074"/>
<circle cx="478.0" cy="247.0" r="0.4" fill="#f2c8a8"/>
<circle cx="477.0" cy="253.5" r="0.4" fill="#f2c8a8"/>
<circle cx="453.8" cy="256.7" r="0.45" fill="#e4a074"/>
<circle cx="487.2" cy="246.7" r="0.4" fill="#f2c8a8"/>
<circle cx="475.3" cy="255.8" r="0.4" fill="#f2c8a8"/>
<circle cx="486.7" cy="256.6" r="0.45" fill="#e4a074"/>
<circle cx="477.4" cy="272.6" r="0.4" fill="#f2c8a8"/>
<circle cx="483.9" cy="250.9" r="0.45" fill="#e4a074"/>
<circle cx="461.3" cy="251.2" r="0.45" fill="#e4a074"/>
<circle cx="482.2" cy="254.3" r="0.4" fill="#f2c8a8"/>
<circle cx="482.7" cy="244.0" r="0.4" fill="#f2c8a8"/>
<circle cx="466.7" cy="269.7" r="0.45" fill="#e4a074"/>
<circle cx="486.1" cy="265.8" r="0.4" fill="#f2c8a8"/>
<circle cx="458.2" cy="252.0" r="0.4" fill="#f2c8a8"/>
<circle cx="491.8" cy="252.8" r="0.6" fill="#d47c4e"/>
<circle cx="470.1" cy="236.5" r="0.4" fill="#f2c8a8"/>
<circle cx="490.4" cy="258.3" r="0.45" fill="#e4a074"/>
<circle cx="463.7" cy="245.5" r="0.4" fill="#f2c8a8"/>
<circle cx="485.2" cy="246.7" r="0.4" fill="#f2c8a8"/>
<circle cx="465.0" cy="264.5" r="0.4" fill="#f2c8a8"/>
<circle cx="491.5" cy="251.3" r="0.45" fill="#e4a074"/>
<circle cx="485.3" cy="254.4" r="0.4" fill="#f2c8a8"/>
<circle cx="468.8" cy="235.4" r="0.45" fill="#e4a074"/>
<circle cx="473.6" cy="247.0" r="0.4" fill="#f2c8a8"/>
<circle cx="487.8" cy="264.7" r="0.45" fill="#e4a074"/>
<circle cx="461.6" cy="253.0" r="0.45" fill="#e4a074"/>
<circle cx="480.4" cy="262.3" r="0.4" fill="#f2c8a8"/>
<circle cx="485.1" cy="252.6" r="0.45" fill="#e4a074"/>
<circle cx="476.8" cy="238.9" r="0.6" fill="#d47c4e"/>
<circle cx="474.8" cy="234.1" r="0.6" fill="#d47c4e"/>
<circle cx="487.5" cy="263.0" r="0.4" fill="#f2c8a8"/>
<circle cx="466.2" cy="265.0" r="0.6" fill="#d47c4e"/>
<circle cx="484.6" cy="259.2" r="0.4" fill="#f2c8a8"/>
<circle cx="486.5" cy="253.8" r="0.45" fill="#e4a074"/>
<rect x="449.20" y="232.30" width="44.60" height="44.10" fill="none" stroke="#6a6a6a" stroke-width="0.9" />
<rect x="263.50" y="279.30" width="44.60" height="44.10" fill="#fff" />
<circle cx="286.10" cy="300.75" r="21.00" fill="#fffbf8" />
<circle cx="267.9" cy="298.4" r="0.4" fill="#f7dcc6"/>
<circle cx="279.1" cy="312.3" r="0.4" fill="#f7dcc6"/>
<circle cx="285.5" cy="283.2" r="0.4" fill="#f7dcc6"/>
<circle cx="295.0" cy="293.2" r="0.4" fill="#f7dcc6"/>
<circle cx="296.5" cy="286.0" r="0.4" fill="#f7dcc6"/>
<circle cx="274.1" cy="294.8" r="0.4" fill="#f7dcc6"/>
<circle cx="280.8" cy="298.4" r="0.4" fill="#f7dcc6"/>
<circle cx="295.7" cy="307.5" r="0.4" fill="#f7dcc6"/>
<circle cx="289.4" cy="304.0" r="0.4" fill="#f7dcc6"/>
<circle cx="282.4" cy="283.2" r="0.4" fill="#f7dcc6"/>
<circle cx="279.0" cy="294.4" r="0.4" fill="#f7dcc6"/>
<circle cx="282.8" cy="282.0" r="0.4" fill="#f7dcc6"/>
<circle cx="278.8" cy="293.9" r="0.4" fill="#f7dcc6"/>
<circle cx="274.0" cy="295.5" r="0.4" fill="#f7dcc6"/>
<circle cx="285.1" cy="308.8" r="0.4" fill="#f7dcc6"/>
<circle cx="297.1" cy="288.2" r="0.4" fill="#f7dcc6"/>
<circle cx="294.0" cy="297.2" r="0.4" fill="#f7dcc6"/>
<circle cx="284.8" cy="315.7" r="0.4" fill="#f7dcc6"/>
<circle cx="296.9" cy="304.9" r="0.4" fill="#f7dcc6"/>
<circle cx="272.0" cy="297.1" r="0.4" fill="#f7dcc6"/>
<circle cx="299.6" cy="292.2" r="0.4" fill="#f7dcc6"/>
<circle cx="275.7" cy="288.5" r="0.4" fill="#f7dcc6"/>
<circle cx="288.9" cy="288.4" r="0.4" fill="#f7dcc6"/>
<circle cx="306.9" cy="300.8" r="0.4" fill="#f7dcc6"/>
<circle cx="288.1" cy="293.5" r="0.4" fill="#f7dcc6"/>
<circle cx="293.7" cy="307.2" r="0.4" fill="#f7dcc6"/>
<circle cx="281.9" cy="294.4" r="0.4" fill="#f7dcc6"/>
<circle cx="300.7" cy="302.6" r="0.4" fill="#f7dcc6"/>
<circle cx="296.8" cy="301.2" r="0.4" fill="#f7dcc6"/>
<circle cx="279.1" cy="307.2" r="0.4" fill="#f7dcc6"/>
<circle cx="296.8" cy="300.9" r="0.4" fill="#f7dcc6"/>
<circle cx="286.6" cy="312.7" r="0.4" fill="#f7dcc6"/>
<circle cx="275.3" cy="307.2" r="0.4" fill="#f7dcc6"/>
<circle cx="284.8" cy="303.3" r="0.4" fill="#f7dcc6"/>
<circle cx="295.5" cy="285.4" r="0.4" fill="#f7dcc6"/>
<circle cx="285.0" cy="300.8" r="0.4" fill="#f7dcc6"/>
<circle cx="288.2" cy="320.6" r="0.4" fill="#f7dcc6"/>
<circle cx="276.9" cy="303.3" r="0.4" fill="#f7dcc6"/>
<circle cx="294.5" cy="282.8" r="0.4" fill="#f7dcc6"/>
<circle cx="296.8" cy="311.1" r="0.4" fill="#f7dcc6"/>
<circle cx="279.4" cy="298.1" r="0.4" fill="#f7dcc6"/>
<circle cx="279.1" cy="315.7" r="0.4" fill="#f7dcc6"/>
<circle cx="278.4" cy="286.0" r="0.4" fill="#f7dcc6"/>
<circle cx="276.7" cy="291.9" r="0.4" fill="#f7dcc6"/>
<circle cx="288.5" cy="301.9" r="0.4" fill="#f7dcc6"/>
<circle cx="296.3" cy="284.1" r="0.4" fill="#f7dcc6"/>
<circle cx="290.9" cy="297.5" r="0.4" fill="#f7dcc6"/>
<circle cx="287.2" cy="292.1" r="0.4" fill="#f7dcc6"/>
<circle cx="280.8" cy="308.5" r="0.4" fill="#f7dcc6"/>
<circle cx="298.2" cy="286.1" r="0.4" fill="#f7dcc6"/>
<circle cx="292.5" cy="289.5" r="0.4" fill="#f7dcc6"/>
<circle cx="296.0" cy="296.6" r="0.4" fill="#f7dcc6"/>
<circle cx="270.7" cy="293.0" r="0.4" fill="#f7dcc6"/>
<circle cx="287.4" cy="313.7" r="0.4" fill="#f7dcc6"/>
<circle cx="301.2" cy="311.8" r="0.4" fill="#f7dcc6"/>
<circle cx="289.2" cy="307.8" r="0.4" fill="#f7dcc6"/>
<circle cx="283.2" cy="317.3" r="0.4" fill="#f7dcc6"/>
<circle cx="276.2" cy="289.2" r="0.4" fill="#f7dcc6"/>
<circle cx="297.1" cy="286.3" r="0.4" fill="#f7dcc6"/>
<circle cx="289.9" cy="315.6" r="0.4" fill="#f7dcc6"/>
<circle cx="291.1" cy="309.8" r="0.4" fill="#f7dcc6"/>
<circle cx="289.6" cy="305.4" r="0.4" fill="#f7dcc6"/>
<circle cx="274.5" cy="316.7" r="0.4" fill="#f7dcc6"/>
<circle cx="282.6" cy="295.6" r="0.4" fill="#f7dcc6"/>
<circle cx="289.2" cy="316.6" r="0.4" fill="#f7dcc6"/>
<circle cx="282.7" cy="300.1" r="0.4" fill="#f7dcc6"/>
<circle cx="299.2" cy="309.5" r="0.4" fill="#f7dcc6"/>
<circle cx="281.3" cy="297.2" r="0.4" fill="#f7dcc6"/>
<circle cx="287.6" cy="290.6" r="0.4" fill="#f7dcc6"/>
<circle cx="273.2" cy="292.6" r="0.4" fill="#f7dcc6"/>
<circle cx="275.1" cy="318.0" r="0.4" fill="#f7dcc6"/>
<circle cx="275.3" cy="309.1" r="0.4" fill="#f7dcc6"/>
<circle cx="267.5" cy="295.9" r="0.4" fill="#f7dcc6"/>
<circle cx="304.5" cy="299.3" r="0.4" fill="#f7dcc6"/>
<circle cx="268.8" cy="296.5" r="0.4" fill="#f7dcc6"/>
<circle cx="272.8" cy="285.1" r="0.4" fill="#f7dcc6"/>
<circle cx="304.1" cy="297.4" r="0.4" fill="#f7dcc6"/>
<circle cx="289.4" cy="316.2" r="0.4" fill="#f7dcc6"/>
<circle cx="276.7" cy="304.5" r="0.4" fill="#f7dcc6"/>
<circle cx="288.0" cy="291.1" r="0.4" fill="#f7dcc6"/>
<circle cx="282.4" cy="286.5" r="0.4" fill="#f7dcc6"/>
<circle cx="270.3" cy="308.6" r="0.4" fill="#f7dcc6"/>
<circle cx="282.8" cy="280.1" r="0.4" fill="#f7dcc6"/>
<circle cx="304.9" cy="300.6" r="0.4" fill="#f7dcc6"/>
<circle cx="284.6" cy="317.9" r="0.4" fill="#f7dcc6"/>
<circle cx="265.7" cy="301.3" r="0.4" fill="#f7dcc6"/>
<circle cx="274.2" cy="304.9" r="0.4" fill="#f7dcc6"/>
<circle cx="300.3" cy="303.1" r="0.4" fill="#f7dcc6"/>
<circle cx="274.7" cy="298.4" r="0.4" fill="#f7dcc6"/>
<circle cx="297.6" cy="309.7" r="0.4" fill="#f7dcc6"/>
<rect x="263.50" y="279.30" width="44.60" height="44.10" fill="none" stroke="#6a6a6a" stroke-width="0.9" />
<rect x="310.40" y="279.30" width="44.60" height="44.10" fill="#fff" />
<circle cx="333.00" cy="300.85" r="21.00" fill="#fffbf8" />
<circle cx="340.9" cy="304.6" r="0.4" fill="#f7dcc6"/>
<circle cx="321.4" cy="305.1" r="0.4" fill="#f7dcc6"/>
<circle cx="317.7" cy="300.8" r="0.4" fill="#f7dcc6"/>
<circle cx="327.1" cy="305.8" r="0.4" fill="#f7dcc6"/>
<circle cx="348.6" cy="302.7" r="0.4" fill="#f7dcc6"/>
<circle cx="343.9" cy="298.8" r="0.4" fill="#f7dcc6"/>
<circle cx="325.9" cy="310.4" r="0.4" fill="#f7dcc6"/>
<circle cx="332.3" cy="286.1" r="0.4" fill="#f7dcc6"/>
<circle cx="333.4" cy="299.4" r="0.4" fill="#f7dcc6"/>
<circle cx="339.4" cy="307.9" r="0.4" fill="#f7dcc6"/>
<circle cx="324.0" cy="310.6" r="0.4" fill="#f7dcc6"/>
<circle cx="317.5" cy="314.5" r="0.4" fill="#f7dcc6"/>
<circle cx="318.2" cy="306.8" r="0.4" fill="#f7dcc6"/>
<circle cx="349.4" cy="297.0" r="0.4" fill="#f7dcc6"/>
<circle cx="317.2" cy="290.1" r="0.4" fill="#f7dcc6"/>
<circle cx="331.0" cy="304.3" r="0.4" fill="#f7dcc6"/>
<circle cx="347.8" cy="296.8" r="0.4" fill="#f7dcc6"/>
<circle cx="328.3" cy="298.2" r="0.4" fill="#f7dcc6"/>
<circle cx="332.6" cy="288.0" r="0.4" fill="#f7dcc6"/>
<circle cx="326.0" cy="292.1" r="0.4" fill="#f7dcc6"/>
<circle cx="344.1" cy="294.6" r="0.4" fill="#f7dcc6"/>
<circle cx="329.8" cy="320.4" r="0.4" fill="#f7dcc6"/>
<circle cx="334.9" cy="311.6" r="0.4" fill="#f7dcc6"/>
<circle cx="312.3" cy="302.6" r="0.4" fill="#f7dcc6"/>
<circle cx="340.2" cy="307.2" r="0.4" fill="#f7dcc6"/>
<circle cx="334.6" cy="295.3" r="0.4" fill="#f7dcc6"/>
<circle cx="317.0" cy="310.4" r="0.4" fill="#f7dcc6"/>
<circle cx="328.7" cy="282.7" r="0.4" fill="#f7dcc6"/>
<circle cx="347.7" cy="314.2" r="0.4" fill="#f7dcc6"/>
<circle cx="321.2" cy="315.7" r="0.4" fill="#f7dcc6"/>
<circle cx="313.5" cy="304.4" r="0.4" fill="#f7dcc6"/>
<circle cx="322.4" cy="302.3" r="0.4" fill="#f7dcc6"/>
<circle cx="341.6" cy="312.9" r="0.4" fill="#f7dcc6"/>
<circle cx="341.1" cy="303.5" r="0.4" fill="#f7dcc6"/>
<circle cx="344.2" cy="289.6" r="0.4" fill="#f7dcc6"/>
<circle cx="338.3" cy="294.7" r="0.4" fill="#f7dcc6"/>
<circle cx="318.7" cy="302.6" r="0.4" fill="#f7dcc6"/>
<circle cx="341.4" cy="307.6" r="0.4" fill="#f7dcc6"/>
<circle cx="348.8" cy="292.4" r="0.4" fill="#f7dcc6"/>
<circle cx="316.6" cy="299.9" r="0.4" fill="#f7dcc6"/>
<circle cx="346.2" cy="285.1" r="0.4" fill="#f7dcc6"/>
<circle cx="329.1" cy="298.2" r="0.4" fill="#f7dcc6"/>
<circle cx="338.9" cy="294.7" r="0.4" fill="#f7dcc6"/>
<circle cx="333.5" cy="308.6" r="0.4" fill="#f7dcc6"/>
<circle cx="317.0" cy="299.6" r="0.4" fill="#f7dcc6"/>
<circle cx="319.1" cy="304.4" r="0.4" fill="#f7dcc6"/>
<circle cx="344.3" cy="314.6" r="0.4" fill="#f7dcc6"/>
<circle cx="321.6" cy="298.1" r="0.4" fill="#f7dcc6"/>
<circle cx="343.2" cy="283.2" r="0.4" fill="#f7dcc6"/>
<circle cx="351.4" cy="291.1" r="0.4" fill="#f7dcc6"/>
<circle cx="344.9" cy="306.3" r="0.4" fill="#f7dcc6"/>
<circle cx="322.9" cy="304.1" r="0.4" fill="#f7dcc6"/>
<circle cx="332.2" cy="280.9" r="0.4" fill="#f7dcc6"/>
<circle cx="342.6" cy="312.3" r="0.4" fill="#f7dcc6"/>
<circle cx="352.4" cy="296.8" r="0.4" fill="#f7dcc6"/>
<circle cx="326.5" cy="302.9" r="0.4" fill="#f7dcc6"/>
<circle cx="318.5" cy="304.9" r="0.4" fill="#f7dcc6"/>
<circle cx="335.0" cy="292.0" r="0.4" fill="#f7dcc6"/>
<circle cx="329.2" cy="321.3" r="0.4" fill="#f7dcc6"/>
<circle cx="349.4" cy="302.1" r="0.4" fill="#f7dcc6"/>
<circle cx="348.0" cy="311.1" r="0.4" fill="#f7dcc6"/>
<circle cx="315.1" cy="310.2" r="0.4" fill="#f7dcc6"/>
<circle cx="336.3" cy="320.2" r="0.4" fill="#f7dcc6"/>
<circle cx="333.6" cy="305.4" r="0.4" fill="#f7dcc6"/>
<circle cx="338.0" cy="303.8" r="0.4" fill="#f7dcc6"/>
<circle cx="317.2" cy="314.2" r="0.4" fill="#f7dcc6"/>
<circle cx="322.1" cy="314.9" r="0.4" fill="#f7dcc6"/>
<circle cx="347.7" cy="304.1" r="0.4" fill="#f7dcc6"/>
<circle cx="326.6" cy="299.2" r="0.4" fill="#f7dcc6"/>
<circle cx="320.7" cy="294.1" r="0.4" fill="#f7dcc6"/>
<circle cx="324.1" cy="317.8" r="0.4" fill="#f7dcc6"/>
<circle cx="330.4" cy="294.1" r="0.4" fill="#f7dcc6"/>
<circle cx="336.8" cy="303.8" r="0.4" fill="#f7dcc6"/>
<circle cx="331.6" cy="317.5" r="0.4" fill="#f7dcc6"/>
<circle cx="353.3" cy="296.8" r="0.4" fill="#f7dcc6"/>
<circle cx="337.9" cy="295.3" r="0.4" fill="#f7dcc6"/>
<circle cx="337.8" cy="283.1" r="0.4" fill="#f7dcc6"/>
<circle cx="312.4" cy="304.4" r="0.4" fill="#f7dcc6"/>
<circle cx="327.1" cy="296.6" r="0.4" fill="#f7dcc6"/>
<circle cx="334.6" cy="308.2" r="0.4" fill="#f7dcc6"/>
<circle cx="320.2" cy="290.2" r="0.4" fill="#f7dcc6"/>
<circle cx="334.3" cy="299.2" r="0.4" fill="#f7dcc6"/>
<circle cx="353.7" cy="302.1" r="0.4" fill="#f7dcc6"/>
<circle cx="332.2" cy="311.6" r="0.4" fill="#f7dcc6"/>
<circle cx="337.7" cy="295.6" r="0.4" fill="#f7dcc6"/>
<circle cx="338.3" cy="281.7" r="0.4" fill="#f7dcc6"/>
<circle cx="317.9" cy="294.6" r="0.4" fill="#f7dcc6"/>
<circle cx="349.3" cy="301.5" r="0.4" fill="#f7dcc6"/>
<circle cx="319.1" cy="288.8" r="0.4" fill="#f7dcc6"/>
<circle cx="326.0" cy="300.1" r="0.4" fill="#f7dcc6"/>
<rect x="310.40" y="279.30" width="44.60" height="44.10" fill="none" stroke="#6a6a6a" stroke-width="0.9" />
<rect x="356.50" y="279.30" width="44.60" height="44.10" fill="#fff" />
<circle cx="382.0" cy="317.8" r="0.4" fill="#f2c8a8"/>
<circle cx="387.3" cy="307.6" r="0.45" fill="#e4a074"/>
<circle cx="367.1" cy="297.4" r="0.6" fill="#d47c4e"/>
<circle cx="370.1" cy="296.1" r="0.45" fill="#e4a074"/>
<circle cx="386.9" cy="291.0" r="0.4" fill="#f2c8a8"/>
<circle cx="360.7" cy="291.3" r="0.45" fill="#e4a074"/>
<circle cx="385.8" cy="315.6" r="0.4" fill="#f2c8a8"/>
<circle cx="361.6" cy="304.0" r="0.4" fill="#f2c8a8"/>
<circle cx="367.3" cy="300.5" r="0.45" fill="#e4a074"/>
<circle cx="385.3" cy="288.1" r="0.45" fill="#e4a074"/>
<circle cx="376.5" cy="311.4" r="0.45" fill="#e4a074"/>
<circle cx="369.4" cy="299.0" r="0.45" fill="#e4a074"/>
<circle cx="366.6" cy="301.1" r="0.4" fill="#f2c8a8"/>
<circle cx="389.4" cy="284.0" r="0.6" fill="#d47c4e"/>
<circle cx="379.2" cy="306.7" r="0.45" fill="#e4a074"/>
<circle cx="398.3" cy="304.1" r="0.45" fill="#e4a074"/>
<circle cx="371.9" cy="313.0" r="0.45" fill="#e4a074"/>
<circle cx="385.9" cy="311.8" r="0.45" fill="#e4a074"/>
<circle cx="372.3" cy="286.5" r="0.4" fill="#f2c8a8"/>
<circle cx="381.3" cy="311.5" r="0.4" fill="#f2c8a8"/>
<circle cx="369.0" cy="288.8" r="0.6" fill="#d47c4e"/>
<circle cx="360.1" cy="294.3" r="0.4" fill="#f2c8a8"/>
<circle cx="368.0" cy="299.8" r="0.4" fill="#f2c8a8"/>
<circle cx="392.6" cy="295.4" r="0.4" fill="#f2c8a8"/>
<circle cx="373.4" cy="308.5" r="0.45" fill="#e4a074"/>
<circle cx="364.6" cy="300.2" r="0.6" fill="#d47c4e"/>
<circle cx="379.6" cy="294.9" r="0.4" fill="#f2c8a8"/>
<circle cx="374.2" cy="285.6" r="0.45" fill="#e4a074"/>
<circle cx="375.1" cy="301.0" r="0.4" fill="#f2c8a8"/>
<circle cx="387.4" cy="287.0" r="0.4" fill="#f2c8a8"/>
<circle cx="393.3" cy="315.1" r="0.45" fill="#e4a074"/>
<circle cx="388.1" cy="316.2" r="0.6" fill="#d47c4e"/>
<circle cx="390.3" cy="288.4" r="0.45" fill="#e4a074"/>
<circle cx="391.3" cy="308.5" r="0.45" fill="#e4a074"/>
<circle cx="374.8" cy="307.7" r="0.6" fill="#d47c4e"/>
<circle cx="378.6" cy="299.3" r="0.4" fill="#f2c8a8"/>
<circle cx="359.9" cy="293.8" r="0.45" fill="#e4a074"/>
<circle cx="383.9" cy="296.3" r="0.45" fill="#e4a074"/>
<circle cx="384.1" cy="312.1" r="0.4" fill="#f2c8a8"/>
<circle cx="374.7" cy="302.1" r="0.45" fill="#e4a074"/>
<circle cx="367.0" cy="285.2" r="0.45" fill="#e4a074"/>
<circle cx="396.5" cy="310.0" r="0.45" fill="#e4a074"/>
<circle cx="392.7" cy="295.3" r="0.4" fill="#f2c8a8"/>
<circle cx="376.6" cy="292.7" r="0.6" fill="#d47c4e"/>
<circle cx="359.8" cy="296.2" r="0.4" fill="#f2c8a8"/>
<circle cx="371.2" cy="316.2" r="0.45" fill="#e4a074"/>
<circle cx="368.4" cy="303.8" r="0.4" fill="#f2c8a8"/>
<circle cx="376.9" cy="291.3" r="0.4" fill="#f2c8a8"/>
<circle cx="362.2" cy="302.8" r="0.4" fill="#f2c8a8"/>
<circle cx="376.3" cy="321.6" r="0.4" fill="#f2c8a8"/>
<circle cx="380.7" cy="289.5" r="0.4" fill="#f2c8a8"/>
<circle cx="359.6" cy="302.7" r="0.45" fill="#e4a074"/>
<circle cx="395.9" cy="306.3" r="0.45" fill="#e4a074"/>
<circle cx="362.1" cy="302.9" r="0.45" fill="#e4a074"/>
<circle cx="386.3" cy="317.0" r="0.4" fill="#f2c8a8"/>
<circle cx="372.0" cy="319.1" r="0.45" fill="#e4a074"/>
<circle cx="361.4" cy="299.8" r="0.4" fill="#f2c8a8"/>
<circle cx="367.5" cy="311.4" r="0.4" fill="#f2c8a8"/>
<circle cx="376.6" cy="304.4" r="0.6" fill="#d47c4e"/>
<circle cx="393.3" cy="291.8" r="0.4" fill="#f2c8a8"/>
<circle cx="386.0" cy="292.2" r="0.45" fill="#e4a074"/>
<circle cx="369.6" cy="287.8" r="0.45" fill="#e4a074"/>
<circle cx="377.0" cy="320.1" r="0.45" fill="#e4a074"/>
<circle cx="379.9" cy="281.8" r="0.4" fill="#f2c8a8"/>
<circle cx="368.4" cy="307.8" r="0.4" fill="#f2c8a8"/>
<circle cx="391.4" cy="288.8" r="0.4" fill="#f2c8a8"/>
<circle cx="360.2" cy="295.5" r="0.4" fill="#f2c8a8"/>
<circle cx="368.2" cy="314.6" r="0.45" fill="#e4a074"/>
<circle cx="368.4" cy="301.2" r="0.4" fill="#f2c8a8"/>
<circle cx="373.2" cy="290.3" r="0.6" fill="#d47c4e"/>
<circle cx="396.0" cy="289.1" r="0.4" fill="#f2c8a8"/>
<circle cx="372.3" cy="300.4" r="0.4" fill="#f2c8a8"/>
<circle cx="392.4" cy="307.8" r="0.6" fill="#d47c4e"/>
<circle cx="380.1" cy="288.4" r="0.4" fill="#f2c8a8"/>
<circle cx="383.5" cy="299.0" r="0.45" fill="#e4a074"/>
<circle cx="382.5" cy="296.7" r="0.6" fill="#d47c4e"/>
<circle cx="371.1" cy="290.6" r="0.4" fill="#f2c8a8"/>
<circle cx="367.3" cy="291.4" r="0.6" fill="#d47c4e"/>
<circle cx="388.6" cy="293.7" r="0.4" fill="#f2c8a8"/>
<circle cx="382.1" cy="284.4" r="0.45" fill="#e4a074"/>
<circle cx="384.3" cy="303.7" r="0.6" fill="#d47c4e"/>
<circle cx="369.6" cy="311.9" r="0.6" fill="#d47c4e"/>
<circle cx="384.8" cy="316.8" r="0.4" fill="#f2c8a8"/>
<circle cx="362.4" cy="294.3" r="0.4" fill="#f2c8a8"/>
<circle cx="380.4" cy="280.4" r="0.45" fill="#e4a074"/>
<circle cx="384.3" cy="281.3" r="0.45" fill="#e4a074"/>
<circle cx="360.9" cy="295.4" r="0.45" fill="#e4a074"/>
<circle cx="367.3" cy="288.6" r="0.4" fill="#f2c8a8"/>
<circle cx="372.8" cy="311.2" r="0.45" fill="#e4a074"/>
<circle cx="381.3" cy="289.9" r="0.6" fill="#d47c4e"/>
<circle cx="384.0" cy="302.9" r="0.4" fill="#f2c8a8"/>
<circle cx="397.2" cy="310.6" r="0.4" fill="#f2c8a8"/>
<circle cx="364.3" cy="313.6" r="0.45" fill="#e4a074"/>
<circle cx="369.6" cy="290.9" r="0.4" fill="#f2c8a8"/>
<circle cx="389.8" cy="298.1" r="0.45" fill="#e4a074"/>
<circle cx="371.3" cy="302.1" r="0.4" fill="#f2c8a8"/>
<circle cx="360.3" cy="300.3" r="0.4" fill="#f2c8a8"/>
<circle cx="398.0" cy="308.4" r="0.4" fill="#f2c8a8"/>
<circle cx="382.4" cy="298.1" r="0.45" fill="#e4a074"/>
<circle cx="385.6" cy="309.6" r="0.4" fill="#f2c8a8"/>
<circle cx="379.6" cy="287.2" r="0.4" fill="#f2c8a8"/>
<circle cx="366.7" cy="309.8" r="0.4" fill="#f2c8a8"/>
<circle cx="387.9" cy="298.4" r="0.4" fill="#f2c8a8"/>
<circle cx="367.2" cy="297.3" r="0.45" fill="#e4a074"/>
<circle cx="395.8" cy="305.3" r="0.4" fill="#f2c8a8"/>
<circle cx="389.4" cy="296.0" r="0.4" fill="#f2c8a8"/>
<circle cx="372.8" cy="315.0" r="0.4" fill="#f2c8a8"/>
<circle cx="372.6" cy="289.3" r="0.45" fill="#e4a074"/>
<circle cx="375.4" cy="314.8" r="0.45" fill="#e4a074"/>
<circle cx="375.8" cy="284.4" r="0.4" fill="#f2c8a8"/>
<circle cx="385.1" cy="304.7" r="0.4" fill="#f2c8a8"/>
<circle cx="382.7" cy="309.3" r="0.45" fill="#e4a074"/>
<circle cx="368.3" cy="317.9" r="0.4" fill="#f2c8a8"/>
<circle cx="379.3" cy="310.0" r="0.4" fill="#f2c8a8"/>
<circle cx="372.5" cy="286.5" r="0.4" fill="#f2c8a8"/>
<circle cx="385.5" cy="285.0" r="0.4" fill="#f2c8a8"/>
<circle cx="365.8" cy="290.4" r="0.4" fill="#f2c8a8"/>
<circle cx="389.7" cy="308.0" r="0.6" fill="#d47c4e"/>
<circle cx="367.3" cy="313.0" r="0.4" fill="#f2c8a8"/>
<circle cx="382.0" cy="281.7" r="0.4" fill="#f2c8a8"/>
<circle cx="368.7" cy="311.9" r="0.4" fill="#f2c8a8"/>
<circle cx="381.0" cy="308.3" r="0.45" fill="#e4a074"/>
<circle cx="358.6" cy="299.8" r="0.6" fill="#d47c4e"/>
<circle cx="393.5" cy="286.5" r="0.45" fill="#e4a074"/>
<circle cx="386.6" cy="302.2" r="0.6" fill="#d47c4e"/>
<circle cx="390.7" cy="289.3" r="0.45" fill="#e4a074"/>
<circle cx="366.5" cy="306.4" r="0.4" fill="#f2c8a8"/>
<circle cx="368.6" cy="297.8" r="0.4" fill="#f2c8a8"/>
<circle cx="390.0" cy="289.5" r="0.6" fill="#d47c4e"/>
<circle cx="374.8" cy="316.4" r="0.4" fill="#f2c8a8"/>
<circle cx="383.8" cy="292.7" r="0.45" fill="#e4a074"/>
<circle cx="367.8" cy="297.0" r="0.4" fill="#f2c8a8"/>
<circle cx="364.0" cy="302.3" r="0.45" fill="#e4a074"/>
<circle cx="381.7" cy="309.7" r="0.4" fill="#f2c8a8"/>
<circle cx="382.4" cy="291.5" r="0.45" fill="#e4a074"/>
<circle cx="385.0" cy="302.3" r="0.45" fill="#e4a074"/>
<circle cx="372.1" cy="301.2" r="0.4" fill="#f2c8a8"/>
<circle cx="391.3" cy="296.3" r="0.45" fill="#e4a074"/>
<circle cx="366.0" cy="308.2" r="0.4" fill="#f2c8a8"/>
<circle cx="391.0" cy="290.3" r="0.4" fill="#f2c8a8"/>
<circle cx="377.2" cy="309.9" r="0.6" fill="#d47c4e"/>
<circle cx="386.1" cy="290.2" r="0.45" fill="#e4a074"/>
<circle cx="370.2" cy="298.0" r="0.4" fill="#f2c8a8"/>
<circle cx="378.3" cy="292.6" r="0.45" fill="#e4a074"/>
<circle cx="382.2" cy="301.4" r="0.4" fill="#f2c8a8"/>
<circle cx="369.7" cy="287.5" r="0.6" fill="#d47c4e"/>
<circle cx="371.0" cy="288.2" r="0.4" fill="#f2c8a8"/>
<circle cx="393.3" cy="297.2" r="0.45" fill="#e4a074"/>
<circle cx="397.6" cy="306.1" r="0.4" fill="#f2c8a8"/>
<circle cx="381.9" cy="314.1" r="0.4" fill="#f2c8a8"/>
<circle cx="370.5" cy="296.3" r="0.45" fill="#e4a074"/>
<circle cx="387.1" cy="316.5" r="0.45" fill="#e4a074"/>
<circle cx="374.2" cy="281.2" r="0.4" fill="#f2c8a8"/>
<circle cx="373.7" cy="289.0" r="0.6" fill="#d47c4e"/>
<circle cx="387.5" cy="284.7" r="0.45" fill="#e4a074"/>
<circle cx="377.7" cy="321.0" r="0.6" fill="#d47c4e"/>
<circle cx="390.7" cy="297.3" r="0.45" fill="#e4a074"/>
<circle cx="370.8" cy="283.7" r="0.45" fill="#e4a074"/>
<circle cx="366.4" cy="304.8" r="0.45" fill="#e4a074"/>
<circle cx="370.4" cy="288.3" r="0.6" fill="#d47c4e"/>
<circle cx="381.5" cy="301.5" r="0.4" fill="#f2c8a8"/>
<circle cx="394.9" cy="312.1" r="0.4" fill="#f2c8a8"/>
<circle cx="386.5" cy="294.3" r="0.4" fill="#f2c8a8"/>
<circle cx="379.5" cy="283.8" r="0.4" fill="#f2c8a8"/>
<circle cx="366.2" cy="292.2" r="0.6" fill="#d47c4e"/>
<circle cx="363.7" cy="300.3" r="0.4" fill="#f2c8a8"/>
<circle cx="364.3" cy="310.2" r="0.4" fill="#f2c8a8"/>
<circle cx="371.9" cy="282.1" r="0.45" fill="#e4a074"/>
<circle cx="367.1" cy="297.7" r="0.4" fill="#f2c8a8"/>
<circle cx="392.0" cy="309.5" r="0.6" fill="#d47c4e"/>
<circle cx="385.1" cy="294.3" r="0.45" fill="#e4a074"/>
<circle cx="384.2" cy="287.4" r="0.45" fill="#e4a074"/>
<circle cx="383.8" cy="312.3" r="0.45" fill="#e4a074"/>
<circle cx="377.0" cy="287.1" r="0.4" fill="#f2c8a8"/>
<circle cx="387.9" cy="291.3" r="0.4" fill="#f2c8a8"/>
<circle cx="381.5" cy="315.4" r="0.45" fill="#e4a074"/>
<circle cx="368.1" cy="314.1" r="0.4" fill="#f2c8a8"/>
<circle cx="399.6" cy="302.6" r="0.4" fill="#f2c8a8"/>
<circle cx="359.4" cy="295.2" r="0.4" fill="#f2c8a8"/>
<circle cx="387.9" cy="304.8" r="0.4" fill="#f2c8a8"/>
<circle cx="388.1" cy="288.9" r="0.4" fill="#f2c8a8"/>
<circle cx="377.1" cy="315.9" r="0.4" fill="#f2c8a8"/>
<circle cx="372.2" cy="319.8" r="0.4" fill="#f2c8a8"/>
<circle cx="380.8" cy="317.2" r="0.4" fill="#f2c8a8"/>
<circle cx="362.3" cy="298.9" r="0.4" fill="#f2c8a8"/>
<circle cx="368.0" cy="297.5" r="0.45" fill="#e4a074"/>
<circle cx="364.1" cy="287.7" r="0.45" fill="#e4a074"/>
<circle cx="382.8" cy="309.3" r="0.45" fill="#e4a074"/>
<circle cx="381.0" cy="296.2" r="0.4" fill="#f2c8a8"/>
<circle cx="376.2" cy="315.1" r="0.6" fill="#d47c4e"/>
<circle cx="362.2" cy="294.4" r="0.45" fill="#e4a074"/>
<circle cx="376.2" cy="317.3" r="0.4" fill="#f2c8a8"/>
<circle cx="364.0" cy="303.5" r="0.45" fill="#e4a074"/>
<circle cx="388.5" cy="317.8" r="0.4" fill="#f2c8a8"/>
<circle cx="371.6" cy="318.9" r="0.6" fill="#d47c4e"/>
<circle cx="365.4" cy="316.3" r="0.4" fill="#f2c8a8"/>
<circle cx="388.1" cy="298.4" r="0.4" fill="#f2c8a8"/>
<circle cx="379.7" cy="292.6" r="0.45" fill="#e4a074"/>
<circle cx="386.5" cy="301.4" r="0.4" fill="#f2c8a8"/>
<circle cx="391.5" cy="308.3" r="0.4" fill="#f2c8a8"/>
<circle cx="378.0" cy="286.3" r="0.6" fill="#d47c4e"/>
<circle cx="383.9" cy="293.8" r="0.6" fill="#d47c4e"/>
<circle cx="391.6" cy="291.4" r="0.45" fill="#e4a074"/>
<circle cx="384.8" cy="311.5" r="0.4" fill="#f2c8a8"/>
<circle cx="384.6" cy="316.6" r="0.4" fill="#f2c8a8"/>
<circle cx="380.9" cy="285.2" r="0.45" fill="#e4a074"/>
<circle cx="395.6" cy="311.1" r="0.45" fill="#e4a074"/>
<circle cx="372.2" cy="293.5" r="0.45" fill="#e4a074"/>
<circle cx="364.3" cy="311.0" r="0.45" fill="#e4a074"/>
<circle cx="386.4" cy="309.9" r="0.45" fill="#e4a074"/>
<circle cx="395.7" cy="302.7" r="0.45" fill="#e4a074"/>
<circle cx="376.5" cy="289.3" r="0.4" fill="#f2c8a8"/>
<circle cx="361.1" cy="303.7" r="0.4" fill="#f2c8a8"/>
<circle cx="368.4" cy="300.4" r="0.45" fill="#e4a074"/>
<circle cx="378.5" cy="310.6" r="0.4" fill="#f2c8a8"/>
<circle cx="389.1" cy="293.3" r="0.6" fill="#d47c4e"/>
<circle cx="378.1" cy="290.2" r="0.45" fill="#e4a074"/>
<circle cx="399.4" cy="302.2" r="0.45" fill="#e4a074"/>
<circle cx="390.6" cy="310.9" r="0.4" fill="#f2c8a8"/>
<circle cx="373.7" cy="291.1" r="0.6" fill="#d47c4e"/>
<circle cx="375.0" cy="297.1" r="0.45" fill="#e4a074"/>
<circle cx="387.8" cy="293.4" r="0.45" fill="#e4a074"/>
<circle cx="391.7" cy="285.9" r="0.4" fill="#f2c8a8"/>
<circle cx="384.5" cy="292.1" r="0.45" fill="#e4a074"/>
<circle cx="373.5" cy="287.8" r="0.6" fill="#d47c4e"/>
<circle cx="386.0" cy="281.3" r="0.6" fill="#d47c4e"/>
<circle cx="363.0" cy="293.1" r="0.45" fill="#e4a074"/>
<circle cx="367.1" cy="309.8" r="0.45" fill="#e4a074"/>
<circle cx="381.4" cy="311.5" r="0.45" fill="#e4a074"/>
<circle cx="389.1" cy="286.6" r="0.45" fill="#e4a074"/>
<circle cx="363.2" cy="300.0" r="0.45" fill="#e4a074"/>
<circle cx="393.1" cy="301.7" r="0.6" fill="#d47c4e"/>
<circle cx="383.0" cy="314.9" r="0.4" fill="#f2c8a8"/>
<circle cx="378.5" cy="320.1" r="0.4" fill="#f2c8a8"/>
<circle cx="384.8" cy="283.2" r="0.6" fill="#d47c4e"/>
<circle cx="378.2" cy="321.3" r="0.4" fill="#f2c8a8"/>
<circle cx="359.6" cy="307.3" r="0.45" fill="#e4a074"/>
<circle cx="376.2" cy="294.7" r="0.4" fill="#f2c8a8"/>
<circle cx="378.5" cy="307.8" r="0.45" fill="#e4a074"/>
<circle cx="379.1" cy="321.6" r="0.45" fill="#e4a074"/>
<circle cx="385.4" cy="317.6" r="0.4" fill="#f2c8a8"/>
<circle cx="373.4" cy="300.1" r="0.45" fill="#e4a074"/>
<circle cx="382.8" cy="285.5" r="0.45" fill="#e4a074"/>
<circle cx="375.1" cy="307.4" r="0.4" fill="#f2c8a8"/>
<circle cx="378.1" cy="285.3" r="0.4" fill="#f2c8a8"/>
<circle cx="379.9" cy="315.5" r="0.4" fill="#f2c8a8"/>
<circle cx="392.6" cy="305.0" r="0.4" fill="#f2c8a8"/>
<circle cx="384.9" cy="296.2" r="0.45" fill="#e4a074"/>
<circle cx="382.4" cy="289.7" r="0.45" fill="#e4a074"/>
<circle cx="395.6" cy="300.2" r="0.4" fill="#f2c8a8"/>
<circle cx="389.7" cy="299.4" r="0.6" fill="#d47c4e"/>
<circle cx="374.1" cy="313.7" r="0.4" fill="#f2c8a8"/>
<circle cx="367.7" cy="285.0" r="0.45" fill="#e4a074"/>
<circle cx="387.8" cy="320.1" r="0.45" fill="#e4a074"/>
<circle cx="359.8" cy="300.3" r="0.4" fill="#f2c8a8"/>
<circle cx="363.9" cy="290.3" r="0.45" fill="#e4a074"/>
<circle cx="376.7" cy="296.4" r="0.4" fill="#f2c8a8"/>
<circle cx="377.2" cy="317.3" r="0.4" fill="#f2c8a8"/>
<circle cx="364.3" cy="305.3" r="0.45" fill="#e4a074"/>
<circle cx="387.7" cy="294.0" r="0.4" fill="#f2c8a8"/>
<circle cx="381.9" cy="307.5" r="0.45" fill="#e4a074"/>
<circle cx="385.6" cy="297.4" r="0.4" fill="#f2c8a8"/>
<circle cx="395.2" cy="290.0" r="0.6" fill="#d47c4e"/>
<circle cx="390.7" cy="300.5" r="0.4" fill="#f2c8a8"/>
<circle cx="379.1" cy="315.9" r="0.4" fill="#f2c8a8"/>
<circle cx="378.8" cy="315.5" r="0.45" fill="#e4a074"/>
<circle cx="383.3" cy="307.1" r="0.4" fill="#f2c8a8"/>
<circle cx="385.3" cy="305.0" r="0.4" fill="#f2c8a8"/>
<circle cx="385.1" cy="282.3" r="0.4" fill="#f2c8a8"/>
<circle cx="385.6" cy="282.9" r="0.45" fill="#e4a074"/>
<circle cx="373.2" cy="319.1" r="0.4" fill="#f2c8a8"/>
<circle cx="398.7" cy="307.0" r="0.4" fill="#f2c8a8"/>
<circle cx="394.8" cy="291.8" r="0.4" fill="#f2c8a8"/>
<circle cx="393.1" cy="310.5" r="0.4" fill="#f2c8a8"/>
<circle cx="370.4" cy="286.2" r="0.4" fill="#f2c8a8"/>
<circle cx="369.5" cy="302.5" r="0.6" fill="#d47c4e"/>
<circle cx="367.2" cy="288.3" r="0.45" fill="#e4a074"/>
<circle cx="397.4" cy="308.4" r="0.45" fill="#e4a074"/>
<circle cx="363.0" cy="299.5" r="0.4" fill="#f2c8a8"/>
<circle cx="379.6" cy="285.7" r="0.4" fill="#f2c8a8"/>
<circle cx="369.4" cy="300.1" r="0.4" fill="#f2c8a8"/>
<circle cx="359.7" cy="298.5" r="0.45" fill="#e4a074"/>
<circle cx="382.9" cy="315.5" r="0.45" fill="#e4a074"/>
<circle cx="366.6" cy="294.2" r="0.45" fill="#e4a074"/>
<circle cx="371.6" cy="282.8" r="0.45" fill="#e4a074"/>
<circle cx="382.8" cy="284.1" r="0.4" fill="#f2c8a8"/>
<circle cx="378.4" cy="312.8" r="0.4" fill="#f2c8a8"/>
<circle cx="367.7" cy="301.7" r="0.6" fill="#d47c4e"/>
<circle cx="377.8" cy="288.3" r="0.45" fill="#e4a074"/>
<circle cx="386.6" cy="297.2" r="0.45" fill="#e4a074"/>
<circle cx="391.5" cy="297.8" r="0.6" fill="#d47c4e"/>
<circle cx="383.0" cy="289.8" r="0.4" fill="#f2c8a8"/>
<circle cx="383.8" cy="288.4" r="0.4" fill="#f2c8a8"/>
<circle cx="361.6" cy="305.1" r="0.6" fill="#d47c4e"/>
<circle cx="395.0" cy="291.8" r="0.4" fill="#f2c8a8"/>
<circle cx="377.9" cy="302.3" r="0.4" fill="#f2c8a8"/>
<circle cx="374.4" cy="308.5" r="0.4" fill="#f2c8a8"/>
<circle cx="390.6" cy="313.6" r="0.4" fill="#f2c8a8"/>
<circle cx="379.4" cy="318.4" r="0.4" fill="#f2c8a8"/>
<circle cx="398.1" cy="303.9" r="0.45" fill="#e4a074"/>
<circle cx="387.3" cy="293.2" r="0.4" fill="#f2c8a8"/>
<circle cx="376.4" cy="293.5" r="0.6" fill="#d47c4e"/>
<circle cx="370.2" cy="288.3" r="0.4" fill="#f2c8a8"/>
<circle cx="376.3" cy="314.4" r="0.6" fill="#d47c4e"/>
<circle cx="389.0" cy="313.8" r="0.4" fill="#f2c8a8"/>
<circle cx="397.0" cy="297.8" r="0.45" fill="#e4a074"/>
<circle cx="379.1" cy="292.1" r="0.4" fill="#f2c8a8"/>
<circle cx="394.2" cy="304.9" r="0.4" fill="#f2c8a8"/>
<circle cx="382.4" cy="309.2" r="0.6" fill="#d47c4e"/>
<circle cx="381.9" cy="290.2" r="0.6" fill="#d47c4e"/>
<circle cx="383.3" cy="307.7" r="0.4" fill="#f2c8a8"/>
<circle cx="381.4" cy="294.9" r="0.45" fill="#e4a074"/>
<circle cx="361.0" cy="295.9" r="0.4" fill="#f2c8a8"/>
<circle cx="385.5" cy="302.8" r="0.45" fill="#e4a074"/>
<circle cx="360.8" cy="300.2" r="0.4" fill="#f2c8a8"/>
<circle cx="377.3" cy="310.5" r="0.45" fill="#e4a074"/>
<circle cx="376.7" cy="293.1" r="0.45" fill="#e4a074"/>
<circle cx="393.0" cy="304.5" r="0.4" fill="#f2c8a8"/>
<circle cx="380.7" cy="283.3" r="0.45" fill="#e4a074"/>
<circle cx="380.5" cy="305.2" r="0.45" fill="#e4a074"/>
<circle cx="378.4" cy="299.1" r="0.45" fill="#e4a074"/>
<circle cx="389.2" cy="293.5" r="0.45" fill="#e4a074"/>
<circle cx="367.3" cy="284.6" r="0.45" fill="#e4a074"/>
<circle cx="360.8" cy="299.2" r="0.4" fill="#f2c8a8"/>
<circle cx="394.3" cy="304.2" r="0.4" fill="#f2c8a8"/>
<circle cx="372.4" cy="312.4" r="0.4" fill="#f2c8a8"/>
<circle cx="372.2" cy="317.8" r="0.6" fill="#d47c4e"/>
<circle cx="360.5" cy="306.3" r="0.4" fill="#f2c8a8"/>
<circle cx="361.1" cy="299.3" r="0.45" fill="#e4a074"/>
<circle cx="372.6" cy="306.7" r="0.6" fill="#d47c4e"/>
<circle cx="366.0" cy="290.3" r="0.4" fill="#f2c8a8"/>
<circle cx="391.1" cy="311.4" r="0.4" fill="#f2c8a8"/>
<circle cx="392.3" cy="290.2" r="0.45" fill="#e4a074"/>
<circle cx="362.6" cy="293.3" r="0.4" fill="#f2c8a8"/>
<circle cx="395.1" cy="300.7" r="0.45" fill="#e4a074"/>
<circle cx="381.4" cy="306.9" r="0.45" fill="#e4a074"/>
<circle cx="376.6" cy="284.1" r="0.4" fill="#f2c8a8"/>
<circle cx="360.8" cy="302.6" r="0.45" fill="#e4a074"/>
<circle cx="384.4" cy="297.7" r="0.45" fill="#e4a074"/>
<circle cx="395.6" cy="302.4" r="0.45" fill="#e4a074"/>
<circle cx="391.2" cy="307.2" r="0.45" fill="#e4a074"/>
<circle cx="383.0" cy="296.7" r="0.45" fill="#e4a074"/>
<circle cx="381.1" cy="294.2" r="0.6" fill="#d47c4e"/>
<circle cx="390.5" cy="296.4" r="0.4" fill="#f2c8a8"/>
<circle cx="385.1" cy="308.8" r="0.4" fill="#f2c8a8"/>
<circle cx="373.7" cy="281.5" r="0.45" fill="#e4a074"/>
<circle cx="392.2" cy="297.1" r="0.45" fill="#e4a074"/>
<circle cx="392.7" cy="301.1" r="0.4" fill="#f2c8a8"/>
<circle cx="391.8" cy="315.0" r="0.4" fill="#f2c8a8"/>
<circle cx="374.4" cy="315.5" r="0.45" fill="#e4a074"/>
<circle cx="386.0" cy="302.4" r="0.45" fill="#e4a074"/>
<circle cx="373.8" cy="304.6" r="0.4" fill="#f2c8a8"/>
<circle cx="364.5" cy="316.1" r="0.4" fill="#f2c8a8"/>
<circle cx="381.5" cy="306.2" r="0.45" fill="#e4a074"/>
<circle cx="397.1" cy="296.5" r="0.4" fill="#f2c8a8"/>
<circle cx="366.9" cy="298.0" r="0.6" fill="#d47c4e"/>
<circle cx="374.7" cy="285.3" r="0.4" fill="#f2c8a8"/>
<circle cx="365.1" cy="307.0" r="0.4" fill="#f2c8a8"/>
<circle cx="373.3" cy="298.6" r="0.4" fill="#f2c8a8"/>
<circle cx="392.3" cy="300.0" r="0.45" fill="#e4a074"/>
<circle cx="379.5" cy="282.1" r="0.45" fill="#e4a074"/>
<circle cx="366.1" cy="313.1" r="0.4" fill="#f2c8a8"/>
<circle cx="377.1" cy="299.3" r="0.4" fill="#f2c8a8"/>
<circle cx="384.8" cy="312.2" r="0.45" fill="#e4a074"/>
<circle cx="398.6" cy="303.6" r="0.4" fill="#f2c8a8"/>
<circle cx="398.6" cy="294.8" r="0.45" fill="#e4a074"/>
<circle cx="390.1" cy="283.9" r="0.4" fill="#f2c8a8"/>
<circle cx="381.5" cy="298.0" r="0.45" fill="#e4a074"/>
<circle cx="368.0" cy="286.2" r="0.4" fill="#f2c8a8"/>
<circle cx="392.3" cy="308.6" r="0.45" fill="#e4a074"/>
<circle cx="375.7" cy="292.8" r="0.45" fill="#e4a074"/>
<circle cx="389.5" cy="299.0" r="0.45" fill="#e4a074"/>
<circle cx="395.8" cy="296.8" r="0.4" fill="#f2c8a8"/>
<circle cx="366.6" cy="308.1" r="0.4" fill="#f2c8a8"/>
<circle cx="389.0" cy="306.1" r="0.4" fill="#f2c8a8"/>
<circle cx="389.3" cy="293.6" r="0.6" fill="#d47c4e"/>
<circle cx="360.7" cy="293.4" r="0.6" fill="#d47c4e"/>
<circle cx="375.7" cy="287.4" r="0.4" fill="#f2c8a8"/>
<circle cx="368.3" cy="296.4" r="0.45" fill="#e4a074"/>
<circle cx="395.3" cy="305.5" r="0.4" fill="#f2c8a8"/>
<circle cx="365.5" cy="308.5" r="0.6" fill="#d47c4e"/>
<circle cx="391.6" cy="300.5" r="0.6" fill="#d47c4e"/>
<circle cx="393.7" cy="296.9" r="0.45" fill="#e4a074"/>
<circle cx="385.1" cy="318.7" r="0.4" fill="#f2c8a8"/>
<circle cx="380.6" cy="280.9" r="0.45" fill="#e4a074"/>
<circle cx="373.8" cy="286.4" r="0.4" fill="#f2c8a8"/>
<circle cx="374.0" cy="302.4" r="0.4" fill="#f2c8a8"/>
<circle cx="392.0" cy="299.5" r="0.4" fill="#f2c8a8"/>
<circle cx="374.4" cy="303.1" r="0.45" fill="#e4a074"/>
<circle cx="380.4" cy="310.8" r="0.45" fill="#e4a074"/>
<circle cx="381.3" cy="299.9" r="0.45" fill="#e4a074"/>
<circle cx="366.3" cy="293.8" r="0.4" fill="#f2c8a8"/>
<circle cx="391.5" cy="301.9" r="0.45" fill="#e4a074"/>
<circle cx="368.4" cy="319.0" r="0.4" fill="#f2c8a8"/>
<circle cx="389.8" cy="285.5" r="0.45" fill="#e4a074"/>
<circle cx="364.3" cy="301.8" r="0.45" fill="#e4a074"/>
<circle cx="386.5" cy="307.8" r="0.4" fill="#f2c8a8"/>
<circle cx="365.0" cy="301.8" r="0.6" fill="#d47c4e"/>
<circle cx="391.2" cy="295.4" r="0.4" fill="#f2c8a8"/>
<circle cx="393.5" cy="312.2" r="0.45" fill="#e4a074"/>
<circle cx="388.8" cy="318.1" r="0.4" fill="#f2c8a8"/>
<circle cx="384.2" cy="314.6" r="0.6" fill="#d47c4e"/>
<circle cx="386.1" cy="309.3" r="0.45" fill="#e4a074"/>
<circle cx="368.7" cy="318.4" r="0.4" fill="#f2c8a8"/>
<circle cx="380.0" cy="312.7" r="0.45" fill="#e4a074"/>
<circle cx="392.9" cy="311.4" r="0.6" fill="#d47c4e"/>
<circle cx="397.7" cy="298.0" r="0.4" fill="#f2c8a8"/>
<circle cx="369.3" cy="302.1" r="0.4" fill="#f2c8a8"/>
<circle cx="379.9" cy="319.0" r="0.45" fill="#e4a074"/>
<circle cx="386.8" cy="309.3" r="0.4" fill="#f2c8a8"/>
<circle cx="395.4" cy="292.9" r="0.4" fill="#f2c8a8"/>
<circle cx="399.3" cy="296.0" r="0.4" fill="#f2c8a8"/>
<circle cx="378.9" cy="310.2" r="0.45" fill="#e4a074"/>
<circle cx="366.6" cy="292.6" r="0.45" fill="#e4a074"/>
<circle cx="367.5" cy="298.9" r="0.45" fill="#e4a074"/>
<circle cx="383.6" cy="299.6" r="0.4" fill="#f2c8a8"/>
<circle cx="390.7" cy="315.0" r="0.4" fill="#f2c8a8"/>
<circle cx="388.2" cy="286.5" r="0.6" fill="#d47c4e"/>
<circle cx="364.9" cy="293.3" r="0.6" fill="#d47c4e"/>
<circle cx="383.1" cy="289.5" r="0.4" fill="#f2c8a8"/>
<circle cx="383.8" cy="298.5" r="0.6" fill="#d47c4e"/>
<circle cx="394.7" cy="294.1" r="0.6" fill="#d47c4e"/>
<circle cx="364.9" cy="289.7" r="0.45" fill="#e4a074"/>
<circle cx="380.1" cy="306.9" r="0.45" fill="#e4a074"/>
<circle cx="372.0" cy="303.3" r="0.45" fill="#e4a074"/>
<circle cx="378.1" cy="311.8" r="0.6" fill="#d47c4e"/>
<circle cx="365.7" cy="288.8" r="0.45" fill="#e4a074"/>
<circle cx="366.1" cy="306.5" r="0.4" fill="#f2c8a8"/>
<circle cx="367.5" cy="315.5" r="0.6" fill="#d47c4e"/>
<circle cx="373.8" cy="318.0" r="0.4" fill="#f2c8a8"/>
<circle cx="396.5" cy="301.9" r="0.45" fill="#e4a074"/>
<circle cx="369.0" cy="319.4" r="0.45" fill="#e4a074"/>
<circle cx="371.2" cy="317.6" r="0.45" fill="#e4a074"/>
<circle cx="391.9" cy="316.5" r="0.4" fill="#f2c8a8"/>
<circle cx="377.1" cy="313.8" r="0.45" fill="#e4a074"/>
<circle cx="367.9" cy="299.1" r="0.4" fill="#f2c8a8"/>
<circle cx="367.0" cy="288.0" r="0.45" fill="#e4a074"/>
<circle cx="363.6" cy="312.8" r="0.4" fill="#f2c8a8"/>
<circle cx="381.1" cy="303.1" r="0.45" fill="#e4a074"/>
<circle cx="369.2" cy="299.6" r="0.45" fill="#e4a074"/>
<circle cx="383.1" cy="301.1" r="0.6" fill="#d47c4e"/>
<circle cx="383.3" cy="297.4" r="0.45" fill="#e4a074"/>
<circle cx="363.7" cy="300.3" r="0.45" fill="#e4a074"/>
<circle cx="366.2" cy="285.3" r="0.45" fill="#e4a074"/>
<circle cx="385.3" cy="297.4" r="0.45" fill="#e4a074"/>
<circle cx="370.6" cy="319.3" r="0.45" fill="#e4a074"/>
<circle cx="396.9" cy="297.2" r="0.4" fill="#f2c8a8"/>
<circle cx="360.7" cy="298.3" r="0.4" fill="#f2c8a8"/>
<circle cx="363.7" cy="297.2" r="0.45" fill="#e4a074"/>
<circle cx="370.2" cy="314.7" r="0.45" fill="#e4a074"/>
<circle cx="366.3" cy="312.8" r="0.6" fill="#d47c4e"/>
<circle cx="368.7" cy="312.2" r="0.4" fill="#f2c8a8"/>
<circle cx="384.9" cy="291.8" r="0.4" fill="#f2c8a8"/>
<circle cx="365.9" cy="311.7" r="0.4" fill="#f2c8a8"/>
<circle cx="393.9" cy="299.0" r="0.45" fill="#e4a074"/>
<circle cx="376.1" cy="302.9" r="0.4" fill="#f2c8a8"/>
<circle cx="373.4" cy="298.3" r="0.6" fill="#d47c4e"/>
<circle cx="366.9" cy="293.6" r="0.4" fill="#f2c8a8"/>
<circle cx="379.4" cy="313.2" r="0.45" fill="#e4a074"/>
<circle cx="385.8" cy="314.0" r="0.4" fill="#f2c8a8"/>
<circle cx="363.1" cy="294.2" r="0.45" fill="#e4a074"/>
<circle cx="379.1" cy="284.5" r="0.4" fill="#f2c8a8"/>
<circle cx="371.0" cy="288.9" r="0.45" fill="#e4a074"/>
<circle cx="390.6" cy="296.3" r="0.45" fill="#e4a074"/>
<circle cx="381.2" cy="317.8" r="0.4" fill="#f2c8a8"/>
<circle cx="385.5" cy="288.5" r="0.4" fill="#f2c8a8"/>
<circle cx="366.3" cy="301.2" r="0.4" fill="#f2c8a8"/>
<circle cx="373.2" cy="285.5" r="0.4" fill="#f2c8a8"/>
<circle cx="376.5" cy="321.2" r="0.4" fill="#f2c8a8"/>
<circle cx="374.8" cy="316.4" r="0.4" fill="#f2c8a8"/>
<circle cx="398.8" cy="294.3" r="0.4" fill="#f2c8a8"/>
<circle cx="380.5" cy="309.6" r="0.4" fill="#f2c8a8"/>
<circle cx="375.5" cy="317.9" r="0.6" fill="#d47c4e"/>
<circle cx="382.2" cy="302.5" r="0.4" fill="#f2c8a8"/>
<circle cx="376.3" cy="308.2" r="0.4" fill="#f2c8a8"/>
<circle cx="367.4" cy="314.6" r="0.6" fill="#d47c4e"/>
<circle cx="392.6" cy="299.1" r="0.45" fill="#e4a074"/>
<circle cx="390.2" cy="313.2" r="0.6" fill="#d47c4e"/>
<circle cx="385.0" cy="295.9" r="0.4" fill="#f2c8a8"/>
<circle cx="393.4" cy="290.9" r="0.45" fill="#e4a074"/>
<circle cx="394.2" cy="307.8" r="0.4" fill="#f2c8a8"/>
<circle cx="377.5" cy="282.4" r="0.4" fill="#f2c8a8"/>
<circle cx="397.1" cy="301.4" r="0.6" fill="#d47c4e"/>
<circle cx="369.9" cy="292.3" r="0.4" fill="#f2c8a8"/>
<circle cx="386.9" cy="281.9" r="0.4" fill="#f2c8a8"/>
<circle cx="382.9" cy="321.7" r="0.4" fill="#f2c8a8"/>
<circle cx="368.2" cy="305.2" r="0.45" fill="#e4a074"/>
<circle cx="393.4" cy="299.5" r="0.45" fill="#e4a074"/>
<circle cx="368.0" cy="309.0" r="0.45" fill="#e4a074"/>
<circle cx="397.0" cy="297.7" r="0.45" fill="#e4a074"/>
<circle cx="388.5" cy="283.2" r="0.6" fill="#d47c4e"/>
<circle cx="366.3" cy="298.5" r="0.4" fill="#f2c8a8"/>
<circle cx="366.8" cy="298.9" r="0.4" fill="#f2c8a8"/>
<circle cx="390.7" cy="300.5" r="0.6" fill="#d47c4e"/>
<circle cx="391.6" cy="302.3" r="0.45" fill="#e4a074"/>
<circle cx="371.1" cy="285.8" r="0.4" fill="#f2c8a8"/>
<circle cx="395.2" cy="311.4" r="0.45" fill="#e4a074"/>
<circle cx="363.5" cy="303.2" r="0.45" fill="#e4a074"/>
<circle cx="364.6" cy="301.6" r="0.4" fill="#f2c8a8"/>
<circle cx="377.5" cy="283.1" r="0.4" fill="#f2c8a8"/>
<circle cx="381.2" cy="288.4" r="0.45" fill="#e4a074"/>
<circle cx="364.8" cy="314.9" r="0.6" fill="#d47c4e"/>
<circle cx="381.3" cy="288.3" r="0.4" fill="#f2c8a8"/>
<circle cx="364.2" cy="307.7" r="0.4" fill="#f2c8a8"/>
<circle cx="359.7" cy="295.4" r="0.4" fill="#f2c8a8"/>
<circle cx="391.4" cy="291.0" r="0.6" fill="#d47c4e"/>
<circle cx="376.1" cy="283.5" r="0.45" fill="#e4a074"/>
<circle cx="372.8" cy="304.5" r="0.45" fill="#e4a074"/>
<circle cx="391.9" cy="288.6" r="0.4" fill="#f2c8a8"/>
<circle cx="364.0" cy="301.1" r="0.4" fill="#f2c8a8"/>
<circle cx="364.9" cy="302.0" r="0.6" fill="#d47c4e"/>
<circle cx="364.6" cy="286.2" r="0.6" fill="#d47c4e"/>
<circle cx="387.2" cy="317.6" r="0.4" fill="#f2c8a8"/>
<circle cx="366.2" cy="292.0" r="0.45" fill="#e4a074"/>
<circle cx="373.7" cy="317.5" r="0.4" fill="#f2c8a8"/>
<circle cx="382.1" cy="286.6" r="0.45" fill="#e4a074"/>
<circle cx="390.2" cy="300.8" r="0.4" fill="#f2c8a8"/>
<circle cx="391.2" cy="291.8" r="0.45" fill="#e4a074"/>
<circle cx="388.7" cy="283.7" r="0.4" fill="#f2c8a8"/>
<circle cx="392.2" cy="300.0" r="0.45" fill="#e4a074"/>
<rect x="356.50" y="279.30" width="44.60" height="44.10" fill="none" stroke="#6a6a6a" stroke-width="0.9" />
<rect x="402.60" y="279.30" width="44.60" height="44.10" fill="#fff" />
<circle cx="431.4" cy="290.0" r="0.4" fill="#f2c8a8"/>
<circle cx="417.0" cy="310.2" r="0.4" fill="#f2c8a8"/>
<circle cx="428.2" cy="296.8" r="0.6" fill="#d47c4e"/>
<circle cx="429.2" cy="285.9" r="0.45" fill="#e4a074"/>
<circle cx="419.6" cy="318.5" r="0.6" fill="#d47c4e"/>
<circle cx="414.3" cy="311.1" r="0.4" fill="#f2c8a8"/>
<circle cx="425.1" cy="320.4" r="0.45" fill="#e4a074"/>
<circle cx="409.3" cy="306.5" r="0.4" fill="#f2c8a8"/>
<circle cx="437.7" cy="301.3" r="0.45" fill="#e4a074"/>
<circle cx="431.4" cy="315.2" r="0.4" fill="#f2c8a8"/>
<circle cx="423.8" cy="319.1" r="0.4" fill="#f2c8a8"/>
<circle cx="424.3" cy="282.9" r="0.4" fill="#f2c8a8"/>
<circle cx="444.1" cy="304.9" r="0.45" fill="#e4a074"/>
<circle cx="410.0" cy="292.7" r="0.45" fill="#e4a074"/>
<circle cx="426.8" cy="300.0" r="0.6" fill="#d47c4e"/>
<circle cx="415.2" cy="292.1" r="0.6" fill="#d47c4e"/>
<circle cx="438.0" cy="291.1" r="0.4" fill="#f2c8a8"/>
<circle cx="415.6" cy="291.6" r="0.45" fill="#e4a074"/>
<circle cx="428.9" cy="294.4" r="0.45" fill="#e4a074"/>
<circle cx="421.3" cy="310.8" r="0.4" fill="#f2c8a8"/>
<circle cx="433.7" cy="307.8" r="0.45" fill="#e4a074"/>
<circle cx="433.3" cy="297.8" r="0.4" fill="#f2c8a8"/>
<circle cx="413.5" cy="313.1" r="0.4" fill="#f2c8a8"/>
<circle cx="421.3" cy="293.9" r="0.4" fill="#f2c8a8"/>
<circle cx="409.5" cy="292.5" r="0.4" fill="#f2c8a8"/>
<circle cx="441.6" cy="306.2" r="0.4" fill="#f2c8a8"/>
<circle cx="440.8" cy="293.2" r="0.4" fill="#f2c8a8"/>
<circle cx="421.0" cy="303.7" r="0.4" fill="#f2c8a8"/>
<circle cx="413.5" cy="316.8" r="0.6" fill="#d47c4e"/>
<circle cx="425.5" cy="284.3" r="0.45" fill="#e4a074"/>
<circle cx="408.2" cy="299.9" r="0.4" fill="#f2c8a8"/>
<circle cx="409.8" cy="312.6" r="0.4" fill="#f2c8a8"/>
<circle cx="410.8" cy="310.7" r="0.6" fill="#d47c4e"/>
<circle cx="417.5" cy="312.5" r="0.4" fill="#f2c8a8"/>
<circle cx="428.3" cy="313.2" r="0.45" fill="#e4a074"/>
<circle cx="430.7" cy="314.5" r="0.4" fill="#f2c8a8"/>
<circle cx="408.9" cy="292.3" r="0.4" fill="#f2c8a8"/>
<circle cx="416.1" cy="301.8" r="0.45" fill="#e4a074"/>
<circle cx="420.9" cy="292.2" r="0.4" fill="#f2c8a8"/>
<circle cx="421.3" cy="312.4" r="0.6" fill="#d47c4e"/>
<circle cx="438.3" cy="287.8" r="0.4" fill="#f2c8a8"/>
<circle cx="416.1" cy="303.6" r="0.4" fill="#f2c8a8"/>
<circle cx="431.2" cy="299.1" r="0.4" fill="#f2c8a8"/>
<circle cx="431.7" cy="319.2" r="0.4" fill="#f2c8a8"/>
<circle cx="420.4" cy="301.4" r="0.45" fill="#e4a074"/>
<circle cx="406.5" cy="299.4" r="0.45" fill="#e4a074"/>
<circle cx="424.8" cy="290.3" r="0.4" fill="#f2c8a8"/>
<circle cx="421.4" cy="298.4" r="0.6" fill="#d47c4e"/>
<circle cx="422.5" cy="286.5" r="0.4" fill="#f2c8a8"/>
<circle cx="439.0" cy="308.4" r="0.45" fill="#e4a074"/>
<circle cx="430.1" cy="305.5" r="0.45" fill="#e4a074"/>
<circle cx="406.8" cy="304.6" r="0.4" fill="#f2c8a8"/>
<circle cx="444.7" cy="298.9" r="0.4" fill="#f2c8a8"/>
<circle cx="409.5" cy="297.4" r="0.4" fill="#f2c8a8"/>
<circle cx="432.5" cy="285.0" r="0.45" fill="#e4a074"/>
<circle cx="424.9" cy="316.0" r="0.45" fill="#e4a074"/>
<circle cx="422.9" cy="299.7" r="0.45" fill="#e4a074"/>
<circle cx="417.3" cy="303.7" r="0.45" fill="#e4a074"/>
<circle cx="408.3" cy="294.8" r="0.45" fill="#e4a074"/>
<circle cx="410.8" cy="287.1" r="0.4" fill="#f2c8a8"/>
<circle cx="421.0" cy="308.4" r="0.45" fill="#e4a074"/>
<circle cx="425.9" cy="304.5" r="0.4" fill="#f2c8a8"/>
<circle cx="432.3" cy="314.8" r="0.4" fill="#f2c8a8"/>
<circle cx="422.9" cy="301.6" r="0.45" fill="#e4a074"/>
<circle cx="425.1" cy="307.4" r="0.4" fill="#f2c8a8"/>
<circle cx="433.0" cy="311.9" r="0.4" fill="#f2c8a8"/>
<circle cx="416.9" cy="303.0" r="0.45" fill="#e4a074"/>
<circle cx="433.7" cy="292.6" r="0.4" fill="#f2c8a8"/>
<circle cx="431.1" cy="299.7" r="0.45" fill="#e4a074"/>
<circle cx="425.8" cy="286.5" r="0.6" fill="#d47c4e"/>
<circle cx="435.9" cy="315.3" r="0.6" fill="#d47c4e"/>
<circle cx="440.6" cy="289.4" r="0.4" fill="#f2c8a8"/>
<circle cx="405.9" cy="299.6" r="0.4" fill="#f2c8a8"/>
<circle cx="425.1" cy="304.8" r="0.4" fill="#f2c8a8"/>
<circle cx="438.0" cy="316.7" r="0.4" fill="#f2c8a8"/>
<circle cx="412.8" cy="317.6" r="0.45" fill="#e4a074"/>
<circle cx="419.0" cy="303.8" r="0.4" fill="#f2c8a8"/>
<circle cx="420.0" cy="320.8" r="0.4" fill="#f2c8a8"/>
<circle cx="436.0" cy="299.2" r="0.4" fill="#f2c8a8"/>
<circle cx="429.8" cy="297.6" r="0.45" fill="#e4a074"/>
<circle cx="416.0" cy="294.7" r="0.45" fill="#e4a074"/>
<circle cx="406.4" cy="310.0" r="0.45" fill="#e4a074"/>
<circle cx="444.2" cy="294.0" r="0.4" fill="#f2c8a8"/>
<circle cx="418.7" cy="284.3" r="0.45" fill="#e4a074"/>
<circle cx="442.4" cy="303.6" r="0.45" fill="#e4a074"/>
<circle cx="427.4" cy="307.1" r="0.4" fill="#f2c8a8"/>
<circle cx="418.6" cy="299.2" r="0.45" fill="#e4a074"/>
<circle cx="407.1" cy="311.7" r="0.45" fill="#e4a074"/>
<circle cx="417.1" cy="305.0" r="0.4" fill="#f2c8a8"/>
<circle cx="410.0" cy="288.9" r="0.6" fill="#d47c4e"/>
<circle cx="423.7" cy="303.9" r="0.45" fill="#e4a074"/>
<circle cx="418.7" cy="285.4" r="0.45" fill="#e4a074"/>
<circle cx="431.5" cy="285.7" r="0.45" fill="#e4a074"/>
<circle cx="439.6" cy="315.5" r="0.45" fill="#e4a074"/>
<circle cx="432.3" cy="305.9" r="0.45" fill="#e4a074"/>
<circle cx="418.2" cy="320.1" r="0.4" fill="#f2c8a8"/>
<circle cx="410.4" cy="302.4" r="0.6" fill="#d47c4e"/>
<circle cx="418.6" cy="319.8" r="0.45" fill="#e4a074"/>
<circle cx="406.7" cy="292.5" r="0.6" fill="#d47c4e"/>
<circle cx="425.1" cy="285.5" r="0.4" fill="#f2c8a8"/>
<circle cx="428.3" cy="317.7" r="0.4" fill="#f2c8a8"/>
<circle cx="417.5" cy="291.4" r="0.4" fill="#f2c8a8"/>
<circle cx="433.7" cy="283.8" r="0.45" fill="#e4a074"/>
<circle cx="410.7" cy="306.1" r="0.6" fill="#d47c4e"/>
<circle cx="439.8" cy="293.7" r="0.4" fill="#f2c8a8"/>
<circle cx="428.9" cy="298.5" r="0.4" fill="#f2c8a8"/>
<circle cx="420.2" cy="293.2" r="0.45" fill="#e4a074"/>
<circle cx="421.9" cy="293.2" r="0.6" fill="#d47c4e"/>
<circle cx="442.2" cy="300.9" r="0.6" fill="#d47c4e"/>
<circle cx="429.8" cy="287.3" r="0.45" fill="#e4a074"/>
<circle cx="441.4" cy="294.4" r="0.4" fill="#f2c8a8"/>
<circle cx="412.9" cy="313.7" r="0.4" fill="#f2c8a8"/>
<circle cx="432.3" cy="313.3" r="0.4" fill="#f2c8a8"/>
<circle cx="418.7" cy="302.1" r="0.45" fill="#e4a074"/>
<circle cx="429.9" cy="320.8" r="0.4" fill="#f2c8a8"/>
<circle cx="413.8" cy="288.7" r="0.4" fill="#f2c8a8"/>
<circle cx="414.3" cy="289.9" r="0.45" fill="#e4a074"/>
<circle cx="431.0" cy="314.4" r="0.45" fill="#e4a074"/>
<circle cx="417.6" cy="294.0" r="0.4" fill="#f2c8a8"/>
<circle cx="428.7" cy="297.7" r="0.4" fill="#f2c8a8"/>
<circle cx="411.5" cy="299.9" r="0.4" fill="#f2c8a8"/>
<circle cx="440.3" cy="313.0" r="0.4" fill="#f2c8a8"/>
<circle cx="421.5" cy="314.7" r="0.4" fill="#f2c8a8"/>
<circle cx="441.9" cy="310.4" r="0.45" fill="#e4a074"/>
<circle cx="429.1" cy="312.2" r="0.4" fill="#f2c8a8"/>
<circle cx="418.9" cy="314.9" r="0.45" fill="#e4a074"/>
<circle cx="405.9" cy="300.3" r="0.6" fill="#d47c4e"/>
<circle cx="421.2" cy="299.3" r="0.4" fill="#f2c8a8"/>
<circle cx="421.7" cy="294.3" r="0.6" fill="#d47c4e"/>
<circle cx="429.9" cy="302.7" r="0.6" fill="#d47c4e"/>
<circle cx="412.2" cy="309.7" r="0.45" fill="#e4a074"/>
<circle cx="434.1" cy="309.3" r="0.4" fill="#f2c8a8"/>
<circle cx="423.8" cy="282.5" r="0.45" fill="#e4a074"/>
<circle cx="431.2" cy="314.0" r="0.6" fill="#d47c4e"/>
<circle cx="430.9" cy="312.1" r="0.45" fill="#e4a074"/>
<circle cx="428.5" cy="300.9" r="0.45" fill="#e4a074"/>
<circle cx="410.4" cy="304.7" r="0.45" fill="#e4a074"/>
<circle cx="438.6" cy="310.3" r="0.4" fill="#f2c8a8"/>
<circle cx="425.8" cy="283.3" r="0.4" fill="#f2c8a8"/>
<circle cx="435.8" cy="316.0" r="0.45" fill="#e4a074"/>
<circle cx="408.5" cy="294.0" r="0.6" fill="#d47c4e"/>
<circle cx="425.8" cy="318.5" r="0.45" fill="#e4a074"/>
<circle cx="423.2" cy="320.9" r="0.4" fill="#f2c8a8"/>
<circle cx="440.6" cy="296.7" r="0.6" fill="#d47c4e"/>
<circle cx="439.1" cy="288.7" r="0.4" fill="#f2c8a8"/>
<circle cx="409.7" cy="305.2" r="0.45" fill="#e4a074"/>
<circle cx="408.0" cy="311.0" r="0.4" fill="#f2c8a8"/>
<circle cx="417.3" cy="300.0" r="0.4" fill="#f2c8a8"/>
<circle cx="424.0" cy="305.5" r="0.45" fill="#e4a074"/>
<circle cx="415.6" cy="292.0" r="0.45" fill="#e4a074"/>
<circle cx="408.6" cy="296.1" r="0.4" fill="#f2c8a8"/>
<circle cx="423.7" cy="303.7" r="0.4" fill="#f2c8a8"/>
<circle cx="429.7" cy="294.8" r="0.45" fill="#e4a074"/>
<circle cx="412.8" cy="313.0" r="0.6" fill="#d47c4e"/>
<circle cx="435.1" cy="282.9" r="0.6" fill="#d47c4e"/>
<circle cx="408.4" cy="313.5" r="0.45" fill="#e4a074"/>
<circle cx="423.1" cy="312.9" r="0.45" fill="#e4a074"/>
<circle cx="428.9" cy="295.6" r="0.6" fill="#d47c4e"/>
<circle cx="417.4" cy="286.9" r="0.4" fill="#f2c8a8"/>
<circle cx="415.4" cy="310.1" r="0.45" fill="#e4a074"/>
<circle cx="408.6" cy="307.3" r="0.6" fill="#d47c4e"/>
<circle cx="427.7" cy="302.5" r="0.6" fill="#d47c4e"/>
<circle cx="431.8" cy="318.8" r="0.4" fill="#f2c8a8"/>
<circle cx="425.6" cy="303.3" r="0.4" fill="#f2c8a8"/>
<circle cx="421.2" cy="298.2" r="0.4" fill="#f2c8a8"/>
<circle cx="420.6" cy="320.2" r="0.45" fill="#e4a074"/>
<circle cx="424.7" cy="314.4" r="0.4" fill="#f2c8a8"/>
<circle cx="422.3" cy="290.2" r="0.4" fill="#f2c8a8"/>
<circle cx="415.0" cy="300.8" r="0.4" fill="#f2c8a8"/>
<circle cx="425.0" cy="286.1" r="0.4" fill="#f2c8a8"/>
<circle cx="416.0" cy="313.9" r="0.4" fill="#f2c8a8"/>
<circle cx="413.2" cy="311.2" r="0.4" fill="#f2c8a8"/>
<circle cx="433.2" cy="319.0" r="0.4" fill="#f2c8a8"/>
<circle cx="430.6" cy="297.5" r="0.45" fill="#e4a074"/>
<circle cx="412.3" cy="297.3" r="0.45" fill="#e4a074"/>
<circle cx="434.0" cy="293.1" r="0.4" fill="#f2c8a8"/>
<circle cx="431.3" cy="319.8" r="0.45" fill="#e4a074"/>
<circle cx="425.5" cy="287.9" r="0.4" fill="#f2c8a8"/>
<circle cx="419.4" cy="286.3" r="0.6" fill="#d47c4e"/>
<circle cx="431.7" cy="311.5" r="0.45" fill="#e4a074"/>
<circle cx="437.2" cy="293.1" r="0.45" fill="#e4a074"/>
<circle cx="438.2" cy="311.7" r="0.4" fill="#f2c8a8"/>
<circle cx="421.2" cy="290.3" r="0.4" fill="#f2c8a8"/>
<circle cx="423.1" cy="318.8" r="0.45" fill="#e4a074"/>
<circle cx="436.7" cy="294.0" r="0.4" fill="#f2c8a8"/>
<circle cx="429.0" cy="291.1" r="0.45" fill="#e4a074"/>
<circle cx="411.2" cy="302.0" r="0.4" fill="#f2c8a8"/>
<circle cx="427.8" cy="319.0" r="0.4" fill="#f2c8a8"/>
<circle cx="439.1" cy="288.3" r="0.45" fill="#e4a074"/>
<circle cx="426.2" cy="300.9" r="0.4" fill="#f2c8a8"/>
<circle cx="420.4" cy="300.0" r="0.6" fill="#d47c4e"/>
<circle cx="434.6" cy="314.0" r="0.4" fill="#f2c8a8"/>
<circle cx="414.6" cy="310.7" r="0.4" fill="#f2c8a8"/>
<circle cx="433.3" cy="316.1" r="0.45" fill="#e4a074"/>
<circle cx="443.3" cy="311.1" r="0.4" fill="#f2c8a8"/>
<circle cx="427.1" cy="312.0" r="0.4" fill="#f2c8a8"/>
<circle cx="405.3" cy="302.3" r="0.4" fill="#f2c8a8"/>
<circle cx="410.4" cy="293.6" r="0.4" fill="#f2c8a8"/>
<circle cx="416.6" cy="312.1" r="0.6" fill="#d47c4e"/>
<circle cx="427.6" cy="286.7" r="0.4" fill="#f2c8a8"/>
<circle cx="413.3" cy="315.8" r="0.4" fill="#f2c8a8"/>
<circle cx="412.2" cy="311.7" r="0.4" fill="#f2c8a8"/>
<circle cx="414.8" cy="287.1" r="0.4" fill="#f2c8a8"/>
<circle cx="408.3" cy="310.7" r="0.4" fill="#f2c8a8"/>
<circle cx="413.1" cy="298.7" r="0.45" fill="#e4a074"/>
<circle cx="415.7" cy="308.8" r="0.6" fill="#d47c4e"/>
<circle cx="417.8" cy="281.4" r="0.4" fill="#f2c8a8"/>
<circle cx="412.8" cy="303.7" r="0.6" fill="#d47c4e"/>
<circle cx="413.6" cy="313.9" r="0.4" fill="#f2c8a8"/>
<circle cx="414.7" cy="298.2" r="0.6" fill="#d47c4e"/>
<circle cx="411.5" cy="316.3" r="0.45" fill="#e4a074"/>
<circle cx="416.8" cy="314.2" r="0.6" fill="#d47c4e"/>
<circle cx="418.6" cy="283.2" r="0.45" fill="#e4a074"/>
<circle cx="419.4" cy="295.7" r="0.45" fill="#e4a074"/>
<circle cx="414.4" cy="288.0" r="0.4" fill="#f2c8a8"/>
<circle cx="426.4" cy="285.9" r="0.4" fill="#f2c8a8"/>
<circle cx="443.6" cy="300.1" r="0.45" fill="#e4a074"/>
<circle cx="434.6" cy="286.2" r="0.4" fill="#f2c8a8"/>
<circle cx="444.4" cy="295.5" r="0.45" fill="#e4a074"/>
<circle cx="411.6" cy="307.0" r="0.4" fill="#f2c8a8"/>
<circle cx="439.9" cy="288.8" r="0.45" fill="#e4a074"/>
<circle cx="406.8" cy="305.0" r="0.4" fill="#f2c8a8"/>
<circle cx="416.7" cy="307.2" r="0.45" fill="#e4a074"/>
<circle cx="415.2" cy="314.0" r="0.6" fill="#d47c4e"/>
<circle cx="419.2" cy="304.8" r="0.4" fill="#f2c8a8"/>
<circle cx="432.5" cy="288.7" r="0.4" fill="#f2c8a8"/>
<circle cx="431.8" cy="302.3" r="0.4" fill="#f2c8a8"/>
<circle cx="428.8" cy="298.3" r="0.4" fill="#f2c8a8"/>
<circle cx="409.5" cy="303.7" r="0.4" fill="#f2c8a8"/>
<circle cx="415.0" cy="287.7" r="0.6" fill="#d47c4e"/>
<circle cx="434.7" cy="307.4" r="0.4" fill="#f2c8a8"/>
<circle cx="422.8" cy="310.4" r="0.4" fill="#f2c8a8"/>
<circle cx="429.1" cy="290.7" r="0.45" fill="#e4a074"/>
<circle cx="432.5" cy="283.8" r="0.4" fill="#f2c8a8"/>
<circle cx="408.6" cy="291.0" r="0.45" fill="#e4a074"/>
<circle cx="414.3" cy="292.7" r="0.45" fill="#e4a074"/>
<circle cx="413.0" cy="298.4" r="0.4" fill="#f2c8a8"/>
<circle cx="416.3" cy="302.7" r="0.45" fill="#e4a074"/>
<circle cx="433.8" cy="286.4" r="0.4" fill="#f2c8a8"/>
<circle cx="410.0" cy="311.4" r="0.4" fill="#f2c8a8"/>
<circle cx="407.9" cy="300.5" r="0.45" fill="#e4a074"/>
<circle cx="423.9" cy="303.4" r="0.45" fill="#e4a074"/>
<circle cx="433.4" cy="315.1" r="0.45" fill="#e4a074"/>
<circle cx="424.0" cy="294.1" r="0.6" fill="#d47c4e"/>
<circle cx="424.9" cy="281.4" r="0.4" fill="#f2c8a8"/>
<circle cx="422.8" cy="288.4" r="0.45" fill="#e4a074"/>
<circle cx="420.9" cy="288.3" r="0.6" fill="#d47c4e"/>
<circle cx="411.9" cy="306.5" r="0.45" fill="#e4a074"/>
<circle cx="436.7" cy="317.2" r="0.4" fill="#f2c8a8"/>
<circle cx="431.3" cy="295.9" r="0.4" fill="#f2c8a8"/>
<circle cx="416.5" cy="295.5" r="0.4" fill="#f2c8a8"/>
<circle cx="430.7" cy="318.1" r="0.45" fill="#e4a074"/>
<circle cx="422.2" cy="294.0" r="0.4" fill="#f2c8a8"/>
<circle cx="420.0" cy="298.1" r="0.45" fill="#e4a074"/>
<circle cx="405.8" cy="295.1" r="0.45" fill="#e4a074"/>
<circle cx="414.5" cy="285.2" r="0.45" fill="#e4a074"/>
<circle cx="423.9" cy="306.1" r="0.45" fill="#e4a074"/>
<circle cx="416.8" cy="286.6" r="0.45" fill="#e4a074"/>
<circle cx="405.9" cy="306.7" r="0.4" fill="#f2c8a8"/>
<circle cx="438.3" cy="316.8" r="0.45" fill="#e4a074"/>
<circle cx="441.8" cy="288.4" r="0.4" fill="#f2c8a8"/>
<circle cx="433.5" cy="313.3" r="0.4" fill="#f2c8a8"/>
<circle cx="411.0" cy="313.1" r="0.4" fill="#f2c8a8"/>
<circle cx="434.7" cy="299.3" r="0.4" fill="#f2c8a8"/>
<circle cx="430.1" cy="292.1" r="0.45" fill="#e4a074"/>
<circle cx="423.2" cy="314.3" r="0.4" fill="#f2c8a8"/>
<circle cx="425.6" cy="320.1" r="0.6" fill="#d47c4e"/>
<circle cx="432.7" cy="297.2" r="0.4" fill="#f2c8a8"/>
<circle cx="408.4" cy="307.7" r="0.45" fill="#e4a074"/>
<circle cx="445.4" cy="295.9" r="0.45" fill="#e4a074"/>
<circle cx="424.3" cy="314.3" r="0.4" fill="#f2c8a8"/>
<circle cx="410.9" cy="312.3" r="0.4" fill="#f2c8a8"/>
<circle cx="431.3" cy="315.2" r="0.6" fill="#d47c4e"/>
<circle cx="421.0" cy="295.5" r="0.4" fill="#f2c8a8"/>
<circle cx="427.7" cy="319.8" r="0.4" fill="#f2c8a8"/>
<circle cx="406.8" cy="307.9" r="0.4" fill="#f2c8a8"/>
<circle cx="405.5" cy="307.6" r="0.4" fill="#f2c8a8"/>
<circle cx="408.8" cy="296.9" r="0.4" fill="#f2c8a8"/>
<circle cx="415.8" cy="291.2" r="0.45" fill="#e4a074"/>
<circle cx="408.4" cy="294.8" r="0.45" fill="#e4a074"/>
<circle cx="420.9" cy="288.7" r="0.4" fill="#f2c8a8"/>
<circle cx="417.4" cy="310.1" r="0.4" fill="#f2c8a8"/>
<circle cx="427.0" cy="285.9" r="0.4" fill="#f2c8a8"/>
<circle cx="423.7" cy="295.9" r="0.4" fill="#f2c8a8"/>
<circle cx="424.3" cy="296.9" r="0.6" fill="#d47c4e"/>
<circle cx="404.6" cy="300.0" r="0.45" fill="#e4a074"/>
<circle cx="414.9" cy="307.8" r="0.4" fill="#f2c8a8"/>
<circle cx="426.9" cy="286.9" r="0.45" fill="#e4a074"/>
<circle cx="443.3" cy="300.0" r="0.45" fill="#e4a074"/>
<circle cx="424.5" cy="286.3" r="0.45" fill="#e4a074"/>
<circle cx="407.4" cy="310.8" r="0.6" fill="#d47c4e"/>
<circle cx="410.9" cy="294.5" r="0.4" fill="#f2c8a8"/>
<circle cx="406.6" cy="293.0" r="0.4" fill="#f2c8a8"/>
<circle cx="426.8" cy="290.6" r="0.45" fill="#e4a074"/>
<circle cx="422.0" cy="316.9" r="0.45" fill="#e4a074"/>
<circle cx="444.1" cy="304.9" r="0.45" fill="#e4a074"/>
<circle cx="425.6" cy="312.7" r="0.45" fill="#e4a074"/>
<circle cx="424.7" cy="292.2" r="0.4" fill="#f2c8a8"/>
<circle cx="427.2" cy="317.7" r="0.4" fill="#f2c8a8"/>
<circle cx="426.6" cy="283.2" r="0.4" fill="#f2c8a8"/>
<circle cx="418.4" cy="296.8" r="0.45" fill="#e4a074"/>
<circle cx="419.1" cy="292.9" r="0.45" fill="#e4a074"/>
<circle cx="438.5" cy="316.9" r="0.45" fill="#e4a074"/>
<circle cx="440.4" cy="293.0" r="0.4" fill="#f2c8a8"/>
<circle cx="423.4" cy="284.7" r="0.4" fill="#f2c8a8"/>
<circle cx="418.8" cy="283.9" r="0.45" fill="#e4a074"/>
<circle cx="429.3" cy="321.3" r="0.6" fill="#d47c4e"/>
<circle cx="406.7" cy="309.2" r="0.6" fill="#d47c4e"/>
<circle cx="420.1" cy="308.7" r="0.4" fill="#f2c8a8"/>
<circle cx="417.2" cy="301.6" r="0.4" fill="#f2c8a8"/>
<circle cx="424.9" cy="298.2" r="0.45" fill="#e4a074"/>
<circle cx="410.4" cy="310.7" r="0.4" fill="#f2c8a8"/>
<circle cx="415.6" cy="302.4" r="0.4" fill="#f2c8a8"/>
<circle cx="433.6" cy="291.5" r="0.4" fill="#f2c8a8"/>
<circle cx="436.9" cy="295.9" r="0.45" fill="#e4a074"/>
<circle cx="433.8" cy="311.5" r="0.6" fill="#d47c4e"/>
<circle cx="433.8" cy="284.1" r="0.6" fill="#d47c4e"/>
<circle cx="425.8" cy="305.8" r="0.4" fill="#f2c8a8"/>
<circle cx="416.1" cy="288.5" r="0.4" fill="#f2c8a8"/>
<circle cx="422.9" cy="291.5" r="0.45" fill="#e4a074"/>
<circle cx="418.4" cy="304.9" r="0.45" fill="#e4a074"/>
<circle cx="432.7" cy="318.3" r="0.45" fill="#e4a074"/>
<circle cx="412.2" cy="306.5" r="0.4" fill="#f2c8a8"/>
<circle cx="436.4" cy="314.5" r="0.4" fill="#f2c8a8"/>
<circle cx="413.4" cy="296.2" r="0.4" fill="#f2c8a8"/>
<circle cx="434.7" cy="316.7" r="0.4" fill="#f2c8a8"/>
<circle cx="436.5" cy="317.1" r="0.4" fill="#f2c8a8"/>
<circle cx="426.3" cy="309.3" r="0.45" fill="#e4a074"/>
<circle cx="425.8" cy="297.4" r="0.6" fill="#d47c4e"/>
<circle cx="419.6" cy="282.8" r="0.4" fill="#f2c8a8"/>
<circle cx="419.3" cy="303.5" r="0.4" fill="#f2c8a8"/>
<circle cx="432.9" cy="292.9" r="0.6" fill="#d47c4e"/>
<circle cx="435.3" cy="283.6" r="0.4" fill="#f2c8a8"/>
<circle cx="408.2" cy="310.0" r="0.4" fill="#f2c8a8"/>
<circle cx="425.3" cy="304.1" r="0.45" fill="#e4a074"/>
<circle cx="416.0" cy="298.1" r="0.4" fill="#f2c8a8"/>
<circle cx="419.3" cy="294.6" r="0.45" fill="#e4a074"/>
<circle cx="434.7" cy="291.3" r="0.4" fill="#f2c8a8"/>
<circle cx="414.9" cy="296.1" r="0.4" fill="#f2c8a8"/>
<circle cx="421.2" cy="285.9" r="0.4" fill="#f2c8a8"/>
<circle cx="425.5" cy="318.9" r="0.6" fill="#d47c4e"/>
<circle cx="415.6" cy="313.9" r="0.4" fill="#f2c8a8"/>
<circle cx="409.6" cy="304.5" r="0.4" fill="#f2c8a8"/>
<circle cx="413.0" cy="291.6" r="0.4" fill="#f2c8a8"/>
<circle cx="435.1" cy="310.2" r="0.4" fill="#f2c8a8"/>
<circle cx="409.7" cy="296.4" r="0.45" fill="#e4a074"/>
<circle cx="437.5" cy="290.2" r="0.45" fill="#e4a074"/>
<circle cx="439.9" cy="314.1" r="0.6" fill="#d47c4e"/>
<circle cx="409.2" cy="290.7" r="0.45" fill="#e4a074"/>
<circle cx="417.5" cy="304.4" r="0.4" fill="#f2c8a8"/>
<circle cx="420.9" cy="282.8" r="0.6" fill="#d47c4e"/>
<circle cx="404.9" cy="298.7" r="0.4" fill="#f2c8a8"/>
<circle cx="438.8" cy="302.7" r="0.45" fill="#e4a074"/>
<circle cx="426.6" cy="291.0" r="0.4" fill="#f2c8a8"/>
<circle cx="423.6" cy="292.0" r="0.45" fill="#e4a074"/>
<circle cx="418.1" cy="297.9" r="0.45" fill="#e4a074"/>
<circle cx="426.6" cy="291.2" r="0.6" fill="#d47c4e"/>
<circle cx="432.8" cy="303.9" r="0.45" fill="#e4a074"/>
<circle cx="417.9" cy="286.5" r="0.6" fill="#d47c4e"/>
<circle cx="426.6" cy="305.3" r="0.45" fill="#e4a074"/>
<circle cx="417.3" cy="311.7" r="0.4" fill="#f2c8a8"/>
<circle cx="433.5" cy="293.5" r="0.45" fill="#e4a074"/>
<circle cx="415.0" cy="296.4" r="0.6" fill="#d47c4e"/>
<circle cx="424.8" cy="312.6" r="0.4" fill="#f2c8a8"/>
<circle cx="419.9" cy="284.4" r="0.4" fill="#f2c8a8"/>
<circle cx="437.2" cy="312.0" r="0.4" fill="#f2c8a8"/>
<circle cx="409.0" cy="295.7" r="0.4" fill="#f2c8a8"/>
<circle cx="443.4" cy="306.4" r="0.6" fill="#d47c4e"/>
<circle cx="433.7" cy="306.2" r="0.4" fill="#f2c8a8"/>
<circle cx="431.0" cy="290.9" r="0.6" fill="#d47c4e"/>
<circle cx="442.0" cy="311.8" r="0.4" fill="#f2c8a8"/>
<circle cx="408.6" cy="288.7" r="0.45" fill="#e4a074"/>
<circle cx="435.9" cy="294.6" r="0.6" fill="#d47c4e"/>
<circle cx="434.2" cy="294.8" r="0.45" fill="#e4a074"/>
<circle cx="433.6" cy="296.2" r="0.4" fill="#f2c8a8"/>
<circle cx="427.2" cy="285.3" r="0.6" fill="#d47c4e"/>
<circle cx="412.4" cy="306.8" r="0.4" fill="#f2c8a8"/>
<circle cx="422.2" cy="320.5" r="0.4" fill="#f2c8a8"/>
<circle cx="440.2" cy="289.6" r="0.45" fill="#e4a074"/>
<circle cx="424.9" cy="301.8" r="0.4" fill="#f2c8a8"/>
<circle cx="434.9" cy="282.9" r="0.6" fill="#d47c4e"/>
<circle cx="421.4" cy="321.0" r="0.4" fill="#f2c8a8"/>
<circle cx="411.7" cy="315.8" r="0.45" fill="#e4a074"/>
<circle cx="420.3" cy="290.9" r="0.4" fill="#f2c8a8"/>
<circle cx="429.6" cy="310.9" r="0.4" fill="#f2c8a8"/>
<circle cx="414.6" cy="296.0" r="0.4" fill="#f2c8a8"/>
<circle cx="434.3" cy="292.2" r="0.4" fill="#f2c8a8"/>
<circle cx="440.8" cy="302.0" r="0.4" fill="#f2c8a8"/>
<circle cx="422.1" cy="299.9" r="0.4" fill="#f2c8a8"/>
<circle cx="413.9" cy="290.6" r="0.4" fill="#f2c8a8"/>
<circle cx="436.1" cy="283.5" r="0.45" fill="#e4a074"/>
<circle cx="444.0" cy="292.5" r="0.4" fill="#f2c8a8"/>
<circle cx="412.2" cy="297.4" r="0.45" fill="#e4a074"/>
<circle cx="430.1" cy="309.7" r="0.4" fill="#f2c8a8"/>
<circle cx="405.1" cy="295.3" r="0.4" fill="#f2c8a8"/>
<circle cx="438.3" cy="301.4" r="0.6" fill="#d47c4e"/>
<circle cx="437.7" cy="309.6" r="0.45" fill="#e4a074"/>
<circle cx="431.6" cy="290.9" r="0.45" fill="#e4a074"/>
<circle cx="445.0" cy="295.0" r="0.45" fill="#e4a074"/>
<circle cx="416.3" cy="315.4" r="0.45" fill="#e4a074"/>
<circle cx="417.9" cy="285.4" r="0.4" fill="#f2c8a8"/>
<circle cx="422.6" cy="288.9" r="0.4" fill="#f2c8a8"/>
<circle cx="437.8" cy="310.2" r="0.4" fill="#f2c8a8"/>
<circle cx="422.9" cy="312.3" r="0.4" fill="#f2c8a8"/>
<circle cx="407.3" cy="311.4" r="0.45" fill="#e4a074"/>
<circle cx="412.5" cy="297.0" r="0.45" fill="#e4a074"/>
<circle cx="431.1" cy="287.1" r="0.45" fill="#e4a074"/>
<circle cx="419.8" cy="308.3" r="0.4" fill="#f2c8a8"/>
<circle cx="434.7" cy="307.0" r="0.4" fill="#f2c8a8"/>
<circle cx="411.5" cy="309.1" r="0.4" fill="#f2c8a8"/>
<circle cx="425.7" cy="286.9" r="0.45" fill="#e4a074"/>
<circle cx="408.3" cy="309.0" r="0.45" fill="#e4a074"/>
<circle cx="436.5" cy="311.8" r="0.4" fill="#f2c8a8"/>
<circle cx="424.9" cy="288.3" r="0.4" fill="#f2c8a8"/>
<circle cx="445.6" cy="305.4" r="0.4" fill="#f2c8a8"/>
<circle cx="425.0" cy="321.3" r="0.4" fill="#f2c8a8"/>
<circle cx="413.5" cy="308.4" r="0.45" fill="#e4a074"/>
<circle cx="429.4" cy="280.7" r="0.4" fill="#f2c8a8"/>
<circle cx="433.6" cy="306.0" r="0.4" fill="#f2c8a8"/>
<circle cx="423.2" cy="317.5" r="0.6" fill="#d47c4e"/>
<circle cx="434.0" cy="307.4" r="0.6" fill="#d47c4e"/>
<circle cx="413.9" cy="294.1" r="0.4" fill="#f2c8a8"/>
<circle cx="434.4" cy="304.4" r="0.45" fill="#e4a074"/>
<circle cx="439.1" cy="306.4" r="0.45" fill="#e4a074"/>
<circle cx="436.5" cy="301.2" r="0.4" fill="#f2c8a8"/>
<circle cx="411.3" cy="289.6" r="0.45" fill="#e4a074"/>
<circle cx="414.0" cy="306.0" r="0.45" fill="#e4a074"/>
<circle cx="405.6" cy="306.1" r="0.45" fill="#e4a074"/>
<circle cx="410.5" cy="292.3" r="0.4" fill="#f2c8a8"/>
<circle cx="408.1" cy="301.9" r="0.45" fill="#e4a074"/>
<circle cx="436.8" cy="300.9" r="0.4" fill="#f2c8a8"/>
<circle cx="443.9" cy="298.0" r="0.45" fill="#e4a074"/>
<circle cx="422.2" cy="309.4" r="0.4" fill="#f2c8a8"/>
<circle cx="412.8" cy="307.2" r="0.4" fill="#f2c8a8"/>
<circle cx="409.4" cy="303.0" r="0.4" fill="#f2c8a8"/>
<circle cx="415.6" cy="286.2" r="0.4" fill="#f2c8a8"/>
<circle cx="425.2" cy="305.2" r="0.4" fill="#f2c8a8"/>
<circle cx="419.1" cy="289.0" r="0.45" fill="#e4a074"/>
<circle cx="421.7" cy="298.3" r="0.4" fill="#f2c8a8"/>
<circle cx="405.0" cy="300.2" r="0.45" fill="#e4a074"/>
<circle cx="415.1" cy="304.6" r="0.4" fill="#f2c8a8"/>
<circle cx="414.1" cy="286.5" r="0.4" fill="#f2c8a8"/>
<rect x="402.60" y="279.30" width="44.60" height="44.10" fill="none" stroke="#6a6a6a" stroke-width="0.9" />
<rect x="449.20" y="279.30" width="44.60" height="44.10" fill="#fff" />
<circle cx="481.2" cy="306.7" r="0.45" fill="#e4a074"/>
<circle cx="473.4" cy="287.9" r="0.6" fill="#d47c4e"/>
<circle cx="469.2" cy="303.1" r="0.4" fill="#f2c8a8"/>
<circle cx="485.3" cy="289.8" r="0.4" fill="#f2c8a8"/>
<circle cx="468.7" cy="313.9" r="0.4" fill="#f2c8a8"/>
<circle cx="491.6" cy="304.2" r="0.45" fill="#e4a074"/>
<circle cx="471.4" cy="304.8" r="0.45" fill="#e4a074"/>
<circle cx="487.9" cy="293.8" r="0.45" fill="#e4a074"/>
<circle cx="483.7" cy="288.8" r="0.4" fill="#f2c8a8"/>
<circle cx="465.7" cy="315.9" r="0.4" fill="#f2c8a8"/>
<circle cx="472.8" cy="306.4" r="0.6" fill="#d47c4e"/>
<circle cx="466.0" cy="291.1" r="0.4" fill="#f2c8a8"/>
<circle cx="477.2" cy="295.3" r="0.45" fill="#e4a074"/>
<circle cx="473.8" cy="320.9" r="0.45" fill="#e4a074"/>
<circle cx="484.0" cy="296.9" r="0.45" fill="#e4a074"/>
<circle cx="466.3" cy="312.3" r="0.6" fill="#d47c4e"/>
<circle cx="492.3" cy="297.1" r="0.6" fill="#d47c4e"/>
<circle cx="454.7" cy="302.2" r="0.6" fill="#d47c4e"/>
<circle cx="453.4" cy="309.5" r="0.45" fill="#e4a074"/>
<circle cx="469.0" cy="313.4" r="0.45" fill="#e4a074"/>
<circle cx="477.2" cy="310.2" r="0.4" fill="#f2c8a8"/>
<circle cx="487.4" cy="313.5" r="0.6" fill="#d47c4e"/>
<circle cx="478.1" cy="287.6" r="0.45" fill="#e4a074"/>
<circle cx="466.3" cy="288.2" r="0.45" fill="#e4a074"/>
<circle cx="478.9" cy="308.5" r="0.4" fill="#f2c8a8"/>
<circle cx="461.1" cy="314.4" r="0.4" fill="#f2c8a8"/>
<circle cx="473.2" cy="320.6" r="0.45" fill="#e4a074"/>
<circle cx="488.6" cy="293.4" r="0.4" fill="#f2c8a8"/>
<circle cx="452.6" cy="302.5" r="0.45" fill="#e4a074"/>
<circle cx="473.7" cy="315.5" r="0.45" fill="#e4a074"/>
<circle cx="482.0" cy="301.8" r="0.45" fill="#e4a074"/>
<circle cx="464.7" cy="288.9" r="0.45" fill="#e4a074"/>
<circle cx="459.5" cy="298.9" r="0.4" fill="#f2c8a8"/>
<circle cx="470.8" cy="282.6" r="0.4" fill="#f2c8a8"/>
<circle cx="474.0" cy="282.1" r="0.45" fill="#e4a074"/>
<circle cx="479.1" cy="281.8" r="0.4" fill="#f2c8a8"/>
<circle cx="484.9" cy="296.0" r="0.45" fill="#e4a074"/>
<circle cx="471.2" cy="294.5" r="0.45" fill="#e4a074"/>
<circle cx="486.9" cy="310.6" r="0.4" fill="#f2c8a8"/>
<circle cx="463.9" cy="308.7" r="0.45" fill="#e4a074"/>
<circle cx="464.4" cy="292.2" r="0.45" fill="#e4a074"/>
<circle cx="479.1" cy="318.3" r="0.45" fill="#e4a074"/>
<circle cx="473.3" cy="284.6" r="0.6" fill="#d47c4e"/>
<circle cx="466.9" cy="287.6" r="0.45" fill="#e4a074"/>
<circle cx="461.5" cy="296.5" r="0.4" fill="#f2c8a8"/>
<circle cx="477.4" cy="282.9" r="0.6" fill="#d47c4e"/>
<circle cx="465.9" cy="287.3" r="0.4" fill="#f2c8a8"/>
<circle cx="467.0" cy="284.8" r="0.6" fill="#d47c4e"/>
<circle cx="471.5" cy="288.0" r="0.4" fill="#f2c8a8"/>
<circle cx="489.5" cy="306.2" r="0.4" fill="#f2c8a8"/>
<circle cx="467.9" cy="304.0" r="0.4" fill="#f2c8a8"/>
<circle cx="480.6" cy="294.5" r="0.45" fill="#e4a074"/>
<circle cx="472.7" cy="284.0" r="0.45" fill="#e4a074"/>
<circle cx="471.8" cy="318.3" r="0.45" fill="#e4a074"/>
<circle cx="486.4" cy="297.9" r="0.4" fill="#f2c8a8"/>
<circle cx="485.5" cy="291.8" r="0.4" fill="#f2c8a8"/>
<circle cx="466.9" cy="294.4" r="0.4" fill="#f2c8a8"/>
<circle cx="482.4" cy="291.5" r="0.45" fill="#e4a074"/>
<circle cx="474.9" cy="315.1" r="0.4" fill="#f2c8a8"/>
<circle cx="476.9" cy="285.7" r="0.4" fill="#f2c8a8"/>
<circle cx="464.5" cy="307.5" r="0.4" fill="#f2c8a8"/>
<circle cx="467.4" cy="290.1" r="0.4" fill="#f2c8a8"/>
<circle cx="461.1" cy="310.3" r="0.6" fill="#d47c4e"/>
<circle cx="461.7" cy="309.8" r="0.6" fill="#d47c4e"/>
<circle cx="469.1" cy="287.1" r="0.4" fill="#f2c8a8"/>
<circle cx="473.0" cy="309.2" r="0.4" fill="#f2c8a8"/>
<circle cx="467.4" cy="295.8" r="0.4" fill="#f2c8a8"/>
<circle cx="479.3" cy="315.5" r="0.4" fill="#f2c8a8"/>
<circle cx="462.3" cy="285.0" r="0.4" fill="#f2c8a8"/>
<circle cx="467.3" cy="305.0" r="0.4" fill="#f2c8a8"/>
<circle cx="458.1" cy="288.0" r="0.4" fill="#f2c8a8"/>
<circle cx="491.6" cy="298.0" r="0.4" fill="#f2c8a8"/>
<circle cx="455.0" cy="296.9" r="0.4" fill="#f2c8a8"/>
<circle cx="459.8" cy="314.3" r="0.4" fill="#f2c8a8"/>
<circle cx="457.2" cy="307.1" r="0.4" fill="#f2c8a8"/>
<circle cx="460.5" cy="303.1" r="0.4" fill="#f2c8a8"/>
<circle cx="454.3" cy="298.4" r="0.45" fill="#e4a074"/>
<circle cx="454.5" cy="301.2" r="0.4" fill="#f2c8a8"/>
<circle cx="481.4" cy="299.9" r="0.4" fill="#f2c8a8"/>
<circle cx="455.8" cy="293.7" r="0.4" fill="#f2c8a8"/>
<circle cx="461.8" cy="308.3" r="0.4" fill="#f2c8a8"/>
<circle cx="476.7" cy="282.2" r="0.4" fill="#f2c8a8"/>
<circle cx="458.6" cy="295.4" r="0.4" fill="#f2c8a8"/>
<circle cx="470.1" cy="285.8" r="0.6" fill="#d47c4e"/>
<circle cx="488.5" cy="290.3" r="0.4" fill="#f2c8a8"/>
<circle cx="486.3" cy="313.1" r="0.4" fill="#f2c8a8"/>
<circle cx="468.3" cy="292.9" r="0.45" fill="#e4a074"/>
<circle cx="477.6" cy="303.1" r="0.6" fill="#d47c4e"/>
<circle cx="457.7" cy="299.7" r="0.6" fill="#d47c4e"/>
<circle cx="473.8" cy="291.3" r="0.45" fill="#e4a074"/>
<circle cx="460.9" cy="310.5" r="0.4" fill="#f2c8a8"/>
<circle cx="473.4" cy="312.5" r="0.4" fill="#f2c8a8"/>
<circle cx="479.1" cy="319.3" r="0.4" fill="#f2c8a8"/>
<circle cx="454.1" cy="294.0" r="0.45" fill="#e4a074"/>
<circle cx="483.1" cy="318.1" r="0.6" fill="#d47c4e"/>
<circle cx="478.1" cy="290.8" r="0.45" fill="#e4a074"/>
<circle cx="469.4" cy="298.2" r="0.4" fill="#f2c8a8"/>
<circle cx="466.7" cy="286.4" r="0.6" fill="#d47c4e"/>
<circle cx="476.5" cy="282.5" r="0.6" fill="#d47c4e"/>
<circle cx="460.7" cy="317.7" r="0.4" fill="#f2c8a8"/>
<circle cx="473.6" cy="295.1" r="0.4" fill="#f2c8a8"/>
<circle cx="466.5" cy="303.1" r="0.45" fill="#e4a074"/>
<circle cx="474.0" cy="291.4" r="0.4" fill="#f2c8a8"/>
<circle cx="473.7" cy="285.9" r="0.4" fill="#f2c8a8"/>
<circle cx="464.6" cy="320.2" r="0.4" fill="#f2c8a8"/>
<circle cx="468.3" cy="314.7" r="0.6" fill="#d47c4e"/>
<circle cx="476.4" cy="288.9" r="0.45" fill="#e4a074"/>
<circle cx="477.0" cy="302.0" r="0.4" fill="#f2c8a8"/>
<circle cx="466.5" cy="295.2" r="0.4" fill="#f2c8a8"/>
<circle cx="477.2" cy="293.8" r="0.4" fill="#f2c8a8"/>
<circle cx="476.8" cy="304.1" r="0.4" fill="#f2c8a8"/>
<circle cx="456.7" cy="293.0" r="0.4" fill="#f2c8a8"/>
<circle cx="459.6" cy="299.9" r="0.45" fill="#e4a074"/>
<circle cx="484.5" cy="311.6" r="0.4" fill="#f2c8a8"/>
<circle cx="480.2" cy="296.6" r="0.45" fill="#e4a074"/>
<circle cx="477.0" cy="314.0" r="0.4" fill="#f2c8a8"/>
<circle cx="460.0" cy="286.7" r="0.45" fill="#e4a074"/>
<circle cx="485.7" cy="298.8" r="0.45" fill="#e4a074"/>
<circle cx="465.0" cy="310.1" r="0.45" fill="#e4a074"/>
<circle cx="476.6" cy="300.2" r="0.45" fill="#e4a074"/>
<circle cx="464.5" cy="315.6" r="0.4" fill="#f2c8a8"/>
<circle cx="468.8" cy="286.5" r="0.4" fill="#f2c8a8"/>
<circle cx="470.3" cy="301.5" r="0.4" fill="#f2c8a8"/>
<circle cx="476.7" cy="297.7" r="0.4" fill="#f2c8a8"/>
<circle cx="469.8" cy="297.6" r="0.6" fill="#d47c4e"/>
<circle cx="477.2" cy="320.9" r="0.4" fill="#f2c8a8"/>
<circle cx="457.7" cy="292.6" r="0.4" fill="#f2c8a8"/>
<circle cx="453.5" cy="300.3" r="0.45" fill="#e4a074"/>
<circle cx="470.0" cy="283.8" r="0.4" fill="#f2c8a8"/>
<circle cx="459.1" cy="309.1" r="0.4" fill="#f2c8a8"/>
<circle cx="472.4" cy="294.4" r="0.45" fill="#e4a074"/>
<circle cx="470.8" cy="309.5" r="0.6" fill="#d47c4e"/>
<circle cx="458.6" cy="288.7" r="0.45" fill="#e4a074"/>
<circle cx="453.7" cy="293.3" r="0.4" fill="#f2c8a8"/>
<circle cx="464.6" cy="307.8" r="0.45" fill="#e4a074"/>
<circle cx="455.8" cy="313.5" r="0.4" fill="#f2c8a8"/>
<circle cx="469.3" cy="321.0" r="0.45" fill="#e4a074"/>
<circle cx="460.1" cy="306.6" r="0.45" fill="#e4a074"/>
<circle cx="482.3" cy="315.4" r="0.4" fill="#f2c8a8"/>
<circle cx="473.7" cy="295.7" r="0.6" fill="#d47c4e"/>
<circle cx="473.8" cy="298.5" r="0.4" fill="#f2c8a8"/>
<circle cx="488.0" cy="291.3" r="0.4" fill="#f2c8a8"/>
<circle cx="476.7" cy="285.9" r="0.4" fill="#f2c8a8"/>
<circle cx="466.5" cy="288.5" r="0.4" fill="#f2c8a8"/>
<circle cx="482.3" cy="286.7" r="0.4" fill="#f2c8a8"/>
<circle cx="456.1" cy="308.7" r="0.4" fill="#f2c8a8"/>
<circle cx="471.0" cy="316.3" r="0.6" fill="#d47c4e"/>
<circle cx="480.4" cy="307.0" r="0.4" fill="#f2c8a8"/>
<circle cx="492.5" cy="299.0" r="0.4" fill="#f2c8a8"/>
<circle cx="466.8" cy="295.0" r="0.4" fill="#f2c8a8"/>
<circle cx="481.5" cy="312.2" r="0.6" fill="#d47c4e"/>
<circle cx="484.1" cy="298.3" r="0.6" fill="#d47c4e"/>
<circle cx="469.6" cy="295.7" r="0.6" fill="#d47c4e"/>
<circle cx="468.6" cy="321.6" r="0.4" fill="#f2c8a8"/>
<circle cx="483.9" cy="292.2" r="0.45" fill="#e4a074"/>
<circle cx="477.7" cy="314.4" r="0.45" fill="#e4a074"/>
<circle cx="452.2" cy="293.9" r="0.45" fill="#e4a074"/>
<circle cx="478.0" cy="296.7" r="0.45" fill="#e4a074"/>
<circle cx="455.7" cy="289.5" r="0.4" fill="#f2c8a8"/>
<circle cx="453.3" cy="305.4" r="0.4" fill="#f2c8a8"/>
<circle cx="458.3" cy="315.0" r="0.45" fill="#e4a074"/>
<circle cx="469.1" cy="301.2" r="0.45" fill="#e4a074"/>
<circle cx="462.9" cy="306.3" r="0.4" fill="#f2c8a8"/>
<circle cx="484.2" cy="315.7" r="0.45" fill="#e4a074"/>
<circle cx="488.5" cy="297.4" r="0.4" fill="#f2c8a8"/>
<circle cx="453.2" cy="310.8" r="0.4" fill="#f2c8a8"/>
<circle cx="467.3" cy="307.8" r="0.4" fill="#f2c8a8"/>
<circle cx="469.1" cy="317.4" r="0.4" fill="#f2c8a8"/>
<circle cx="480.9" cy="290.8" r="0.4" fill="#f2c8a8"/>
<circle cx="483.9" cy="310.1" r="0.4" fill="#f2c8a8"/>
<circle cx="464.8" cy="301.0" r="0.4" fill="#f2c8a8"/>
<circle cx="465.6" cy="300.8" r="0.45" fill="#e4a074"/>
<circle cx="480.4" cy="287.5" r="0.4" fill="#f2c8a8"/>
<circle cx="467.6" cy="296.6" r="0.4" fill="#f2c8a8"/>
<circle cx="487.0" cy="302.0" r="0.4" fill="#f2c8a8"/>
<circle cx="470.4" cy="308.2" r="0.6" fill="#d47c4e"/>
<circle cx="482.3" cy="314.7" r="0.45" fill="#e4a074"/>
<circle cx="456.5" cy="306.1" r="0.4" fill="#f2c8a8"/>
<circle cx="479.0" cy="285.3" r="0.4" fill="#f2c8a8"/>
<circle cx="469.4" cy="293.5" r="0.4" fill="#f2c8a8"/>
<circle cx="477.6" cy="314.4" r="0.45" fill="#e4a074"/>
<circle cx="470.4" cy="289.1" r="0.4" fill="#f2c8a8"/>
<circle cx="452.6" cy="307.2" r="0.45" fill="#e4a074"/>
<circle cx="458.3" cy="288.5" r="0.45" fill="#e4a074"/>
<circle cx="491.2" cy="294.6" r="0.45" fill="#e4a074"/>
<circle cx="474.5" cy="293.6" r="0.4" fill="#f2c8a8"/>
<circle cx="467.8" cy="285.5" r="0.6" fill="#d47c4e"/>
<circle cx="473.5" cy="289.1" r="0.4" fill="#f2c8a8"/>
<circle cx="467.9" cy="295.2" r="0.4" fill="#f2c8a8"/>
<circle cx="469.6" cy="314.2" r="0.45" fill="#e4a074"/>
<circle cx="460.7" cy="288.8" r="0.4" fill="#f2c8a8"/>
<circle cx="485.6" cy="290.2" r="0.6" fill="#d47c4e"/>
<circle cx="458.9" cy="290.1" r="0.6" fill="#d47c4e"/>
<circle cx="471.3" cy="284.3" r="0.4" fill="#f2c8a8"/>
<circle cx="489.3" cy="303.7" r="0.45" fill="#e4a074"/>
<circle cx="464.4" cy="307.4" r="0.4" fill="#f2c8a8"/>
<circle cx="481.6" cy="285.7" r="0.4" fill="#f2c8a8"/>
<circle cx="474.6" cy="310.2" r="0.45" fill="#e4a074"/>
<circle cx="471.6" cy="320.8" r="0.4" fill="#f2c8a8"/>
<circle cx="476.4" cy="313.7" r="0.4" fill="#f2c8a8"/>
<circle cx="474.0" cy="298.9" r="0.4" fill="#f2c8a8"/>
<circle cx="468.7" cy="303.9" r="0.4" fill="#f2c8a8"/>
<circle cx="491.1" cy="299.7" r="0.4" fill="#f2c8a8"/>
<circle cx="485.7" cy="286.7" r="0.45" fill="#e4a074"/>
<circle cx="469.3" cy="285.4" r="0.45" fill="#e4a074"/>
<circle cx="468.3" cy="285.1" r="0.6" fill="#d47c4e"/>
<circle cx="480.2" cy="319.1" r="0.45" fill="#e4a074"/>
<circle cx="453.6" cy="307.9" r="0.4" fill="#f2c8a8"/>
<circle cx="459.3" cy="311.1" r="0.6" fill="#d47c4e"/>
<circle cx="472.6" cy="320.4" r="0.45" fill="#e4a074"/>
<circle cx="481.8" cy="295.5" r="0.45" fill="#e4a074"/>
<circle cx="486.8" cy="288.3" r="0.45" fill="#e4a074"/>
<circle cx="480.6" cy="286.9" r="0.45" fill="#e4a074"/>
<circle cx="477.1" cy="315.2" r="0.6" fill="#d47c4e"/>
<circle cx="475.8" cy="299.6" r="0.4" fill="#f2c8a8"/>
<circle cx="473.0" cy="320.3" r="0.4" fill="#f2c8a8"/>
<circle cx="472.6" cy="291.8" r="0.4" fill="#f2c8a8"/>
<circle cx="479.0" cy="299.8" r="0.45" fill="#e4a074"/>
<circle cx="468.9" cy="319.1" r="0.4" fill="#f2c8a8"/>
<circle cx="467.0" cy="291.5" r="0.6" fill="#d47c4e"/>
<circle cx="463.5" cy="316.2" r="0.4" fill="#f2c8a8"/>
<circle cx="487.2" cy="294.8" r="0.6" fill="#d47c4e"/>
<circle cx="471.5" cy="295.9" r="0.45" fill="#e4a074"/>
<circle cx="464.8" cy="307.5" r="0.6" fill="#d47c4e"/>
<circle cx="465.3" cy="290.4" r="0.4" fill="#f2c8a8"/>
<circle cx="468.7" cy="296.9" r="0.4" fill="#f2c8a8"/>
<circle cx="480.0" cy="303.7" r="0.45" fill="#e4a074"/>
<circle cx="469.4" cy="321.8" r="0.4" fill="#f2c8a8"/>
<circle cx="477.2" cy="283.9" r="0.45" fill="#e4a074"/>
<circle cx="465.5" cy="296.2" r="0.45" fill="#e4a074"/>
<circle cx="485.2" cy="293.9" r="0.4" fill="#f2c8a8"/>
<circle cx="480.8" cy="306.5" r="0.6" fill="#d47c4e"/>
<circle cx="467.1" cy="311.2" r="0.45" fill="#e4a074"/>
<circle cx="489.9" cy="305.1" r="0.45" fill="#e4a074"/>
<circle cx="470.4" cy="304.4" r="0.6" fill="#d47c4e"/>
<circle cx="478.4" cy="284.0" r="0.4" fill="#f2c8a8"/>
<circle cx="487.8" cy="296.3" r="0.4" fill="#f2c8a8"/>
<circle cx="489.1" cy="299.0" r="0.4" fill="#f2c8a8"/>
<circle cx="484.2" cy="290.7" r="0.45" fill="#e4a074"/>
<circle cx="481.3" cy="302.7" r="0.45" fill="#e4a074"/>
<circle cx="480.9" cy="301.8" r="0.4" fill="#f2c8a8"/>
<circle cx="464.9" cy="297.2" r="0.45" fill="#e4a074"/>
<circle cx="454.0" cy="306.6" r="0.6" fill="#d47c4e"/>
<circle cx="480.7" cy="299.4" r="0.4" fill="#f2c8a8"/>
<circle cx="475.0" cy="289.4" r="0.6" fill="#d47c4e"/>
<circle cx="463.1" cy="315.3" r="0.4" fill="#f2c8a8"/>
<circle cx="469.8" cy="290.0" r="0.4" fill="#f2c8a8"/>
<circle cx="468.5" cy="282.2" r="0.4" fill="#f2c8a8"/>
<circle cx="476.2" cy="309.6" r="0.45" fill="#e4a074"/>
<circle cx="463.5" cy="285.3" r="0.45" fill="#e4a074"/>
<circle cx="473.2" cy="315.8" r="0.4" fill="#f2c8a8"/>
<circle cx="461.9" cy="314.1" r="0.4" fill="#f2c8a8"/>
<circle cx="474.4" cy="291.8" r="0.4" fill="#f2c8a8"/>
<circle cx="467.7" cy="292.0" r="0.45" fill="#e4a074"/>
<circle cx="468.0" cy="303.8" r="0.4" fill="#f2c8a8"/>
<circle cx="460.7" cy="285.5" r="0.45" fill="#e4a074"/>
<circle cx="482.9" cy="288.0" r="0.45" fill="#e4a074"/>
<circle cx="480.2" cy="287.3" r="0.45" fill="#e4a074"/>
<circle cx="477.1" cy="309.7" r="0.4" fill="#f2c8a8"/>
<circle cx="481.8" cy="309.5" r="0.4" fill="#f2c8a8"/>
<circle cx="454.1" cy="293.7" r="0.4" fill="#f2c8a8"/>
<circle cx="486.8" cy="289.2" r="0.4" fill="#f2c8a8"/>
<circle cx="463.8" cy="296.1" r="0.4" fill="#f2c8a8"/>
<circle cx="473.5" cy="310.4" r="0.4" fill="#f2c8a8"/>
<circle cx="490.3" cy="304.1" r="0.6" fill="#d47c4e"/>
<circle cx="475.4" cy="296.7" r="0.4" fill="#f2c8a8"/>
<circle cx="479.7" cy="291.0" r="0.4" fill="#f2c8a8"/>
<circle cx="467.0" cy="286.5" r="0.4" fill="#f2c8a8"/>
<circle cx="475.9" cy="306.8" r="0.45" fill="#e4a074"/>
<circle cx="475.1" cy="298.7" r="0.4" fill="#f2c8a8"/>
<circle cx="461.0" cy="299.4" r="0.4" fill="#f2c8a8"/>
<circle cx="460.9" cy="300.9" r="0.4" fill="#f2c8a8"/>
<circle cx="455.2" cy="310.3" r="0.4" fill="#f2c8a8"/>
<circle cx="453.3" cy="296.6" r="0.45" fill="#e4a074"/>
<circle cx="460.1" cy="317.7" r="0.45" fill="#e4a074"/>
<circle cx="483.2" cy="300.8" r="0.4" fill="#f2c8a8"/>
<circle cx="453.4" cy="307.0" r="0.45" fill="#e4a074"/>
<circle cx="457.4" cy="296.4" r="0.6" fill="#d47c4e"/>
<circle cx="467.1" cy="307.1" r="0.4" fill="#f2c8a8"/>
<circle cx="472.0" cy="307.5" r="0.6" fill="#d47c4e"/>
<circle cx="454.1" cy="294.7" r="0.4" fill="#f2c8a8"/>
<circle cx="461.8" cy="299.7" r="0.6" fill="#d47c4e"/>
<circle cx="460.0" cy="307.5" r="0.45" fill="#e4a074"/>
<circle cx="485.9" cy="285.6" r="0.4" fill="#f2c8a8"/>
<circle cx="454.7" cy="309.8" r="0.4" fill="#f2c8a8"/>
<circle cx="476.0" cy="314.9" r="0.4" fill="#f2c8a8"/>
<circle cx="470.8" cy="319.5" r="0.4" fill="#f2c8a8"/>
<circle cx="463.5" cy="292.9" r="0.4" fill="#f2c8a8"/>
<circle cx="475.3" cy="282.9" r="0.45" fill="#e4a074"/>
<circle cx="464.9" cy="295.5" r="0.45" fill="#e4a074"/>
<circle cx="481.0" cy="284.9" r="0.45" fill="#e4a074"/>
<circle cx="465.8" cy="294.7" r="0.4" fill="#f2c8a8"/>
<circle cx="473.3" cy="298.7" r="0.4" fill="#f2c8a8"/>
<circle cx="457.5" cy="311.4" r="0.45" fill="#e4a074"/>
<circle cx="485.3" cy="286.0" r="0.4" fill="#f2c8a8"/>
<circle cx="471.8" cy="308.4" r="0.4" fill="#f2c8a8"/>
<circle cx="488.1" cy="313.4" r="0.45" fill="#e4a074"/>
<circle cx="466.7" cy="301.3" r="0.6" fill="#d47c4e"/>
<circle cx="472.3" cy="319.5" r="0.4" fill="#f2c8a8"/>
<circle cx="470.7" cy="308.8" r="0.45" fill="#e4a074"/>
<circle cx="468.3" cy="316.6" r="0.45" fill="#e4a074"/>
<circle cx="472.8" cy="308.6" r="0.45" fill="#e4a074"/>
<circle cx="460.4" cy="309.3" r="0.4" fill="#f2c8a8"/>
<circle cx="475.4" cy="307.4" r="0.45" fill="#e4a074"/>
<circle cx="460.1" cy="288.0" r="0.45" fill="#e4a074"/>
<circle cx="462.4" cy="300.3" r="0.6" fill="#d47c4e"/>
<circle cx="457.8" cy="298.1" r="0.4" fill="#f2c8a8"/>
<circle cx="456.8" cy="315.6" r="0.4" fill="#f2c8a8"/>
<circle cx="474.2" cy="294.1" r="0.45" fill="#e4a074"/>
<circle cx="470.3" cy="311.1" r="0.4" fill="#f2c8a8"/>
<circle cx="458.3" cy="311.3" r="0.4" fill="#f2c8a8"/>
<circle cx="477.0" cy="294.7" r="0.45" fill="#e4a074"/>
<circle cx="454.5" cy="308.3" r="0.4" fill="#f2c8a8"/>
<circle cx="470.8" cy="320.9" r="0.45" fill="#e4a074"/>
<circle cx="469.1" cy="286.1" r="0.45" fill="#e4a074"/>
<circle cx="489.1" cy="296.2" r="0.6" fill="#d47c4e"/>
<circle cx="465.0" cy="310.3" r="0.6" fill="#d47c4e"/>
<circle cx="481.7" cy="283.9" r="0.4" fill="#f2c8a8"/>
<circle cx="454.2" cy="311.6" r="0.4" fill="#f2c8a8"/>
<circle cx="476.1" cy="308.6" r="0.4" fill="#f2c8a8"/>
<circle cx="460.4" cy="307.5" r="0.4" fill="#f2c8a8"/>
<circle cx="483.7" cy="303.8" r="0.45" fill="#e4a074"/>
<circle cx="485.4" cy="305.9" r="0.6" fill="#d47c4e"/>
<circle cx="460.0" cy="284.3" r="0.6" fill="#d47c4e"/>
<circle cx="468.6" cy="301.2" r="0.4" fill="#f2c8a8"/>
<circle cx="454.6" cy="292.2" r="0.4" fill="#f2c8a8"/>
<circle cx="484.1" cy="314.5" r="0.45" fill="#e4a074"/>
<circle cx="464.3" cy="302.6" r="0.45" fill="#e4a074"/>
<circle cx="455.9" cy="293.1" r="0.6" fill="#d47c4e"/>
<circle cx="488.7" cy="309.8" r="0.4" fill="#f2c8a8"/>
<circle cx="461.1" cy="307.3" r="0.45" fill="#e4a074"/>
<circle cx="466.5" cy="303.1" r="0.4" fill="#f2c8a8"/>
<circle cx="473.3" cy="303.2" r="0.4" fill="#f2c8a8"/>
<circle cx="461.4" cy="310.7" r="0.4" fill="#f2c8a8"/>
<circle cx="484.7" cy="316.2" r="0.45" fill="#e4a074"/>
<circle cx="487.0" cy="299.1" r="0.6" fill="#d47c4e"/>
<circle cx="467.0" cy="288.9" r="0.4" fill="#f2c8a8"/>
<circle cx="482.9" cy="316.0" r="0.45" fill="#e4a074"/>
<circle cx="469.2" cy="309.2" r="0.45" fill="#e4a074"/>
<circle cx="481.2" cy="296.6" r="0.6" fill="#d47c4e"/>
<circle cx="462.3" cy="299.0" r="0.4" fill="#f2c8a8"/>
<circle cx="466.9" cy="281.4" r="0.4" fill="#f2c8a8"/>
<circle cx="472.3" cy="309.0" r="0.4" fill="#f2c8a8"/>
<circle cx="473.8" cy="314.5" r="0.4" fill="#f2c8a8"/>
<circle cx="466.4" cy="292.3" r="0.4" fill="#f2c8a8"/>
<circle cx="464.2" cy="305.3" r="0.4" fill="#f2c8a8"/>
<circle cx="472.9" cy="301.8" r="0.45" fill="#e4a074"/>
<circle cx="485.6" cy="305.5" r="0.6" fill="#d47c4e"/>
<circle cx="463.0" cy="293.4" r="0.4" fill="#f2c8a8"/>
<circle cx="461.0" cy="306.3" r="0.4" fill="#f2c8a8"/>
<circle cx="476.1" cy="307.7" r="0.4" fill="#f2c8a8"/>
<circle cx="468.4" cy="306.9" r="0.45" fill="#e4a074"/>
<circle cx="476.4" cy="315.3" r="0.45" fill="#e4a074"/>
<circle cx="453.6" cy="301.4" r="0.45" fill="#e4a074"/>
<circle cx="462.5" cy="304.2" r="0.4" fill="#f2c8a8"/>
<circle cx="467.2" cy="289.1" r="0.4" fill="#f2c8a8"/>
<circle cx="479.4" cy="305.5" r="0.6" fill="#d47c4e"/>
<circle cx="452.7" cy="304.4" r="0.45" fill="#e4a074"/>
<circle cx="471.8" cy="311.0" r="0.6" fill="#d47c4e"/>
<circle cx="473.0" cy="317.2" r="0.6" fill="#d47c4e"/>
<circle cx="458.3" cy="304.0" r="0.6" fill="#d47c4e"/>
<circle cx="484.9" cy="285.7" r="0.45" fill="#e4a074"/>
<circle cx="472.4" cy="305.6" r="0.4" fill="#f2c8a8"/>
<circle cx="485.4" cy="293.9" r="0.6" fill="#d47c4e"/>
<circle cx="481.6" cy="298.4" r="0.6" fill="#d47c4e"/>
<circle cx="470.4" cy="309.8" r="0.4" fill="#f2c8a8"/>
<circle cx="492.0" cy="300.5" r="0.4" fill="#f2c8a8"/>
<circle cx="452.8" cy="303.2" r="0.45" fill="#e4a074"/>
<circle cx="481.8" cy="293.5" r="0.4" fill="#f2c8a8"/>
<circle cx="451.5" cy="299.4" r="0.45" fill="#e4a074"/>
<circle cx="478.2" cy="294.3" r="0.45" fill="#e4a074"/>
<circle cx="485.5" cy="293.2" r="0.45" fill="#e4a074"/>
<circle cx="476.6" cy="288.0" r="0.45" fill="#e4a074"/>
<circle cx="466.7" cy="288.0" r="0.45" fill="#e4a074"/>
<circle cx="479.0" cy="282.7" r="0.6" fill="#d47c4e"/>
<circle cx="460.1" cy="313.8" r="0.45" fill="#e4a074"/>
<circle cx="477.8" cy="292.8" r="0.4" fill="#f2c8a8"/>
<circle cx="471.0" cy="319.9" r="0.45" fill="#e4a074"/>
<circle cx="478.6" cy="301.3" r="0.4" fill="#f2c8a8"/>
<circle cx="456.2" cy="291.0" r="0.4" fill="#f2c8a8"/>
<circle cx="485.8" cy="308.7" r="0.45" fill="#e4a074"/>
<circle cx="461.8" cy="305.7" r="0.4" fill="#f2c8a8"/>
<circle cx="473.8" cy="319.9" r="0.4" fill="#f2c8a8"/>
<circle cx="468.2" cy="285.9" r="0.4" fill="#f2c8a8"/>
<circle cx="468.5" cy="317.9" r="0.6" fill="#d47c4e"/>
<circle cx="478.9" cy="297.0" r="0.4" fill="#f2c8a8"/>
<circle cx="479.1" cy="306.4" r="0.4" fill="#f2c8a8"/>
<circle cx="467.7" cy="281.4" r="0.45" fill="#e4a074"/>
<circle cx="479.6" cy="311.3" r="0.4" fill="#f2c8a8"/>
<circle cx="468.8" cy="316.7" r="0.45" fill="#e4a074"/>
<rect x="449.20" y="279.30" width="44.60" height="44.10" fill="none" stroke="#6a6a6a" stroke-width="0.9" />
<text font-size="10.8" fill="#111" font-weight="bold" stroke="#111" stroke-width="0.03" transform="translate(228.60 362.70) scale(1.02 1.1)" >I</text>
<line x1="263.90" y1="382.70" x2="263.90" y2="440.40" stroke="#222" stroke-width="0.6" />
<line x1="262.40" y1="440.40" x2="263.90" y2="440.40" stroke="#222" stroke-width="0.5" />
<text font-size="5.3" text-anchor="end" fill="#333" stroke="#333" stroke-width="0.03" transform="translate(260.80 442.80) scale(1.02 1.1)" >0</text>
<line x1="262.90" y1="432.45" x2="263.90" y2="432.45" stroke="#222" stroke-width="0.5" />
<line x1="262.40" y1="424.50" x2="263.90" y2="424.50" stroke="#222" stroke-width="0.5" />
<text font-size="5.3" text-anchor="end" fill="#333" stroke="#333" stroke-width="0.03" transform="translate(260.80 426.90) scale(1.02 1.1)" >100</text>
<line x1="262.90" y1="416.55" x2="263.90" y2="416.55" stroke="#222" stroke-width="0.5" />
<line x1="262.40" y1="408.60" x2="263.90" y2="408.60" stroke="#222" stroke-width="0.5" />
<text font-size="5.3" text-anchor="end" fill="#333" stroke="#333" stroke-width="0.03" transform="translate(260.80 411.00) scale(1.02 1.1)" >200</text>
<line x1="262.90" y1="400.65" x2="263.90" y2="400.65" stroke="#222" stroke-width="0.5" />
<line x1="262.40" y1="392.70" x2="263.90" y2="392.70" stroke="#222" stroke-width="0.5" />
<text font-size="5.3" text-anchor="end" fill="#333" stroke="#333" stroke-width="0.03" transform="translate(260.80 395.10) scale(1.02 1.1)" >300</text>
<line x1="262.90" y1="384.75" x2="263.90" y2="384.75" stroke="#222" stroke-width="0.5" />
<text font-size="5.4" text-anchor="middle" fill="#333" stroke="#333" stroke-width="0.03" transform="translate(247.60 413.30) rotate(-90) scale(1.02 1.1)" >Colonies per plate (<tspan font-style="italic">n</tspan>)</text>
<rect x="269.20" y="402.72" width="7.40" height="37.68" fill="#d8d8d8" stroke="#555" stroke-width="0.5" />
<line x1="272.90" y1="402.72" x2="272.90" y2="397.63" stroke="#222" stroke-width="0.5" />
<line x1="271.40" y1="397.63" x2="274.40" y2="397.63" stroke="#222" stroke-width="0.5" />
<rect x="278.60" y="439.13" width="7.20" height="1.27" fill="#d3222b" stroke="#555" stroke-width="0.4" />
<line x1="282.20" y1="439.13" x2="282.20" y2="438.33" stroke="#222" stroke-width="0.5" />
<line x1="280.70" y1="438.33" x2="283.70" y2="438.33" stroke="#222" stroke-width="0.5" />
<path d="M272.90,390.4 L272.90,388.6 L282.20,388.6 L282.20,390.4" stroke="#333" stroke-width="0.5" fill="none" />
<text font-size="5" text-anchor="middle" stroke="#222" stroke-width="0.03" transform="translate(277.55 387.70) scale(1.02 1.1)" >****</text>
<rect x="289.75" y="398.42" width="7.40" height="41.98" fill="#d8d8d8" stroke="#555" stroke-width="0.5" />
<line x1="293.45" y1="398.42" x2="293.45" y2="393.65" stroke="#222" stroke-width="0.5" />
<line x1="291.95" y1="393.65" x2="294.95" y2="393.65" stroke="#222" stroke-width="0.5" />
<rect x="299.15" y="438.33" width="7.20" height="2.07" fill="#d3222b" stroke="#555" stroke-width="0.4" />
<line x1="302.75" y1="438.33" x2="302.75" y2="436.74" stroke="#222" stroke-width="0.5" />
<line x1="301.25" y1="436.74" x2="304.25" y2="436.74" stroke="#222" stroke-width="0.5" />
<path d="M293.45,390.4 L293.45,388.6 L302.75,388.6 L302.75,390.4" stroke="#333" stroke-width="0.5" fill="none" />
<text font-size="5" text-anchor="middle" stroke="#222" stroke-width="0.03" transform="translate(298.10 387.70) scale(1.02 1.1)" >****</text>
<rect x="310.30" y="398.74" width="7.40" height="41.66" fill="#d8d8d8" stroke="#555" stroke-width="0.5" />
<line x1="314.00" y1="398.74" x2="314.00" y2="393.97" stroke="#222" stroke-width="0.5" />
<line x1="312.50" y1="393.97" x2="315.50" y2="393.97" stroke="#222" stroke-width="0.5" />
<rect x="319.70" y="401.44" width="7.20" height="38.95" fill="#d3222b" stroke="#555" stroke-width="0.4" />
<line x1="323.30" y1="401.44" x2="323.30" y2="398.26" stroke="#222" stroke-width="0.5" />
<line x1="321.80" y1="398.26" x2="324.80" y2="398.26" stroke="#222" stroke-width="0.5" />
<path d="M314.00,390.4 L314.00,388.6 L323.30,388.6 L323.30,390.4" stroke="#333" stroke-width="0.5" fill="none" />
<text font-size="5" text-anchor="middle" stroke="#222" stroke-width="0.03" transform="translate(318.65 387.10) scale(1.02 1.1)" >ns</text>
<rect x="330.85" y="401.60" width="7.40" height="38.80" fill="#d8d8d8" stroke="#555" stroke-width="0.5" />
<line x1="334.55" y1="401.60" x2="334.55" y2="396.83" stroke="#222" stroke-width="0.5" />
<line x1="333.05" y1="396.83" x2="336.05" y2="396.83" stroke="#222" stroke-width="0.5" />
<rect x="340.25" y="402.08" width="7.20" height="38.32" fill="#d3222b" stroke="#555" stroke-width="0.4" />
<line x1="343.85" y1="402.08" x2="343.85" y2="400.17" stroke="#222" stroke-width="0.5" />
<line x1="342.35" y1="400.17" x2="345.35" y2="400.17" stroke="#222" stroke-width="0.5" />
<path d="M334.55,390.4 L334.55,388.6 L343.85,388.6 L343.85,390.4" stroke="#333" stroke-width="0.5" fill="none" />
<text font-size="5" text-anchor="middle" stroke="#222" stroke-width="0.03" transform="translate(339.20 387.10) scale(1.02 1.1)" >ns</text>
<rect x="351.40" y="400.33" width="7.40" height="40.07" fill="#d8d8d8" stroke="#555" stroke-width="0.5" />
<line x1="355.10" y1="400.33" x2="355.10" y2="395.88" stroke="#222" stroke-width="0.5" />
<line x1="353.60" y1="395.88" x2="356.60" y2="395.88" stroke="#222" stroke-width="0.5" />
<rect x="360.80" y="399.06" width="7.20" height="41.34" fill="#d3222b" stroke="#555" stroke-width="0.4" />
<line x1="364.40" y1="399.06" x2="364.40" y2="398.11" stroke="#222" stroke-width="0.5" />
<line x1="362.90" y1="398.11" x2="365.90" y2="398.11" stroke="#222" stroke-width="0.5" />
<path d="M355.10,390.4 L355.10,388.6 L364.40,388.6 L364.40,390.4" stroke="#333" stroke-width="0.5" fill="none" />
<text font-size="5" text-anchor="middle" stroke="#222" stroke-width="0.03" transform="translate(359.75 387.10) scale(1.02 1.1)" >ns</text>
<line x1="263.90" y1="440.40" x2="371.30" y2="440.40" stroke="#222" stroke-width="0.6" />
<line x1="285.05" y1="440.40" x2="285.05" y2="441.80" stroke="#222" stroke-width="0.5" />
<line x1="305.60" y1="440.40" x2="305.60" y2="441.80" stroke="#222" stroke-width="0.5" />
<line x1="326.15" y1="440.40" x2="326.15" y2="441.80" stroke="#222" stroke-width="0.5" />
<line x1="346.70" y1="440.40" x2="346.70" y2="441.80" stroke="#222" stroke-width="0.5" />
<line x1="367.25" y1="440.40" x2="367.25" y2="441.80" stroke="#222" stroke-width="0.5" />
<text font-size="6.2" text-anchor="middle" stroke="#222" stroke-width="0.03" transform="translate(277.60 448.10) scale(1.02 1.1)" >+/+</text>
<text font-size="6.2" text-anchor="middle" stroke="#222" stroke-width="0.03" transform="translate(297.80 448.10) scale(1.02 1.1)" >+/–</text>
<text font-size="6.2" text-anchor="middle" stroke="#222" stroke-width="0.03" transform="translate(318.20 448.10) scale(1.02 1.1)" >–/–</text>
<text font-size="5.5" stroke="#222" stroke-width="0.03" transform="translate(326.70 461.00) rotate(-45) scale(1.02 1.1)" >R248Q/<tspan font-size="4.40" dy="-1.2">+</tspan></text>
<text font-size="5.5" stroke="#222" stroke-width="0.03" transform="translate(346.20 461.00) rotate(-45) scale(1.02 1.1)" >R248Q/<tspan font-size="4.40" dy="-1.2">–</tspan></text>
<rect x="281.40" y="366.60" width="41.00" height="3.00" fill="#b4b4b4" />
<rect x="322.40" y="366.60" width="21.30" height="1.50" fill="#b4b4b4" />
<line x1="281.40" y1="366.60" x2="364.40" y2="366.60" stroke="#333" stroke-width="0.5" />
<line x1="364.40" y1="366.60" x2="364.40" y2="371.80" stroke="#333" stroke-width="0.5" />
<line x1="281.40" y1="368.10" x2="343.70" y2="368.10" stroke="#333" stroke-width="0.5" />
<line x1="343.70" y1="368.10" x2="343.70" y2="371.80" stroke="#333" stroke-width="0.5" />
<line x1="281.40" y1="369.60" x2="322.40" y2="369.60" stroke="#333" stroke-width="0.5" />
<line x1="322.40" y1="369.60" x2="322.40" y2="371.80" stroke="#333" stroke-width="0.5" />
<line x1="281.40" y1="366.60" x2="281.40" y2="371.80" stroke="#333" stroke-width="0.5" />
<text font-size="5" text-anchor="middle" stroke="#222" stroke-width="0.03" transform="translate(322.40 365.90) scale(1.02 1.1)" >****</text>
<rect x="302.10" y="376.40" width="20.30" height="3.00" fill="#b4b4b4" />
<rect x="322.40" y="376.40" width="21.30" height="1.50" fill="#b4b4b4" />
<line x1="302.10" y1="376.40" x2="364.40" y2="376.40" stroke="#333" stroke-width="0.5" />
<line x1="364.40" y1="376.40" x2="364.40" y2="381.60" stroke="#333" stroke-width="0.5" />
<line x1="302.10" y1="377.90" x2="343.70" y2="377.90" stroke="#333" stroke-width="0.5" />
<line x1="343.70" y1="377.90" x2="343.70" y2="381.60" stroke="#333" stroke-width="0.5" />
<line x1="302.10" y1="379.40" x2="322.40" y2="379.40" stroke="#333" stroke-width="0.5" />
<line x1="322.40" y1="379.40" x2="322.40" y2="381.60" stroke="#333" stroke-width="0.5" />
<line x1="302.10" y1="376.40" x2="302.10" y2="381.60" stroke="#333" stroke-width="0.5" />
<text font-size="5" text-anchor="middle" stroke="#222" stroke-width="0.03" transform="translate(332.80 375.70) scale(1.02 1.1)" >****</text>
<rect x="375.40" y="363.10" width="5.00" height="5.00" fill="#d8d8d8" stroke="#444" stroke-width="0.5" />
<text font-size="6" stroke="#222" stroke-width="0.03" transform="translate(382.80 367.90) scale(1.02 1.1)" >DMSO</text>
<rect x="375.40" y="371.50" width="5.00" height="5.00" fill="#d3222b" stroke="#444" stroke-width="0.5" />
<text font-size="6" stroke="#222" stroke-width="0.03" transform="translate(382.80 376.30) scale(1.02 1.1)" >Nutlin-3a</text>
<text font-size="10.8" fill="#111" font-weight="bold" stroke="#111" stroke-width="0.03" transform="translate(-0.50 500.90) scale(1.02 1.1)" >J</text>
<line x1="26.40" y1="501.80" x2="26.40" y2="561.40" stroke="#222" stroke-width="0.6" />
<line x1="24.90" y1="561.40" x2="26.40" y2="561.40" stroke="#222" stroke-width="0.5" />
<text font-size="4.8" text-anchor="end" fill="#333" stroke="#333" stroke-width="0.03" transform="translate(24.00 563.70) scale(1.02 1.1)" >10<tspan font-size="3.3" dy="-2.2">6</tspan></text>
<line x1="24.90" y1="541.70" x2="26.40" y2="541.70" stroke="#222" stroke-width="0.5" />
<text font-size="4.8" text-anchor="end" fill="#333" stroke="#333" stroke-width="0.03" transform="translate(24.00 544.00) scale(1.02 1.1)" >10<tspan font-size="3.3" dy="-2.2">7</tspan></text>
<line x1="24.90" y1="522.00" x2="26.40" y2="522.00" stroke="#222" stroke-width="0.5" />
<text font-size="4.8" text-anchor="end" fill="#333" stroke="#333" stroke-width="0.03" transform="translate(24.00 524.30) scale(1.02 1.1)" >10<tspan font-size="3.3" dy="-2.2">8</tspan></text>
<line x1="24.90" y1="502.30" x2="26.40" y2="502.30" stroke="#222" stroke-width="0.5" />
<text font-size="4.8" text-anchor="end" fill="#333" stroke="#333" stroke-width="0.03" transform="translate(24.00 504.60) scale(1.02 1.1)" >10<tspan font-size="3.3" dy="-2.2">9</tspan></text>
<line x1="26.40" y1="561.40" x2="107.40" y2="561.40" stroke="#222" stroke-width="0.6" />
<line x1="40.80" y1="561.40" x2="40.80" y2="562.90" stroke="#222" stroke-width="0.5" />
<text font-size="5.2" text-anchor="middle" fill="#333" stroke="#333" stroke-width="0.03" transform="translate(40.80 568.80) scale(1.02 1.1)" >8</text>
<line x1="70.40" y1="561.40" x2="70.40" y2="562.90" stroke="#222" stroke-width="0.5" />
<text font-size="5.2" text-anchor="middle" fill="#333" stroke="#333" stroke-width="0.03" transform="translate(70.40 568.80) scale(1.02 1.1)" >12</text>
<line x1="100.00" y1="561.40" x2="100.00" y2="562.90" stroke="#222" stroke-width="0.5" />
<text font-size="5.2" text-anchor="middle" fill="#333" stroke="#333" stroke-width="0.03" transform="translate(100.00 568.80) scale(1.02 1.1)" >16</text>
<text font-size="5.4" text-anchor="middle" fill="#333" stroke="#333" stroke-width="0.03" transform="translate(71.00 576.10) scale(1.02 1.1)" >Days</text>
<text font-size="5.3" text-anchor="middle" fill="#333" stroke="#333" stroke-width="0.03" transform="translate(11.80 533.50) rotate(-90) scale(1.02 1.1)" >Total flux (p/second)</text>
<polyline points="33.40,555.49 70.40,524.95 100.00,507.22" fill="none" stroke="#6a2d9c" stroke-width="0.55" />
<line x1="33.40" y1="559.43" x2="33.40" y2="551.55" stroke="#6a2d9c" stroke-width="0.5" />
<line x1="32.30" y1="551.55" x2="34.50" y2="551.55" stroke="#6a2d9c" stroke-width="0.5" />
<line x1="32.30" y1="559.43" x2="34.50" y2="559.43" stroke="#6a2d9c" stroke-width="0.5" />
<rect x="32.20" y="554.29" width="2.40" height="2.40" fill="#6a2d9c" />
<line x1="70.40" y1="531.85" x2="70.40" y2="521.01" stroke="#6a2d9c" stroke-width="0.5" />
<line x1="69.30" y1="521.01" x2="71.50" y2="521.01" stroke="#6a2d9c" stroke-width="0.5" />
<line x1="69.30" y1="531.85" x2="71.50" y2="531.85" stroke="#6a2d9c" stroke-width="0.5" />
<rect x="69.20" y="523.75" width="2.40" height="2.40" fill="#6a2d9c" />
<line x1="100.00" y1="514.12" x2="100.00" y2="504.86" stroke="#6a2d9c" stroke-width="0.5" />
<line x1="98.90" y1="504.86" x2="101.10" y2="504.86" stroke="#6a2d9c" stroke-width="0.5" />
<line x1="98.90" y1="514.12" x2="101.10" y2="514.12" stroke="#6a2d9c" stroke-width="0.5" />
<rect x="98.80" y="506.02" width="2.40" height="2.40" fill="#6a2d9c" />
<polyline points="33.40,555.49 70.40,525.55 100.00,508.21" fill="none" stroke="#2e3f9e" stroke-width="0.55" />
<line x1="33.40" y1="559.43" x2="33.40" y2="551.55" stroke="#2e3f9e" stroke-width="0.5" />
<line x1="32.30" y1="551.55" x2="34.50" y2="551.55" stroke="#2e3f9e" stroke-width="0.5" />
<line x1="32.30" y1="559.43" x2="34.50" y2="559.43" stroke="#2e3f9e" stroke-width="0.5" />
<rect x="32.20" y="554.29" width="2.40" height="2.40" fill="#2e3f9e" />
<line x1="70.40" y1="532.44" x2="70.40" y2="521.61" stroke="#2e3f9e" stroke-width="0.5" />
<line x1="69.30" y1="521.61" x2="71.50" y2="521.61" stroke="#2e3f9e" stroke-width="0.5" />
<line x1="69.30" y1="532.44" x2="71.50" y2="532.44" stroke="#2e3f9e" stroke-width="0.5" />
<rect x="69.20" y="524.35" width="2.40" height="2.40" fill="#2e3f9e" />
<line x1="100.00" y1="515.11" x2="100.00" y2="505.85" stroke="#2e3f9e" stroke-width="0.5" />
<line x1="98.90" y1="505.85" x2="101.10" y2="505.85" stroke="#2e3f9e" stroke-width="0.5" />
<line x1="98.90" y1="515.11" x2="101.10" y2="515.11" stroke="#2e3f9e" stroke-width="0.5" />
<rect x="98.80" y="507.01" width="2.40" height="2.40" fill="#2e3f9e" />
<polyline points="33.40,554.90 70.40,523.97 100.00,504.27" fill="none" stroke="#d3222b" stroke-width="0.55" />
<line x1="33.40" y1="558.84" x2="33.40" y2="550.96" stroke="#d3222b" stroke-width="0.5" />
<line x1="32.30" y1="550.96" x2="34.50" y2="550.96" stroke="#d3222b" stroke-width="0.5" />
<line x1="32.30" y1="558.84" x2="34.50" y2="558.84" stroke="#d3222b" stroke-width="0.5" />
<rect x="32.20" y="553.70" width="2.40" height="2.40" fill="#d3222b" />
<line x1="70.40" y1="530.87" x2="70.40" y2="520.03" stroke="#d3222b" stroke-width="0.5" />
<line x1="69.30" y1="520.03" x2="71.50" y2="520.03" stroke="#d3222b" stroke-width="0.5" />
<line x1="69.30" y1="530.87" x2="71.50" y2="530.87" stroke="#d3222b" stroke-width="0.5" />
<rect x="69.20" y="522.77" width="2.40" height="2.40" fill="#d3222b" />
<line x1="100.00" y1="511.16" x2="100.00" y2="501.91" stroke="#d3222b" stroke-width="0.5" />
<line x1="98.90" y1="501.91" x2="101.10" y2="501.91" stroke="#d3222b" stroke-width="0.5" />
<line x1="98.90" y1="511.16" x2="101.10" y2="511.16" stroke="#d3222b" stroke-width="0.5" />
<rect x="98.80" y="503.07" width="2.40" height="2.40" fill="#d3222b" />
<polyline points="33.40,555.49 70.40,524.95 100.00,507.22" fill="none" stroke="#111111" stroke-width="0.8" stroke-dasharray="1.0,1.2" stroke-dashoffset="0"/>
<line x1="33.40" y1="559.43" x2="33.40" y2="551.55" stroke="#111111" stroke-width="0.5" />
<line x1="32.30" y1="551.55" x2="34.50" y2="551.55" stroke="#111111" stroke-width="0.5" />
<line x1="32.30" y1="559.43" x2="34.50" y2="559.43" stroke="#111111" stroke-width="0.5" />
<rect x="32.30" y="554.39" width="2.20" height="2.20" fill="#fff" stroke="#111111" stroke-width="0.55" />
<line x1="70.40" y1="531.85" x2="70.40" y2="521.01" stroke="#111111" stroke-width="0.5" />
<line x1="69.30" y1="521.01" x2="71.50" y2="521.01" stroke="#111111" stroke-width="0.5" />
<line x1="69.30" y1="531.85" x2="71.50" y2="531.85" stroke="#111111" stroke-width="0.5" />
<rect x="69.30" y="523.85" width="2.20" height="2.20" fill="#fff" stroke="#111111" stroke-width="0.55" />
<line x1="100.00" y1="514.12" x2="100.00" y2="504.86" stroke="#111111" stroke-width="0.5" />
<line x1="98.90" y1="504.86" x2="101.10" y2="504.86" stroke="#111111" stroke-width="0.5" />
<line x1="98.90" y1="514.12" x2="101.10" y2="514.12" stroke="#111111" stroke-width="0.5" />
<rect x="98.90" y="506.12" width="2.20" height="2.20" fill="#fff" stroke="#111111" stroke-width="0.55" />
<polyline points="33.40,555.88 70.40,525.94 100.00,508.21" fill="none" stroke="#8a8a8a" stroke-width="0.8" stroke-dasharray="1.0,1.2" stroke-dashoffset="0.4"/>
<line x1="33.40" y1="559.82" x2="33.40" y2="551.94" stroke="#8a8a8a" stroke-width="0.5" />
<line x1="32.30" y1="551.94" x2="34.50" y2="551.94" stroke="#8a8a8a" stroke-width="0.5" />
<line x1="32.30" y1="559.82" x2="34.50" y2="559.82" stroke="#8a8a8a" stroke-width="0.5" />
<rect x="32.30" y="554.78" width="2.20" height="2.20" fill="#fff" stroke="#8a8a8a" stroke-width="0.55" />
<line x1="70.40" y1="532.83" x2="70.40" y2="522.00" stroke="#8a8a8a" stroke-width="0.5" />
<line x1="69.30" y1="522.00" x2="71.50" y2="522.00" stroke="#8a8a8a" stroke-width="0.5" />
<line x1="69.30" y1="532.83" x2="71.50" y2="532.83" stroke="#8a8a8a" stroke-width="0.5" />
<rect x="69.30" y="524.84" width="2.20" height="2.20" fill="#fff" stroke="#8a8a8a" stroke-width="0.55" />
<line x1="100.00" y1="515.11" x2="100.00" y2="505.85" stroke="#8a8a8a" stroke-width="0.5" />
<line x1="98.90" y1="505.85" x2="101.10" y2="505.85" stroke="#8a8a8a" stroke-width="0.5" />
<line x1="98.90" y1="515.11" x2="101.10" y2="515.11" stroke="#8a8a8a" stroke-width="0.5" />
<rect x="98.90" y="507.11" width="2.20" height="2.20" fill="#fff" stroke="#8a8a8a" stroke-width="0.55" />
<polyline points="33.40,555.10 70.40,523.97 100.00,506.24" fill="none" stroke="#6a2d9c" stroke-width="0.8" stroke-dasharray="1.0,1.2" stroke-dashoffset="0.8"/>
<line x1="33.40" y1="559.04" x2="33.40" y2="551.16" stroke="#6a2d9c" stroke-width="0.5" />
<line x1="32.30" y1="551.16" x2="34.50" y2="551.16" stroke="#6a2d9c" stroke-width="0.5" />
<line x1="32.30" y1="559.04" x2="34.50" y2="559.04" stroke="#6a2d9c" stroke-width="0.5" />
<rect x="32.30" y="554.00" width="2.20" height="2.20" fill="#fff" stroke="#6a2d9c" stroke-width="0.55" />
<line x1="70.40" y1="530.87" x2="70.40" y2="520.03" stroke="#6a2d9c" stroke-width="0.5" />
<line x1="69.30" y1="520.03" x2="71.50" y2="520.03" stroke="#6a2d9c" stroke-width="0.5" />
<line x1="69.30" y1="530.87" x2="71.50" y2="530.87" stroke="#6a2d9c" stroke-width="0.5" />
<rect x="69.30" y="522.87" width="2.20" height="2.20" fill="#fff" stroke="#6a2d9c" stroke-width="0.55" />
<line x1="100.00" y1="513.13" x2="100.00" y2="503.88" stroke="#6a2d9c" stroke-width="0.5" />
<line x1="98.90" y1="503.88" x2="101.10" y2="503.88" stroke="#6a2d9c" stroke-width="0.5" />
<line x1="98.90" y1="513.13" x2="101.10" y2="513.13" stroke="#6a2d9c" stroke-width="0.5" />
<rect x="98.90" y="505.14" width="2.20" height="2.20" fill="#fff" stroke="#6a2d9c" stroke-width="0.55" />
<polyline points="33.40,555.88 70.40,525.94 100.00,508.60" fill="none" stroke="#2e3f9e" stroke-width="0.8" stroke-dasharray="1.0,1.2" stroke-dashoffset="1.2"/>
<line x1="33.40" y1="559.82" x2="33.40" y2="551.94" stroke="#2e3f9e" stroke-width="0.5" />
<line x1="32.30" y1="551.94" x2="34.50" y2="551.94" stroke="#2e3f9e" stroke-width="0.5" />
<line x1="32.30" y1="559.82" x2="34.50" y2="559.82" stroke="#2e3f9e" stroke-width="0.5" />
<rect x="32.30" y="554.78" width="2.20" height="2.20" fill="#fff" stroke="#2e3f9e" stroke-width="0.55" />
<line x1="70.40" y1="532.83" x2="70.40" y2="522.00" stroke="#2e3f9e" stroke-width="0.5" />
<line x1="69.30" y1="522.00" x2="71.50" y2="522.00" stroke="#2e3f9e" stroke-width="0.5" />
<line x1="69.30" y1="532.83" x2="71.50" y2="532.83" stroke="#2e3f9e" stroke-width="0.5" />
<rect x="69.30" y="524.84" width="2.20" height="2.20" fill="#fff" stroke="#2e3f9e" stroke-width="0.55" />
<line x1="100.00" y1="515.50" x2="100.00" y2="506.24" stroke="#2e3f9e" stroke-width="0.5" />
<line x1="98.90" y1="506.24" x2="101.10" y2="506.24" stroke="#2e3f9e" stroke-width="0.5" />
<line x1="98.90" y1="515.50" x2="101.10" y2="515.50" stroke="#2e3f9e" stroke-width="0.5" />
<rect x="98.90" y="507.50" width="2.20" height="2.20" fill="#fff" stroke="#2e3f9e" stroke-width="0.55" />
<polyline points="33.40,554.50 70.40,523.58 100.00,503.28" fill="none" stroke="#d3222b" stroke-width="0.8" stroke-dasharray="1.0,1.2" stroke-dashoffset="1.6"/>
<line x1="33.40" y1="558.44" x2="33.40" y2="550.56" stroke="#d3222b" stroke-width="0.5" />
<line x1="32.30" y1="550.56" x2="34.50" y2="550.56" stroke="#d3222b" stroke-width="0.5" />
<line x1="32.30" y1="558.44" x2="34.50" y2="558.44" stroke="#d3222b" stroke-width="0.5" />
<rect x="32.30" y="553.40" width="2.20" height="2.20" fill="#fff" stroke="#d3222b" stroke-width="0.55" />
<line x1="70.40" y1="530.47" x2="70.40" y2="519.64" stroke="#d3222b" stroke-width="0.5" />
<line x1="69.30" y1="519.64" x2="71.50" y2="519.64" stroke="#d3222b" stroke-width="0.5" />
<line x1="69.30" y1="530.47" x2="71.50" y2="530.47" stroke="#d3222b" stroke-width="0.5" />
<rect x="69.30" y="522.48" width="2.20" height="2.20" fill="#fff" stroke="#d3222b" stroke-width="0.55" />
<line x1="100.00" y1="510.18" x2="100.00" y2="500.92" stroke="#d3222b" stroke-width="0.5" />
<line x1="98.90" y1="500.92" x2="101.10" y2="500.92" stroke="#d3222b" stroke-width="0.5" />
<line x1="98.90" y1="510.18" x2="101.10" y2="510.18" stroke="#d3222b" stroke-width="0.5" />
<rect x="98.90" y="502.18" width="2.20" height="2.20" fill="#fff" stroke="#d3222b" stroke-width="0.55" />
<polyline points="33.40,555.88 70.40,555.49 100.00,556.08" fill="none" stroke="#8a8a8a" stroke-width="0.8" />
<line x1="33.40" y1="559.82" x2="33.40" y2="551.94" stroke="#8a8a8a" stroke-width="0.5" />
<line x1="32.30" y1="551.94" x2="34.50" y2="551.94" stroke="#8a8a8a" stroke-width="0.5" />
<line x1="32.30" y1="559.82" x2="34.50" y2="559.82" stroke="#8a8a8a" stroke-width="0.5" />
<rect x="32.20" y="554.68" width="2.40" height="2.40" fill="#8a8a8a" />
<line x1="70.40" y1="559.43" x2="70.40" y2="550.56" stroke="#8a8a8a" stroke-width="0.5" />
<line x1="69.30" y1="550.56" x2="71.50" y2="550.56" stroke="#8a8a8a" stroke-width="0.5" />
<line x1="69.30" y1="559.43" x2="71.50" y2="559.43" stroke="#8a8a8a" stroke-width="0.5" />
<rect x="69.20" y="554.29" width="2.40" height="2.40" fill="#8a8a8a" />
<line x1="100.00" y1="560.02" x2="100.00" y2="551.16" stroke="#8a8a8a" stroke-width="0.5" />
<line x1="98.90" y1="551.16" x2="101.10" y2="551.16" stroke="#8a8a8a" stroke-width="0.5" />
<line x1="98.90" y1="560.02" x2="101.10" y2="560.02" stroke="#8a8a8a" stroke-width="0.5" />
<rect x="98.80" y="554.88" width="2.40" height="2.40" fill="#8a8a8a" />
<polyline points="33.40,555.49 70.40,553.52 100.00,557.46" fill="none" stroke="#111111" stroke-width="0.8" />
<line x1="33.40" y1="559.43" x2="33.40" y2="551.55" stroke="#111111" stroke-width="0.5" />
<line x1="32.30" y1="551.55" x2="34.50" y2="551.55" stroke="#111111" stroke-width="0.5" />
<line x1="32.30" y1="559.43" x2="34.50" y2="559.43" stroke="#111111" stroke-width="0.5" />
<rect x="32.20" y="554.29" width="2.40" height="2.40" fill="#111111" />
<line x1="70.40" y1="557.46" x2="70.40" y2="548.60" stroke="#111111" stroke-width="0.5" />
<line x1="69.30" y1="548.60" x2="71.50" y2="548.60" stroke="#111111" stroke-width="0.5" />
<line x1="69.30" y1="557.46" x2="71.50" y2="557.46" stroke="#111111" stroke-width="0.5" />
<rect x="69.20" y="552.32" width="2.40" height="2.40" fill="#111111" />
<line x1="100.00" y1="561.40" x2="100.00" y2="552.53" stroke="#111111" stroke-width="0.5" />
<line x1="98.90" y1="552.53" x2="101.10" y2="552.53" stroke="#111111" stroke-width="0.5" />
<line x1="98.90" y1="561.40" x2="101.10" y2="561.40" stroke="#111111" stroke-width="0.5" />
<rect x="98.80" y="556.26" width="2.40" height="2.40" fill="#111111" />
<text font-size="5.5" text-anchor="middle" stroke="#222" stroke-width="0.03" transform="translate(100.70 497.70) scale(1.02 1.1)" >***</text>
<line x1="124.20" y1="505.80" x2="132.50" y2="505.80" stroke="#111111" stroke-width="0.7" stroke-dasharray="0.7,0.7"/>
<rect x="126.80" y="504.30" width="3.10" height="3.00" fill="#fff" stroke="#111111" stroke-width="0.7" />
<text font-size="6.3" stroke="#222" stroke-width="0.03" transform="translate(135.10 508.40) scale(1.02 1.1)" ><tspan font-size="6.9">+/+</tspan> <tspan fill="#aaaaaa">Veh</tspan></text>
<line x1="124.20" y1="516.00" x2="132.50" y2="516.00" stroke="#111111" stroke-width="0.7" />
<rect x="126.60" y="514.30" width="3.50" height="3.40" fill="#111111" />
<text font-size="6.3" stroke="#222" stroke-width="0.03" transform="translate(135.10 518.60) scale(1.02 1.1)" ><tspan font-size="6.9">+/+</tspan> <tspan fill="#222">Ida</tspan></text>
<line x1="124.20" y1="526.20" x2="132.50" y2="526.20" stroke="#8a8a8a" stroke-width="0.7" stroke-dasharray="0.7,0.7"/>
<rect x="126.80" y="524.70" width="3.10" height="3.00" fill="#fff" stroke="#8a8a8a" stroke-width="0.7" />
<text font-size="6.3" stroke="#222" stroke-width="0.03" transform="translate(135.10 528.80) scale(1.02 1.1)" ><tspan font-size="6.9">+/–</tspan> <tspan fill="#aaaaaa">Veh</tspan></text>
<line x1="124.20" y1="536.40" x2="132.50" y2="536.40" stroke="#777777" stroke-width="0.7" />
<rect x="126.60" y="534.70" width="3.50" height="3.40" fill="#777777" />
<text font-size="6.3" stroke="#222" stroke-width="0.03" transform="translate(135.10 539.00) scale(1.02 1.1)" ><tspan font-size="6.9">+/–</tspan> <tspan fill="#222">Ida</tspan></text>
<line x1="124.20" y1="546.60" x2="132.50" y2="546.60" stroke="#6a2d9c" stroke-width="0.7" stroke-dasharray="0.7,0.7"/>
<rect x="126.80" y="545.10" width="3.10" height="3.00" fill="#fff" stroke="#6a2d9c" stroke-width="0.7" />
<text font-size="6.3" stroke="#222" stroke-width="0.03" transform="translate(135.10 549.20) scale(1.02 1.1)" ><tspan font-size="6.9">–/–</tspan> <tspan fill="#aaaaaa">Veh</tspan></text>
<line x1="124.20" y1="556.80" x2="132.50" y2="556.80" stroke="#6a2d9c" stroke-width="0.7" />
<rect x="126.60" y="555.10" width="3.50" height="3.40" fill="#6a2d9c" />
<text font-size="6.3" stroke="#222" stroke-width="0.03" transform="translate(135.10 559.40) scale(1.02 1.1)" ><tspan font-size="6.9">–/–</tspan> <tspan fill="#222">Ida</tspan></text>
<line x1="166.70" y1="505.80" x2="175.00" y2="505.80" stroke="#2e3f9e" stroke-width="0.7" stroke-dasharray="0.7,0.7"/>
<rect x="169.30" y="504.30" width="3.10" height="3.00" fill="#fff" stroke="#2e3f9e" stroke-width="0.7" />
<text font-size="6.3" stroke="#222" stroke-width="0.03" transform="translate(177.60 508.40) scale(1.02 1.1)" >R248Q/+ <tspan fill="#aaaaaa">Veh</tspan></text>
<line x1="166.70" y1="516.00" x2="175.00" y2="516.00" stroke="#2e3f9e" stroke-width="0.7" />
<rect x="169.10" y="514.30" width="3.50" height="3.40" fill="#2e3f9e" />
<text font-size="6.3" stroke="#222" stroke-width="0.03" transform="translate(177.60 518.60) scale(1.02 1.1)" >R248Q/+ <tspan fill="#222">Ida</tspan></text>
<line x1="166.70" y1="526.20" x2="175.00" y2="526.20" stroke="#d3222b" stroke-width="0.7" stroke-dasharray="0.7,0.7"/>
<rect x="169.30" y="524.70" width="3.10" height="3.00" fill="#fff" stroke="#d3222b" stroke-width="0.7" />
<text font-size="6.3" stroke="#222" stroke-width="0.03" transform="translate(177.60 528.80) scale(1.02 1.1)" >R248Q/– <tspan fill="#aaaaaa">Veh</tspan></text>
<line x1="166.70" y1="536.40" x2="175.00" y2="536.40" stroke="#d3222b" stroke-width="0.7" />
<rect x="169.10" y="534.70" width="3.50" height="3.40" fill="#d3222b" />
<text font-size="6.3" stroke="#222" stroke-width="0.03" transform="translate(177.60 539.00) scale(1.02 1.1)" >R248Q/– <tspan fill="#222">Ida</tspan></text>
<text font-size="10.8" fill="#111" font-weight="bold" stroke="#111" stroke-width="0.03" transform="translate(229.40 500.30) scale(1.02 1.1)" >K</text>
<rect x="269.79" y="507.40" width="11.15" height="54.40" fill="#8fca9c" />
<text font-size="5.2" text-anchor="middle" fill="#333" font-weight="bold" stroke="#333" stroke-width="0.03" transform="translate(275.37 515.10) scale(1.02 1.1)" >Ida</text>
<text font-size="5.2" text-anchor="middle" fill="#333" font-weight="bold" stroke="#333" stroke-width="0.03" transform="translate(275.37 523.50) scale(1.02 1.1)" >7 days</text>
<line x1="257.40" y1="502.70" x2="257.40" y2="561.80" stroke="#222" stroke-width="0.6" />
<line x1="255.90" y1="561.80" x2="257.40" y2="561.80" stroke="#222" stroke-width="0.5" />
<text font-size="5.2" text-anchor="end" fill="#333" stroke="#333" stroke-width="0.03" transform="translate(254.80 564.20) scale(1.02 1.1)" >0</text>
<line x1="255.90" y1="550.92" x2="257.40" y2="550.92" stroke="#222" stroke-width="0.5" />
<text font-size="5.2" text-anchor="end" fill="#333" stroke="#333" stroke-width="0.03" transform="translate(254.80 553.32) scale(1.02 1.1)" >20</text>
<line x1="255.90" y1="540.04" x2="257.40" y2="540.04" stroke="#222" stroke-width="0.5" />
<text font-size="5.2" text-anchor="end" fill="#333" stroke="#333" stroke-width="0.03" transform="translate(254.80 542.44) scale(1.02 1.1)" >40</text>
<line x1="255.90" y1="529.16" x2="257.40" y2="529.16" stroke="#222" stroke-width="0.5" />
<text font-size="5.2" text-anchor="end" fill="#333" stroke="#333" stroke-width="0.03" transform="translate(254.80 531.56) scale(1.02 1.1)" >60</text>
<line x1="255.90" y1="518.28" x2="257.40" y2="518.28" stroke="#222" stroke-width="0.5" />
<text font-size="5.2" text-anchor="end" fill="#333" stroke="#333" stroke-width="0.03" transform="translate(254.80 520.68) scale(1.02 1.1)" >80</text>
<line x1="255.90" y1="507.40" x2="257.40" y2="507.40" stroke="#222" stroke-width="0.5" />
<text font-size="5.2" text-anchor="end" fill="#333" stroke="#333" stroke-width="0.03" transform="translate(254.80 509.80) scale(1.02 1.1)" >100</text>
<line x1="257.40" y1="561.80" x2="346.90" y2="561.80" stroke="#222" stroke-width="0.6" />
<line x1="257.40" y1="561.80" x2="257.40" y2="563.30" stroke="#222" stroke-width="0.5" />
<text font-size="5.2" text-anchor="middle" fill="#333" stroke="#333" stroke-width="0.03" transform="translate(257.40 569.30) scale(1.02 1.1)" >0</text>
<line x1="266.25" y1="561.80" x2="266.25" y2="563.30" stroke="#222" stroke-width="0.5" />
<text font-size="5.2" text-anchor="middle" fill="#333" stroke="#333" stroke-width="0.03" transform="translate(266.25 569.30) scale(1.02 1.1)" >5</text>
<line x1="275.10" y1="561.80" x2="275.10" y2="563.30" stroke="#222" stroke-width="0.5" />
<text font-size="5.2" text-anchor="middle" fill="#333" stroke="#333" stroke-width="0.03" transform="translate(275.10 569.30) scale(1.02 1.1)" >10</text>
<line x1="283.95" y1="561.80" x2="283.95" y2="563.30" stroke="#222" stroke-width="0.5" />
<text font-size="5.2" text-anchor="middle" fill="#333" stroke="#333" stroke-width="0.03" transform="translate(283.95 569.30) scale(1.02 1.1)" >15</text>
<line x1="292.80" y1="561.80" x2="292.80" y2="563.30" stroke="#222" stroke-width="0.5" />
<text font-size="5.2" text-anchor="middle" fill="#333" stroke="#333" stroke-width="0.03" transform="translate(292.80 569.30) scale(1.02 1.1)" >20</text>
<line x1="301.65" y1="561.80" x2="301.65" y2="563.30" stroke="#222" stroke-width="0.5" />
<text font-size="5.2" text-anchor="middle" fill="#333" stroke="#333" stroke-width="0.03" transform="translate(301.65 569.30) scale(1.02 1.1)" >25</text>
<line x1="310.50" y1="561.80" x2="310.50" y2="563.30" stroke="#222" stroke-width="0.5" />
<text font-size="5.2" text-anchor="middle" fill="#333" stroke="#333" stroke-width="0.03" transform="translate(310.50 569.30) scale(1.02 1.1)" >30</text>
<line x1="319.35" y1="561.80" x2="319.35" y2="563.30" stroke="#222" stroke-width="0.5" />
<text font-size="5.2" text-anchor="middle" fill="#333" stroke="#333" stroke-width="0.03" transform="translate(319.35 569.30) scale(1.02 1.1)" >35</text>
<line x1="328.20" y1="561.80" x2="328.20" y2="563.30" stroke="#222" stroke-width="0.5" />
<text font-size="5.2" text-anchor="middle" fill="#333" stroke="#333" stroke-width="0.03" transform="translate(328.20 569.30) scale(1.02 1.1)" >40</text>
<line x1="337.05" y1="561.80" x2="337.05" y2="563.30" stroke="#222" stroke-width="0.5" />
<text font-size="5.2" text-anchor="middle" fill="#333" stroke="#333" stroke-width="0.03" transform="translate(337.05 569.30) scale(1.02 1.1)" >45</text>
<line x1="345.90" y1="561.80" x2="345.90" y2="563.30" stroke="#222" stroke-width="0.5" />
<text font-size="5.2" text-anchor="middle" fill="#333" stroke="#333" stroke-width="0.03" transform="translate(345.90 569.30) scale(1.02 1.1)" >50</text>
<text font-size="5.4" text-anchor="middle" fill="#333" stroke="#333" stroke-width="0.03" transform="translate(302.30 576.00) scale(1.02 1.1)" >Days</text>
<text font-size="5.4" text-anchor="middle" fill="#333" stroke="#333" stroke-width="0.03" transform="translate(241.60 535.80) rotate(-90) scale(1.02 1.1)" >Survival (%)</text>
<line x1="257.40" y1="507.40" x2="294.57" y2="507.40" stroke="#333" stroke-width="0.75" stroke-dasharray="1.1,0.7"/>
<path d="M294.57,507.40 L321.47,507.40 L321.47,515.02 L323.24,515.02 L323.24,523.18 L345.90,523.18" stroke="#a0a0a0" stroke-width="0.85" fill="none" />
<path d="M294.57,507.40 L318.46,507.40 L318.46,515.02 L325.54,515.02 L325.54,523.18 L328.55,523.18 L328.55,530.79 L345.90,530.79" stroke="#222" stroke-width="0.85" fill="none" />
<path d="M291.03,507.40 L292.80,507.40 L292.80,515.02 L293.15,515.02 L293.15,523.18 L293.51,523.18 L293.51,530.79 L295.45,530.79 L295.45,546.02 L295.63,546.02 L295.63,561.80" stroke="#222" stroke-width="0.6" fill="none" stroke-dasharray="0.7,0.9"/>
<path d="M291.03,507.40 L294.57,507.40 L294.57,523.18 L295.45,523.18 L295.45,538.41 L296.34,538.41 L296.34,561.80" stroke="#aaa" stroke-width="0.6" fill="none" stroke-dasharray="0.7,0.9"/>
<path d="M291.03,507.40 L293.86,507.40 L293.86,515.02 L294.57,515.02 L294.57,530.79 L296.34,530.79 L296.34,561.80" stroke="#8a5cc0" stroke-width="0.6" fill="none" stroke-dasharray="0.7,0.9"/>
<path d="M291.03,507.40 L294.22,507.40 L294.22,523.18 L294.92,523.18 L294.92,538.41 L296.69,538.41 L296.69,561.80" stroke="#5566c8" stroke-width="0.6" fill="none" stroke-dasharray="0.7,0.9"/>
<path d="M291.03,507.40 L294.92,507.40 L294.92,530.79 L296.69,530.79 L296.69,561.80" stroke="#f09090" stroke-width="0.6" fill="none" stroke-dasharray="0.7,0.9"/>
<path d="M291.03,507.40 L294.92,507.40 L294.92,515.02 L296.69,515.02 L296.69,530.79 L298.11,530.79 L298.11,546.02 L299.17,546.02 L299.17,561.80" stroke="#a58ad8" stroke-width="0.65" fill="none" />
<path d="M291.03,507.40 L295.99,507.40 L295.99,515.02 L297.40,515.02 L297.40,538.41 L298.46,538.41 L298.46,554.18 L299.53,554.18 L299.53,561.80" stroke="#7c88d8" stroke-width="0.65" fill="none" />
<path d="M291.03,507.40 L297.05,507.40 L297.05,530.79 L298.82,530.79 L298.82,546.02 L300.59,546.02 L300.59,561.80" stroke="#ee7c7c" stroke-width="0.75" fill="none" />
<text font-size="5.5" text-anchor="middle" stroke="#222" stroke-width="0.03" transform="translate(337.80 515.50) scale(1.02 1.1)" >****</text>
<line x1="362.00" y1="507.70" x2="371.20" y2="507.70" stroke="#111" stroke-width="0.8" stroke-dasharray="0.9,1.1"/>
<text font-size="6.3" stroke="#222" stroke-width="0.03" transform="translate(374.20 510.10) scale(1.02 1.1)" ><tspan font-size="6.9">+/+</tspan> <tspan fill="#aaaaaa">Veh</tspan></text>
<line x1="362.00" y1="518.10" x2="371.20" y2="518.10" stroke="#111" stroke-width="1.1" />
<text font-size="6.3" stroke="#222" stroke-width="0.03" transform="translate(374.20 520.50) scale(1.02 1.1)" ><tspan font-size="6.9">+/+</tspan> <tspan fill="#222">Ida</tspan></text>
<line x1="362.00" y1="528.10" x2="371.20" y2="528.10" stroke="#999" stroke-width="0.8" stroke-dasharray="0.9,1.1"/>
<text font-size="6.3" stroke="#222" stroke-width="0.03" transform="translate(374.20 530.50) scale(1.02 1.1)" ><tspan font-size="6.9">+/–</tspan> <tspan fill="#aaaaaa">Veh</tspan></text>
<line x1="362.00" y1="538.30" x2="371.20" y2="538.30" stroke="#777" stroke-width="1.1" />
<text font-size="6.3" stroke="#222" stroke-width="0.03" transform="translate(374.20 540.70) scale(1.02 1.1)" ><tspan font-size="6.9">+/–</tspan> <tspan fill="#222">Ida</tspan></text>
<line x1="362.00" y1="548.50" x2="371.20" y2="548.50" stroke="#7a3cb0" stroke-width="0.8" stroke-dasharray="0.9,1.1"/>
<text font-size="6.3" stroke="#222" stroke-width="0.03" transform="translate(374.20 550.90) scale(1.02 1.1)" ><tspan font-size="6.9">–/–</tspan> <tspan fill="#aaaaaa">Veh</tspan></text>
<line x1="362.00" y1="558.50" x2="371.20" y2="558.50" stroke="#7a3cb0" stroke-width="1.1" />
<text font-size="6.3" stroke="#222" stroke-width="0.03" transform="translate(374.20 560.90) scale(1.02 1.1)" ><tspan font-size="6.9">–/–</tspan> <tspan fill="#222">Ida</tspan></text>
<line x1="411.80" y1="507.70" x2="421.00" y2="507.70" stroke="#3e4fb0" stroke-width="0.8" stroke-dasharray="0.9,1.1"/>
<text font-size="6.3" stroke="#222" stroke-width="0.03" transform="translate(424.00 510.10) scale(1.02 1.1)" >R248Q/+ <tspan fill="#aaaaaa">Veh</tspan></text>
<line x1="411.80" y1="518.10" x2="421.00" y2="518.10" stroke="#3e4fb0" stroke-width="1.1" />
<text font-size="6.3" stroke="#222" stroke-width="0.03" transform="translate(424.00 520.50) scale(1.02 1.1)" >R248Q/+ <tspan fill="#222">Ida</tspan></text>
<line x1="411.80" y1="528.10" x2="421.00" y2="528.10" stroke="#e04040" stroke-width="0.8" stroke-dasharray="0.9,1.1"/>
<text font-size="6.3" stroke="#222" stroke-width="0.03" transform="translate(424.00 530.50) scale(1.02 1.1)" >R248Q/– <tspan fill="#aaaaaa">Veh</tspan></text>
<line x1="411.80" y1="538.30" x2="421.00" y2="538.30" stroke="#d3222b" stroke-width="1.1" />
<text font-size="6.3" stroke="#222" stroke-width="0.03" transform="translate(424.00 540.70) scale(1.02 1.1)" >R248Q/– <tspan fill="#222">Ida</tspan></text>
</g>
</svg>
</body></html>
